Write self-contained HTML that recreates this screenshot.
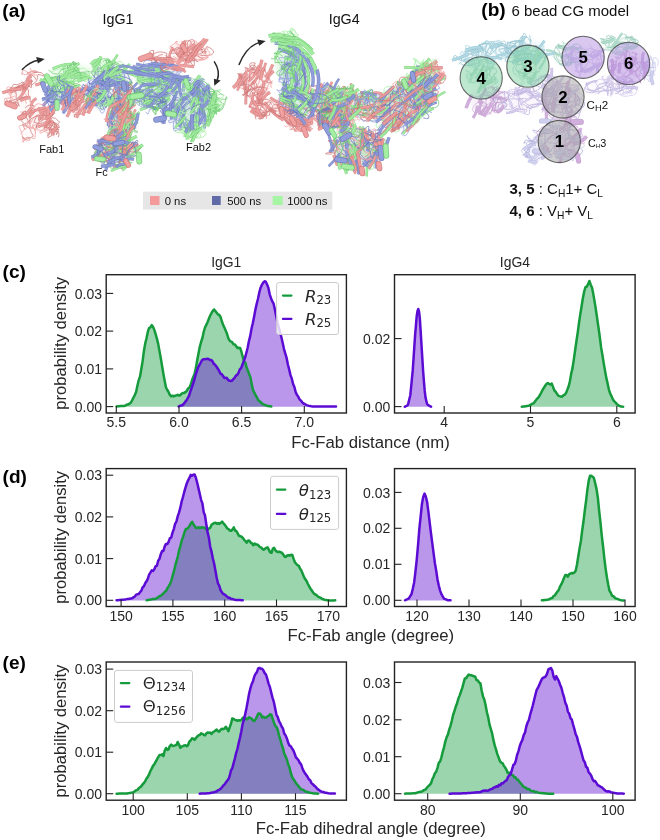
<!DOCTYPE html>
<html><head><meta charset="utf-8"><title>Figure</title>
<style>html,body{margin:0;padding:0;background:#fff}svg{display:block}text{font-family:"Liberation Sans",sans-serif}text.dj{font-family:"DejaVu Sans",sans-serif}</style>
</head><body>
<svg width="660" height="840" viewBox="0 0 660 840">
<rect width="660" height="840" fill="#fff"/>
<defs><filter id="bl" x="-20%" y="-20%" width="140%" height="140%"><feGaussianBlur stdDeviation="2.2"/></filter></defs>
<g id="under" filter="url(#bl)"><ellipse cx="19" cy="95" rx="12.8" ry="10.2" fill="#f2a2a2" fill-opacity="0.12" transform="rotate(-30 19 95)"/>
<ellipse cx="36" cy="116" rx="15.3" ry="11" fill="#f2a2a2" fill-opacity="0.15" transform="rotate(30 36 116)"/>
<ellipse cx="32" cy="80" rx="7.6" ry="8.5" fill="#f2a2a2" fill-opacity="0.05" transform="rotate(0 32 80)"/>
<ellipse cx="51" cy="128" rx="6.8" ry="6.8" fill="#f2a2a2" fill-opacity="0.15" transform="rotate(0 51 128)"/>
<ellipse cx="28" cy="133" rx="8.5" ry="5.1" fill="#f2a2a2" fill-opacity="0.05" transform="rotate(0 28 133)"/>
<ellipse cx="80" cy="100" rx="13.6" ry="12.8" fill="#f2a2a2" fill-opacity="0.22" transform="rotate(0 80 100)"/>
<ellipse cx="58" cy="96" rx="11.9" ry="13.6" fill="#93a0de" fill-opacity="0.22" transform="rotate(0 58 96)"/>
<ellipse cx="70" cy="74" rx="21.2" ry="9.3" fill="#a8f0a6" fill-opacity="0.22" transform="rotate(-10 70 74)"/>
<ellipse cx="64" cy="90" rx="11.9" ry="8.5" fill="#a8f0a6" fill-opacity="0.22" transform="rotate(0 64 90)"/>
<ellipse cx="108" cy="70" rx="18.7" ry="9.3" fill="#a8f0a6" fill-opacity="0.22" transform="rotate(0 108 70)"/>
<ellipse cx="112" cy="77" rx="17" ry="8.5" fill="#93a0de" fill-opacity="0.22" transform="rotate(0 112 77)"/>
<ellipse cx="96" cy="88" rx="11.9" ry="8.5" fill="#93a0de" fill-opacity="0.22" transform="rotate(0 96 88)"/>
<ellipse cx="100" cy="98" rx="10.2" ry="8.5" fill="#a8f0a6" fill-opacity="0.22" transform="rotate(0 100 98)"/>
<ellipse cx="100" cy="100" rx="10.2" ry="8.5" fill="#93a0de" fill-opacity="0.22" transform="rotate(0 100 100)"/>
<ellipse cx="122" cy="100" rx="11" ry="13.6" fill="#f2a2a2" fill-opacity="0.22" transform="rotate(0 122 100)"/>
<ellipse cx="124" cy="98" rx="11" ry="13.6" fill="#93a0de" fill-opacity="0.22" transform="rotate(0 124 98)"/>
<ellipse cx="124" cy="96" rx="11" ry="13.6" fill="#a8f0a6" fill-opacity="0.22" transform="rotate(0 124 96)"/>
<ellipse cx="120" cy="122" rx="12.8" ry="15.3" fill="#f2a2a2" fill-opacity="0.22" transform="rotate(0 120 122)"/>
<ellipse cx="122" cy="122" rx="12.8" ry="15.3" fill="#93a0de" fill-opacity="0.22" transform="rotate(0 122 122)"/>
<ellipse cx="121" cy="122" rx="12.8" ry="15.3" fill="#a8f0a6" fill-opacity="0.22" transform="rotate(0 121 122)"/>
<ellipse cx="116" cy="150" rx="18.7" ry="14.4" fill="#f2a2a2" fill-opacity="0.22" transform="rotate(0 116 150)"/>
<ellipse cx="116" cy="150" rx="18.7" ry="14.4" fill="#93a0de" fill-opacity="0.22" transform="rotate(0 116 150)"/>
<ellipse cx="117" cy="151" rx="19.6" ry="15.3" fill="#a8f0a6" fill-opacity="0.22" transform="rotate(0 117 151)"/>
<ellipse cx="190" cy="51" rx="17.8" ry="9.3" fill="#f2a2a2" fill-opacity="0.25" transform="rotate(10 190 51)"/>
<ellipse cx="168" cy="62" rx="17" ry="5.1" fill="#f2a2a2" fill-opacity="0.22" transform="rotate(15 168 62)"/>
<ellipse cx="158" cy="73" rx="23.8" ry="7.6" fill="#93a0de" fill-opacity="0.22" transform="rotate(8 158 73)"/>
<ellipse cx="158" cy="78" rx="23.8" ry="8.5" fill="#a8f0a6" fill-opacity="0.22" transform="rotate(8 158 78)"/>
<ellipse cx="150" cy="95" rx="13.6" ry="11.9" fill="#93a0de" fill-opacity="0.22" transform="rotate(0 150 95)"/>
<ellipse cx="152" cy="97" rx="13.6" ry="11.9" fill="#a8f0a6" fill-opacity="0.22" transform="rotate(0 152 97)"/>
<ellipse cx="184" cy="105" rx="21.2" ry="22.9" fill="#93a0de" fill-opacity="0.22" transform="rotate(0 184 105)"/>
<ellipse cx="196" cy="106" rx="20.4" ry="22.9" fill="#a8f0a6" fill-opacity="0.22" transform="rotate(0 196 106)"/>
<ellipse cx="216" cy="101" rx="7.6" ry="10.2" fill="#a8f0a6" fill-opacity="0.12" transform="rotate(0 216 101)"/>
<ellipse cx="202" cy="90" rx="7.6" ry="8.5" fill="#93a0de" fill-opacity="0.22" transform="rotate(0 202 90)"/>
<ellipse cx="190" cy="129" rx="12.8" ry="6.8" fill="#a8f0a6" fill-opacity="0.22" transform="rotate(0 190 129)"/>
<ellipse cx="255" cy="83" rx="16.1" ry="16.1" fill="#f2a2a2" fill-opacity="0.15" transform="rotate(0 255 83)"/>
<ellipse cx="262" cy="108" rx="11" ry="7.6" fill="#f2a2a2" fill-opacity="0.15" transform="rotate(0 262 108)"/>
<ellipse cx="292" cy="116" rx="23.8" ry="7.6" fill="#f2a2a2" fill-opacity="0.22" transform="rotate(32 292 116)"/>
<ellipse cx="296" cy="103" rx="17" ry="10.2" fill="#93a0de" fill-opacity="0.22" transform="rotate(32 296 103)"/>
<ellipse cx="298" cy="100" rx="17" ry="10.2" fill="#a8f0a6" fill-opacity="0.22" transform="rotate(32 298 100)"/>
<ellipse cx="290" cy="60" rx="15.3" ry="20.4" fill="#a8f0a6" fill-opacity="0.3" transform="rotate(0 290 60)"/>
<ellipse cx="294" cy="74" rx="13.6" ry="22.1" fill="#93a0de" fill-opacity="0.3" transform="rotate(0 294 74)"/>
<ellipse cx="286" cy="41" rx="12.8" ry="6" fill="#a8f0a6" fill-opacity="0.22" transform="rotate(0 286 41)"/>
<ellipse cx="318" cy="100" rx="17" ry="12.8" fill="#f2a2a2" fill-opacity="0.22" transform="rotate(0 318 100)"/>
<ellipse cx="330" cy="102" rx="20.4" ry="15.3" fill="#93a0de" fill-opacity="0.22" transform="rotate(0 330 102)"/>
<ellipse cx="336" cy="102" rx="22.1" ry="15.3" fill="#a8f0a6" fill-opacity="0.22" transform="rotate(0 336 102)"/>
<ellipse cx="345" cy="108" rx="13.6" ry="17" fill="#f2a2a2" fill-opacity="0.22" transform="rotate(0 345 108)"/>
<ellipse cx="335" cy="118" rx="15.3" ry="10.2" fill="#93a0de" fill-opacity="0.22" transform="rotate(0 335 118)"/>
<ellipse cx="338" cy="118" rx="15.3" ry="10.2" fill="#a8f0a6" fill-opacity="0.22" transform="rotate(0 338 118)"/>
<ellipse cx="325" cy="118" rx="11.9" ry="8.5" fill="#f2a2a2" fill-opacity="0.22" transform="rotate(0 325 118)"/>
<ellipse cx="368" cy="106" rx="12.8" ry="12.8" fill="#f2a2a2" fill-opacity="0.06" transform="rotate(0 368 106)"/>
<ellipse cx="368" cy="106" rx="12.8" ry="12.8" fill="#93a0de" fill-opacity="0.06" transform="rotate(0 368 106)"/>
<ellipse cx="366" cy="106" rx="12.8" ry="12.8" fill="#a8f0a6" fill-opacity="0.06" transform="rotate(0 366 106)"/>
<ellipse cx="357" cy="148" rx="23.8" ry="17.8" fill="#f2a2a2" fill-opacity="0.22" transform="rotate(0 357 148)"/>
<ellipse cx="358" cy="148" rx="24.6" ry="17.8" fill="#93a0de" fill-opacity="0.22" transform="rotate(0 358 148)"/>
<ellipse cx="358" cy="150" rx="24.6" ry="18.7" fill="#a8f0a6" fill-opacity="0.22" transform="rotate(0 358 150)"/>
<ellipse cx="406" cy="102" rx="32.3" ry="19.6" fill="#f2a2a2" fill-opacity="0.22" transform="rotate(-42 406 102)"/>
<ellipse cx="407" cy="103" rx="32.3" ry="19.6" fill="#93a0de" fill-opacity="0.22" transform="rotate(-42 407 103)"/>
<ellipse cx="408" cy="100" rx="33.1" ry="20.4" fill="#a8f0a6" fill-opacity="0.22" transform="rotate(-42 408 100)"/>
<ellipse cx="432" cy="76" rx="10.2" ry="10.2" fill="#f2a2a2" fill-opacity="0.15" transform="rotate(0 432 76)"/>
<ellipse cx="424" cy="70" rx="11.9" ry="9.3" fill="#a8f0a6" fill-opacity="0.15" transform="rotate(0 424 70)"/></g>
<g id="proteins"><g fill="none" stroke-opacity="0.82"><path d="M338.9 96Q341.4 98.3 341.1 101.6Q343.4 106.1 346.9 109.7Q347.4 113.9 351.2 115.9Q354 111.3 359.3 111.8Q363.6 111.2 357.5 112.1M329.7 109.8Q334.7 112.3 340.3 111.8Q341.5 114.6 343.7 116.6Q350.4 115.5 356.4 112.5Q360 115.5 356.7 111.9M331.7 104.9Q330.2 101.8 335.1 102.5Q335.7 107.5 336.8 112.4Q335.3 118.8 336.6 117.4Q338.3 113.9 342 113Q341.5 109 338.5 106.4" stroke="#cf7878" stroke-width="0.9" stroke-linecap="round"/><path d="M351.5 96.8Q353.7 93.8 352.4 98.9Q348.9 94.4 351.1 89.1Q349.3 85.5 346 92.8Q349.1 95.2 348.7 99.2" stroke="#f2a2a2" stroke-width="0.9" stroke-linecap="round"/><path d="M343.3 112.9Q348.8 106.5 352.5 99" stroke="#cf7878" stroke-width="3.2"/><path d="M343.3 112.9Q348.8 106.5 352.5 99" stroke="#f2a2a2" stroke-width="2.2"/><path d="M341.9 130.6Q343.7 123.8 349.5 119.8" stroke="#cf7878" stroke-width="2.5"/><path d="M341.9 130.6Q343.7 123.8 349.5 119.8" stroke="#f2a2a2" stroke-width="1.5"/><path d="M345.8 109.8Q346.5 102.5 351.5 97" stroke="#cf7878" stroke-width="2.8"/><path d="M345.8 109.8Q346.5 102.5 351.5 97" stroke="#f2a2a2" stroke-width="1.8"/><path d="M343 134.6Q342 125.4 347.3 117.8" stroke="#cf7878" stroke-width="3.5"/><path d="M343 134.6Q342 125.4 347.3 117.8" stroke="#f2a2a2" stroke-width="2.5"/></g>
<g fill="none" stroke-opacity="0.82"><path d="M320.2 94.8Q320.9 91.4 321.7 88.1Q318.9 81.1 321.1 84.9Q315.7 86.3 310.2 85.8M320.1 99.6Q317.3 97.8 317.3 94.5Q321.4 93.2 325.7 93.9Q326.9 100.6 328.2 107.3M315.4 110.4Q320.9 110.6 321.2 109.4Q318 109.1 316.2 111.7Q318.8 116.1 319.2 112.6Q321.2 106.2 324 100.1M336.7 98.1Q335.9 102.3 330.8 102.9Q331.6 99.1 330.4 95.3Q334.5 94.1 330.4 97.1Q326.9 99 324 101.6Q318.5 104 315.1 108.8Q314.5 114.2 318.6 110.3" stroke="#cf7878" stroke-width="0.9" stroke-linecap="round"/><path d="M308.4 107.1Q312.9 105.4 317 102.9Q320.4 104.6 320.5 108.4Q324.6 114.5 320.5 112.9Q327.7 111.3 334.2 108Q337.1 112.7 332.8 107.2" stroke="#f2a2a2" stroke-width="0.9" stroke-linecap="round"/><path d="M326.6 113.6Q329.7 108.7 334.7 105.8" stroke="#cf7878" stroke-width="3.4"/><path d="M326.6 113.6Q329.7 108.7 334.7 105.8" stroke="#f2a2a2" stroke-width="2.4"/><path d="M322.9 105.8Q328.9 100 337.1 99.4" stroke="#cf7878" stroke-width="3.3"/><path d="M322.9 105.8Q328.9 100 337.1 99.4" stroke="#f2a2a2" stroke-width="2.3"/><path d="M324.4 97.9Q329 90.2 331.9 81.8" stroke="#cf7878" stroke-width="2.6"/><path d="M324.4 97.9Q329 90.2 331.9 81.8" stroke="#f2a2a2" stroke-width="1.6"/></g>
<g fill="none" stroke-opacity="0.82"><path d="M361.4 104.6Q366 104.8 368.9 101.4Q372.4 100.5 375.6 102.3Q379.5 96 379.2 98.9" stroke="#6b78bc" stroke-width="0.9" stroke-linecap="round"/><path d="M373.2 98.8Q366.4 101 361.3 96Q359.4 93.3 362.5 96.5Q366.2 101.2 372.2 101.9Q376.3 101 380.5 101.9Q380.1 106.7 379.7 111.6M360 102.2Q364.4 106 366.2 111.6Q370.8 117.1 377.8 118.2Q377 125.5 369.5 119.9M354.8 107.5Q350.8 108.9 356.6 110Q359.9 108.1 362.7 105.6Q364.9 108 367.3 110.3Q375 111.4 382.7 111.7Q385.1 107.8 380.9 106.3Q378.1 104 375.4 101.5" stroke="#93a0de" stroke-width="0.9" stroke-linecap="round"/><path d="M369.7 96.2Q376 99.2 382.9 100.5" stroke="#6b78bc" stroke-width="2.5"/><path d="M369.7 96.2Q376 99.2 382.9 100.5" stroke="#93a0de" stroke-width="1.5"/></g>
<g fill="none" stroke-opacity="0.82"><path d="M106.7 83Q100.5 85 101.5 83.4Q103.4 88 105.1 86.1Q102.3 82.7 98.1 81.2Q94.9 78.7 93 75Q88.8 70.7 95.2 71.1Q95.6 74.8 93.9 78.2M94.2 81Q90.7 82.8 97.3 79.1Q96.8 84.9 105.2 84.4Q98.4 85.9 101.1 85.4Q100.8 77.6 94.9 72.4M126.2 82.7Q127.1 85.9 120.6 84.2Q123.9 84 124.9 80.8Q128.7 81.6 123.7 81.3Q120.9 80.3 119.5 77.6Q119.9 71.8 116.7 70.4" stroke="#6b78bc" stroke-width="0.9" stroke-linecap="round"/><path d="M111.4 81.9Q115.1 86 116.4 84.4Q111 86.2 111.1 85.9Q117.3 85 123.4 85.9Q123.6 92.2 121.2 89.2Q117.5 88.7 114.1 85.9" stroke="#93a0de" stroke-width="0.9" stroke-linecap="round"/><path d="M110.2 81.5Q112.5 73.9 119 69.4" stroke="#6b78bc" stroke-width="3.4"/><path d="M110.2 81.5Q112.5 73.9 119 69.4" stroke="#93a0de" stroke-width="2.4"/><path d="M105.8 80.2Q107.8 71.3 113.5 64.3" stroke="#6b78bc" stroke-width="3.3"/><path d="M105.8 80.2Q107.8 71.3 113.5 64.3" stroke="#93a0de" stroke-width="2.3"/><path d="M107.8 88.4Q113.3 81.9 121.5 79.7" stroke="#6b78bc" stroke-width="3"/><path d="M107.8 88.4Q113.3 81.9 121.5 79.7" stroke="#93a0de" stroke-width="2"/></g>
<g fill="none" stroke-opacity="0.82"><path d="M125.7 129.1Q128 134.1 128.6 130.5Q129.8 124.8 125.3 121.1Q119.4 123.7 114.4 127.8Q110.2 127.8 107.1 125.1Q107.5 121.6 108.6 118.3M108.5 122.5Q111.2 125.4 115.1 125.1Q120.7 124.7 125.9 122.6Q131.3 124.3 134.5 128.9Q137.8 127.9 133.1 124.5" stroke="#6b78bc" stroke-width="0.9" stroke-linecap="round"/><path d="M117.7 129.4Q112.3 125.7 109 120.2Q110.7 115.5 113.6 115.6Q114.3 120 114.4 124.5Q118 126.8 120.9 129.9M127.1 123.1Q121.5 122.1 118.4 117.3Q114.5 117.6 111.3 115.6Q106.8 114.1 110.5 118.8Q111.8 111.1 112.7 112Q119.4 112.3 123.1 117.9" stroke="#93a0de" stroke-width="0.9" stroke-linecap="round"/><path d="M112.8 136.9Q117.4 130.8 120 123.6" stroke="#6b78bc" stroke-width="2.5"/><path d="M112.8 136.9Q117.4 130.8 120 123.6" stroke="#93a0de" stroke-width="1.5"/><path d="M116.5 118.1Q119.9 114.8 121.2 110.3" stroke="#6b78bc" stroke-width="3.3"/><path d="M116.5 118.1Q119.9 114.8 121.2 110.3" stroke="#93a0de" stroke-width="2.3"/><path d="M112.3 134Q116.7 130.8 116.1 125.3" stroke="#6b78bc" stroke-width="2.6"/><path d="M112.3 134Q116.7 130.8 116.1 125.3" stroke="#93a0de" stroke-width="1.6"/></g>
<g fill="none" stroke-opacity="0.82"><path d="M121.1 116.3Q121.4 111.6 124.4 108.1Q131.8 108.2 130.5 116.6Q128.1 114.1 128.2 110.5Q124.9 105.4 120.1 109.7Q125.5 115.3 133.3 115.3M113.2 131.7Q117.9 133.3 121.3 136.9Q129.1 135 129.2 132.8Q130.5 127.6 129.6 122.4M124.6 122.5Q126.9 124.7 128.3 127.5Q125.8 133.3 125.1 132.2Q121.3 129.1 121.5 124.2Q119.9 121.4 120.9 118.3Q125.5 114.1 131.6 112.5Q130.3 107.4 127.1 110.2" stroke="#cf7878" stroke-width="0.9" stroke-linecap="round"/><path d="M110 131.4Q111 127.6 109.4 123.9Q106 120.5 110.4 118.5Q114.1 124.8 121.4 124.5" stroke="#f2a2a2" stroke-width="0.9" stroke-linecap="round"/><path d="M106.4 122.1Q106.8 112 111.8 103.2" stroke="#cf7878" stroke-width="2.6"/><path d="M106.4 122.1Q106.8 112 111.8 103.2" stroke="#f2a2a2" stroke-width="1.6"/><path d="M130.9 128Q130.6 118 135.6 109.3" stroke="#cf7878" stroke-width="2.5"/><path d="M130.9 128Q130.6 118 135.6 109.3" stroke="#f2a2a2" stroke-width="1.5"/><path d="M119.6 133.2Q127.5 126.8 129.9 117" stroke="#cf7878" stroke-width="2.6"/><path d="M119.6 133.2Q127.5 126.8 129.9 117" stroke="#f2a2a2" stroke-width="1.6"/><path d="M123.4 140.5Q126.4 133.1 127 125.1" stroke="#cf7878" stroke-width="3.2"/><path d="M123.4 140.5Q126.4 133.1 127 125.1" stroke="#f2a2a2" stroke-width="2.2"/><path d="M123 138.2Q123 131.1 126.8 125" stroke="#cf7878" stroke-width="2.7"/><path d="M123 138.2Q123 131.1 126.8 125" stroke="#f2a2a2" stroke-width="1.7"/></g>
<g fill="none" stroke-opacity="0.82"><path d="M80 106.3Q79.6 111.6 75.1 114.4Q74.3 120.1 74.1 114.4Q81 114.9 87.3 112Q89.1 108.1 88.5 103.8M70.5 92.6Q71 85.6 73.9 87.1Q77.2 92.3 83.3 92.2Q83.6 86.8 82.3 88.8Q84.1 95.5 83.3 102.4M70.3 88.8Q73.8 83.9 79.2 88.2Q81.6 94.3 81.2 100.9Q75.1 102.4 70.1 98.8Q66.8 93.7 68.6 95.2Q74.3 96.3 77.8 91.7Q81.2 93.4 84.9 94" stroke="#cf7878" stroke-width="0.9" stroke-linecap="round"/><path d="M72.3 112Q80.1 104.8 84.3 95.2" stroke="#cf7878" stroke-width="2.9"/><path d="M72.3 112Q80.1 104.8 84.3 95.2" stroke="#f2a2a2" stroke-width="1.9"/><path d="M82.8 115.5Q85.7 108.8 87 101.6" stroke="#cf7878" stroke-width="3.2"/><path d="M82.8 115.5Q85.7 108.8 87 101.6" stroke="#f2a2a2" stroke-width="2.2"/><path d="M88.9 108.8Q92.8 98.6 97 88.6" stroke="#cf7878" stroke-width="3.1"/><path d="M88.9 108.8Q92.8 98.6 97 88.6" stroke="#f2a2a2" stroke-width="2.1"/><path d="M90.3 107.2Q97.4 99.9 99.6 90" stroke="#cf7878" stroke-width="2.7"/><path d="M90.3 107.2Q97.4 99.9 99.6 90" stroke="#f2a2a2" stroke-width="1.7"/><path d="M69.2 110.5Q75.9 101.5 77.8 90.5" stroke="#cf7878" stroke-width="3.5"/><path d="M69.2 110.5Q75.9 101.5 77.8 90.5" stroke="#f2a2a2" stroke-width="2.5"/><path d="M62.1 110.4Q66 102.1 69.3 93.7" stroke="#cf7878" stroke-width="2.9"/><path d="M62.1 110.4Q66 102.1 69.3 93.7" stroke="#f2a2a2" stroke-width="1.9"/></g>
<g fill="none" stroke-opacity="0.82"><path d="M184.5 126.4Q177.9 129.2 182.8 133.4Q189.7 129.8 195.5 135Q195 138.5 192.6 136.8Q198.6 137.9 196.5 137.8Q199.8 136 198 133.9M200.4 127.4Q203.6 130.5 198.1 132.6Q195.5 128.5 190.8 127Q188 120.2 184.4 123.6M188.4 129.6Q195.2 130.4 200.5 134.6Q201.4 139.4 195.7 137.9Q196.6 134.4 194.7 131.5" stroke="#a8f0a6" stroke-width="0.9" stroke-linecap="round"/><path d="M190.3 135.9Q195.7 133.6 199.7 129.1" stroke="#70c872" stroke-width="3"/><path d="M190.3 135.9Q195.7 133.6 199.7 129.1" stroke="#a8f0a6" stroke-width="2"/><path d="M187.5 139.5Q186 132.5 188.7 125.8" stroke="#70c872" stroke-width="3.3"/><path d="M187.5 139.5Q186 132.5 188.7 125.8" stroke="#a8f0a6" stroke-width="2.3"/></g>
<g fill="none" stroke-opacity="0.82"><path d="M181.4 59.5Q184.7 59.3 187.1 61.4Q186.5 64.7 187.8 61.2Q184.8 60.5 183.5 57.6Q185.3 52.4 182 48Q178.3 47.8 176.4 50.9Q175.1 55.4 179.5 56M200.7 55.4Q206.3 55.9 211.8 54.8Q217.2 50.4 206.8 46.5Q204.8 53 198.1 54.6M194.3 59.2Q194.8 62.8 194.6 59.4Q193.4 54.6 189 52.3Q186.4 47.8 187.5 42.6Q189.6 39.3 191.5 42.4Q190 45.8 187.1 48.2M183.8 48.9Q180.7 47.8 177.4 47.3Q174.3 49.1 171.5 51.3Q168.9 54.3 175 52.9Q177.4 56.6 183.2 57M172.6 51Q177.2 48.8 182.1 47.5Q186.4 53.9 188.4 61.4Q190.7 64.1 192.5 58.5Q186.6 59.1 180.9 60.4Q179.6 55.5 176.7 51.4" stroke="#cf7878" stroke-width="0.9" stroke-linecap="round"/><path d="M187.7 56.6Q182.2 51.6 179 45Q172.1 41.9 177.6 41.3Q174.3 44 170.6 46Q167.7 49.5 174 50.8Q178.7 51.3 183.2 52.3" stroke="#f2a2a2" stroke-width="0.9" stroke-linecap="round"/><path d="M177.4 64.2Q180.6 57.1 185.4 50.9" stroke="#cf7878" stroke-width="3.5"/><path d="M177.4 64.2Q180.6 57.1 185.4 50.9" stroke="#f2a2a2" stroke-width="2.5"/><path d="M180 51.6Q184.3 47.5 184.8 41.6" stroke="#cf7878" stroke-width="3"/><path d="M180 51.6Q184.3 47.5 184.8 41.6" stroke="#f2a2a2" stroke-width="2"/><path d="M191.9 58.3Q196.4 54.1 198.7 48.2" stroke="#cf7878" stroke-width="3.4"/><path d="M191.9 58.3Q196.4 54.1 198.7 48.2" stroke="#f2a2a2" stroke-width="2.4"/><path d="M183.5 66.3Q188.5 59.8 191 52.1" stroke="#cf7878" stroke-width="2.8"/><path d="M183.5 66.3Q188.5 59.8 191 52.1" stroke="#f2a2a2" stroke-width="1.8"/></g>
<g fill="none" stroke-opacity="0.92"><path d="M292.7 36.8 A46 46 0 0 1 312.2 50.4" stroke="#70c872" stroke-width="3.3"/><path d="M292.7 36.8 A46 46 0 0 1 312.2 50.4" stroke="#a8f0a6" stroke-width="2.3"/></g>
<g fill="none" stroke-opacity="0.82"><path d="M147.9 76.1Q150.1 79.1 153.2 81.4Q158.2 84 161.7 88.4Q167.1 86.2 172.5 84Q171.6 79.8 173.7 76.2Q177.1 76.4 180.1 78.1Q187.8 79.8 180.6 78.7" stroke="#70c872" stroke-width="0.9" stroke-linecap="round"/><path d="M144.6 80.9Q149.4 77.4 154.9 79.4Q161.7 79.3 165 85.2Q161.9 88.7 157.7 85.3M163.7 75.5Q160.1 76.6 159.1 80.1Q152.4 78.1 145.5 76.7Q142.3 69.6 151.2 69Q148.4 72.4 145.4 75.6Q140.4 71.3 145.7 70.4" stroke="#a8f0a6" stroke-width="0.9" stroke-linecap="round"/><path d="M165.3 75Q171.8 78 178.8 79.2" stroke="#70c872" stroke-width="3.1"/><path d="M165.3 75Q171.8 78 178.8 79.2" stroke="#a8f0a6" stroke-width="2.1"/><path d="M125.2 71Q133.8 75.9 143.7 76.1" stroke="#70c872" stroke-width="3.3"/><path d="M125.2 71Q133.8 75.9 143.7 76.1" stroke="#a8f0a6" stroke-width="2.3"/><path d="M158.6 79.6Q167.8 82.9 177.4 83.5" stroke="#70c872" stroke-width="3.5"/><path d="M158.6 79.6Q167.8 82.9 177.4 83.5" stroke="#a8f0a6" stroke-width="2.5"/><path d="M137.9 79.1Q149.2 78 160.1 81" stroke="#70c872" stroke-width="2.8"/><path d="M137.9 79.1Q149.2 78 160.1 81" stroke="#a8f0a6" stroke-width="1.8"/></g>
<g fill="none" stroke-opacity="0.82"><path d="M203.1 92.8Q198.2 93.1 193.3 93.5Q190.8 97 192.8 94.5Q197.7 96.2 201.8 99.5Q204.7 98.5 207 96.6M202.5 95.3Q202.1 91.4 203.1 87.5Q202.3 79.7 201.7 79.1Q196.7 81.3 193.4 85.6Q185.7 87 189.3 84.5Q196.6 85.3 199.9 91.8Q193.8 96 197.3 98" stroke="#6b78bc" stroke-width="0.9" stroke-linecap="round"/><path d="M198.2 87.5Q199.5 81.9 199.6 81.9Q202.3 86.7 207.7 87.2Q209.3 91.6 208.3 93Q204.5 92.6 202.1 95.5Q199.6 101.5 196.6 97.5" stroke="#93a0de" stroke-width="0.9" stroke-linecap="round"/><path d="M203.1 90.8Q206.9 89.8 210 87.4" stroke="#6b78bc" stroke-width="2.7"/><path d="M203.1 90.8Q206.9 89.8 210 87.4" stroke="#93a0de" stroke-width="1.7"/><path d="M191.2 88.2Q193 82.2 199 80.4" stroke="#6b78bc" stroke-width="3.4"/><path d="M191.2 88.2Q193 82.2 199 80.4" stroke="#93a0de" stroke-width="2.4"/></g>
<g fill="none" stroke-opacity="0.82"><path d="M284.9 63.9Q284.1 70.7 285.7 77.3Q283.3 79.6 284.5 82.7Q289.1 81.8 292.3 78.3Q297.2 80 299.3 84.8M283.5 81.6Q283 87.7 282.9 93.9Q289.6 93.9 294.6 98.5Q289.5 104.2 287 93.8Q290.9 91.8 295.2 91.9Q299.7 90.8 301.5 86.6Q306 81.8 305.1 78M308.4 75.8Q307 70.9 304.2 66.6Q303.1 61.1 307.4 57.6Q312.1 58.7 307 66.8" stroke="#6b78bc" stroke-width="0.9" stroke-linecap="round"/><path d="M304.8 65.9Q302.1 68.5 301.7 72.3Q301.3 76.3 300.9 80.3Q297.8 80 294.7 80.2Q292.7 83.5 290 86.3Q285.7 83.1 281.8 79.4M287.2 71.7Q288.3 77.4 288.9 83.2Q286.5 90.1 289.1 96.9Q295.8 97.7 298.7 90.1Q294.7 96 296 91.2M299.6 74.9Q295.4 71.6 290.6 73.8Q288.7 69.6 287.7 65.1Q290.5 61.9 292.2 58.1Q295.6 53.8 301.1 54M290.7 71.9Q291.6 68.8 294.7 68.4Q296.5 72.6 300.1 75.4Q303.6 77.5 305 81.3Q299.9 85.4 296 90.7Q288.4 89.5 282.1 93.9" stroke="#93a0de" stroke-width="0.9" stroke-linecap="round"/><path d="M292.8 72.8Q297.1 69.1 301.8 66.1" stroke="#6b78bc" stroke-width="2.6"/><path d="M292.8 72.8Q297.1 69.1 301.8 66.1" stroke="#93a0de" stroke-width="1.6"/></g>
<g fill="none" stroke-opacity="0.82"><path d="M191.8 101.8Q198.6 105.5 205.6 102.3Q204.5 97.4 199.7 95.9Q199.9 91.4 204.1 89.8Q205.2 92.7 203.7 95.4Q209.4 100.1 203.7 102.4M193.6 107.8Q197.9 114.1 197.5 121.8Q193.9 127.6 187.1 127.4Q186.1 133.7 184.3 125.9Q178.5 121.4 180.4 114.4Q181.8 109.6 186.1 107.3M173.4 107.5Q174.9 110.6 177.4 113Q175.5 115.9 176.5 119.2Q174.7 126.6 179.3 122.4Q180.6 118.7 184.5 118.6" stroke="#6b78bc" stroke-width="0.9" stroke-linecap="round"/><path d="M191.3 99Q184.5 101.7 178.3 97.8Q175.3 97.8 172.9 95.9Q170.3 90.1 164.1 89.3Q161.6 96.4 161.5 103.9Q162 111.7 167.7 117.2M182 129.7Q178.1 128.9 174.2 127.8Q171.7 132.2 178.3 123.8Q172.5 119 172.3 111.5Q177 105.1 182.4 99.4Q187.7 101.1 192.1 97.9Q197 93.5 199.6 87.5M186 125.2Q190.8 121.6 196 118.4Q195.4 115.3 195.5 112.1Q190.9 110.7 188 106.8M193.8 89.5Q197.5 93.2 202.7 92.4Q206.7 96.2 200.9 98.8Q197.7 99.8 195.7 102.4Q192.2 103.9 190.4 107.2Q194.7 112.2 200.6 115.2Q202.2 112.3 202.9 109" stroke="#93a0de" stroke-width="0.9" stroke-linecap="round"/><path d="M183.3 91.6Q183.2 85 184.4 78.5" stroke="#6b78bc" stroke-width="2.5"/><path d="M183.3 91.6Q183.2 85 184.4 78.5" stroke="#93a0de" stroke-width="1.5"/><path d="M179.1 113.2Q183.2 105.4 190.7 100.9" stroke="#6b78bc" stroke-width="2.8"/><path d="M179.1 113.2Q183.2 105.4 190.7 100.9" stroke="#93a0de" stroke-width="1.8"/><path d="M163.3 101.5Q164.1 93.1 169.7 86.7" stroke="#6b78bc" stroke-width="3"/><path d="M163.3 101.5Q164.1 93.1 169.7 86.7" stroke="#93a0de" stroke-width="2"/><path d="M186 128.6Q193 121.7 196.2 112.4" stroke="#6b78bc" stroke-width="3.4"/><path d="M186 128.6Q193 121.7 196.2 112.4" stroke="#93a0de" stroke-width="2.4"/><path d="M164 123.7Q163.7 113.9 165.7 104.3" stroke="#6b78bc" stroke-width="3.2"/><path d="M164 123.7Q163.7 113.9 165.7 104.3" stroke="#93a0de" stroke-width="2.2"/><path d="M204.1 128.4Q206.5 118.8 203 109.6" stroke="#6b78bc" stroke-width="3.1"/><path d="M204.1 128.4Q206.5 118.8 203 109.6" stroke="#93a0de" stroke-width="2.1"/><path d="M192.2 112.4Q194.2 102.1 194.3 91.6" stroke="#6b78bc" stroke-width="3"/><path d="M192.2 112.4Q194.2 102.1 194.3 91.6" stroke="#93a0de" stroke-width="2"/><path d="M188.2 131.9Q194.5 125.5 199.7 118.2" stroke="#6b78bc" stroke-width="3"/><path d="M188.2 131.9Q194.5 125.5 199.7 118.2" stroke="#93a0de" stroke-width="2"/><path d="M197.7 126.9Q198 118.5 199.7 110.2" stroke="#6b78bc" stroke-width="3.5"/><path d="M197.7 126.9Q198 118.5 199.7 110.2" stroke="#93a0de" stroke-width="2.5"/></g>
<g fill="none" stroke-opacity="0.82"><path d="M285.9 108.2Q281.3 110.3 286.6 110.4Q293.8 108.1 301.4 108.5Q300.9 114.7 295.8 112.1Q300.8 113.4 302.9 118Q302.6 123.9 300.1 119.1M289.3 104.4Q287.6 96.7 283.2 90.2Q285.2 87.9 288.2 87.5Q288.8 82 291.6 87.1M293.4 111.9Q296.7 108.1 300.4 104.7Q306.5 103.7 312.6 105.2Q316.4 100.8 311.7 101.1Q309.2 99.1 308 96.1Q306.1 92.4 299.9 95.4Q303.3 95.5 301.8 96.9" stroke="#6b78bc" stroke-width="0.9" stroke-linecap="round"/><path d="M284.4 96.4Q282.2 90.8 288.8 92.2Q284.8 91.2 281.8 88.4Q285.3 83.9 290.7 88.3Q289.8 92.5 292.8 95.3Q296 96.1 299.2 96.1Q302.1 95.5 305.2 95.2M301.8 97.8Q299.6 94.3 295.4 93.9Q292 92.7 290.4 89.5Q286.9 85.2 291.3 89.1Q291.6 96.8 291.6 104.5Q292.9 107.9 294.6 111.1" stroke="#93a0de" stroke-width="0.9" stroke-linecap="round"/><path d="M287.8 87.5Q291.2 91.8 293.9 96.8" stroke="#6b78bc" stroke-width="3.1"/><path d="M287.8 87.5Q291.2 91.8 293.9 96.8" stroke="#93a0de" stroke-width="2.1"/><path d="M301.7 99.1Q309.7 101.5 318.1 102.7" stroke="#6b78bc" stroke-width="3.1"/><path d="M301.7 99.1Q309.7 101.5 318.1 102.7" stroke="#93a0de" stroke-width="2.1"/><path d="M284 92.1Q288.5 99.4 292.9 106.7" stroke="#6b78bc" stroke-width="2.8"/><path d="M284 92.1Q288.5 99.4 292.9 106.7" stroke="#93a0de" stroke-width="1.8"/></g>
<g fill="none" stroke-opacity="0.82"><path d="M92 72Q97 70.3 101.5 67.4Q103.5 69.7 104.7 72.6Q103.4 78.4 103.6 78.2Q96.9 74.1 97.3 74.8M97.3 78.7Q93.9 86 97.3 83.8Q100.6 78.3 102.3 72.1Q101.2 66.2 98.1 61.1Q103.1 57.1 108.1 60Q109.7 64.6 112.4 68.7M103.5 61.2Q107 57 109.8 59.9Q109.4 66.2 108.4 72.3Q102.6 71.3 96.8 71.6" stroke="#70c872" stroke-width="0.9" stroke-linecap="round"/><path d="M105.1 79.9Q106 83.6 109 78.8Q110.3 71.3 117.1 68Q115.9 62.2 115.4 62.9Q112.1 67.4 106.5 67.4Q105.1 61.7 103.7 62.5M92.2 63.5Q93 57.9 101.2 60.3Q94.5 60.7 95.8 64.9Q100.5 69.6 99.1 76Q105.2 80 111.3 75.9Q117 77.3 122.8 78.8" stroke="#a8f0a6" stroke-width="0.9" stroke-linecap="round"/><path d="M93.1 71.6Q98.7 66.2 99.8 58.5" stroke="#70c872" stroke-width="3.5"/><path d="M93.1 71.6Q98.7 66.2 99.8 58.5" stroke="#a8f0a6" stroke-width="2.5"/><path d="M100.3 74.5Q108.5 70.5 111.8 62" stroke="#70c872" stroke-width="2.5"/><path d="M100.3 74.5Q108.5 70.5 111.8 62" stroke="#a8f0a6" stroke-width="1.5"/><path d="M107.6 85.1Q114.9 80.5 121.7 75.2" stroke="#70c872" stroke-width="2.9"/><path d="M107.6 85.1Q114.9 80.5 121.7 75.2" stroke="#a8f0a6" stroke-width="1.9"/><path d="M102.4 81.1Q105.1 75.2 110.7 71.9" stroke="#70c872" stroke-width="2.9"/><path d="M102.4 81.1Q105.1 75.2 110.7 71.9" stroke="#a8f0a6" stroke-width="1.9"/></g>
<g fill="none" stroke-opacity="0.82"><path d="M59.4 83.4Q54.1 84.4 51.3 89Q47.9 94.2 50.8 93.6Q53.6 98.7 56.7 98.5Q51.3 94.4 52.8 87.8Q52.7 83.5 55.7 84" stroke="#70c872" stroke-width="0.9" stroke-linecap="round"/><path d="M69.4 90.4Q72.2 86.6 72.7 81.9Q76.7 75.3 69.7 77Q74.2 82.1 74.2 85.1" stroke="#a8f0a6" stroke-width="0.9" stroke-linecap="round"/><path d="M53.3 88.4Q58.1 84.8 59.3 78.9" stroke="#70c872" stroke-width="2.5"/><path d="M53.3 88.4Q58.1 84.8 59.3 78.9" stroke="#a8f0a6" stroke-width="1.5"/><path d="M48.5 92.7Q52.1 87.6 58.4 87" stroke="#70c872" stroke-width="2.9"/><path d="M48.5 92.7Q52.1 87.6 58.4 87" stroke="#a8f0a6" stroke-width="1.9"/></g>
<g fill="none" stroke-opacity="0.82"><path d="M164.1 89.4Q168.9 94.2 166.7 100.7Q165.3 103.9 162.6 106.2Q159.2 105 155.8 103.8M162.5 88.1Q159.7 92.9 161.9 98.1Q167.9 99.8 164.4 96.2Q166.1 100.1 164.8 104.1Q162.8 108.5 158 108.5Q153.9 107.5 150.1 105.8Q149.9 101 149 96.3M161.2 86.3Q155.8 89.4 150.5 92.7Q145.1 96.4 140.6 101.1Q143.9 104.5 148.4 103M153.8 109.7Q151.7 105.6 152.2 101Q159.7 100.1 166.6 102.9Q166.1 110.1 162.9 108.4" stroke="#70c872" stroke-width="0.9" stroke-linecap="round"/><path d="M146.8 104.2Q152.1 102.8 156.1 99.1" stroke="#70c872" stroke-width="2.6"/><path d="M146.8 104.2Q152.1 102.8 156.1 99.1" stroke="#a8f0a6" stroke-width="1.6"/><path d="M160.1 108.1Q163.8 100.4 170 94.6" stroke="#70c872" stroke-width="3.3"/><path d="M160.1 108.1Q163.8 100.4 170 94.6" stroke="#a8f0a6" stroke-width="2.3"/><path d="M158 105.7Q165.4 104.5 170 98.6" stroke="#70c872" stroke-width="2.5"/><path d="M158 105.7Q165.4 104.5 170 98.6" stroke="#a8f0a6" stroke-width="1.5"/></g>
<g fill="none" stroke-opacity="0.82"><path d="M70.5 73.6Q70.5 68.5 66.6 65.3Q61.4 68.9 58 74.2Q52.3 74.8 48.6 70.3M64 72.3Q68 70.4 67.6 66Q63.8 62.5 64.5 64.6Q61.7 71.5 66.6 77.2Q64.2 83.8 57.5 86.1" stroke="#70c872" stroke-width="0.9" stroke-linecap="round"/><path d="M92.8 73.5Q91 80.5 84.7 81.7Q80.5 76.2 73.7 74.8Q68.1 75.3 62.5 74.4M53.3 80.8Q47.2 79.1 52.6 76.5Q54.4 79.4 57.8 80.3Q60.1 73.8 66.7 72.1M51.2 76.7Q51.2 83.4 55.3 81.8Q59 76.2 64.9 72.8Q64.4 66.1 64.4 65.8Q66.5 70.9 66.4 76.4" stroke="#a8f0a6" stroke-width="0.9" stroke-linecap="round"/><path d="M42.8 79.7Q50 80.5 56.7 77.9" stroke="#70c872" stroke-width="3.5"/><path d="M42.8 79.7Q50 80.5 56.7 77.9" stroke="#a8f0a6" stroke-width="2.5"/><path d="M46.7 78.7Q57.2 78.2 67.6 77.4" stroke="#70c872" stroke-width="3"/><path d="M46.7 78.7Q57.2 78.2 67.6 77.4" stroke="#a8f0a6" stroke-width="2"/><path d="M52.6 68.8Q61.7 64.2 72 64.3" stroke="#70c872" stroke-width="3.1"/><path d="M52.6 68.8Q61.7 64.2 72 64.3" stroke="#a8f0a6" stroke-width="2.1"/><path d="M77.1 78.8Q84.3 75.4 91.6 78.4" stroke="#70c872" stroke-width="2.7"/><path d="M77.1 78.8Q84.3 75.4 91.6 78.4" stroke="#a8f0a6" stroke-width="1.7"/><path d="M64.4 76.7Q73.7 75.7 83.1 76.2" stroke="#70c872" stroke-width="2.9"/><path d="M64.4 76.7Q73.7 75.7 83.1 76.2" stroke="#a8f0a6" stroke-width="1.9"/></g>
<g fill="none" stroke-opacity="0.82"><path d="M423.6 85.4Q416.5 81.9 408.9 79.6Q406.2 86.6 399.2 89.5Q395.3 94.7 388.7 94.4M388.3 100.1Q384.6 107.2 378.4 112.2Q378.5 115.4 381.4 116.7Q378.6 123.6 388.3 118.1" stroke="#70c872" stroke-width="0.9" stroke-linecap="round"/><path d="M435.6 88Q432.8 89.4 432.9 92.5Q436.6 94.1 438.1 97.8Q437.2 103.6 428.2 104.4Q420.4 103.5 416.6 96.8M417.3 111.1Q410.6 115.4 403 117.9Q401.3 124.9 398.5 131.6Q395.1 132.6 391.8 131.2Q389.2 136.1 398.6 124.5Q401.9 120.2 405.2 116Q410.9 120.7 412.4 115.9M383.5 98.6Q387.3 103.5 388.6 109.4Q396.5 109.3 400.5 116.1Q404.2 117.1 406.3 120.3Q412.2 118.1 416.4 113.6M387.6 106.4Q384.7 102.5 382.2 98.3Q376.9 97.1 386.7 96.4Q389.6 98.1 392.9 97M378.1 111Q381.8 106.4 383.2 100.8Q383.3 92.9 392 91.2Q393.5 95.2 395.9 98.7Q403.4 101 405.2 108.6Q411.9 109.9 414.7 116.2Q413.8 123.8 413.4 118.5M398.6 106.6Q393.2 104.2 392 98.4Q385.6 98.7 380.3 95Q376.9 90.8 386.3 93.4Q392.9 95.4 399 92.3" stroke="#a8f0a6" stroke-width="0.9" stroke-linecap="round"/><path d="M402.7 133.9Q409 125.7 417.4 119.5" stroke="#70c872" stroke-width="2.6"/><path d="M402.7 133.9Q409 125.7 417.4 119.5" stroke="#a8f0a6" stroke-width="1.6"/><path d="M414.4 106Q418.9 97.4 427 91.9" stroke="#70c872" stroke-width="3.1"/><path d="M414.4 106Q418.9 97.4 427 91.9" stroke="#a8f0a6" stroke-width="2.1"/><path d="M390.4 126.1Q396.4 118.5 404.7 113.6" stroke="#70c872" stroke-width="2.9"/><path d="M390.4 126.1Q396.4 118.5 404.7 113.6" stroke="#a8f0a6" stroke-width="1.9"/><path d="M413.6 96.2Q419.8 92.3 423.7 86.1" stroke="#70c872" stroke-width="2.8"/><path d="M413.6 96.2Q419.8 92.3 423.7 86.1" stroke="#a8f0a6" stroke-width="1.8"/><path d="M427.4 89.1Q434.7 81 445.1 77.3" stroke="#70c872" stroke-width="3.4"/><path d="M427.4 89.1Q434.7 81 445.1 77.3" stroke="#a8f0a6" stroke-width="2.4"/><path d="M420.2 90.7Q423.7 83.6 431.4 81.7" stroke="#70c872" stroke-width="2.5"/><path d="M420.2 90.7Q423.7 83.6 431.4 81.7" stroke="#a8f0a6" stroke-width="1.5"/><path d="M417.8 119.1Q424.8 112.3 433.7 108.4" stroke="#70c872" stroke-width="2.6"/><path d="M417.8 119.1Q424.8 112.3 433.7 108.4" stroke="#a8f0a6" stroke-width="1.6"/></g>
<g fill="none" stroke-opacity="0.82"><path d="M331.2 118.7Q335.7 118.8 340.1 119.2Q343.5 124.9 350.1 124.1Q357.4 123.4 352.1 117.6Q348.3 122 345.6 127.3Q349.1 132.7 345.2 130.6M334.1 119Q331.5 116.5 330.5 113.1Q327.7 111.2 324.7 109.6Q320.6 113 320.1 118.2Q320.4 121.9 325.5 121.3Q326.4 116.2 328.5 111.4Q331.5 109.4 335.1 110.3M352.4 115.2Q351.7 112.2 351.6 109.2Q355.3 106.3 349.9 108.6Q343.8 105.4 338.2 107.9Q341.7 113.1 347.8 114.1Q351.6 111 348.8 112.6Q345.1 112.9 342.4 115.5" stroke="#70c872" stroke-width="0.9" stroke-linecap="round"/><path d="M340.7 117.7Q346 115 352 115.9Q356.9 116.7 351.7 119.1Q346.7 121.3 344.4 126.1" stroke="#a8f0a6" stroke-width="0.9" stroke-linecap="round"/><path d="M337 122.6Q341 114.7 343 106.2" stroke="#70c872" stroke-width="3"/><path d="M337 122.6Q341 114.7 343 106.2" stroke="#a8f0a6" stroke-width="2"/><path d="M331.3 128.1Q331.4 119.3 337.3 112.7" stroke="#70c872" stroke-width="3.2"/><path d="M331.3 128.1Q331.4 119.3 337.3 112.7" stroke="#a8f0a6" stroke-width="2.2"/><path d="M327.2 119.2Q330.4 111.4 331.7 103.1" stroke="#70c872" stroke-width="2.9"/><path d="M327.2 119.2Q330.4 111.4 331.7 103.1" stroke="#a8f0a6" stroke-width="1.9"/></g>
<g fill="none" stroke-opacity="0.82"><path d="M85.1 94Q80.6 98.5 82.9 94.2Q87 95.5 90.8 95Q93.8 91.9 96.4 88.4Q90.2 83.4 88.7 82.3Q91.3 84.1 91.8 87.2M101.3 92.4Q103.2 89 107 88.6Q113.8 88.8 110.5 89.8Q107.8 91.3 107.9 94.4Q109.3 101.8 106.9 99.7Q104.6 97 101.2 96.1Q99.8 99.5 99.7 96.6" stroke="#6b78bc" stroke-width="0.9" stroke-linecap="round"/><path d="M101.6 96.3Q107.3 100.1 105.4 98.5Q104.2 93.8 100.9 90.3Q102.2 83.1 103.9 83.6" stroke="#93a0de" stroke-width="0.9" stroke-linecap="round"/><path d="M75.7 91.9Q84.3 89.6 93.2 88.6" stroke="#6b78bc" stroke-width="3.5"/><path d="M75.7 91.9Q84.3 89.6 93.2 88.6" stroke="#93a0de" stroke-width="2.5"/><path d="M95.8 102.6Q101.5 95.6 106.3 88.1" stroke="#6b78bc" stroke-width="2.7"/><path d="M95.8 102.6Q101.5 95.6 106.3 88.1" stroke="#93a0de" stroke-width="1.7"/></g>
<g fill="none" stroke-opacity="0.82"><path d="M358.4 144.2Q354.2 145.9 349.7 145.9Q347.1 141.1 346.8 135.6Q345.6 129.8 348.3 135.2M377.7 149.1Q374.6 146.2 376.1 142.3Q381.1 142.7 385.1 139.8Q389.7 141 378.2 147.1Q371.6 144.2 364.3 143.7Q360 142.2 356.3 139.5M355 153.4Q350.3 154.8 345.6 156.2Q342.1 156.9 339.7 159.4Q332.4 161.6 341.6 161.4Q339.9 156.1 337.2 151.3Q333.5 150.1 329.7 150.7M384.4 145.8Q381.6 141 376.1 140.2Q373.1 141.7 371.9 144.9Q366.4 144.9 362.8 140.6Q359.5 137.5 356.1 134.5Q348.5 132.4 343.3 138.2M358.8 132.2Q363.3 133.9 368.1 133.5Q373.9 128 372.3 136.7Q368.5 143.3 360.9 143.6Q357.1 141.6 353.4 143.8Q349.3 149.7 347.7 156.6Q342.4 158.6 337.6 155.6" stroke="#70c872" stroke-width="0.9" stroke-linecap="round"/><path d="M345.7 171.1Q349.2 167.5 352.9 164.4" stroke="#70c872" stroke-width="2.6"/><path d="M345.7 171.1Q349.2 167.5 352.9 164.4" stroke="#a8f0a6" stroke-width="1.6"/><path d="M366.7 176.4Q366.9 168.5 367.4 160.6" stroke="#70c872" stroke-width="2.5"/><path d="M366.7 176.4Q366.9 168.5 367.4 160.6" stroke="#a8f0a6" stroke-width="1.5"/><path d="M346.7 173.9Q343.1 166.2 341.9 157.8" stroke="#70c872" stroke-width="3"/><path d="M346.7 173.9Q343.1 166.2 341.9 157.8" stroke="#a8f0a6" stroke-width="2"/><path d="M369.7 163.5Q374.6 157.9 379.9 152.5" stroke="#70c872" stroke-width="3.4"/><path d="M369.7 163.5Q374.6 157.9 379.9 152.5" stroke="#a8f0a6" stroke-width="2.4"/><path d="M342.9 158.8Q348 157.2 349.5 152" stroke="#70c872" stroke-width="2.6"/><path d="M342.9 158.8Q348 157.2 349.5 152" stroke="#a8f0a6" stroke-width="1.6"/></g>
<g fill="none" stroke-opacity="0.92"><path d="M278.1 49.7 A29 29 0 0 1 297.7 97.2" stroke="#6b78bc" stroke-width="3.8"/><path d="M278.1 49.7 A29 29 0 0 1 297.7 97.2" stroke="#93a0de" stroke-width="2.8"/></g>
<g fill="none" stroke-opacity="0.82"><path d="M312.4 106.6Q309.8 103.7 309.3 99.9Q303.2 94.9 295.4 93.6Q292.4 87.6 294.2 88.6Q293.4 92.2 290.3 94.1Q286.3 90.1 280.7 89.8" stroke="#70c872" stroke-width="0.9" stroke-linecap="round"/><path d="M303.1 106.1Q301.9 108.9 300.5 111.6Q302.8 115.3 303.5 109.5Q302.8 105.8 303.6 102.2M299.8 112.6Q299.3 106.5 293.6 104.1Q290.8 110.1 289.9 107.2Q293.1 104.7 295.9 101.8M308.3 113.6Q303.2 115.9 298.8 111.9Q302 114 305.6 115.1Q309 116.7 306.7 109.3Q302.1 108.7 299 112.1Q303.6 118.1 300.7 115.4" stroke="#a8f0a6" stroke-width="0.9" stroke-linecap="round"/><path d="M282.3 83.6Q289.6 86.9 297.6 87.9" stroke="#70c872" stroke-width="3.2"/><path d="M282.3 83.6Q289.6 86.9 297.6 87.9" stroke="#a8f0a6" stroke-width="2.2"/><path d="M299.9 100.8Q304.7 102.5 309.8 102.1" stroke="#70c872" stroke-width="3.3"/><path d="M299.9 100.8Q304.7 102.5 309.8 102.1" stroke="#a8f0a6" stroke-width="2.3"/></g>
<g fill="none" stroke-opacity="0.82"><path d="M262.3 81.5Q261.3 76.5 259.3 71.7Q258.6 66.5 259.3 70.7Q251.8 70.7 245 67.4M250.7 85.3Q247 86 244.3 88.6Q244.5 95.6 245.1 92.7Q245.6 85.6 241.4 79.9Q242.4 73 246.2 73M258.1 74.3Q253.2 72.4 248.1 71.3Q246.2 64.7 245.7 71.6Q253.3 70.6 255.3 63.1Q248.8 61.5 249.8 66.3Q252.5 68.6 255.9 67.7Q260.1 71.6 265.5 69.9M266.7 74.5Q269.2 72.6 265.2 75.9Q260.4 72.1 256.7 67.1Q251.2 62.6 249.6 67.8Q254.9 69.4 260.2 70.6" stroke="#cf7878" stroke-width="0.9" stroke-linecap="round"/><path d="M257.1 77.6Q263.2 79.4 265.6 85.3Q260.8 91.5 253.1 89.9Q245.2 90.8 238.3 86.9Q233.8 87.8 239.5 86.2M250.3 71.6Q250.2 77.5 248.5 83Q253.9 87.8 257.4 94Q257.6 98.5 255 102.3Q252.1 105.8 250.6 95.9" stroke="#f2a2a2" stroke-width="0.9" stroke-linecap="round"/><path d="M259.7 77.8Q264.2 70.9 265.8 62.8" stroke="#cf7878" stroke-width="2.6"/><path d="M259.7 77.8Q264.2 70.9 265.8 62.8" stroke="#f2a2a2" stroke-width="1.6"/><path d="M266.3 82Q267.9 75.1 273.8 71.2" stroke="#cf7878" stroke-width="3.1"/><path d="M266.3 82Q267.9 75.1 273.8 71.2" stroke="#f2a2a2" stroke-width="2.1"/><path d="M258.6 102.2Q258 94.5 263.2 88.6" stroke="#cf7878" stroke-width="3.2"/><path d="M258.6 102.2Q258 94.5 263.2 88.6" stroke="#f2a2a2" stroke-width="2.2"/><path d="M251.1 84.7Q257.5 80.4 258.2 72.7" stroke="#cf7878" stroke-width="2.7"/><path d="M251.1 84.7Q257.5 80.4 258.2 72.7" stroke="#f2a2a2" stroke-width="1.7"/><path d="M233.1 87.9Q239.8 82.3 240.9 73.5" stroke="#cf7878" stroke-width="3.5"/><path d="M233.1 87.9Q239.8 82.3 240.9 73.5" stroke="#f2a2a2" stroke-width="2.5"/></g>
<g fill="none" stroke-opacity="0.82"><path d="M52.4 84.3Q53.5 87.2 52.4 90Q47.9 92.7 48.1 98Q53.9 100.5 60.1 99.6Q65.3 105.6 67 100.8Q61.8 95.3 58.1 88.9Q56.5 83.1 56.3 84.7M58.9 101.3Q57.2 97.6 53.3 96.8Q51.3 103.8 50.3 102.9Q57.3 102.1 64.3 103.5Q67.4 101.9 67.9 98.4Q71.1 96.1 67.1 94Q66.2 97 67.2 99.9M71.8 98Q76.7 98.9 72.2 97.6Q70.9 94.4 66.8 93.3Q70.2 95.6 67.7 95.8Q66.3 90.5 63.5 85.8Q66.2 82.6 64.3 85.9" stroke="#6b78bc" stroke-width="0.9" stroke-linecap="round"/><path d="M66.1 96.7Q71.3 98.6 69 96.1Q64.2 90.7 57 89.8Q52.7 96 53.7 103.5Q56.5 108.8 59.6 106.3M52.5 89.5Q50.5 92.5 50.9 96Q52.3 98.8 54.4 101.2Q53 107.5 54.2 106.7" stroke="#93a0de" stroke-width="0.9" stroke-linecap="round"/><path d="M46.8 96.2Q52.4 94.7 54.8 89.5" stroke="#6b78bc" stroke-width="3"/><path d="M46.8 96.2Q52.4 94.7 54.8 89.5" stroke="#93a0de" stroke-width="2"/><path d="M50.9 111.7Q53.6 107 56.6 102.5" stroke="#6b78bc" stroke-width="2.5"/><path d="M50.9 111.7Q53.6 107 56.6 102.5" stroke="#93a0de" stroke-width="1.5"/><path d="M50.7 97Q54 92.4 51.4 87.4" stroke="#6b78bc" stroke-width="3.1"/><path d="M50.7 97Q54 92.4 51.4 87.4" stroke="#93a0de" stroke-width="2.1"/><path d="M43.1 105.8Q47.8 98.6 55.7 95.4" stroke="#6b78bc" stroke-width="3.2"/><path d="M43.1 105.8Q47.8 98.6 55.7 95.4" stroke="#93a0de" stroke-width="2.2"/></g>
<g fill="none" stroke-opacity="0.82"><path d="M424 81.1Q427.6 77.6 432.6 78.6Q431.8 84.7 428.6 82.9Q435.6 82 442.6 83.2Q447.8 77.8 444.9 74.3Q440.8 74.6 437.6 72M438.9 83.9Q442.2 84.2 440 81.6Q441 78.4 440.3 75.1Q438.1 70.5 437.5 65.4Q437.3 62.1 433.7 66.3Q429.6 72.4 422.3 72.7Q421 69.8 422.7 67.2" stroke="#cf7878" stroke-width="0.9" stroke-linecap="round"/><path d="M433.2 87.8Q434.6 93.9 430.6 89Q427.6 83.7 428.1 77.7Q422.6 76.1 424.7 73.1Q424.5 78 421.1 81.5Q417.5 79.4 420.8 78.2Q424.7 83.8 430.4 83.6M430.8 65.7Q432.3 61.6 434.2 65.7Q437.6 70.9 443.1 73.7Q445.7 76.8 439.3 78.7" stroke="#f2a2a2" stroke-width="0.9" stroke-linecap="round"/><path d="M429.9 78.6Q437.3 78.9 442.2 73.5" stroke="#cf7878" stroke-width="3.1"/><path d="M429.9 78.6Q437.3 78.9 442.2 73.5" stroke="#f2a2a2" stroke-width="2.1"/><path d="M426.9 68.6Q431.3 63.8 437.2 61.1" stroke="#cf7878" stroke-width="3.5"/><path d="M426.9 68.6Q431.3 63.8 437.2 61.1" stroke="#f2a2a2" stroke-width="2.5"/></g>
<g fill="none" stroke-opacity="0.82"><path d="M119.9 137.5Q115.2 139.7 110.6 137.3Q110.3 133.9 112.1 138.4Q114 140.9 113.5 144.1M128.8 163Q126 164.9 121 160.8Q127.1 160.8 124.3 159.7Q124.2 152.9 126.5 146.5Q130.8 145.9 133.2 142.4Q137.1 143.7 138.6 147.6Q142.7 148.9 133.9 147.6M114.2 165.5Q106.4 166.1 105.9 158Q113.7 157.4 121.2 159.3Q127.9 162.1 126.2 160.4Q120.6 158.3 114.6 159.1Q113.8 155 117.1 152.5M99.4 152.9Q101.7 148.6 106.6 149.1Q107.6 143.2 111.1 138.4Q113.9 131.8 118.9 138.1Q113.8 139 109.9 135.7Q107.8 138 108.8 141" stroke="#cf7878" stroke-width="0.9" stroke-linecap="round"/><path d="M94.4 149.2Q101.8 144.4 107.2 137.6" stroke="#cf7878" stroke-width="2.9"/><path d="M94.4 149.2Q101.8 144.4 107.2 137.6" stroke="#f2a2a2" stroke-width="1.9"/><path d="M108.6 162.8Q110.1 153.7 117.5 148.2" stroke="#cf7878" stroke-width="2.7"/><path d="M108.6 162.8Q110.1 153.7 117.5 148.2" stroke="#f2a2a2" stroke-width="1.7"/><path d="M112.9 166.7Q117.9 166.7 122.8 166.6" stroke="#cf7878" stroke-width="3"/><path d="M112.9 166.7Q117.9 166.7 122.8 166.6" stroke="#f2a2a2" stroke-width="2"/><path d="M120 152.4Q124.6 154.2 129.4 152.9" stroke="#cf7878" stroke-width="3.3"/><path d="M120 152.4Q124.6 154.2 129.4 152.9" stroke="#f2a2a2" stroke-width="2.3"/></g>
<g fill="none" stroke-opacity="0.82"><path d="M317.1 88.9Q320.9 88.6 323 91.6Q328.6 88.7 327.9 91.8Q320.3 92.5 314.7 97.6Q310.7 93.3 310.8 87.4Q305.1 81.8 309 84.5Q310.4 88.3 308.3 91.8M312.9 89.5Q307.5 93.4 301.5 96Q303.5 101.1 300.7 106Q294.7 110 299.8 107Q300.5 110.1 308.3 107.8" stroke="#cf7878" stroke-width="0.9" stroke-linecap="round"/><path d="M316.8 101.4Q314.7 108.1 309.4 112.7Q303.1 108.6 304.9 103.5Q311.7 103.1 318.3 104.9Q321.1 99.8 326.5 97.7Q330.6 93.9 334.5 90Q331.6 83.8 323.8 86.9M315.3 85.5Q318.7 91.2 325.2 92.5Q327.9 90.6 331 89.7Q335.7 89.4 331.5 93.8Q327.5 96.1 323.1 94.7M322.8 106.3Q327.8 107.8 331 111.7Q333.4 114.7 329.4 109.6Q323.9 106.4 319.7 101.7Q320 96.9 323.1 93.3Q326.6 90.8 326.9 86.6" stroke="#f2a2a2" stroke-width="0.9" stroke-linecap="round"/><path d="M305.8 102.9Q307 97.7 312.1 96.2" stroke="#cf7878" stroke-width="2.7"/><path d="M305.8 102.9Q307 97.7 312.1 96.2" stroke="#f2a2a2" stroke-width="1.7"/><path d="M331.5 99.2Q336 94 339.9 88.3" stroke="#cf7878" stroke-width="3.1"/><path d="M331.5 99.2Q336 94 339.9 88.3" stroke="#f2a2a2" stroke-width="2.1"/><path d="M321.1 99.8Q319.7 92 323.7 85.1" stroke="#cf7878" stroke-width="2.6"/><path d="M321.1 99.8Q319.7 92 323.7 85.1" stroke="#f2a2a2" stroke-width="1.6"/></g>
<g fill="none" stroke-opacity="0.82"><path d="M116.4 102.7Q122.5 102 125.2 96.5Q128.4 91 125.5 85.3Q118.4 83.3 120 84Q124.4 84.5 128.5 83.1Q131.5 78.5 130.8 83.1Q129.8 87 132.6 89.8" stroke="#70c872" stroke-width="0.9" stroke-linecap="round"/><path d="M128.7 102.7Q125.2 102.4 122.5 104.7Q119.2 104.3 117.5 101.4Q111.4 104.5 112.4 100.2Q116.2 106 122.8 107.9Q126.1 114.3 128.8 109.4M121 106Q119 103 118.9 99.5Q119.1 96.3 121.4 94.2Q123.9 96.5 124.3 99.9Q129.5 102.7 130.1 108.5M116.9 92.6Q121.1 87.3 118.2 81.2Q110.5 82.5 111.9 85.4Q113.8 82.8 118 86.2Q113.9 86.8 115.6 89.9" stroke="#a8f0a6" stroke-width="0.9" stroke-linecap="round"/><path d="M119.2 90.9Q124.4 84.2 132.6 82.6" stroke="#70c872" stroke-width="2.5"/><path d="M119.2 90.9Q124.4 84.2 132.6 82.6" stroke="#a8f0a6" stroke-width="1.5"/><path d="M118.5 93.6Q122 85.5 123.4 76.8" stroke="#70c872" stroke-width="3"/><path d="M118.5 93.6Q122 85.5 123.4 76.8" stroke="#a8f0a6" stroke-width="2"/></g>
<g fill="none" stroke-opacity="0.82"><path d="M404.7 112.6Q404.1 118.5 408.9 121.9Q413.2 120.8 417.5 119.9Q420.9 116.4 424.2 112.8Q428.1 110.1 430.8 106.1Q435.2 101.9 427.9 100.5Q424.4 99.6 420.9 100M429.8 78.1Q424 79.9 417.9 80.1Q416.4 85.8 410.7 87.5Q406.9 88.1 403.7 90.4M386.5 118.8Q382.6 124 377.3 127.7Q372.8 123.6 383.6 112.4Q389.8 111.4 395.1 114.7Q394.7 118.5 392.4 121.5M413.8 74.4Q413 81 415.7 87.1Q418.2 89.9 417.4 93.5Q419.6 98 417.8 102.7Q417.4 108.5 415.7 114.2Q410.8 116 406.4 113.3Q398.8 115.7 398.1 123.6M430.1 91.7Q428.7 88.1 424.8 87.9Q421.9 86.3 421.5 83Q428.2 78.8 429.2 70.8Q428.8 67.5 421.2 78.7Q423.9 81 427.5 81.1Q431 74.6 438.3 74.2M433.6 94.7Q431.8 90.7 430 86.6Q426.9 83.4 426.5 79Q430.9 72.8 424.8 80.3Q419.8 83.6 414.4 81Q407.2 81.7 399.9 82.4M384.6 111.1Q385.8 104.9 390.8 101Q396.8 100.9 402.7 99.5Q402.1 94.3 397.6 91.7Q390.8 92.6 384 92Q382.3 84.9 393.9 86.8Q390.1 86.3 395.6 90.3" stroke="#a8f0a6" stroke-width="0.9" stroke-linecap="round"/><path d="M423.4 105.5Q433.8 97.8 445.3 91.8" stroke="#70c872" stroke-width="2.4"/><path d="M423.4 105.5Q433.8 97.8 445.3 91.8" stroke="#a8f0a6" stroke-width="1.4"/><path d="M408.4 97.4Q417.7 91 422.2 80.7" stroke="#70c872" stroke-width="3.3"/><path d="M408.4 97.4Q417.7 91 422.2 80.7" stroke="#a8f0a6" stroke-width="2.3"/><path d="M415.3 75.8Q424.2 72.1 428.4 63.5" stroke="#70c872" stroke-width="3.3"/><path d="M415.3 75.8Q424.2 72.1 428.4 63.5" stroke="#a8f0a6" stroke-width="2.3"/><path d="M375.3 113.8Q379.2 104.7 387 98.5" stroke="#70c872" stroke-width="3.4"/><path d="M375.3 113.8Q379.2 104.7 387 98.5" stroke="#a8f0a6" stroke-width="2.4"/><path d="M408.9 88.7Q416.2 80.3 426.2 75.7" stroke="#70c872" stroke-width="3.4"/><path d="M408.9 88.7Q416.2 80.3 426.2 75.7" stroke="#a8f0a6" stroke-width="2.4"/><path d="M399.4 84.2Q408.8 75.7 419.7 69" stroke="#70c872" stroke-width="2.5"/><path d="M399.4 84.2Q408.8 75.7 419.7 69" stroke="#a8f0a6" stroke-width="1.5"/></g>
<g fill="none" stroke-opacity="0.82"><path d="M101.2 160.5Q96.5 163.5 101.4 158.1Q105.8 153.1 108.3 147Q111.7 146.3 114.3 144Q119.5 142.4 123.9 139.4M114.4 165Q112.4 161.5 112.9 157.5Q109.9 151.6 103.9 148.7Q99 144.8 102.7 146M113.2 155.3Q118 151.7 123 148.6Q127.2 149.7 129.4 153.5Q124.4 158.5 123.9 165.6Q127.9 166.5 124.2 162.6Q130.9 158.4 137.8 154.3Q136.6 148 131.4 146.4M99.6 151.8Q99.9 157 103.3 160.9Q100 164.2 104.3 160.1Q108.3 163 109.9 167.7Q113 169.5 116 167.6Q121.5 162.7 122.5 155.4Q122.1 148.6 118.3 143M113.7 153.6Q112.2 157.8 109.9 161.6Q114.4 164.5 119.6 165.2Q125.5 167.1 125.6 161.9Q122.5 166.5 119.6 163.5Q118.6 159.1 121.2 155.3" stroke="#70c872" stroke-width="0.9" stroke-linecap="round"/><path d="M122.1 170.3Q126.5 167.2 129.3 162.6" stroke="#70c872" stroke-width="2.8"/><path d="M122.1 170.3Q126.5 167.2 129.3 162.6" stroke="#a8f0a6" stroke-width="1.8"/><path d="M120 152Q122.4 145.7 128.5 142.8" stroke="#70c872" stroke-width="3"/><path d="M120 152Q122.4 145.7 128.5 142.8" stroke="#a8f0a6" stroke-width="2"/><path d="M100.8 155.6Q109.1 152.4 117.7 153.7" stroke="#70c872" stroke-width="3"/><path d="M100.8 155.6Q109.1 152.4 117.7 153.7" stroke="#a8f0a6" stroke-width="2"/><path d="M108.5 153Q114 146.4 122.4 144.7" stroke="#70c872" stroke-width="3.5"/><path d="M108.5 153Q114 146.4 122.4 144.7" stroke="#a8f0a6" stroke-width="2.5"/></g>
<g fill="none" stroke-opacity="0.82"><path d="M16.5 101.9Q14.1 104.3 13.3 107.7Q10.7 109.8 12.1 104.2Q16.3 100.1 21.9 98.2Q27.7 95.1 27.8 96.7Q20.1 97.2 13 100.2Q7.6 100.5 9.7 100.5" stroke="#cf7878" stroke-width="0.9" stroke-linecap="round"/><path d="M26.1 103.3Q23.7 99 26.6 95Q21.4 89.9 14.3 88.1Q12 90.9 11.2 94.4M7.4 92.3Q11.2 96.8 14.6 101.5Q10.1 105.7 14.4 105Q10 103 6.4 99.7" stroke="#f2a2a2" stroke-width="0.9" stroke-linecap="round"/><path d="M2.4 92.8Q9.8 90.3 17.3 88.1" stroke="#cf7878" stroke-width="3.2"/><path d="M2.4 92.8Q9.8 90.3 17.3 88.1" stroke="#f2a2a2" stroke-width="2.2"/><path d="M23.8 91.5Q27.9 85.9 31.9 80.2" stroke="#cf7878" stroke-width="3.1"/><path d="M23.8 91.5Q27.9 85.9 31.9 80.2" stroke="#f2a2a2" stroke-width="2.1"/><path d="M9.2 91.9Q15.6 91 20 86.2" stroke="#cf7878" stroke-width="3.2"/><path d="M9.2 91.9Q15.6 91 20 86.2" stroke="#f2a2a2" stroke-width="2.2"/></g>
<g fill="none" stroke-opacity="0.92"><path d="M307.1 98.2 A34 34 0 0 1 289.3 113.2" stroke="#6b78bc" stroke-width="3"/><path d="M307.1 98.2 A34 34 0 0 1 289.3 113.2" stroke="#93a0de" stroke-width="2"/></g>
<g fill="none" stroke-opacity="0.82"><path d="M95.7 79.7Q96.4 83.9 104.4 82.9Q100.9 79 102.5 74Q101.8 69.6 107.7 70.6Q109.9 76 114 80.1Q112.8 85.7 109.9 84.5Q108.5 78.3 108.7 72M125.6 72.9Q132.1 72.2 127.4 72Q122.6 72.9 117.8 72.1Q113.8 73.3 112.2 77.2Q105.1 75.9 98.5 78.8" stroke="#6b78bc" stroke-width="0.9" stroke-linecap="round"/><path d="M119 85.8Q123.7 87.1 121.7 82.1Q117.7 82.1 115.2 78.9Q109.8 80.6 104.4 81.7Q100.4 87.3 103.6 87Q108 83.2 110.3 77.8Q110.5 74.4 108.2 71.8M117.2 85.8Q111.9 82 105.3 81.7Q98.9 82.7 100.8 82.4Q97.1 76.3 97.8 69.2Q96.1 66.5 103 68.8" stroke="#93a0de" stroke-width="0.9" stroke-linecap="round"/><path d="M107.3 80.5Q111 73.8 118.1 70.6" stroke="#6b78bc" stroke-width="2.9"/><path d="M107.3 80.5Q111 73.8 118.1 70.6" stroke="#93a0de" stroke-width="1.9"/><path d="M108.1 81.6Q113.8 81.2 118.4 77.7" stroke="#6b78bc" stroke-width="3.2"/><path d="M108.1 81.6Q113.8 81.2 118.4 77.7" stroke="#93a0de" stroke-width="2.2"/><path d="M96.4 86.8Q101.5 84.7 105.3 80.7" stroke="#6b78bc" stroke-width="3.2"/><path d="M96.4 86.8Q101.5 84.7 105.3 80.7" stroke="#93a0de" stroke-width="2.2"/><path d="M105.2 85.5Q113 86.9 119.4 82" stroke="#6b78bc" stroke-width="3"/><path d="M105.2 85.5Q113 86.9 119.4 82" stroke="#93a0de" stroke-width="2"/></g>
<g fill="none" stroke-opacity="0.82"><path d="M335.4 109.9Q333.5 102.8 331 108Q334.7 105.4 338.3 108.9Q339.9 113.7 344.7 115.6M323 116.3Q321.9 110.4 326.9 110.1Q320.4 113.4 323.5 113.3Q322 118 325.4 118.4Q326 121.9 327.4 125Q330.9 126.1 334.5 125.3" stroke="#70c872" stroke-width="0.9" stroke-linecap="round"/><path d="M348.3 115.5Q351.1 112.4 348.3 114.1Q340.6 111.9 333 114.2Q327.3 118.1 324.7 124.5Q317.8 126.9 324.1 127.3M333.4 127.2Q336 124 336 119.9Q331 117.1 325.6 119Q320.2 116.6 324.1 115.6Q322.6 119.7 326.1 119.1Q329.1 112.9 335.6 110.4Q339.3 104.7 340.5 106.3" stroke="#a8f0a6" stroke-width="0.9" stroke-linecap="round"/><path d="M327 133.6Q332.7 129.1 337.4 123.5" stroke="#70c872" stroke-width="3"/><path d="M327 133.6Q332.7 129.1 337.4 123.5" stroke="#a8f0a6" stroke-width="2"/><path d="M332.9 126Q337.1 121.1 342.8 118.2" stroke="#70c872" stroke-width="3.1"/><path d="M332.9 126Q337.1 121.1 342.8 118.2" stroke="#a8f0a6" stroke-width="2.1"/><path d="M329.6 116.8Q332.2 111 338.1 108.6" stroke="#70c872" stroke-width="3.3"/><path d="M329.6 116.8Q332.2 111 338.1 108.6" stroke="#a8f0a6" stroke-width="2.3"/></g>
<g fill="none" stroke-opacity="0.82"><path d="M56.5 83.5Q58.5 77.2 63.9 79.9Q64.3 83.6 63.2 87.1Q60.6 90.1 59.6 93.9" stroke="#70c872" stroke-width="0.9" stroke-linecap="round"/><path d="M53.9 88.9Q53.1 95 57.4 96.7Q54 90.4 55.8 86.6Q56.3 90.3 59 92.9Q64.2 88.9 69.9 85.6Q69.2 78.3 64.5 79.5Q67.5 81.7 71.3 82" stroke="#a8f0a6" stroke-width="0.9" stroke-linecap="round"/><path d="M57.7 93.5Q62.3 87.3 70 87" stroke="#70c872" stroke-width="3.5"/><path d="M57.7 93.5Q62.3 87.3 70 87" stroke="#a8f0a6" stroke-width="2.5"/><path d="M60.2 101.2Q65.9 94.9 69.1 86.9" stroke="#70c872" stroke-width="2.5"/><path d="M60.2 101.2Q65.9 94.9 69.1 86.9" stroke="#a8f0a6" stroke-width="1.5"/></g>
<g fill="none" stroke-opacity="0.82"><path d="M118.1 134.6Q120.4 129.1 126 127.1Q129.9 131.6 130.3 128.2Q129.4 133.8 125.8 138.2Q125.9 141.5 126.2 134.4M128.2 132.9Q132.6 127.3 136.5 121.3Q137.6 118.5 133.2 119.6Q129.7 125.9 126.8 132.5Q121.7 134.5 116.4 136.1M114.6 128.1Q108.3 132.5 110.6 131.7Q116.2 130.8 121.2 133.6Q122.7 137.9 127.2 138.6Q129 141.5 125.3 135.5Q120.5 130 123 123.2" stroke="#6b78bc" stroke-width="0.9" stroke-linecap="round"/><path d="M121.2 138.4Q120.7 133.5 117.2 130Q117.9 123.3 124 120.4Q130.5 116.9 131 117Q128.3 115.5 125.6 113.9Q125.5 107.4 127.6 111.5" stroke="#93a0de" stroke-width="0.9" stroke-linecap="round"/><path d="M116.2 136.9Q114.2 131.6 118.5 127.8" stroke="#6b78bc" stroke-width="3.5"/><path d="M116.2 136.9Q114.2 131.6 118.5 127.8" stroke="#93a0de" stroke-width="2.5"/><path d="M126 131.5Q131 124.9 134.2 117.3" stroke="#6b78bc" stroke-width="2.5"/><path d="M126 131.5Q131 124.9 134.2 117.3" stroke="#93a0de" stroke-width="1.5"/><path d="M112.4 139.6Q118.9 133.1 120.8 124.2" stroke="#6b78bc" stroke-width="3"/><path d="M112.4 139.6Q118.9 133.1 120.8 124.2" stroke="#93a0de" stroke-width="2"/></g>
<g fill="none" stroke-opacity="0.82"><path d="M298.2 66.4Q290.8 64.9 283.5 62.7Q279.3 62.1 275 62.7Q274.1 57.7 276.8 53.5M276.3 57.2Q276.6 49.5 282.7 44.7Q285.1 42.7 284.6 39.7Q285.1 32.5 285.7 39.4Q292.4 39.8 299.2 40.9Q302.8 41.1 299.8 49Q293.8 46.4 292.6 39.9M279.5 44.8Q284.9 42.8 290.6 42.6Q295.5 37 291.5 42Q293.6 45.2 295.9 48.2Q299 50.9 302.8 52.2" stroke="#70c872" stroke-width="0.9" stroke-linecap="round"/><path d="M287.3 45.7Q286.1 41.9 285.7 37.9Q280.3 34.1 280.3 45.6Q281.8 49.1 285.6 49.9Q286.8 42.8 283.6 36.4Q279.4 38.4 281.2 45.7M293.5 81Q293.3 86 289.3 77.1Q293.7 77.1 297.7 79Q301.7 79.4 299.4 72.1Q296.2 70.2 295.1 66.6Q296.2 61.8 300.3 58.8Q304.4 57.6 308.4 58.7M274.6 57.3Q274.8 50.2 279.7 50.1Q277.4 55.3 278.7 60.9Q283.8 64.7 284.3 71Q280.7 72.1 278.3 75Q280.4 78.3 283.4 80.9" stroke="#a8f0a6" stroke-width="0.9" stroke-linecap="round"/><path d="M294.8 79.7Q297.7 74.5 294.2 69.7" stroke="#70c872" stroke-width="3"/><path d="M294.8 79.7Q297.7 74.5 294.2 69.7" stroke="#a8f0a6" stroke-width="2"/></g>
<g fill="none" stroke-opacity="0.82"><path d="M123.4 152.4Q120.1 148.1 117.6 143.3Q121 141.5 124.4 143.1Q131.2 138.9 126.6 138.8Q122.1 142.8 124.1 148.5Q124.5 153.1 123.3 157.6Q120.3 163.9 118.3 162.6M96.9 141.8Q104.6 141.6 107.6 148.7Q111.1 153.4 110.5 159.2Q106.2 162.4 101.1 161.1Q93.4 161.8 97.8 157.8M110.9 154.2Q111.5 146.7 117 141.5Q123.6 140.4 128.2 135.5Q132.5 129.8 130.1 138.6Q129.9 134.8 125.3 138.8M117.4 146.1Q113.5 149 109 147.5Q105.7 149.1 104.6 152.7Q109 156.7 109.7 162.6Q114.9 164.6 119.6 167.4Q123.3 170.8 122.4 164.8" stroke="#cf7878" stroke-width="0.9" stroke-linecap="round"/><path d="M94.4 151.8Q92.3 155.4 102.8 155.6Q99.7 153.9 96.3 154.8Q89.9 154.8 97.1 154.8" stroke="#f2a2a2" stroke-width="0.9" stroke-linecap="round"/><path d="M123.2 152.7Q131.1 149 138.2 144.1" stroke="#cf7878" stroke-width="2.6"/><path d="M123.2 152.7Q131.1 149 138.2 144.1" stroke="#f2a2a2" stroke-width="1.6"/><path d="M118.1 140Q122.5 138.4 127 136.6" stroke="#cf7878" stroke-width="2.8"/><path d="M118.1 140Q122.5 138.4 127 136.6" stroke="#f2a2a2" stroke-width="1.8"/><path d="M107.6 146.2Q114.5 141.5 115.5 133.2" stroke="#cf7878" stroke-width="2.8"/><path d="M107.6 146.2Q114.5 141.5 115.5 133.2" stroke="#f2a2a2" stroke-width="1.8"/><path d="M95.5 159.9Q101.8 154.5 109.6 151.7" stroke="#cf7878" stroke-width="3.5"/><path d="M95.5 159.9Q101.8 154.5 109.6 151.7" stroke="#f2a2a2" stroke-width="2.5"/><path d="M95.5 150.2Q100.3 144.7 102.4 137.7" stroke="#cf7878" stroke-width="2.8"/><path d="M95.5 150.2Q100.3 144.7 102.4 137.7" stroke="#f2a2a2" stroke-width="1.8"/></g>
<g fill="none" stroke-opacity="0.82"><path d="M372.6 112.3Q376.6 118.3 372.7 117.7Q374.6 113 377.1 108.6Q380 103.5 380.5 97.7Q385.5 95.1 380 96.5Q375.4 101.6 370.8 106.7Q369.8 112.3 366.5 117M377.3 110.8Q382 113.8 378.3 113.4Q380.3 108 378.5 105.6Q371.4 109 370.6 116.8Q363.9 119.3 361.4 114.7Q368.5 113.5 373.9 118.2Q377.8 121.2 376.6 113.9" stroke="#cf7878" stroke-width="0.9" stroke-linecap="round"/><path d="M366.8 118.3Q363.1 116.5 363.2 112.5Q360.3 110.6 357.1 109.5Q355.6 102.7 359.2 100Q361.4 103 361.1 106.7Q357.9 109.2 353.9 110.2M375.3 113.2Q374.3 120.8 375.2 117.9Q368.1 119.9 363.7 115.1Q365.1 119.6 369.6 120.7Q374.3 115 381.7 113.9Q387.5 111.7 380 105.7" stroke="#f2a2a2" stroke-width="0.9" stroke-linecap="round"/></g>
<g fill="none" stroke-opacity="0.82"><path d="M251.7 109.2Q255.5 110.8 258.5 113.7Q256.8 117.7 257.7 116.2Q260.7 115.3 262.6 112.9Q266.4 110.4 270.9 111.2M260.2 102.8Q263.7 98.8 263.1 99.2Q270.4 99.6 271.3 101.7Q266.7 107.9 264.2 115.2Q262.6 118.5 261.8 116.4Q268.9 115.6 269.5 115.1Q271.2 111.3 268.6 108M263.3 106.9Q259 105.9 257.1 102.1Q250.3 99 253.4 98.4Q250.3 100.4 253.4 105Q257.7 106.3 262.1 105Q260.6 99.5 260.6 99.5M264.2 116.5Q259.7 120.6 258.5 118.5Q264 118.8 266.5 114.1Q260.3 112.5 254.7 115.7" stroke="#cf7878" stroke-width="0.9" stroke-linecap="round"/><path d="M262.6 99.6Q264.6 94.9 266.4 99Q259.9 100.3 256.8 103.4Q260.8 106.3 265.6 105.2Q269.3 102.3 265.6 101.9" stroke="#f2a2a2" stroke-width="0.9" stroke-linecap="round"/><path d="M250.5 110.6Q254.7 114.4 260.3 114.5" stroke="#cf7878" stroke-width="3.2"/><path d="M250.5 110.6Q254.7 114.4 260.3 114.5" stroke="#f2a2a2" stroke-width="2.2"/></g>
<g fill="none" stroke-opacity="0.82"><path d="M137.3 81Q145.3 81.2 152.5 77.9Q153.8 72.6 149.4 69.3Q144.5 70.7 141.3 74.6" stroke="#70c872" stroke-width="0.9" stroke-linecap="round"/><path d="M154.4 75.7Q147 74.3 140.7 70Q136.7 71.4 134.3 74.8Q133.8 79.8 144.7 81.8Q140 83.8 135.8 80.8M152.8 78.5Q147.7 72.5 149.1 70.8Q147.4 73.6 144.3 74.6Q140.8 71.5 136.6 69.2Q136.8 64.7 143.6 68M178.2 80.8Q185.4 78.7 177.2 81.9Q175.1 77.8 170.8 75.9Q166.4 71 159.9 69.4Q154.5 63.4 151.9 66.6Q149.8 71.4 146.2 75" stroke="#a8f0a6" stroke-width="0.9" stroke-linecap="round"/><path d="M164.6 77.1Q172.6 78 180.7 76.7" stroke="#70c872" stroke-width="2.6"/><path d="M164.6 77.1Q172.6 78 180.7 76.7" stroke="#a8f0a6" stroke-width="1.6"/><path d="M144 80.8Q155.3 80.8 166.1 77.9" stroke="#70c872" stroke-width="2.9"/><path d="M144 80.8Q155.3 80.8 166.1 77.9" stroke="#a8f0a6" stroke-width="1.9"/><path d="M144.7 86.4Q155.7 82.9 167.2 82.6" stroke="#70c872" stroke-width="2.9"/><path d="M144.7 86.4Q155.7 82.9 167.2 82.6" stroke="#a8f0a6" stroke-width="1.9"/><path d="M152.6 70.8Q162.6 72.8 172.8 73" stroke="#70c872" stroke-width="2.4"/><path d="M152.6 70.8Q162.6 72.8 172.8 73" stroke="#a8f0a6" stroke-width="1.4"/><path d="M146.9 86.8Q153.9 85.1 161.2 85.7" stroke="#70c872" stroke-width="2.9"/><path d="M146.9 86.8Q153.9 85.1 161.2 85.7" stroke="#a8f0a6" stroke-width="1.9"/></g>
<g fill="none" stroke-opacity="0.82"><path d="M333.6 117.2Q340.8 116.3 346.7 112.1Q346 108.7 342.9 110.9Q336.2 111.1 332.3 105.6Q329.2 103.3 329.4 110M335.4 118.9Q332.1 115.3 333.4 110.7Q327.4 107.5 326.6 110.1Q330.3 112.1 330.4 116.4Q333.1 120.1 337.7 119.5Q340.7 126 347.9 126.3Q350 122.4 347.3 118.8" stroke="#6b78bc" stroke-width="0.9" stroke-linecap="round"/><path d="M352.2 115.1Q350.8 109.6 345.5 107.7Q339.4 112.4 338.3 120.1Q333.8 126.1 326.7 124.1Q323.2 128.9 325.6 127.3M332 116.8Q329.7 111.2 330.2 110.6Q327.9 113.6 327.4 117.2Q334.9 118.3 338.6 124.8Q343.8 129.8 343 128.5" stroke="#93a0de" stroke-width="0.9" stroke-linecap="round"/><path d="M324.8 128.4Q325.7 121.5 329.6 115.7" stroke="#6b78bc" stroke-width="2.9"/><path d="M324.8 128.4Q325.7 121.5 329.6 115.7" stroke="#93a0de" stroke-width="1.9"/><path d="M327.4 123.7Q331.1 115.8 334.3 107.7" stroke="#6b78bc" stroke-width="2.4"/><path d="M327.4 123.7Q331.1 115.8 334.3 107.7" stroke="#93a0de" stroke-width="1.4"/><path d="M318 123.4Q320.7 116.6 318.9 109.5" stroke="#6b78bc" stroke-width="2.5"/><path d="M318 123.4Q320.7 116.6 318.9 109.5" stroke="#93a0de" stroke-width="1.5"/></g>
<g fill="none" stroke-opacity="0.82"><path d="M203.2 59.2Q197.9 54.5 190.9 55.2Q186.6 55.1 182.3 56Q180 62.1 181.9 61Q188 60.2 194.1 60.9Q195 67.9 192.8 65.4Q189 58.7 183.5 53.5M202.2 51.6Q209.3 50.7 204.8 53.7Q206.5 48.5 200.8 46.4Q201.2 49.8 202.6 53M191.2 60.4Q183.9 59 177.5 55.4Q174.8 52.8 173.9 49.1Q168.2 44.3 172.7 48.7M188 49Q186.5 54.3 182.2 57.7Q183.1 62.8 183.3 59.8Q187.2 56.8 192.1 57.7Q192.8 62.5 194.2 59.4Q190.4 53.9 193 47.7Q196.6 45 200.3 42.3M193.6 52.6Q188.2 58.5 184.3 56.8Q183.3 51.4 182.4 46Q184.9 39.4 184.2 40.8Q187.5 41.5 190.5 40Q194.5 38 195.1 44.4" stroke="#cf7878" stroke-width="0.9" stroke-linecap="round"/><path d="M180.5 49.2Q182.9 51.1 183.1 54.1Q179.9 60 183.6 60.4Q178.9 59.1 177.7 54.3Q177.3 51.2 179.5 48.9M206.6 47.3Q207.5 50.6 210 53.1Q209.5 58.4 199.4 57.6Q198.5 54.2 196.4 51.3" stroke="#f2a2a2" stroke-width="0.9" stroke-linecap="round"/><path d="M169.6 58Q169 51.9 173.6 47.9" stroke="#cf7878" stroke-width="2.6"/><path d="M169.6 58Q169 51.9 173.6 47.9" stroke="#f2a2a2" stroke-width="1.6"/><path d="M177.6 56Q183.4 49.7 183.4 41.2" stroke="#cf7878" stroke-width="3.4"/><path d="M177.6 56Q183.4 49.7 183.4 41.2" stroke="#f2a2a2" stroke-width="2.4"/><path d="M182.6 56.8Q185.9 53.4 186.9 48.7" stroke="#cf7878" stroke-width="2.9"/><path d="M182.6 56.8Q185.9 53.4 186.9 48.7" stroke="#f2a2a2" stroke-width="1.9"/><path d="M187.4 63Q192.9 57.6 196.9 51.1" stroke="#cf7878" stroke-width="3.1"/><path d="M187.4 63Q192.9 57.6 196.9 51.1" stroke="#f2a2a2" stroke-width="2.1"/><path d="M193.4 50.2Q199.8 45.1 204.9 38.8" stroke="#cf7878" stroke-width="3.4"/><path d="M193.4 50.2Q199.8 45.1 204.9 38.8" stroke="#f2a2a2" stroke-width="2.4"/></g>
<g fill="none" stroke-opacity="0.82"><path d="M341.1 116.7Q343.2 109.9 338.3 104.7Q340.7 101.7 343.8 99.5Q341.4 95.3 341.3 90.5Q334.5 89.6 329 85.6M312.2 98.6Q317.4 99.4 318.9 104.6Q321.6 108.2 326.1 108.5Q327.3 115.4 328.8 114.2Q333 108.4 339.2 104.8Q337.9 98.7 341.8 93.8Q344.7 89.6 341.3 92.7M316.6 95.8Q318.4 99.5 315.7 102.7Q313.2 109.4 313.7 116.5Q318.1 122.4 324.1 118.5Q325.1 110.6 332.1 106.9" stroke="#6b78bc" stroke-width="0.9" stroke-linecap="round"/><path d="M339.7 115.4Q332.6 115 326.9 119.2Q323.9 116.6 320.9 113.9Q318.8 109.2 321.8 104.9Q319.4 99.3 323.3 94.6Q328.2 98.2 334.3 99.5Q336.9 94.8 335.8 89.5M345.2 91.3Q341.3 95.4 336.5 98.6Q332 95.9 331.6 90.6Q334.3 86.4 334.9 90.7Q334.2 93.9 333.6 97.1Q337.9 98.4 339.8 102.5M340.5 104Q340.9 111.9 336.1 118.2Q333.1 124 329.3 118.2Q332 116.8 333.2 114Q330.9 107.9 334.7 102.6" stroke="#93a0de" stroke-width="0.9" stroke-linecap="round"/><path d="M319.5 98.6Q321.4 89.4 328.4 83.1" stroke="#6b78bc" stroke-width="3.3"/><path d="M319.5 98.6Q321.4 89.4 328.4 83.1" stroke="#93a0de" stroke-width="2.3"/><path d="M337.2 101.5Q337.9 95.7 343 92.9" stroke="#6b78bc" stroke-width="2.6"/><path d="M337.2 101.5Q337.9 95.7 343 92.9" stroke="#93a0de" stroke-width="1.6"/><path d="M319.5 114.8Q325.4 108.9 331 102.7" stroke="#6b78bc" stroke-width="2.5"/><path d="M319.5 114.8Q325.4 108.9 331 102.7" stroke="#93a0de" stroke-width="1.5"/><path d="M303.9 103.9Q310.6 101.1 313.7 94.4" stroke="#6b78bc" stroke-width="3.2"/><path d="M303.9 103.9Q310.6 101.1 313.7 94.4" stroke="#93a0de" stroke-width="2.2"/></g>
<g fill="none" stroke-opacity="0.82"><path d="M104 148.7Q109.1 143.7 114.8 139.4Q120.6 137.4 120.4 139.4Q116.2 140.9 112.4 138.6Q111.6 132.3 116 136.7Q113.4 142.5 107 142.8M97 156.2Q90.5 153.3 99.3 148.6Q105 147 109.5 150.7Q113.4 149.5 116 146.4Q120.2 147.2 123.8 144.9M116.5 138.7Q112.6 142.1 107.9 144.2Q105.8 141.1 103 138.6Q100.1 142.1 98.3 146.2Q93.2 148.6 101.2 152.5M117.9 148.3Q117.8 145.2 115.2 143.6Q111.3 138.7 111.5 132.3Q116.6 131.2 121.3 133.3Q125.9 127.9 124.3 133.4M108.2 141.9Q114 140.5 117.9 136Q120.5 131.3 122.3 139.2Q119.4 132.8 114.4 139Q117.7 140.5 119.1 143.8Q123.1 142.2 127.4 142.6" stroke="#70c872" stroke-width="0.9" stroke-linecap="round"/><path d="M124.9 143.1Q130.6 139.2 136.8 136.2" stroke="#70c872" stroke-width="3.4"/><path d="M124.9 143.1Q130.6 139.2 136.8 136.2" stroke="#a8f0a6" stroke-width="2.4"/><path d="M108.1 157.7Q110.8 153.4 111 148.4" stroke="#70c872" stroke-width="2.5"/><path d="M108.1 157.7Q110.8 153.4 111 148.4" stroke="#a8f0a6" stroke-width="1.5"/><path d="M128.8 157.6Q135.2 152.2 141.3 146.5" stroke="#70c872" stroke-width="2.6"/><path d="M128.8 157.6Q135.2 152.2 141.3 146.5" stroke="#a8f0a6" stroke-width="1.6"/><path d="M107.1 145.3Q112.2 141.2 118 138" stroke="#70c872" stroke-width="3.2"/><path d="M107.1 145.3Q112.2 141.2 118 138" stroke="#a8f0a6" stroke-width="2.2"/></g>
<g fill="none" stroke-opacity="0.82"><path d="M102.8 104.3Q99.5 101.2 98.7 96.7Q103.9 95.6 107.7 92Q113.7 87.2 108.3 86.9" stroke="#70c872" stroke-width="0.9" stroke-linecap="round"/><path d="M104.2 95Q107.3 101.9 102.8 108Q99.2 110.1 98.4 107.5Q96.9 102.5 92.7 99.5Q86.2 101.7 87.7 100.2Q94.1 95.5 97.7 91.9Q95.9 95.2 92.2 96M97.5 94.7Q97.2 88.6 94.9 91Q99 86.7 102.3 89.1Q95.7 89.1 92.5 94.9Q89.3 94.3 92.1 97.1" stroke="#a8f0a6" stroke-width="0.9" stroke-linecap="round"/><path d="M88.7 95.6Q96.1 94.6 103.2 96.8" stroke="#70c872" stroke-width="2.9"/><path d="M88.7 95.6Q96.1 94.6 103.2 96.8" stroke="#a8f0a6" stroke-width="1.9"/></g>
<g fill="none" stroke-opacity="0.82"><path d="M186.5 124.7Q189.2 128.5 193.8 127.9Q194.8 121.3 195.9 114.8Q199.3 112.7 201.2 109.2Q198.1 102.6 198.5 95.4Q192.7 92.1 187.2 95.8M195.9 84Q199.5 80.6 204.5 81.5Q209.7 85.8 214 91Q213.6 94.7 210.1 95.7" stroke="#70c872" stroke-width="0.9" stroke-linecap="round"/><path d="M189.4 120.1Q184.6 115.2 177.8 115.1Q175 116.3 173.7 119Q173.9 122.9 183 118.5Q177 116.8 180.8 112.2Q185.5 107.9 188.1 102Q181.6 98.8 178.2 92.5M219.6 110Q222.7 111.8 213.2 111.2Q210.5 109.1 207.6 107.2Q199.8 105.7 194.8 111.9Q195.9 115.1 196.6 118.4M203.2 96.7Q207.6 100.2 211 104.7Q211.1 108.6 210.7 112.4Q206.4 112.2 203.5 109.1M206.3 125.1Q207 129.1 202.2 122.3Q205.3 122.1 208 123.5Q212 127.2 208.4 120.4Q205.9 124.4 203.2 128.4Q202.6 136.3 201.4 128.7" stroke="#a8f0a6" stroke-width="0.9" stroke-linecap="round"/><path d="M207.7 126.4Q210.1 119.9 213.3 113.8" stroke="#70c872" stroke-width="2.9"/><path d="M207.7 126.4Q210.1 119.9 213.3 113.8" stroke="#a8f0a6" stroke-width="1.9"/><path d="M176 118.4Q174.1 111.8 178.1 106.3" stroke="#70c872" stroke-width="2.7"/><path d="M176 118.4Q174.1 111.8 178.1 106.3" stroke="#a8f0a6" stroke-width="1.7"/><path d="M173.6 107Q173.4 98.1 176.2 89.6" stroke="#70c872" stroke-width="3"/><path d="M173.6 107Q173.4 98.1 176.2 89.6" stroke="#a8f0a6" stroke-width="2"/><path d="M207.5 121.9Q207.3 114.8 210.2 108.4" stroke="#70c872" stroke-width="2.6"/><path d="M207.5 121.9Q207.3 114.8 210.2 108.4" stroke="#a8f0a6" stroke-width="1.6"/><path d="M191 91Q199.1 86.4 202.9 78" stroke="#70c872" stroke-width="2.5"/><path d="M191 91Q199.1 86.4 202.9 78" stroke="#a8f0a6" stroke-width="1.5"/></g>
<g fill="none" stroke-opacity="0.82"><path d="M23.8 82.7Q28.6 86.7 31.4 87.5Q31.4 83.8 31.2 80.2Q30.4 72.3 26.9 73.1Q31.9 71 37.4 71.6" stroke="#cf7878" stroke-width="0.9" stroke-linecap="round"/><path d="M29.5 72.1Q34.5 68.5 37.1 72.4Q34.2 73.1 31.5 71.7Q29.9 66.4 30.1 68.6M36.5 75.2Q30.3 73 24.1 74.8Q21.1 70.3 22.2 74.7Q21.3 69.3 24.6 70.5Q27.6 72.7 31.2 73.7Q38 71.4 35.8 70.5" stroke="#f2a2a2" stroke-width="0.9" stroke-linecap="round"/><path d="M35.3 85.2Q39.5 83.4 44 83.3" stroke="#cf7878" stroke-width="2.9"/><path d="M35.3 85.2Q39.5 83.4 44 83.3" stroke="#f2a2a2" stroke-width="1.9"/></g>
<g fill="none" stroke-opacity="0.82"><path d="M157.7 93.4Q164.5 96.5 163.9 96.4Q159.8 95.1 155.6 95.8Q152.1 98 151.9 102.1" stroke="#70c872" stroke-width="0.9" stroke-linecap="round"/><path d="M142.9 86.6Q144.8 83.8 147.3 87.1Q147.1 91.1 143.6 93.2Q144.8 97.7 148.4 100.7M152.7 83.5Q159.9 81.4 161.2 86.9Q159.1 93.1 152.7 94.5Q149.1 89.5 149.7 83.3Q144.8 81.4 146.2 84.8Q149.3 86.9 149.7 90.6M157.1 84.9Q161 90.5 167 93.7Q170.7 89.7 166.5 92.8Q164.6 90.2 164.1 87" stroke="#a8f0a6" stroke-width="0.9" stroke-linecap="round"/><path d="M145.6 103.9Q145.4 97 151 93" stroke="#70c872" stroke-width="3.5"/><path d="M145.6 103.9Q145.4 97 151 93" stroke="#a8f0a6" stroke-width="2.5"/><path d="M155.9 111.2Q159.5 105.9 164.5 101.9" stroke="#70c872" stroke-width="2.5"/><path d="M155.9 111.2Q159.5 105.9 164.5 101.9" stroke="#a8f0a6" stroke-width="1.5"/></g>
<g fill="none" stroke-opacity="0.82"><path d="M377.1 141.1Q373.5 147.7 376.6 154.5Q380.8 158.1 372.7 157.3Q378.6 155.1 384.6 153.3Q390.9 152.8 380.4 148.2M363.5 166.7Q369.7 165.4 367.7 161.1Q361 160.1 358.7 153.8Q358.7 146.2 352.2 142.1Q350.5 139.3 348.7 136.6" stroke="#6b78bc" stroke-width="0.9" stroke-linecap="round"/><path d="M371.4 155.3Q365 157.7 362.6 164Q365.1 166.8 362.5 161.5Q367.3 159 372.3 156.9M345.5 149.8Q344.9 145.8 346.6 142.2Q343 139.5 339.1 137.2Q332.3 138.1 338.7 140.4Q344.2 135.3 348.9 135.9Q353.3 135.4 356.1 138.8M373.8 156.5Q376.7 149.3 376.5 141.6Q379.4 140.5 382.3 139.2Q382.4 135.9 380.9 133Q381.8 127 371 132Q368.6 138.1 362.5 140.2" stroke="#93a0de" stroke-width="0.9" stroke-linecap="round"/><path d="M329.8 152.2Q334.1 146.3 338.1 140.3" stroke="#6b78bc" stroke-width="3.5"/><path d="M329.8 152.2Q334.1 146.3 338.1 140.3" stroke="#93a0de" stroke-width="2.5"/><path d="M366.5 166.5Q369.1 161.3 373.1 157.2" stroke="#6b78bc" stroke-width="2.6"/><path d="M366.5 166.5Q369.1 161.3 373.1 157.2" stroke="#93a0de" stroke-width="1.6"/><path d="M376.1 168.5Q377 160 374.3 151.8" stroke="#6b78bc" stroke-width="3.1"/><path d="M376.1 168.5Q377 160 374.3 151.8" stroke="#93a0de" stroke-width="2.1"/><path d="M361.6 140.5Q365 134.4 370.4 129.9" stroke="#6b78bc" stroke-width="2.6"/><path d="M361.6 140.5Q365 134.4 370.4 129.9" stroke="#93a0de" stroke-width="1.6"/><path d="M382 153.9Q386.9 146.2 389 137.3" stroke="#6b78bc" stroke-width="3.4"/><path d="M382 153.9Q386.9 146.2 389 137.3" stroke="#93a0de" stroke-width="2.4"/></g>
<g fill="none" stroke-opacity="0.82"><path d="M375.3 96.7Q378.3 95.3 375.1 100.5Q368 100.2 365.4 93.5Q367.6 91.2 366.6 95.2" stroke="#70c872" stroke-width="0.9" stroke-linecap="round"/><path d="M369.7 107.8Q373.4 106.5 376.9 104.9Q381.6 104.1 377.3 102.9Q380.2 109.3 377.8 110.7Q380.1 107.5 379.5 103.7Q382.8 102.7 377.9 105M358.5 97.9Q360.8 93.3 365.7 91.8Q370.8 89.7 372.1 95.3Q367.6 100.4 370.2 106.6Q376.1 110.6 376.3 109.4Q373.2 113.1 369.8 116.6Q371.6 124.2 373.3 119.5M373.3 95Q377.4 99.3 381.8 103.2Q388.1 102.3 383 104.5Q383.3 99.9 378.3 100.2" stroke="#a8f0a6" stroke-width="0.9" stroke-linecap="round"/><path d="M360.4 98.5Q366.9 95.5 373 99.4" stroke="#70c872" stroke-width="3.2"/><path d="M360.4 98.5Q366.9 95.5 373 99.4" stroke="#a8f0a6" stroke-width="2.2"/></g>
<g fill="none" stroke-opacity="0.92"><path d="M286.1 62.9 A21 21 0 0 1 284.4 100.1" stroke="#6b78bc" stroke-width="3.4"/><path d="M286.1 62.9 A21 21 0 0 1 284.4 100.1" stroke="#93a0de" stroke-width="2.4"/></g>
<g fill="none" stroke-opacity="0.82"><path d="M286.3 69.2Q290.7 67.9 292.1 63.4Q288.5 58.1 291.7 52.5Q291.6 49.1 294.4 47.2Q301.5 47 301.9 55.3M301.3 58.4Q294.8 63 286.9 64.1Q286.1 68.2 282.1 69.3Q280.2 63.8 285.5 64.4Q280.8 68.5 282.4 69.7Q287.1 70.1 291.7 69.7M306.7 65.3Q313.1 70.1 308.3 75.4Q304.1 77 302.8 81.4Q301.4 86.9 302.4 92.4Q300.5 97.3 295.8 99.5Q291.5 98.9 288.9 95.4" stroke="#6b78bc" stroke-width="0.9" stroke-linecap="round"/><path d="M282.7 72.9Q278.8 76.3 278.8 81.5Q284.1 82.9 289.1 84.9Q289.4 87.9 290.7 90.6Q296.3 89.2 299.2 84.2Q299.1 76.4 301.8 69Q306.4 65.2 307.4 59.3M285.9 68.1Q290.9 64 295.2 59.3Q297 55.7 296.3 51.9Q302.2 51 302.3 58.9Q297 60.3 293 64Q290.3 68.4 285.1 68.7M280.9 78.4Q276.5 72.5 283.7 68.6Q287 73 292.5 73Q295.5 78.9 299.8 83.8" stroke="#93a0de" stroke-width="0.9" stroke-linecap="round"/><path d="M283 101.4Q285.4 93.1 285.9 84.5" stroke="#6b78bc" stroke-width="2.5"/><path d="M283 101.4Q285.4 93.1 285.9 84.5" stroke="#93a0de" stroke-width="1.5"/></g>
<g fill="none" stroke-opacity="0.92"><path d="M284.6 56.9 A25 25 0 0 1 292.4 101.6" stroke="#70c872" stroke-width="3.1"/><path d="M284.6 56.9 A25 25 0 0 1 292.4 101.6" stroke="#a8f0a6" stroke-width="2.1"/></g>
<g fill="none" stroke-opacity="0.82"><path d="M344.7 108Q344.2 113.5 343.3 118.8Q339.7 120 337.6 123.1Q335.6 129.4 335.8 128.8M327.9 109.3Q330.9 102.1 336.9 106.8Q333.3 113.3 331 120.4Q331.4 126.5 335.1 126Q328.2 128.7 327.6 127.5Q325.4 123 327.5 118.5Q325.7 114.2 321.5 112M349.4 114Q342 116.8 340.2 124.6Q338.1 128.4 336.1 126.7Q337.4 120.6 336.3 114.4Q342.4 110.5 349.6 110.8Q353.4 116.2 350 116.9Q344.9 112.1 341.7 110.3" stroke="#6b78bc" stroke-width="0.9" stroke-linecap="round"/><path d="M347.5 123.3Q340.8 126.3 333.5 125.7Q327.5 124.9 321.6 126.5Q315.7 123.5 320.8 118.3Q324.5 123.6 329.5 127.7Q329 131.1 333 127.2" stroke="#93a0de" stroke-width="0.9" stroke-linecap="round"/><path d="M325.3 112.6Q330.1 108.1 335.3 104.3" stroke="#6b78bc" stroke-width="2.8"/><path d="M325.3 112.6Q330.1 108.1 335.3 104.3" stroke="#93a0de" stroke-width="1.8"/><path d="M339.6 127.8Q341.3 119.4 338.5 111.3" stroke="#6b78bc" stroke-width="3"/><path d="M339.6 127.8Q341.3 119.4 338.5 111.3" stroke="#93a0de" stroke-width="2"/><path d="M341.9 126.3Q345.4 119.1 349.7 112.4" stroke="#6b78bc" stroke-width="3"/><path d="M341.9 126.3Q345.4 119.1 349.7 112.4" stroke="#93a0de" stroke-width="2"/></g>
<g fill="none" stroke-opacity="0.82"><path d="M99.4 90.9Q102.8 85.4 101.7 82.9Q105 90 103.2 93.5Q99 89.7 93.6 88.2Q89.8 93 92.4 94.7Q97.9 91.1 101.6 85.6Q105.2 78.8 101.7 77.9M90.5 93.3Q87.5 88.3 83.5 84.2Q79.7 86.9 84.8 89.7Q89.4 92.5 94.7 93.6Q98.1 91.3 100.5 87.8" stroke="#6b78bc" stroke-width="0.9" stroke-linecap="round"/><path d="M84.6 85.5Q79.8 85.9 85.4 89.5Q87.7 86.2 88.2 82.2Q91.9 78.6 97 79.4Q103.3 83.2 108.9 88Q105.6 94.5 103.2 96.1Q105.3 91.9 109.4 89.7" stroke="#93a0de" stroke-width="0.9" stroke-linecap="round"/><path d="M100.5 90.7Q104.5 88 109.2 88.4" stroke="#6b78bc" stroke-width="3.1"/><path d="M100.5 90.7Q104.5 88 109.2 88.4" stroke="#93a0de" stroke-width="2.1"/><path d="M86.2 95.4Q91.9 92.2 95.5 86.7" stroke="#6b78bc" stroke-width="3.3"/><path d="M86.2 95.4Q91.9 92.2 95.5 86.7" stroke="#93a0de" stroke-width="2.3"/></g>
<g fill="none" stroke-opacity="0.82"><path d="M420.3 66.2Q418.2 68.6 417.8 71.7Q417.2 76.2 418.4 75.9Q419.4 70.6 419.2 65.2Q423.6 61.5 425.7 62.1M430.4 60.6Q437.3 58.3 435.7 60.7Q432.2 66.6 425.8 68.7Q423 64.5 418.9 61.6Q414.1 58.1 416.3 59.8Q413.2 65.1 413.6 71.2M420.2 67.4Q425.6 64.4 430.8 61.2Q434.7 62.9 435 67.1Q431.1 71.9 426.6 76" stroke="#a8f0a6" stroke-width="0.9" stroke-linecap="round"/><path d="M408.3 78.7Q414.1 78 415.6 72.4" stroke="#70c872" stroke-width="2.5"/><path d="M408.3 78.7Q414.1 78 415.6 72.4" stroke="#a8f0a6" stroke-width="1.5"/></g>
<g fill="none" stroke-opacity="0.82"><path d="M329.1 109.7Q331.1 106.9 334.5 107.2Q335.5 100.8 338.7 95.1Q340.6 89.4 344.3 93.8Q341.2 96.3 338.7 99.6Q338.6 104.7 337.5 109.7M333.5 102.7Q330.1 109.2 331.7 108.9Q334.8 113.7 335.4 119.4Q341.4 121.1 347.6 120.5Q351.4 117.9 351.2 113.4Q356.7 109.4 355.2 102.8M333.5 106.4Q338.9 104.7 344.4 105.8Q348.5 110.6 354.7 110.3Q356.2 113.8 356.2 117.6M340.6 127Q339 130.2 339.3 121.7Q344.1 124.7 345 121.4Q348.1 120.6 350.2 118.3Q355.4 116.1 354.1 114.6Q351.9 112.3 351.9 109.1" stroke="#cf7878" stroke-width="0.9" stroke-linecap="round"/><path d="M350.6 97.3Q354 90.5 350.7 83.5" stroke="#cf7878" stroke-width="2.9"/><path d="M350.6 97.3Q354 90.5 350.7 83.5" stroke="#f2a2a2" stroke-width="1.9"/><path d="M345.8 106.3Q346.2 96.2 344 86.4" stroke="#cf7878" stroke-width="2.5"/><path d="M345.8 106.3Q346.2 96.2 344 86.4" stroke="#f2a2a2" stroke-width="1.5"/><path d="M343.1 113.6Q346.1 104.7 348.3 95.4" stroke="#cf7878" stroke-width="3.2"/><path d="M343.1 113.6Q346.1 104.7 348.3 95.4" stroke="#f2a2a2" stroke-width="2.2"/><path d="M326.5 122Q333.5 116.3 339.2 109.3" stroke="#cf7878" stroke-width="2.6"/><path d="M326.5 122Q333.5 116.3 339.2 109.3" stroke="#f2a2a2" stroke-width="1.6"/></g>
<g fill="none" stroke-opacity="0.82"><path d="M422.3 80.8Q423.5 83.6 425.6 78.1Q422.6 73 426.3 68.2Q432.3 70.4 438.7 70.3" stroke="#70c872" stroke-width="0.9" stroke-linecap="round"/><path d="M413.5 77.1Q406.9 79.5 409.6 75.1Q414.5 80 421.3 80.4Q421.3 86.1 424.2 82.5Q425.9 78.6 423 75.5Q423.3 71.9 426.8 70.8M431.7 77.4Q434.4 75.1 433.4 71.6Q426.3 70.1 421.9 64.4Q418.5 63.7 416.3 61.1Q410.3 57.8 415 58.6Q415.3 66 420.5 71.2Q424.2 72.7 427.4 75" stroke="#a8f0a6" stroke-width="0.9" stroke-linecap="round"/><path d="M417.7 68.3Q424.9 64.9 429.6 58.4" stroke="#70c872" stroke-width="2.7"/><path d="M417.7 68.3Q424.9 64.9 429.6 58.4" stroke="#a8f0a6" stroke-width="1.7"/></g>
<g fill="none" stroke-opacity="0.82"><path d="M118 165.4Q122.4 159.7 119.4 153.2Q117.3 150.5 114.7 148.3Q109.2 148.1 104.4 145.3M127 137.9Q126.1 130.7 124 134.4Q119.4 133.1 116.8 137.3Q114.1 140.6 111.2 143.8M111.8 138.7Q117.4 144 122 150.1Q127.2 148.1 131.1 151.9Q135.7 153 139.1 149.8Q140.6 146.5 132.9 147.9Q128.5 148 124.5 149.7Q120.6 150.4 117.2 148.6M97.9 142.5Q101.7 139.8 106.5 139.3Q110.4 139.3 114.2 140Q113 147.4 116.6 154" stroke="#cf7878" stroke-width="0.9" stroke-linecap="round"/><path d="M96.6 147.4Q102.2 151.7 109.3 152Q110.9 146.9 111.1 141.5Q107.9 135.5 107.4 139.6" stroke="#f2a2a2" stroke-width="0.9" stroke-linecap="round"/><path d="M102.6 138.2Q108.1 134.8 114.6 133.9" stroke="#cf7878" stroke-width="3"/><path d="M102.6 138.2Q108.1 134.8 114.6 133.9" stroke="#f2a2a2" stroke-width="2"/><path d="M91.9 160Q97.9 156 105.1 156.5" stroke="#cf7878" stroke-width="3.2"/><path d="M91.9 160Q97.9 156 105.1 156.5" stroke="#f2a2a2" stroke-width="2.2"/><path d="M101.6 160.6Q106.7 156.7 109.8 151" stroke="#cf7878" stroke-width="2.9"/><path d="M101.6 160.6Q106.7 156.7 109.8 151" stroke="#f2a2a2" stroke-width="1.9"/><path d="M126 154.6Q127.7 147.6 133.7 143.6" stroke="#cf7878" stroke-width="3.2"/><path d="M126 154.6Q127.7 147.6 133.7 143.6" stroke="#f2a2a2" stroke-width="2.2"/><path d="M119.1 147Q125.5 148.7 130.1 144" stroke="#cf7878" stroke-width="2.9"/><path d="M119.1 147Q125.5 148.7 130.1 144" stroke="#f2a2a2" stroke-width="1.9"/></g>
<g fill="none" stroke-opacity="0.82"><path d="M82.4 80.4Q78.9 80.6 77.4 83.8Q72 84.3 67.4 81.5Q63.9 85.7 63.9 83.3M76.5 65.1Q71.5 63.3 70.1 64.4Q69.3 69.5 73.7 72.2Q77.5 79.2 72.8 81.5M84.3 73Q80.5 77.9 74.3 79.1Q67 78.2 61.3 73.6Q58.9 76.5 55.1 76.8" stroke="#70c872" stroke-width="0.9" stroke-linecap="round"/><path d="M70.3 80.8Q68.1 76.8 65.7 73Q61.3 68.6 63.3 67.4Q69 72.4 69 80.1Q76 81.2 75.4 82.2Q77.1 78.9 80.6 77.8M73.3 81.5Q79.1 81.2 78.8 79.4Q78.1 74.6 76.4 70Q79.5 68.6 82.9 68.2Q85.8 69.2 88.4 71Q91.4 78.1 86.1 79.6" stroke="#a8f0a6" stroke-width="0.9" stroke-linecap="round"/><path d="M50.9 84.7Q60.6 86.4 69.6 82.4" stroke="#70c872" stroke-width="2.8"/><path d="M50.9 84.7Q60.6 86.4 69.6 82.4" stroke="#a8f0a6" stroke-width="1.8"/><path d="M77.4 80.3Q84.2 80.2 89.6 76" stroke="#70c872" stroke-width="3.3"/><path d="M77.4 80.3Q84.2 80.2 89.6 76" stroke="#a8f0a6" stroke-width="2.3"/><path d="M66.4 73.3Q71.8 68.3 79.2 69.3" stroke="#70c872" stroke-width="3.5"/><path d="M66.4 73.3Q71.8 68.3 79.2 69.3" stroke="#a8f0a6" stroke-width="2.5"/><path d="M60.7 80Q69.4 75.1 78.4 71.1" stroke="#70c872" stroke-width="3.5"/><path d="M60.7 80Q69.4 75.1 78.4 71.1" stroke="#a8f0a6" stroke-width="2.5"/><path d="M42.8 82.3Q50.1 82.9 55 77.5" stroke="#70c872" stroke-width="2.7"/><path d="M42.8 82.3Q50.1 82.9 55 77.5" stroke="#a8f0a6" stroke-width="1.7"/><path d="M74.6 75.4Q80.9 72.9 87.2 75.3" stroke="#70c872" stroke-width="3.3"/><path d="M74.6 75.4Q80.9 72.9 87.2 75.3" stroke="#a8f0a6" stroke-width="2.3"/></g>
<g fill="none" stroke-opacity="0.82"><path d="M126.9 80.5Q132.7 85 135.4 91.8Q135.2 96.2 136.5 100.3Q142.5 101.4 135.8 102.9Q133.5 100.7 130.3 100.8Q123.7 104.3 116.4 102.6Q112.9 102.3 115.9 101.3M127.6 109.4Q127.7 114.8 123.4 108.8Q130.4 111.3 131.4 102.5Q132.6 108 128.9 106.6Q126.3 101.7 129.4 97.1" stroke="#70c872" stroke-width="0.9" stroke-linecap="round"/><path d="M119.8 97.9Q120.8 101.8 123 105.1Q121 108 117.5 108.1Q116.5 103 116.4 97.8Q122.7 96.3 127.4 100.7" stroke="#a8f0a6" stroke-width="0.9" stroke-linecap="round"/><path d="M108.5 106.5Q114.3 105.6 116.6 100.2" stroke="#70c872" stroke-width="3.3"/><path d="M108.5 106.5Q114.3 105.6 116.6 100.2" stroke="#a8f0a6" stroke-width="2.3"/><path d="M122.2 107.3Q128.3 105.9 132.2 100.9" stroke="#70c872" stroke-width="2.5"/><path d="M122.2 107.3Q128.3 105.9 132.2 100.9" stroke="#a8f0a6" stroke-width="1.5"/></g>
<g fill="none" stroke-opacity="0.82"><path d="M369.9 120.9Q362.6 122.4 360.4 116.7Q364.1 118.6 366.3 115.9Q360.8 116.1 356.3 113Q359.9 107.7 364 102.7" stroke="#cf7878" stroke-width="0.9" stroke-linecap="round"/><path d="M367.2 99.4Q365.1 101.8 361.9 101.5Q362.3 97.9 365.6 96.1Q368 99 370.3 102Q367.4 105.8 369.3 110.2M353.5 106.4Q357.2 113.2 361.4 115Q363.9 111.7 367.9 112.4Q371.4 113.5 375 114.3Q378.2 114.4 379.6 111.6Q384.1 106.8 381 104.4Q376.6 106.6 371.7 107M364 115.7Q362.5 110.7 358 108.2Q353.3 107.9 356.6 108.2Q360.4 112.9 361.3 118.8Q356.6 122.6 357.6 116.1" stroke="#f2a2a2" stroke-width="0.9" stroke-linecap="round"/><path d="M372 93.6Q377.7 91.5 382.6 95" stroke="#cf7878" stroke-width="3"/><path d="M372 93.6Q377.7 91.5 382.6 95" stroke="#f2a2a2" stroke-width="2"/></g>
<g fill="none" stroke-opacity="0.82"><path d="M117.4 100.1Q117.2 92.2 121.3 85.4Q127.5 84 127.9 86.2Q123.8 87.4 120 89.4Q115.8 91.4 113.2 95.3Q113.6 99.8 111.8 103.9M120.9 112.8Q115.7 107.9 115.8 101Q120.2 97.4 125.7 98.7Q131 94.1 129.6 87.2Q125.6 83.4 123.7 86.1Q119 89.6 113.7 86.8M113.5 101.3Q117.2 102.4 120.6 100.6Q127.1 102.2 132.3 98Q136.3 91.9 135.5 93.1" stroke="#93a0de" stroke-width="0.9" stroke-linecap="round"/><path d="M121.8 112.5Q119.1 104.6 118.9 96.2" stroke="#6b78bc" stroke-width="2.4"/><path d="M121.8 112.5Q119.1 104.6 118.9 96.2" stroke="#93a0de" stroke-width="1.4"/><path d="M126 94.6Q131.8 88.9 137.3 82.8" stroke="#6b78bc" stroke-width="2.5"/><path d="M126 94.6Q131.8 88.9 137.3 82.8" stroke="#93a0de" stroke-width="1.5"/></g>
<g fill="none" stroke-opacity="0.82"><path d="M187.1 98.1Q182.9 98.8 179.5 101.3Q174.7 104 171.5 108.5Q167 108.9 176.6 106Q179.1 108.5 178.9 112Q175.6 116.2 181.2 114.1M215.5 113.3Q216.4 106.4 212.1 100.8Q214 97.6 214.6 93.9Q218.5 94.5 211.8 98.7Q206.1 94.8 199.8 97.5Q200.6 101 198 103.5M184.6 118.7Q189 122.2 194.5 121.2Q197.5 125 195.5 129.4Q191 130.5 186.6 128.9Q182 128.4 186.1 121.9Q183.9 116.4 184.1 110.4" stroke="#70c872" stroke-width="0.9" stroke-linecap="round"/><path d="M184 83Q181.9 76.1 183.2 87.3Q182.6 90.7 184.8 93.4Q190.4 90.5 191 84.2M216.4 114.1Q216.5 110.1 216.5 106.2Q210.8 102 204.6 105.3Q199.1 101.1 192.1 101.3Q188.6 99.1 185.1 96.9Q182.1 99.7 182.7 103.7Q177.9 105.9 173.5 103.1M207.1 92.2Q202.6 93.1 199.5 89.8Q192.7 92.7 187.3 87.7Q183.2 90.2 179.1 87.7Q180.7 84.8 182.9 82.3" stroke="#a8f0a6" stroke-width="0.9" stroke-linecap="round"/><path d="M202.9 105.3Q206.4 97 206.3 87.9" stroke="#70c872" stroke-width="2.7"/><path d="M202.9 105.3Q206.4 97 206.3 87.9" stroke="#a8f0a6" stroke-width="1.7"/><path d="M172.4 111.7Q178.2 102.3 186.1 94.7" stroke="#70c872" stroke-width="2.9"/><path d="M172.4 111.7Q178.2 102.3 186.1 94.7" stroke="#a8f0a6" stroke-width="1.9"/><path d="M197.2 126.8Q197.9 117.3 198.4 107.7" stroke="#70c872" stroke-width="2.7"/><path d="M197.2 126.8Q197.9 117.3 198.4 107.7" stroke="#a8f0a6" stroke-width="1.7"/><path d="M182.5 124.9Q181.2 116.7 185.9 109.9" stroke="#70c872" stroke-width="2.9"/><path d="M182.5 124.9Q181.2 116.7 185.9 109.9" stroke="#a8f0a6" stroke-width="1.9"/><path d="M187.9 91.4Q196.1 86.9 203.1 80.7" stroke="#70c872" stroke-width="2.6"/><path d="M187.9 91.4Q196.1 86.9 203.1 80.7" stroke="#a8f0a6" stroke-width="1.6"/><path d="M190.6 113.4Q196.5 106.2 198.9 97.3" stroke="#70c872" stroke-width="2.9"/><path d="M190.6 113.4Q196.5 106.2 198.9 97.3" stroke="#a8f0a6" stroke-width="1.9"/></g>
<g fill="none" stroke-opacity="0.82"><path d="M193 129.9Q191.6 134.8 190 135.5Q194.9 134.7 198.5 131.4Q196 128.3 192 128.1Q191.3 123.6 189.4 123.4Q184 126.8 179.1 131.1" stroke="#70c872" stroke-width="0.9" stroke-linecap="round"/><path d="M202.7 129.9Q208.6 135.1 205.8 133.8Q203.7 139.7 194.5 136Q196.8 128.7 195 121.3Q194.1 114.9 194.7 117.3Q194.6 124.6 200.7 128.7" stroke="#a8f0a6" stroke-width="0.9" stroke-linecap="round"/><path d="M184.6 136.9Q185.5 130.1 191 126" stroke="#70c872" stroke-width="2.5"/><path d="M184.6 136.9Q185.5 130.1 191 126" stroke="#a8f0a6" stroke-width="1.5"/><path d="M185.1 132.1Q190.1 126.7 196 122.4" stroke="#70c872" stroke-width="3.4"/><path d="M185.1 132.1Q190.1 126.7 196 122.4" stroke="#a8f0a6" stroke-width="2.4"/></g>
<g fill="none" stroke-opacity="0.82"><path d="M426.8 83.6Q426.2 90.5 431.1 88Q429.1 85.5 426.9 83.3Q430.3 79.3 435.4 79.9Q436 86.4 436.6 85.4Q432.2 79.1 434.9 71.9" stroke="#cf7878" stroke-width="0.9" stroke-linecap="round"/><path d="M439.9 70.4Q437.8 66.1 433.4 64.1Q425.5 63.4 424.7 71.7Q431.4 73.7 438.2 75.1M431.1 66.7Q435.3 65.4 436.5 69.2Q437.4 73.8 441.1 76.5Q446.5 72.7 443.6 71.3Q442 78 438.2 83.8" stroke="#f2a2a2" stroke-width="0.9" stroke-linecap="round"/><path d="M421 69.9Q426.6 66.2 432.8 68.9" stroke="#cf7878" stroke-width="2.5"/><path d="M421 69.9Q426.6 66.2 432.8 68.9" stroke="#f2a2a2" stroke-width="1.5"/></g>
<g fill="none" stroke-opacity="0.82"><path d="M437.5 75.1Q433.3 81.3 425.9 80.9Q422.7 80.4 420.7 77.9Q422.3 74.6 425.4 72.6Q423.9 68.2 425.2 69.5Q431 67.3 435.2 71.9Q440.4 77.6 441.5 78.2M424.7 79.1Q425.8 72.3 424.8 71.4Q430 66.6 430.6 66.1Q428.4 72.9 421.5 74.7Q418.4 75.5 421.9 75.8Q427.9 76.8 432.2 81" stroke="#cf7878" stroke-width="0.9" stroke-linecap="round"/><path d="M438.6 68.4Q432.6 68 428.5 63.7Q424.3 61.5 424.8 66.1Q422.9 70.6 423.7 73.5M443.4 78.3Q438.8 77.2 435.6 73.8Q435.7 67.3 435.2 67Q440.9 69.4 444.5 74.4" stroke="#f2a2a2" stroke-width="0.9" stroke-linecap="round"/><path d="M426.8 76.1Q432 71.8 436.6 66.9" stroke="#cf7878" stroke-width="2.9"/><path d="M426.8 76.1Q432 71.8 436.6 66.9" stroke="#f2a2a2" stroke-width="1.9"/><path d="M427.4 69Q435 67.3 442.8 67.9" stroke="#cf7878" stroke-width="3.3"/><path d="M427.4 69Q435 67.3 442.8 67.9" stroke="#f2a2a2" stroke-width="2.3"/></g>
<g fill="none" stroke-opacity="0.82"><path d="M186 125.7Q188.8 130.4 190.5 135.6Q190.1 140.1 188.6 137.9Q186.7 135.3 184.1 133.4Q183.8 129.8 182 126.7Q178.7 125.4 183 124.7Q182.7 128.3 182.9 131.9M193.6 127.5Q195.5 123.4 199.9 122.5Q205 125.4 204.9 131.3Q198.5 133.4 191.9 134.9Q192.4 139 190.8 137.4Q185.7 133.8 179.6 132.4Q172.6 133.3 176.2 128.9" stroke="#a8f0a6" stroke-width="0.9" stroke-linecap="round"/><path d="M190.9 142Q193.7 135.6 198.5 130.4" stroke="#70c872" stroke-width="2.5"/><path d="M190.9 142Q193.7 135.6 198.5 130.4" stroke="#a8f0a6" stroke-width="1.5"/><path d="M192.2 141.7Q196 134.2 198.6 126.2" stroke="#70c872" stroke-width="3"/><path d="M192.2 141.7Q196 134.2 198.6 126.2" stroke="#a8f0a6" stroke-width="2"/></g>
<g fill="none" stroke-opacity="0.82"><path d="M127.2 72.9Q121.6 70.2 115.5 70.9Q111.6 68.9 107.9 66.6Q110 60.9 108.3 61" stroke="#70c872" stroke-width="0.9" stroke-linecap="round"/><path d="M123.9 64.2Q117.1 67 113.5 73.4Q115.9 75.4 118.1 77.6Q120.2 81.8 115.5 79.9Q115.4 72.8 112.8 66.1Q115.4 61.1 121 61.5Q127.1 66.2 123.6 69.7M123.4 70Q116.6 71.6 110.1 74.3Q107.1 77.2 103 77.2Q96.3 81.4 96.5 78.2Q98.5 74 103.1 74.1M109.1 77Q110.8 79.8 110.4 77.7Q104.6 78.2 98.9 76.8Q95.1 71.5 88.8 73Q90.4 79.3 97.9 79.5" stroke="#a8f0a6" stroke-width="0.9" stroke-linecap="round"/><path d="M91 64.6Q94.4 59.3 100.6 60.4" stroke="#70c872" stroke-width="3.4"/><path d="M91 64.6Q94.4 59.3 100.6 60.4" stroke="#a8f0a6" stroke-width="2.4"/><path d="M120.2 71.5Q126.5 69.7 129.5 63.9" stroke="#70c872" stroke-width="2.8"/><path d="M120.2 71.5Q126.5 69.7 129.5 63.9" stroke="#a8f0a6" stroke-width="1.8"/><path d="M92.3 67.3Q98.2 63.1 101 56.4" stroke="#70c872" stroke-width="3"/><path d="M92.3 67.3Q98.2 63.1 101 56.4" stroke="#a8f0a6" stroke-width="2"/></g>
<g fill="none" stroke-opacity="0.82"><path d="M161 85.5Q167 89.4 163.9 93.8Q163.7 87.4 161.1 87.8Q162.5 91.9 165.5 95Q170.7 93.3 164.8 91.7Q159.2 94.5 152.9 95.2M140.6 86.2Q137.7 93 139.5 97Q137.4 93.5 136.1 89.6Q135.4 86.5 139.5 89.2Q144.5 92.5 150 90.1Q153.8 91.9 157.1 94.5Q160.5 97.7 159.3 102.2M148.2 90.7Q144.8 92 144.6 95.7Q142.6 103.3 146.9 104.5Q143.7 101.1 143 96.6Q141.6 89.8 134.8 88.4Q132.5 91.8 138.9 95.4" stroke="#6b78bc" stroke-width="0.9" stroke-linecap="round"/><path d="M137.2 94.8Q132.4 97.3 137.9 99.2Q134.8 94.7 137.6 95.2Q140.3 88.3 144.2 82.1" stroke="#93a0de" stroke-width="0.9" stroke-linecap="round"/><path d="M134.5 92.6Q139.7 88.1 144 82.9" stroke="#6b78bc" stroke-width="2.9"/><path d="M134.5 92.6Q139.7 88.1 144 82.9" stroke="#93a0de" stroke-width="1.9"/><path d="M143.7 107.3Q150.5 105.3 156.7 108.9" stroke="#6b78bc" stroke-width="2.9"/><path d="M143.7 107.3Q150.5 105.3 156.7 108.9" stroke="#93a0de" stroke-width="1.9"/></g>
<g fill="none" stroke-opacity="0.82"><path d="M427.5 105.3Q422.8 101.5 419 96.8Q415.8 89.5 414.9 81.7Q421 77.5 428.3 78.9Q431.9 77.9 434.3 80.7M431.8 77.2Q431.5 71.7 421 81Q419.8 86.1 415 88.3Q410.8 92.5 408.6 98Q411.9 102.5 415.7 106.6Q422.5 109.1 427.8 114Q431.4 120.8 423.6 117.9M392.3 95Q391.1 89.7 397.3 91.7Q400.7 96.6 403.2 102Q398.9 105.2 395.4 109.2Q393.1 111.1 393.8 114Q401.1 112.6 406.8 117.3Q407 121.6 406.1 125.8M410.8 92.8Q414.6 94.2 418.3 96Q423.1 89.9 430.8 89.4Q437 94.4 429.8 97.4M407.3 109.9Q410.8 103.5 414.8 97.3Q412.8 94.2 413.6 90.5Q410 85.8 404.9 82.6" stroke="#6b78bc" stroke-width="0.9" stroke-linecap="round"/><path d="M422 79.3Q422.9 74.8 427 73Q430.4 78.6 434.8 83.3Q438.6 84.6 439.8 88.3Q434.2 91.5 428.4 88.5Q425 88.7 421.6 89Q421.1 83 425.2 78.6M417.7 110.2Q423.4 105.9 423.3 98.9Q421.9 96 423.5 93.3Q428.3 87.6 434.4 83.2" stroke="#93a0de" stroke-width="0.9" stroke-linecap="round"/><path d="M418.7 91.7Q429.1 84 437.8 74.3" stroke="#6b78bc" stroke-width="3.5"/><path d="M418.7 91.7Q429.1 84 437.8 74.3" stroke="#93a0de" stroke-width="2.5"/><path d="M383.9 133.1Q390.6 124.9 398.8 118" stroke="#6b78bc" stroke-width="3.4"/><path d="M383.9 133.1Q390.6 124.9 398.8 118" stroke="#93a0de" stroke-width="2.4"/><path d="M411 108.2Q416.2 99.2 425.6 94.3" stroke="#6b78bc" stroke-width="2.7"/><path d="M411 108.2Q416.2 99.2 425.6 94.3" stroke="#93a0de" stroke-width="1.7"/><path d="M421.2 115.2Q426.7 107.7 432.7 100.5" stroke="#6b78bc" stroke-width="2.9"/><path d="M421.2 115.2Q426.7 107.7 432.7 100.5" stroke="#93a0de" stroke-width="1.9"/><path d="M381.9 118Q386.5 109.3 395.4 105.2" stroke="#6b78bc" stroke-width="2.5"/><path d="M381.9 118Q386.5 109.3 395.4 105.2" stroke="#93a0de" stroke-width="1.5"/><path d="M407.2 82.5Q415.3 75.8 418.1 65.7" stroke="#6b78bc" stroke-width="3"/><path d="M407.2 82.5Q415.3 75.8 418.1 65.7" stroke="#93a0de" stroke-width="2"/><path d="M376 122.2Q384.6 116.1 391.4 108" stroke="#6b78bc" stroke-width="3.4"/><path d="M376 122.2Q384.6 116.1 391.4 108" stroke="#93a0de" stroke-width="2.4"/></g>
<g fill="none" stroke-opacity="0.92"><path d="M270.6 40.6 A41 41 0 0 1 316.7 74.1" stroke="#70c872" stroke-width="3.8"/><path d="M270.6 40.6 A41 41 0 0 1 316.7 74.1" stroke="#a8f0a6" stroke-width="2.8"/></g>
<g fill="none" stroke-opacity="0.82"><path d="M347.4 87.2Q349.3 83.8 346 89.9Q339 93 332 96.2Q332.4 99.6 330.2 102.2M322.6 92.7Q330.1 93.1 336.3 88.9Q344.2 89.4 352.1 88.8Q357.3 83.1 350.1 86.2Q349.5 91.2 353.5 94.3Q357.5 92 351.6 96.6M328.8 91.9Q328.2 97.3 330.4 102.2Q332.4 107 336.5 110Q340.1 110.7 342.4 107.9Q342.7 101.7 337.2 99.1Q334.9 103 330.4 103.9M350.2 89.1Q345.2 88.1 340 88.5Q338.5 83.2 337.3 87.4Q335.1 89.5 335.8 92.5Q340.4 94 341.5 98.7" stroke="#70c872" stroke-width="0.9" stroke-linecap="round"/><path d="M356.4 107.3Q351.8 106.3 347.6 104.2Q344.7 102.3 343.7 99.1Q344.8 94.1 344 89Q344.8 83.6 343.6 88.7Q338 93.1 331.9 96.9" stroke="#a8f0a6" stroke-width="0.9" stroke-linecap="round"/><path d="M348.7 100.5Q352.3 96.9 357.1 95" stroke="#70c872" stroke-width="3.4"/><path d="M348.7 100.5Q352.3 96.9 357.1 95" stroke="#a8f0a6" stroke-width="2.4"/><path d="M348.3 100.2Q351.5 92.6 352 84.3" stroke="#70c872" stroke-width="3.3"/><path d="M348.3 100.2Q351.5 92.6 352 84.3" stroke="#a8f0a6" stroke-width="2.3"/><path d="M317.8 112.9Q321.4 108.5 326.5 106" stroke="#70c872" stroke-width="2.7"/><path d="M317.8 112.9Q321.4 108.5 326.5 106" stroke="#a8f0a6" stroke-width="1.7"/></g>
<g fill="none" stroke-opacity="0.82"><path d="M10.2 90.4Q11.6 87.2 13.6 84.3Q17.4 85.7 20.7 83.3Q23.2 79.9 23.3 84.2" stroke="#cf7878" stroke-width="0.9" stroke-linecap="round"/><path d="M14.3 96.3Q9.9 98.9 4.9 98.5Q2.1 103.2 10.6 102.7Q10.4 95.8 11.4 89.1M15.3 93.5Q12.4 88.7 14.2 88Q13.2 91.1 10.1 92.1Q4 88 8.8 86.6Q11.7 90.6 16.7 90.7" stroke="#f2a2a2" stroke-width="0.9" stroke-linecap="round"/><path d="M18.2 98.8Q24.3 94.5 24.5 87" stroke="#cf7878" stroke-width="3"/><path d="M18.2 98.8Q24.3 94.5 24.5 87" stroke="#f2a2a2" stroke-width="2"/><path d="M18.8 89Q24.3 89.1 27.7 84.9" stroke="#cf7878" stroke-width="3"/><path d="M18.8 89Q24.3 89.1 27.7 84.9" stroke="#f2a2a2" stroke-width="2"/><path d="M16.9 88.7Q25.3 87 29.6 79.7" stroke="#cf7878" stroke-width="3.3"/><path d="M16.9 88.7Q25.3 87 29.6 79.7" stroke="#f2a2a2" stroke-width="2.3"/></g>
<g fill="none" stroke-opacity="0.82"><path d="M130.7 93.4Q127.3 99 126.6 105.6Q130.2 110 130.3 106.7Q130.7 100.4 127.2 95.1Q131 92.4 131.5 87.8Q128.1 82.5 125.3 85.7M130 107.2Q125.2 103.6 120.1 100.5Q116.9 105 118.7 110.2Q118.3 113.9 119.1 110.4M128.5 88.9Q129.4 95 134.9 97.8Q137.6 100.1 132.4 102Q128.2 101.2 125.4 98" stroke="#cf7878" stroke-width="0.9" stroke-linecap="round"/><path d="M118.5 97.2Q116.1 90.6 116.9 90.4Q114.3 95.3 114.7 100.7Q112.4 104.6 114.7 108.5Q118.9 114 121 112.5Q116.3 111.1 112.3 108.2" stroke="#f2a2a2" stroke-width="0.9" stroke-linecap="round"/><path d="M123.2 115.3Q128.1 108.3 135.5 104.1" stroke="#cf7878" stroke-width="3.1"/><path d="M123.2 115.3Q128.1 108.3 135.5 104.1" stroke="#f2a2a2" stroke-width="2.1"/><path d="M120.8 115.8Q126.1 109 132.1 102.9" stroke="#cf7878" stroke-width="2.8"/><path d="M120.8 115.8Q126.1 109 132.1 102.9" stroke="#f2a2a2" stroke-width="1.8"/></g>
<g fill="none" stroke-opacity="0.82"><path d="M35.7 128.1Q36.2 124.3 39.1 121.6Q41.1 114.9 48 113.9Q52.4 111.6 48.4 115Q47.4 111.3 43.8 109.7M41.3 120Q39.8 117 36.8 115.8Q35.2 118.9 33.9 122.2Q40.7 125.3 46.8 120.9M35.4 111.4Q38.7 106.6 39.2 107.3Q43.3 109.5 46.6 112.8Q48.8 115.3 47.4 118.3Q39.7 120 36.7 127.3Q37.7 130.3 36.4 126.4" stroke="#cf7878" stroke-width="0.9" stroke-linecap="round"/><path d="M30 126.9Q29.6 123.3 31.8 120.6Q34.3 115.7 39.5 114Q43.9 110.7 49.3 109.5Q50.4 114.1 47.8 118.1" stroke="#f2a2a2" stroke-width="0.9" stroke-linecap="round"/><path d="M45.3 119.5Q49 115.5 48.1 110.2" stroke="#cf7878" stroke-width="3.4"/><path d="M45.3 119.5Q49 115.5 48.1 110.2" stroke="#f2a2a2" stroke-width="2.4"/><path d="M29.2 117.4Q32.7 113.3 36.1 109.2" stroke="#cf7878" stroke-width="2.4"/><path d="M29.2 117.4Q32.7 113.3 36.1 109.2" stroke="#f2a2a2" stroke-width="1.4"/><path d="M45.1 128.2Q47.1 119.2 53.4 112.4" stroke="#cf7878" stroke-width="3.2"/><path d="M45.1 128.2Q47.1 119.2 53.4 112.4" stroke="#f2a2a2" stroke-width="2.2"/><path d="M38.1 126.7Q45.6 125 52.1 120.9" stroke="#cf7878" stroke-width="2.7"/><path d="M38.1 126.7Q45.6 125 52.1 120.9" stroke="#f2a2a2" stroke-width="1.7"/></g>
<g fill="none" stroke-opacity="0.82"><path d="M105.1 80.5Q101.9 80.7 98.7 80.2Q96.2 85.4 90.9 87.6Q91.4 95.2 91.6 96.6Q90 93 87.9 89.6Q90.9 84.5 88.6 79.1M95.5 82.5Q92.9 88.6 95.7 94.6Q98.2 96.9 96.6 95.2Q96 89.3 96.7 83.5" stroke="#6b78bc" stroke-width="0.9" stroke-linecap="round"/><path d="M94.7 86.9Q96.1 81.1 94 81Q93.6 85.2 92.5 89.4Q87.1 95 91.9 96.7Q84.6 94.3 85.2 89.5Q90 89 94.7 88.2" stroke="#93a0de" stroke-width="0.9" stroke-linecap="round"/><path d="M90.4 91Q96 92.7 100.8 89.4" stroke="#6b78bc" stroke-width="3.3"/><path d="M90.4 91Q96 92.7 100.8 89.4" stroke="#93a0de" stroke-width="2.3"/><path d="M81.8 89.2Q87.8 87.6 94 87.9" stroke="#6b78bc" stroke-width="2.8"/><path d="M81.8 89.2Q87.8 87.6 94 87.9" stroke="#93a0de" stroke-width="1.8"/></g>
<g fill="none" stroke-opacity="0.82"><path d="M98.6 147.8Q93.2 150.9 99.8 153.3Q100.5 149.9 102.7 147.2Q106.5 148.1 109.9 149.7Q115.2 146.5 120.4 143.1M105.2 164.6Q102.3 162.5 101 159.2Q98.4 154.4 93 154.8Q90.2 158.7 100.5 158.5Q99.3 152.3 98.6 146.1M130.6 157.8Q130 161.1 126.8 162.2Q128.7 168.5 126.2 164.8Q121.3 165.1 116.3 165.3M131.6 162.2Q133.4 164.8 127.9 160.8Q126.8 153.8 126.7 146.8Q127.7 143.6 127.1 140.3Q132.1 138.9 129.2 143.6Q123 148.3 116.1 152.1Q113.1 147.2 112.2 141.6" stroke="#70c872" stroke-width="0.9" stroke-linecap="round"/><path d="M133.3 149.6Q138.6 148.2 142.9 144.7" stroke="#70c872" stroke-width="3.1"/><path d="M133.3 149.6Q138.6 148.2 142.9 144.7" stroke="#a8f0a6" stroke-width="2.1"/><path d="M114.5 145.3Q121.8 141 124.9 133.1" stroke="#70c872" stroke-width="2.9"/><path d="M114.5 145.3Q121.8 141 124.9 133.1" stroke="#a8f0a6" stroke-width="1.9"/><path d="M110.9 171Q118.9 166.8 127.8 165.5" stroke="#70c872" stroke-width="2.5"/><path d="M110.9 171Q118.9 166.8 127.8 165.5" stroke="#a8f0a6" stroke-width="1.5"/><path d="M95.8 153.3Q98.6 149.4 100.5 145" stroke="#70c872" stroke-width="2.5"/><path d="M95.8 153.3Q98.6 149.4 100.5 145" stroke="#a8f0a6" stroke-width="1.5"/></g>
<g fill="none" stroke-opacity="0.82"><path d="M97.4 98.3Q96.9 92.5 101 93.5Q95.8 93.3 96.4 93.1Q99.7 93.7 103 93.5" stroke="#6b78bc" stroke-width="0.9" stroke-linecap="round"/><path d="M107.8 103.3Q106.9 106.4 104.7 108.8Q103.5 114.9 101 112.5Q98.8 105 91 104.3M91.7 95Q93.9 100.2 98.2 103.8Q99.7 107.9 101.8 106.4Q98.8 104.6 96.5 101.9Q96.6 98 96.8 94.2Q93.2 94 89.5 93.8M108.6 95.1Q114.5 97.2 109.4 102Q111.4 95.7 104.7 94.1Q101.3 97.3 98.2 100.9" stroke="#93a0de" stroke-width="0.9" stroke-linecap="round"/><path d="M106.1 99.2Q110.4 98.4 114.8 98.6" stroke="#6b78bc" stroke-width="3.1"/><path d="M106.1 99.2Q110.4 98.4 114.8 98.6" stroke="#93a0de" stroke-width="2.1"/></g>
<g fill="none" stroke-opacity="0.82"><path d="M150.6 56.3Q147.5 51.9 153 54.2Q159.1 50 166.8 53.3Q167.3 60.9 161.5 65.8Q165.3 71.1 170.1 68.7Q163.6 65.7 161.1 63.9M151.8 61.2Q149.8 58.4 155.1 59.8Q159.5 60.4 163.5 62.4Q164.3 67.6 167.9 67.8Q161.3 65.3 158.4 58.8Q154.6 58.2 151.3 60.2M166.7 67.7Q163.2 68.8 163 65.4Q168.3 60.9 170.6 58Q165.3 56.6 165.5 55.5" stroke="#cf7878" stroke-width="0.9" stroke-linecap="round"/><path d="M163 62.1Q168.8 61 174.4 62.8" stroke="#cf7878" stroke-width="3.1"/><path d="M163 62.1Q168.8 61 174.4 62.8" stroke="#f2a2a2" stroke-width="2.1"/><path d="M168.3 66.5Q173 69.6 178.6 70.6" stroke="#cf7878" stroke-width="2.9"/><path d="M168.3 66.5Q173 69.6 178.6 70.6" stroke="#f2a2a2" stroke-width="1.9"/><path d="M178.6 65.3Q186.4 65.6 194 66.7" stroke="#cf7878" stroke-width="3.1"/><path d="M178.6 65.3Q186.4 65.6 194 66.7" stroke="#f2a2a2" stroke-width="2.1"/></g>
<g fill="none" stroke-opacity="0.82"><path d="M114.1 103.9Q118.8 103.4 121.6 99.7Q119.6 95.3 121.2 90.9Q129 90.7 131.2 91.5Q127.5 97.9 120.6 100.5M119.5 86.4Q120.3 80.5 122.9 84.1Q127.4 86.2 129.9 90.5Q130.3 94.9 128 98.7Q128.7 104.3 130.4 109.8Q124.5 111.9 118.7 109.6M125.5 103.5Q123.4 97.2 119.8 91.7Q122.7 85.1 121.1 86.4Q123 88.8 124.7 91.4Q124.4 95.9 123.1 100.2Q124.3 108.1 118.7 113.7M122.2 88.8Q116.2 86.8 117.1 88.2Q121.5 94.3 119.2 101.4Q112.8 104.6 113.1 102.5Q114.7 105.7 114.7 109.4" stroke="#93a0de" stroke-width="0.9" stroke-linecap="round"/><path d="M117.6 96.6Q119.8 88.7 115.4 81.7" stroke="#6b78bc" stroke-width="3.3"/><path d="M117.6 96.6Q119.8 88.7 115.4 81.7" stroke="#93a0de" stroke-width="2.3"/><path d="M115.9 108.1Q117.3 102.2 117.8 96.2" stroke="#6b78bc" stroke-width="2.7"/><path d="M115.9 108.1Q117.3 102.2 117.8 96.2" stroke="#93a0de" stroke-width="1.7"/></g>
<g fill="none" stroke-opacity="0.82"><path d="M151.2 81.6Q151.1 76.3 148.4 71.8Q143.5 74 138.3 74.9Q135.4 81.6 140.2 81.3Q144.8 86.7 152.9 86.4M161.1 69.9Q158.8 75.1 154.2 78.7Q151.2 83.7 145.3 84Q141.9 80.6 137.5 82.3Q135.9 84.9 145.7 83.8Q140.3 85.8 144.1 83.7M175.9 81.4Q174.3 88.5 163.8 86.2Q164.1 83.2 166 80.9Q170.1 78.3 169.5 73.6Q168 69.6 163.6 70.5Q159.7 71.2 158.2 75Q155.2 76.9 154.1 80.2M142 72.6Q142.3 69.1 147.3 70.9Q152.8 76.5 151.9 84.2Q151.8 89.3 153.6 87.7" stroke="#70c872" stroke-width="0.9" stroke-linecap="round"/><path d="M156.7 91Q168.9 91.8 179.8 86.1" stroke="#70c872" stroke-width="3.4"/><path d="M156.7 91Q168.9 91.8 179.8 86.1" stroke="#a8f0a6" stroke-width="2.4"/><path d="M152.3 80.9Q161.7 82.4 170.1 86.7" stroke="#70c872" stroke-width="3.4"/><path d="M152.3 80.9Q161.7 82.4 170.1 86.7" stroke="#a8f0a6" stroke-width="2.4"/><path d="M167.2 79.6Q179 80.8 190.5 83.5" stroke="#70c872" stroke-width="2.7"/><path d="M167.2 79.6Q179 80.8 190.5 83.5" stroke="#a8f0a6" stroke-width="1.7"/><path d="M128.9 71.6Q140.7 69.4 152.7 68.8" stroke="#70c872" stroke-width="3.4"/><path d="M128.9 71.6Q140.7 69.4 152.7 68.8" stroke="#a8f0a6" stroke-width="2.4"/><path d="M143.2 70.6Q152.7 68.9 162.3 67.5" stroke="#70c872" stroke-width="3.4"/><path d="M143.2 70.6Q152.7 68.9 162.3 67.5" stroke="#a8f0a6" stroke-width="2.4"/></g>
<g fill="none" stroke-opacity="0.82"><path d="M124.5 123.4Q127.6 128.1 127.1 133.6Q124.1 139.1 123.1 135.9Q127.6 130 134.4 127Q137.3 124.9 132.3 124.7Q128.1 120.3 122 120.4Q121.4 116 119.6 111.9M116.6 132.2Q116.2 138.6 119.4 135.4Q115.9 137.1 112.5 135.2Q107.2 138.7 108.8 133.4Q112.7 133.9 115.6 131.4M130.1 112.5Q133.6 113 130.2 117.2Q125.3 115.9 120.4 114.8Q120.4 107.3 119.5 108.7Q123.4 108.7 126.7 106.5Q129.8 103.6 126.9 108.7Q131.5 111.7 129.8 117.6" stroke="#cf7878" stroke-width="0.9" stroke-linecap="round"/><path d="M130.5 114.3Q133.8 111.1 128.4 112.7Q131.5 113.5 128.5 115.9Q125.5 120.5 128 125.3Q133.6 130 129.4 130.9" stroke="#f2a2a2" stroke-width="0.9" stroke-linecap="round"/><path d="M117.2 130.1Q119.1 123.9 124.2 119.8" stroke="#cf7878" stroke-width="2.6"/><path d="M117.2 130.1Q119.1 123.9 124.2 119.8" stroke="#f2a2a2" stroke-width="1.6"/><path d="M108.1 122.1Q113.2 114.1 119.3 106.8" stroke="#cf7878" stroke-width="3"/><path d="M108.1 122.1Q113.2 114.1 119.3 106.8" stroke="#f2a2a2" stroke-width="2"/><path d="M118.6 116.6Q120.5 109.6 125.6 104.4" stroke="#cf7878" stroke-width="2.8"/><path d="M118.6 116.6Q120.5 109.6 125.6 104.4" stroke="#f2a2a2" stroke-width="1.8"/><path d="M119.1 117.9Q122.9 109.4 129.8 103.1" stroke="#cf7878" stroke-width="2.9"/><path d="M119.1 117.9Q122.9 109.4 129.8 103.1" stroke="#f2a2a2" stroke-width="1.9"/><path d="M115 127.2Q120.2 119.9 119.3 111.1" stroke="#cf7878" stroke-width="3.1"/><path d="M115 127.2Q120.2 119.9 119.3 111.1" stroke="#f2a2a2" stroke-width="2.1"/></g>
<g fill="none" stroke-opacity="0.82"><path d="M216.7 102.6Q216.9 96.1 214.3 90.1Q208.7 86.9 208.5 94.9Q207.6 88.7 209.4 90.3Q206.6 96.4 209.6 102.2Q212.4 97.7 213.4 92.4M215 99.9Q213.4 105 215.4 109.9Q218.9 112.6 220.2 109Q216.4 105.2 211.2 106.6Q212 112.5 216.5 109.9Q211.9 108.6 210.6 105.6" stroke="#70c872" stroke-width="0.9" stroke-linecap="round"/><path d="M213.6 96.9Q213.4 92.8 217.2 91.1Q221.3 87.9 220.6 90.4Q213.2 93.4 210.1 98.5Q214 101.7 218.4 104Q219.4 111.8 215.8 111.6Q222.3 108.7 223.3 108M221.3 94.1Q214.6 95.3 208.3 97.7Q208.4 104.9 208 106.1Q212.1 106.2 216.2 106.3Q221 106.7 221.9 104.6Q214 105.2 210.2 102.5Q208.9 109.9 214.3 110.1" stroke="#a8f0a6" stroke-width="0.9" stroke-linecap="round"/><path d="M208.9 100.1Q214.1 102.2 217.4 97.7" stroke="#70c872" stroke-width="3.3"/><path d="M208.9 100.1Q214.1 102.2 217.4 97.7" stroke="#a8f0a6" stroke-width="2.3"/></g>
<g fill="none" stroke-opacity="0.82"><path d="M156.7 94.7Q149 92.7 148.1 84.8Q151.4 81.9 153.3 86.3Q146 88.8 139.1 92.3Q137.2 94.7 135.5 97.4Q132.6 100.9 140.3 101.2" stroke="#6b78bc" stroke-width="0.9" stroke-linecap="round"/><path d="M142.5 95.3Q146 93.2 148.2 89.7Q154.3 91.5 159.9 94.4Q160.8 100.1 159.7 105.7Q155.1 109.1 149.4 109.5Q148.3 117.4 145.9 112.1M145.1 86.6Q145 82.6 146.4 85.3Q151.5 85.7 155.9 83.3Q159.6 79.7 158.1 83.8Q159.7 91 166 94.6Q167.9 97.7 160.5 98.9Q165.9 93.1 162.8 90.3M146 99Q149.7 103.1 155.2 104.2Q159.1 104.7 157.2 102.3Q152.2 96.4 146.8 90.9Q149.9 83.6 151.8 83.8Q148.2 86 148.2 90.3" stroke="#93a0de" stroke-width="0.9" stroke-linecap="round"/><path d="M149 97Q157.8 98.4 165.3 93.5" stroke="#6b78bc" stroke-width="3.1"/><path d="M149 97Q157.8 98.4 165.3 93.5" stroke="#93a0de" stroke-width="2.1"/><path d="M140.2 98.3Q148.1 95.9 152.7 88.9" stroke="#6b78bc" stroke-width="2.6"/><path d="M140.2 98.3Q148.1 95.9 152.7 88.9" stroke="#93a0de" stroke-width="1.6"/><path d="M147.2 83.9Q153.7 86.6 160 83.4" stroke="#6b78bc" stroke-width="2.7"/><path d="M147.2 83.9Q153.7 86.6 160 83.4" stroke="#93a0de" stroke-width="1.7"/></g>
<g fill="none" stroke-opacity="0.82"><path d="M276.2 56.1Q279.1 51.2 284.8 50.8Q287.3 52.8 290.5 53.3Q294.7 54 296.5 57.9Q298.6 63.1 302.8 67M307.4 57.6Q311.1 58.4 303.8 61Q304.7 56.8 303 52.9Q298.7 54.5 294.1 54.9M293.6 49Q300.4 48.8 300.1 52.1Q300.3 59.6 307.3 62.1Q312.7 67.3 306.6 67.8Q306.4 64.1 308.2 60.9Q313.5 55.3 303 52.7M301.9 51.4Q298.6 48.6 295 46.1Q294.7 42.7 291.8 40.8Q287.4 37 281.8 38.6Q277.4 33 283.9 39.8Q279.5 38.3 281.6 45.3M289.1 46.2Q289.2 53.6 287.4 60.8Q289.1 65.5 291.7 69.8Q294.7 71.3 297.7 70.1Q298 66.1 296.6 62.3Q290.5 62.5 286.1 66.7" stroke="#70c872" stroke-width="0.9" stroke-linecap="round"/><path d="M301.8 57.1Q298.2 60.2 297.1 64.9Q295.1 72.3 291.1 78.9Q287.2 78.3 283.3 77.6Q282.9 71.7 286.4 67.1Q291.6 67.4 296.2 69.9Q298.4 74.6 300.4 79.4M305 64.4Q301.8 71.3 300 70.4Q301.8 62.7 306.6 56.3Q313.3 53.7 306.9 59.4Q299.9 56.1 293.2 59.9Q291.1 63.6 290.9 67.9Q287.1 69.3 283 68.7" stroke="#a8f0a6" stroke-width="0.9" stroke-linecap="round"/><path d="M293.3 82.7Q292.6 74.2 293.2 65.6" stroke="#70c872" stroke-width="3.2"/><path d="M293.3 82.7Q292.6 74.2 293.2 65.6" stroke="#a8f0a6" stroke-width="2.2"/></g>
<g fill="none" stroke-opacity="0.82"><path d="M20.7 117Q22.7 111.6 25.5 111Q24.5 117.5 29.2 122.1Q29.2 125.8 29.9 122.8Q31.3 115.5 25.4 111.2Q20.1 112.8 23.3 113M49.4 126.9Q51.9 132 47.3 128.5Q52.3 124.4 49.6 121.9Q49.9 117.6 50.8 113.4Q58 113.8 52.1 111.6Q54.4 116.2 50.2 116.4M25.5 107.6Q29.2 103.3 34.2 105.9Q31.1 109.3 30.2 113.9Q26.6 115.4 23.3 113.4Q20.2 114 19.1 116.9Q21.3 122.5 26.6 125.5" stroke="#cf7878" stroke-width="0.9" stroke-linecap="round"/><path d="M42 119.6Q43.9 114.1 46.3 108.8" stroke="#cf7878" stroke-width="2.6"/><path d="M42 119.6Q43.9 114.1 46.3 108.8" stroke="#f2a2a2" stroke-width="1.6"/><path d="M31.4 106.5Q31.2 100.7 36.5 98.6" stroke="#cf7878" stroke-width="2.8"/><path d="M31.4 106.5Q31.2 100.7 36.5 98.6" stroke="#f2a2a2" stroke-width="1.8"/><path d="M38.8 112.1Q46.8 109.1 54 104.5" stroke="#cf7878" stroke-width="3.2"/><path d="M38.8 112.1Q46.8 109.1 54 104.5" stroke="#f2a2a2" stroke-width="2.2"/></g>
<g fill="none" stroke-opacity="0.82"><path d="M286.8 115.1Q285.5 110.6 285.5 105.9Q284.5 98.4 287.2 100.8Q285.9 107 284.8 113.2Q283.8 119.5 285.7 121.6Q289.8 123.4 294 125.2Q291.6 131.8 289.8 129.3" stroke="#cf7878" stroke-width="0.9" stroke-linecap="round"/><path d="M278.6 117.3Q282.6 112.8 288.3 114.5Q292.4 120.8 298.5 125.3Q294.8 131.9 293.7 130M293.7 125.3Q298.7 123.4 304 122.9Q308.1 123.1 310.8 126.2Q305.7 131.1 298.9 129.3Q299.9 124.5 301.3 119.9Q301.5 113 296.7 108Q291.5 108.4 286.2 108.2M269 101.2Q262.8 103.1 272.9 111.8Q270.3 110 277.5 111.2Q283.7 106.8 288.5 106.1Q287 110.3 290.3 113.4Q287.6 117.1 284 119.8M279.6 102.4Q275.5 102.7 271.6 101.1Q268.3 97.7 274.9 105.1Q280.2 101.8 286.4 104.1" stroke="#f2a2a2" stroke-width="0.9" stroke-linecap="round"/><path d="M268.6 107.6Q274.7 115.4 283.4 120.2" stroke="#cf7878" stroke-width="2.7"/><path d="M268.6 107.6Q274.7 115.4 283.4 120.2" stroke="#f2a2a2" stroke-width="1.7"/><path d="M264.1 102.4Q268.8 108.8 275.9 112.4" stroke="#cf7878" stroke-width="3.3"/><path d="M264.1 102.4Q268.8 108.8 275.9 112.4" stroke="#f2a2a2" stroke-width="2.3"/><path d="M277.2 105.4Q285.1 110.2 293.9 113.3" stroke="#cf7878" stroke-width="2.8"/><path d="M277.2 105.4Q285.1 110.2 293.9 113.3" stroke="#f2a2a2" stroke-width="1.8"/><path d="M293.1 117.3Q300.3 122.5 308.5 125.9" stroke="#cf7878" stroke-width="3.5"/><path d="M293.1 117.3Q300.3 122.5 308.5 125.9" stroke="#f2a2a2" stroke-width="2.5"/></g>
<g fill="none" stroke-opacity="0.82"><path d="M116.8 106.3Q115.4 109.1 115 112.2Q112.2 117 115.1 121.6Q111.6 126.8 110.8 132.9M119.3 107.1Q123.3 103.7 125.3 109.8Q123.7 105.4 123.4 109.4Q125.4 112.8 129.3 113.7Q135.4 113.4 132.8 115Q133 119.1 136.5 121.1Q140.6 119.1 135.3 119.1" stroke="#70c872" stroke-width="0.9" stroke-linecap="round"/><path d="M135.7 122.6Q141.2 122.4 136.2 123.5Q130.6 128.9 123.5 125.5Q117.9 121.4 111 122.3Q108.8 116.9 110.2 111.3Q115 110.6 118.1 114.3Q121.2 114.1 124.3 113.8M124.5 133Q119.3 138.4 118.2 136Q121.9 129.3 127.6 124.2Q130.8 120.8 133.1 116.7Q138.2 112.1 132.4 112Q133.2 116.9 135.4 121.3" stroke="#a8f0a6" stroke-width="0.9" stroke-linecap="round"/><path d="M107.9 135.8Q109.6 129.2 115.7 126.1" stroke="#70c872" stroke-width="3.4"/><path d="M107.9 135.8Q109.6 129.2 115.7 126.1" stroke="#a8f0a6" stroke-width="2.4"/><path d="M130.8 121.8Q134.5 116.5 139.4 112.1" stroke="#70c872" stroke-width="2.7"/><path d="M130.8 121.8Q134.5 116.5 139.4 112.1" stroke="#a8f0a6" stroke-width="1.7"/><path d="M116.3 140.8Q118.9 135.3 122.8 130.7" stroke="#70c872" stroke-width="3.5"/><path d="M116.3 140.8Q118.9 135.3 122.8 130.7" stroke="#a8f0a6" stroke-width="2.5"/></g>
<g fill="none" stroke-opacity="0.82"><path d="M120.4 119.8Q124.6 118.7 128.9 117.8Q134.2 116.2 132.1 117.5Q130.2 121.9 129.5 126.6Q132.9 127.7 135.1 130.4Q141.2 132.8 134.6 132.1Q135 126.8 131.9 122.8M122.2 113.9Q125.6 119.4 132 118.4Q133.4 115.4 130.3 117.3Q130.1 121.4 133.6 123.6Q140.2 122.3 136.3 123.5Q136.8 115.7 131.4 113.7Q127.9 113.8 126 110.9" stroke="#70c872" stroke-width="0.9" stroke-linecap="round"/><path d="M117.3 127Q118.7 122.5 122.8 120.3Q127.4 121.6 128.8 126.2Q128.5 134.2 121.9 138.6Q123.9 143.4 125.9 134.9Q125.4 130.8 122.4 127.9Q117.6 121.9 115.4 114.6M121.3 137.6Q117.5 141 119.8 136.4Q113.4 135.7 112.8 128.8Q116.4 126.9 120.5 126.2Q120.2 119.3 124.6 114" stroke="#a8f0a6" stroke-width="0.9" stroke-linecap="round"/><path d="M125.5 129Q126.3 123.4 131.7 122" stroke="#70c872" stroke-width="2.6"/><path d="M125.5 129Q126.3 123.4 131.7 122" stroke="#a8f0a6" stroke-width="1.6"/><path d="M109 116.1Q112.8 111.1 113.5 104.8" stroke="#70c872" stroke-width="2.5"/><path d="M109 116.1Q112.8 111.1 113.5 104.8" stroke="#a8f0a6" stroke-width="1.5"/><path d="M120.5 114.9Q124.1 109.6 125.2 103.4" stroke="#70c872" stroke-width="2.4"/><path d="M120.5 114.9Q124.1 109.6 125.2 103.4" stroke="#a8f0a6" stroke-width="1.4"/></g>
<g fill="none" stroke-opacity="0.82"><path d="M99.4 94.4Q102.6 99.1 101.8 104.6Q104.2 107.6 102.3 106.9Q102.1 100.7 106.3 96.1Q112.9 99.2 111.2 96.8Q107.6 103 100.7 105M102.8 97.4Q106 97 108.9 98.5Q106.8 103.3 103.5 107.3Q104 111.4 100.7 108.7Q98 103.2 102 98.6Q107.7 100 111.8 95.8Q110.5 88.6 102.3 91.5" stroke="#6b78bc" stroke-width="0.9" stroke-linecap="round"/><path d="M104.6 98.4Q104.4 91 99.2 91.8Q104.7 92.7 104.6 92.7Q100.8 90.5 96.5 90.6Q93 93.2 93.3 95.3Q98.4 97.5 103.8 98.7Q105.4 94.5 109.7 93" stroke="#93a0de" stroke-width="0.9" stroke-linecap="round"/><path d="M94.8 105.1Q99.3 101.6 105.1 101.8" stroke="#6b78bc" stroke-width="3.4"/><path d="M94.8 105.1Q99.3 101.6 105.1 101.8" stroke="#93a0de" stroke-width="2.4"/></g>
<g fill="none" stroke-opacity="0.82"><path d="M11.7 101.5Q5.7 104.1 7.2 101.5Q12.6 102.2 18 103.2Q20.5 107.9 18.3 105.5Q18.7 101.3 16 98Q16.7 94.7 15.8 91.4M24 89.3Q22.4 84.3 20.5 85.5Q14.4 89 12.2 89.9Q17 88.2 20.9 84.9Q27.6 88.9 28.6 89.9Q27.7 94 29.3 97.8Q31.9 103.1 29.8 101.7" stroke="#cf7878" stroke-width="0.9" stroke-linecap="round"/><path d="M9.8 89Q16 90 22 88.3" stroke="#cf7878" stroke-width="3.4"/><path d="M9.8 89Q16 90 22 88.3" stroke="#f2a2a2" stroke-width="2.4"/><path d="M20.3 100.9Q24.9 97.6 30.5 97.7" stroke="#cf7878" stroke-width="2.9"/><path d="M20.3 100.9Q24.9 97.6 30.5 97.7" stroke="#f2a2a2" stroke-width="1.9"/></g>
<g fill="none" stroke-opacity="0.82"><path d="M90 71.6Q83.5 72.3 77.1 72.5Q73.2 69 73.7 63.8Q74.8 59.7 71.9 63Q77.4 63.2 76.2 64.7Q74.5 68.1 73 71.5M61.3 70Q68 67.7 74.1 63.9Q77.8 61.6 76.9 65.2Q73.4 60 72.5 61.9Q74.4 66 78 68.8Q81.7 73.8 81.3 80" stroke="#70c872" stroke-width="0.9" stroke-linecap="round"/><path d="M64.8 82.1Q68.6 81.4 69.7 77.6Q64.1 75.9 59 73.1Q60.4 67.8 65.2 67.1Q58.5 68.7 52.2 71.5Q47.3 70.4 54.4 74.1M89.6 74.7Q83 73.8 77.8 77.9Q73 75.3 68.4 78.2Q65.2 83.1 65.6 82.7Q68.7 80.7 72.4 81.2Q78.4 79.4 84.6 79.5Q89.4 78.3 84.3 77.9" stroke="#a8f0a6" stroke-width="0.9" stroke-linecap="round"/><path d="M49.2 80.3Q56.9 76.6 65.5 77" stroke="#70c872" stroke-width="2.7"/><path d="M49.2 80.3Q56.9 76.6 65.5 77" stroke="#a8f0a6" stroke-width="1.7"/><path d="M67.2 69.8Q73.9 67.7 79.2 63.1" stroke="#70c872" stroke-width="2.8"/><path d="M67.2 69.8Q73.9 67.7 79.2 63.1" stroke="#a8f0a6" stroke-width="1.8"/><path d="M57.4 79.3Q64.4 78.6 67.5 72.2" stroke="#70c872" stroke-width="3.4"/><path d="M57.4 79.3Q64.4 78.6 67.5 72.2" stroke="#a8f0a6" stroke-width="2.4"/><path d="M39.8 79.8Q48.4 82.3 56.4 78.5" stroke="#70c872" stroke-width="3.4"/><path d="M39.8 79.8Q48.4 82.3 56.4 78.5" stroke="#a8f0a6" stroke-width="2.4"/><path d="M54.1 84.6Q64.1 80.8 74.4 83.4" stroke="#70c872" stroke-width="3.3"/><path d="M54.1 84.6Q64.1 80.8 74.4 83.4" stroke="#a8f0a6" stroke-width="2.3"/></g>
<g fill="none" stroke-opacity="0.82"><path d="M113.9 113.5Q110.4 114.3 113.6 115.8Q111 118.5 109.7 122Q107.7 126.1 112.8 127.2Q113.5 122.9 110.2 120.3M107.7 122.5Q106.8 129.9 115.3 130.5Q109.5 128.1 110.8 126.4Q111.9 122.4 115.2 120Q121.3 122.6 121.7 129.2Q118.2 132.1 116.2 136.2Q113.3 137.5 114.8 131.6" stroke="#6b78bc" stroke-width="0.9" stroke-linecap="round"/><path d="M108.9 128.6Q110.3 134.8 117.1 132.8Q115.2 129.6 115 125.9Q118.9 120.4 115.7 114.6" stroke="#93a0de" stroke-width="0.9" stroke-linecap="round"/><path d="M109.6 123.1Q112.6 114.8 118.1 107.8" stroke="#6b78bc" stroke-width="3.1"/><path d="M109.6 123.1Q112.6 114.8 118.1 107.8" stroke="#93a0de" stroke-width="2.1"/><path d="M109.5 120.6Q111.1 114.9 113.6 109.4" stroke="#6b78bc" stroke-width="2.8"/><path d="M109.5 120.6Q111.1 114.9 113.6 109.4" stroke="#93a0de" stroke-width="1.8"/><path d="M132.8 128.4Q137.6 121.7 138 113.5" stroke="#6b78bc" stroke-width="3.2"/><path d="M132.8 128.4Q137.6 121.7 138 113.5" stroke="#93a0de" stroke-width="2.2"/></g>
<g fill="none" stroke-opacity="0.82"><path d="M271.4 39.6Q272.3 35 280 35.8Q283.4 40.4 287.9 44Q293.8 39.1 295 38.5Q293.2 32.6 290.3 32.2Q295.3 34.2 296.6 39.4Q296.9 45.6 293.1 47.4M293.7 36.2Q291.8 30.4 289.3 31Q294.4 33.9 294.4 39.8Q288.6 41.7 282.7 43.3Q278.2 40.6 275.4 36.1Q270.7 32.8 275.5 32.9M283.4 38.7Q283.5 43.2 285 47.4Q289 48.9 292.7 46.7Q296.3 52.3 295.3 50.3Q288.8 54.6 283.2 47.6Q287.5 41.6 292.5 36.2Q296.4 39.6 300.7 42.4" stroke="#70c872" stroke-width="0.9" stroke-linecap="round"/><path d="M285.6 42.7Q291.6 38.8 298.6 40.1" stroke="#70c872" stroke-width="3.2"/><path d="M285.6 42.7Q291.6 38.8 298.6 40.1" stroke="#a8f0a6" stroke-width="2.2"/><path d="M272.1 33.6Q278.2 38.3 285.9 37.1" stroke="#70c872" stroke-width="3.2"/><path d="M272.1 33.6Q278.2 38.3 285.9 37.1" stroke="#a8f0a6" stroke-width="2.2"/></g>
<g fill="none" stroke-opacity="0.82"><path d="M124.1 93.6Q126.7 98.9 130.5 103.4Q134.2 108.1 133.5 104.2Q132.5 96.3 136.9 89.7Q141 91.9 133.9 96.3Q128.8 94.7 124.3 97.7" stroke="#70c872" stroke-width="0.9" stroke-linecap="round"/><path d="M131.2 95.1Q134.6 99.2 134.2 104.6Q137.3 106.2 133.7 103.4Q130.5 100.9 126.5 100.7Q125.8 108.2 122.5 107.1Q129.7 110.5 131.9 106.1M125.8 103Q128.2 97.1 133.2 93.1Q133.6 86.9 131.6 87.3Q130.1 90.7 126.4 91.2Q123.1 90.7 120.2 92.2M111.8 100.7Q114.1 106.6 118.4 106.1Q116.9 100 116.4 93.6Q113 91.6 115.4 92.1" stroke="#a8f0a6" stroke-width="0.9" stroke-linecap="round"/><path d="M126.6 110.4Q131.9 105.7 130.9 98.7" stroke="#70c872" stroke-width="3.4"/><path d="M126.6 110.4Q131.9 105.7 130.9 98.7" stroke="#a8f0a6" stroke-width="2.4"/><path d="M110 104.9Q110.1 98.7 114.9 94.7" stroke="#70c872" stroke-width="3.3"/><path d="M110 104.9Q110.1 98.7 114.9 94.7" stroke="#a8f0a6" stroke-width="2.3"/></g>
<g fill="none" stroke-opacity="0.82"><path d="M69.9 109.1Q71.1 104.6 70.3 100Q66.4 94.3 67.7 96.8Q71.3 91 74.6 90.6Q77.7 91 80.8 91.8M73.4 88.6Q69.3 91.2 70.8 93.9Q75.1 94.5 78 97.6Q75.9 100.4 73.1 102.6Q69.2 103.7 65.8 106.1M77.6 109.6Q74.7 112.1 77.5 109.4Q76.6 103.3 81.2 99.2Q78.4 93.7 74.1 89.4Q71.5 86.7 72.8 91.4Q79.9 94 86.3 89.8" stroke="#cf7878" stroke-width="0.9" stroke-linecap="round"/><path d="M73.3 106.7Q79 101.3 78.2 93.5" stroke="#cf7878" stroke-width="2.9"/><path d="M73.3 106.7Q79 101.3 78.2 93.5" stroke="#f2a2a2" stroke-width="1.9"/><path d="M89.5 100.5Q95 95.4 97.5 88.3" stroke="#cf7878" stroke-width="3.4"/><path d="M89.5 100.5Q95 95.4 97.5 88.3" stroke="#f2a2a2" stroke-width="2.4"/><path d="M67 116.9Q70 109.4 75.2 103.1" stroke="#cf7878" stroke-width="3.1"/><path d="M67 116.9Q70 109.4 75.2 103.1" stroke="#f2a2a2" stroke-width="2.1"/><path d="M68.6 104Q71.4 94.1 77.2 85.6" stroke="#cf7878" stroke-width="3.3"/><path d="M68.6 104Q71.4 94.1 77.2 85.6" stroke="#f2a2a2" stroke-width="2.3"/><path d="M66.2 102.5Q69.4 95.2 71.1 87.4" stroke="#cf7878" stroke-width="3.5"/><path d="M66.2 102.5Q69.4 95.2 71.1 87.4" stroke="#f2a2a2" stroke-width="2.5"/><path d="M74.7 104.5Q78.1 96.2 80 87.4" stroke="#cf7878" stroke-width="2.5"/><path d="M74.7 104.5Q78.1 96.2 80 87.4" stroke="#f2a2a2" stroke-width="1.5"/></g>
<g fill="none" stroke-opacity="0.82"><path d="M262.6 107.6Q262 101.8 261.9 100.8Q258.5 104.8 255.8 109.3Q256 113.2 258.9 113.4M262.2 106.4Q266.9 111.3 265.9 113.9Q262.3 109.2 256.3 108.8Q250.6 106.3 251.5 107.8Q255 108.9 255.5 112.6Q255.3 120.2 256 119.5M265.9 108.8Q266.8 114.8 266.1 115.5Q259.2 115 257.2 114.8Q263.7 116.7 267.1 113.7" stroke="#cf7878" stroke-width="0.9" stroke-linecap="round"/><path d="M255.7 110.4Q252.4 114.3 256.8 114.8Q257 110.3 253.5 107.5Q252.2 101.9 253.6 101.9Q260.3 101.7 263.9 107.2Q269.1 110.1 275 109.1Q280.7 107.5 275.8 105.3" stroke="#f2a2a2" stroke-width="0.9" stroke-linecap="round"/><path d="M252.5 108.5Q256 115.5 263.4 117.8" stroke="#cf7878" stroke-width="2.8"/><path d="M252.5 108.5Q256 115.5 263.4 117.8" stroke="#f2a2a2" stroke-width="1.8"/></g>
<g fill="none" stroke-opacity="0.82"><path d="M370.3 169Q371.1 165.2 374.2 162.8Q373.3 157 372.4 151.3Q375.6 146.7 376.1 141Q381.5 140.8 374.3 142" stroke="#70c872" stroke-width="0.9" stroke-linecap="round"/><path d="M341.5 164.4Q344.1 162.2 344.6 158.7Q348.4 151.9 356 149.8Q358.2 147 361.8 147.5Q364.1 151.2 366.6 154.8Q373.2 152.3 378.1 147.1Q379.6 143.3 377.3 139.9M368.5 168.1Q372 170.9 369 163.1Q368.1 157.5 368 151.9Q372.6 150.6 377.3 150.3Q380.6 148.4 383.9 150.4Q380.2 156.8 373.2 159M349.7 142.8Q346.1 138.9 343.4 134.2Q340.2 133.7 336.9 133.2Q332.7 129.4 342.5 134.3M360.5 170.1Q367.3 172.1 373.5 168.5Q374.2 161 368.1 156.6Q364.4 154.6 360.9 152.2Q353.4 152.4 349.2 158.6" stroke="#a8f0a6" stroke-width="0.9" stroke-linecap="round"/><path d="M331.7 144.3Q335.8 140.7 334.2 135.5" stroke="#70c872" stroke-width="2.4"/><path d="M331.7 144.3Q335.8 140.7 334.2 135.5" stroke="#a8f0a6" stroke-width="1.4"/><path d="M352 161.6Q348.3 155.6 350.5 148.8" stroke="#70c872" stroke-width="2.9"/><path d="M352 161.6Q348.3 155.6 350.5 148.8" stroke="#a8f0a6" stroke-width="1.9"/><path d="M360.5 173.1Q355.7 168.6 357.3 162.2" stroke="#70c872" stroke-width="2.7"/><path d="M360.5 173.1Q355.7 168.6 357.3 162.2" stroke="#a8f0a6" stroke-width="1.7"/><path d="M363.6 147.4Q362 143.1 361.6 138.4" stroke="#70c872" stroke-width="3.3"/><path d="M363.6 147.4Q362 143.1 361.6 138.4" stroke="#a8f0a6" stroke-width="2.3"/><path d="M361.6 141.9Q360.5 134.1 360.1 126.2" stroke="#70c872" stroke-width="2.6"/><path d="M361.6 141.9Q360.5 134.1 360.1 126.2" stroke="#a8f0a6" stroke-width="1.6"/><path d="M346.4 146.2Q348.5 138.6 348.3 130.6" stroke="#70c872" stroke-width="2.6"/><path d="M346.4 146.2Q348.5 138.6 348.3 130.6" stroke="#a8f0a6" stroke-width="1.6"/></g>
<g fill="none" stroke-opacity="0.82"><path d="M99.2 154.4Q95.2 155.6 101.6 151.6Q105.1 155 109.8 156.3Q116.3 156 121.3 160.3Q126.5 164.4 126.3 158.6Q121.6 159.4 117.7 162.3M131.5 144.3Q133.1 140.6 128.3 143.2Q126.1 146.1 122.5 145.9Q117.6 146.5 112.6 146.1M110 163.7Q117.2 162.9 122.7 158.1Q127.1 156.1 127.3 151.2Q133.1 147.2 135.9 140.8Q141.1 139.3 133.1 146.1Q128.9 148.6 127 153.1Q122.1 158 115.2 157.7M136 145.6Q141.8 142.8 132.2 142Q134.6 143.9 134.4 147Q136.6 149.1 135.5 151.9Q138.6 156.6 132.3 156Q128.4 156.5 124.8 155.1" stroke="#6b78bc" stroke-width="0.9" stroke-linecap="round"/><path d="M91.2 157.1Q96.5 155.8 98.8 151" stroke="#6b78bc" stroke-width="2.9"/><path d="M91.2 157.1Q96.5 155.8 98.8 151" stroke="#93a0de" stroke-width="1.9"/><path d="M118.7 143.5Q123.4 141.2 128.4 142.9" stroke="#6b78bc" stroke-width="3.5"/><path d="M118.7 143.5Q123.4 141.2 128.4 142.9" stroke="#93a0de" stroke-width="2.5"/><path d="M103.7 155.4Q111.9 153.5 117.9 147.6" stroke="#6b78bc" stroke-width="3.5"/><path d="M103.7 155.4Q111.9 153.5 117.9 147.6" stroke="#93a0de" stroke-width="2.5"/><path d="M121.4 160.7Q127.5 157.7 134 159.5" stroke="#6b78bc" stroke-width="3"/><path d="M121.4 160.7Q127.5 157.7 134 159.5" stroke="#93a0de" stroke-width="2"/></g>
<g fill="none" stroke-opacity="0.82"><path d="M47.6 135Q48.5 139.4 48.3 137.3Q53.3 136.3 54.5 131.3Q58.9 128.9 58.5 129.7Q55.1 127.5 51.5 129.2Q48.5 125.1 48.5 123.4M51 133Q51.4 125 50.9 121.4Q54.6 122.8 55.1 123.4Q53.6 126.6 54.3 130Q59.2 133.3 56.1 134.7Q59.5 131 57.7 127.2Q54.8 131.2 53.7 135.9M50.8 121.2Q52.9 124.9 57.1 125.5Q60.2 120.8 59.4 122Q55.2 116.9 52.2 117.6Q49.6 122.2 46.5 126.5Q51.7 131.1 58.6 131.7Q59.4 137.9 58.2 137M48.1 133.4Q47.7 136.6 49.2 135Q50.4 132 49.3 128.9Q54 124.9 52.3 122.4Q56.6 125.1 57.4 127" stroke="#cf7878" stroke-width="0.9" stroke-linecap="round"/><path d="M52.8 135.1Q50.9 130.3 55.5 127.9" stroke="#cf7878" stroke-width="2.8"/><path d="M52.8 135.1Q50.9 130.3 55.5 127.9" stroke="#f2a2a2" stroke-width="1.8"/><path d="M49.5 132Q54.5 132.2 56.5 127.6" stroke="#cf7878" stroke-width="2.5"/><path d="M49.5 132Q54.5 132.2 56.5 127.6" stroke="#f2a2a2" stroke-width="1.5"/></g>
<g fill="none" stroke-opacity="0.82"><path d="M49.2 85.1Q46.2 80.2 52.6 83.5Q55 86.7 56.4 90.4Q58.6 96.3 56.1 102M67.6 97.2Q64.6 92.9 64.3 87.7Q65 83.2 60.8 86Q61.3 89.3 58.8 91.6M64 91.8Q57.9 91.8 55.3 97.3Q54.5 102.4 50.7 105.9Q48.6 112.1 50.7 109.2Q47.3 102.8 47.2 99.6Q48.9 103.1 52.7 102.8Q56.3 97 63 97.8" stroke="#6b78bc" stroke-width="0.9" stroke-linecap="round"/><path d="M65.1 104.1Q63 98.9 65.6 94Q67.5 88.5 67 82.8Q65.7 76.5 59.9 81.6Q64.5 81.2 64.6 87.8Q61.1 83.5 55.9 81.7M57 84.5Q54.5 87.9 50.3 88.3Q45.2 85.1 48.2 86.6Q45.4 92.4 47.7 96.4Q53.3 99.1 58.2 102.9Q62 102.1 63.7 98.6Q64.7 94.4 67.6 91.2" stroke="#93a0de" stroke-width="0.9" stroke-linecap="round"/><path d="M51 105.3Q57.9 100.1 66 97" stroke="#6b78bc" stroke-width="2.4"/><path d="M51 105.3Q57.9 100.1 66 97" stroke="#93a0de" stroke-width="1.4"/><path d="M63 99Q65.9 91.7 69.4 84.7" stroke="#6b78bc" stroke-width="3.5"/><path d="M63 99Q65.9 91.7 69.4 84.7" stroke="#93a0de" stroke-width="2.5"/><path d="M62.1 104.4Q62.2 98.5 63.7 92.8" stroke="#6b78bc" stroke-width="3.5"/><path d="M62.1 104.4Q62.2 98.5 63.7 92.8" stroke="#93a0de" stroke-width="2.5"/><path d="M62.9 113.3Q68.9 106.3 71.6 97.6" stroke="#6b78bc" stroke-width="3.1"/><path d="M62.9 113.3Q68.9 106.3 71.6 97.6" stroke="#93a0de" stroke-width="2.1"/></g>
<g fill="none" stroke-opacity="0.82"><path d="M108.5 100.2Q102.6 101.8 96.7 99.9Q90.2 100.4 90.4 101.5Q96.3 100.1 102.2 101.1Q107.9 98.8 108.3 98.2Q105.9 103.8 104.2 105.9Q109 103.7 108.6 102.5M93.6 94Q87.4 91.1 90.5 91Q94.6 90.5 97.7 92Q94.3 92.5 92.7 95.7Q87.2 97.5 91.7 101.9Q96.2 97.2 100.6 92.3M103.9 104.6Q109.6 103.2 108.5 99.8Q107.2 106.6 105.6 108Q108.1 101.4 107.2 97.3" stroke="#6b78bc" stroke-width="0.9" stroke-linecap="round"/><path d="M102.9 100.5Q99.2 99.1 95.7 97.1Q93.3 100.1 89.6 101.5Q87.5 105.6 92.9 106.1Q95.7 104.1 99 103Q101.7 106 104.8 108.4" stroke="#93a0de" stroke-width="0.9" stroke-linecap="round"/><path d="M84.9 108.3Q90.1 102.2 94.6 95.6" stroke="#6b78bc" stroke-width="3.3"/><path d="M84.9 108.3Q90.1 102.2 94.6 95.6" stroke="#93a0de" stroke-width="2.3"/></g>
<g fill="none" stroke-opacity="0.82"><path d="M398.7 123.9Q402.3 124.2 405.3 122.2Q404.6 114.9 406.3 107.7Q408.5 102.1 406.2 96.4Q401.7 91.5 402.9 85Q409.6 84.7 412.8 90.7Q418.7 93.3 422.1 98.8M398.3 85.4Q401.1 83.4 404.4 84Q403.9 89.1 399.6 91.8Q396.3 88.7 395.4 84.2Q399.4 79.3 402.2 84.6Q406.8 85.4 411.2 83.8Q415.7 82.4 419.8 79.9M410 100.1Q405.1 101.1 400.6 103.4Q396.3 105 393.2 101.6Q395.6 98.9 398.2 96.4M411.6 94Q407.9 93.5 405.1 91Q406.1 86.6 410.6 86Q412.6 82.5 412.6 78.6Q407.9 77.1 403 77.1Q398.6 76 398.8 86.4Q402 90.8 400.4 96.1M415.9 81Q418.8 73.5 414.3 80.2Q410.5 81 407.3 83.3Q403.5 88.8 397 90.4" stroke="#cf7878" stroke-width="0.9" stroke-linecap="round"/><path d="M414.3 75.1Q420.6 71.8 415.5 79.7Q421 85.2 426.6 90.6Q431.9 96.6 424.3 102.7M385.5 130.6Q393.4 131.5 402.9 121.5Q401.1 119 398 118.9Q397.7 113.2 396.4 107.6M425.6 102Q421.5 103.1 417.3 102.3Q411 100.4 405.4 96.8Q407 91.2 407.8 85.5Q403.5 84.2 399.9 81.4Q395.1 80.6 392.1 84.4" stroke="#f2a2a2" stroke-width="0.9" stroke-linecap="round"/><path d="M390 98.1Q397 94.3 403.7 89.8" stroke="#cf7878" stroke-width="2.5"/><path d="M390 98.1Q397 94.3 403.7 89.8" stroke="#f2a2a2" stroke-width="1.5"/><path d="M393.8 129.9Q401 119.9 412.3 115" stroke="#cf7878" stroke-width="2.9"/><path d="M393.8 129.9Q401 119.9 412.3 115" stroke="#f2a2a2" stroke-width="1.9"/><path d="M430.7 92.7Q436.2 82.8 443.9 74.5" stroke="#cf7878" stroke-width="3.1"/><path d="M430.7 92.7Q436.2 82.8 443.9 74.5" stroke="#f2a2a2" stroke-width="2.1"/><path d="M406 131.4Q413 125.4 419 118.5" stroke="#cf7878" stroke-width="2.7"/><path d="M406 131.4Q413 125.4 419 118.5" stroke="#f2a2a2" stroke-width="1.7"/><path d="M413.6 112.6Q421.7 103 432.9 97.3" stroke="#cf7878" stroke-width="3.3"/><path d="M413.6 112.6Q421.7 103 432.9 97.3" stroke="#f2a2a2" stroke-width="2.3"/><path d="M400.3 122.5Q408.7 114 419.2 108.3" stroke="#cf7878" stroke-width="3"/><path d="M400.3 122.5Q408.7 114 419.2 108.3" stroke="#f2a2a2" stroke-width="2"/><path d="M381.7 134.8Q386.2 128.5 393 124.9" stroke="#cf7878" stroke-width="2.7"/><path d="M381.7 134.8Q386.2 128.5 393 124.9" stroke="#f2a2a2" stroke-width="1.7"/></g>
<g fill="none" stroke-opacity="0.92"><path d="M278.6 46.3 A33 33 0 0 1 305.6 93.1" stroke="#70c872" stroke-width="3.2"/><path d="M278.6 46.3 A33 33 0 0 1 305.6 93.1" stroke="#a8f0a6" stroke-width="2.2"/></g>
<g fill="none" stroke-opacity="0.82"><path d="M283.1 118.4Q287.4 124.2 293.7 127.6Q298.9 133.5 294.2 130.8Q297 126.9 300.9 124.3Q307.2 125.3 312.6 128.7M277.5 105.2Q278.1 112.1 283.4 117.8Q275.8 115.4 271.6 108.6Q273.5 102.1 278 104.7Q281.1 103.9 284.2 103.1Q283.5 99.8 288.4 105Q290.5 111.7 291.6 118.6M271.9 108.1Q276.9 108.2 281.8 108.3Q285.8 105.8 289.9 108.3Q286.3 115.4 278.4 116.3" stroke="#cf7878" stroke-width="0.9" stroke-linecap="round"/><path d="M284.3 116.9Q279.9 117.1 282.3 117.6Q286.7 117.3 289.6 114.1Q292.9 114.9 296.2 115.2Q301.3 112.6 300.9 113.2Q296.8 114.9 296.7 119.3Q294.7 126.4 292.2 126.5M308.5 118.7Q305.9 124.4 304 130.4Q298.3 133.2 292.9 128.8Q297.1 130.6 301.6 130.4Q305.2 132.7 302.1 127.4" stroke="#f2a2a2" stroke-width="0.9" stroke-linecap="round"/><path d="M283 116.2Q288.3 120.6 293.4 125.3" stroke="#cf7878" stroke-width="3.1"/><path d="M283 116.2Q288.3 120.6 293.4 125.3" stroke="#f2a2a2" stroke-width="2.1"/><path d="M293.9 122Q295.9 128.5 302.4 130.8" stroke="#cf7878" stroke-width="2.9"/><path d="M293.9 122Q295.9 128.5 302.4 130.8" stroke="#f2a2a2" stroke-width="1.9"/><path d="M300.1 112.8Q305.2 119.8 312.8 123.9" stroke="#cf7878" stroke-width="3.1"/><path d="M300.1 112.8Q305.2 119.8 312.8 123.9" stroke="#f2a2a2" stroke-width="2.1"/><path d="M299.3 118.9Q304 123.3 310.5 124.2" stroke="#cf7878" stroke-width="2.9"/><path d="M299.3 118.9Q304 123.3 310.5 124.2" stroke="#f2a2a2" stroke-width="1.9"/></g>
<g fill="none" stroke-opacity="0.82"><path d="M159.9 106.4Q161.2 109.8 159.6 105.2Q157.9 109.2 153.9 106.3Q160.1 111 157.1 110.1Q150.5 107.9 146.4 102.2Q141.3 96.2 137.7 89M141.8 99.3Q145.2 101 146 104.6Q150.7 107.7 155.5 110.8Q154.2 118.3 156.6 112.9Q153.3 114.5 152.8 109.7Q157.3 107.7 158 104.4Q153.9 106.6 153 111.2M166.3 94Q168.7 96 163.3 97.7Q159.3 96.3 155.5 98.2Q152.1 101.7 149.9 106Q154.2 110.3 160 108.3M139.4 105Q141.2 99.9 137.8 95.6Q137.8 91.7 141.3 90.1Q148.5 87.9 155.6 85.6Q159.7 80.8 160.1 85.9Q156.3 88 152.9 90.8Q148.8 90.7 145.9 93.8" stroke="#70c872" stroke-width="0.9" stroke-linecap="round"/><path d="M139.8 109.7Q146.5 108.2 152.1 103.9" stroke="#70c872" stroke-width="3"/><path d="M139.8 109.7Q146.5 108.2 152.1 103.9" stroke="#a8f0a6" stroke-width="2"/><path d="M151.3 101.2Q157.4 102.2 162.4 98.6" stroke="#70c872" stroke-width="3"/><path d="M151.3 101.2Q157.4 102.2 162.4 98.6" stroke="#a8f0a6" stroke-width="2"/><path d="M141.5 105.3Q146.7 100.7 153.4 99.1" stroke="#70c872" stroke-width="2.7"/><path d="M141.5 105.3Q146.7 100.7 153.4 99.1" stroke="#a8f0a6" stroke-width="1.7"/></g>
<g fill="none" stroke-opacity="0.82"><path d="M104.8 80.3Q104.2 87 109.8 86.3Q110 82.8 108.5 79.7Q111.1 75.5 112.2 70.6Q117.3 69.3 122.6 69.6Q129.2 72.8 129.6 80.1M96.4 82.8Q94.7 85.8 99.8 83.3Q104.1 78.1 110.8 77.4Q113.1 74.9 116.5 75.8Q124.1 75.9 130.9 79.5Q133.2 86.2 124.8 86.8" stroke="#6b78bc" stroke-width="0.9" stroke-linecap="round"/><path d="M122.6 83.6Q126.3 79.6 124.3 74.5Q127.9 71.7 121.4 71.1Q126.1 77.3 125.1 77.7Q119.3 78.1 114.4 81.3Q111.4 82.5 108.5 83.9M96.3 83.1Q101.7 88.6 109.1 87.2Q106.4 84.6 102.8 83.4Q99.9 81.6 98.1 78.7Q92.9 79 99 75.5Q102.1 74.7 105.1 73.5Q106.3 67 105.3 68.9" stroke="#93a0de" stroke-width="0.9" stroke-linecap="round"/><path d="M109.2 71.7Q115.9 67.5 123.5 65.6" stroke="#6b78bc" stroke-width="3.2"/><path d="M109.2 71.7Q115.9 67.5 123.5 65.6" stroke="#93a0de" stroke-width="2.2"/><path d="M91.3 84.3Q97.2 77.8 104.5 72.8" stroke="#6b78bc" stroke-width="2.7"/><path d="M91.3 84.3Q97.2 77.8 104.5 72.8" stroke="#93a0de" stroke-width="1.7"/><path d="M95.4 81.3Q102.2 77.4 106.7 71" stroke="#6b78bc" stroke-width="3.4"/><path d="M95.4 81.3Q102.2 77.4 106.7 71" stroke="#93a0de" stroke-width="2.4"/><path d="M103.8 86.6Q109 79.1 117 74.8" stroke="#6b78bc" stroke-width="3"/><path d="M103.8 86.6Q109 79.1 117 74.8" stroke="#93a0de" stroke-width="2"/></g>
<g fill="none" stroke-opacity="0.82"><path d="M162.5 104Q157.2 98 163.3 101.7Q163.1 97.1 159.1 94.8Q160.9 90.4 170.5 93.4Q165.1 95.1 159.4 95.1M169.5 113Q167.6 116.3 163.9 116.4Q159.5 111.9 166 107.4Q169.4 109.4 172.8 107.4Q173.2 103.7 173.8 100Q179.5 100.7 185 99.4M197.2 93Q193.9 93 190.9 91.4Q186.5 94.6 181.2 94.1Q180.5 100.7 176.5 106Q169.9 109.6 162.8 112.3Q159.8 110.2 167.5 109Q170.7 109.7 173.6 108.1" stroke="#6b78bc" stroke-width="0.9" stroke-linecap="round"/><path d="M192.5 96.4Q195 91.4 192.4 86.5Q189.7 84.5 187 82.5Q190.4 76.6 188.7 84Q192.4 90.6 200.1 90.5Q203.5 97 200 100.4M176.7 111.3Q177 107.7 174.5 105.1Q170.7 105.9 166.8 105.2Q159.7 107.7 166.8 110.3Q166 106.5 162.6 104.6Q159.9 99.3 166.4 99.9Q167 106.3 168.6 112.5M178.9 126.3Q176.7 119.1 182.3 114Q185.9 117 186.3 121.7Q183 128.1 176.3 130.7Q171.9 133.1 173.8 121.3M168.3 96.1Q163.8 96.5 160.7 93.2Q156.1 90.9 164.3 97.2Q170.6 95.5 176 91.9Q181.5 91.5 183.3 86.3M196.5 81.9Q195.2 75.6 189.9 83.5Q195 84.9 199.6 87.7Q200.2 90.7 197.9 92.6Q196.9 99.3 190.4 101.2Q183.9 98.1 179.6 92.4" stroke="#93a0de" stroke-width="0.9" stroke-linecap="round"/><path d="M179.7 127.4Q182.1 119 185.3 110.8" stroke="#6b78bc" stroke-width="2.6"/><path d="M179.7 127.4Q182.1 119 185.3 110.8" stroke="#93a0de" stroke-width="1.6"/><path d="M207.2 104.1Q210.4 95.5 207 86.9" stroke="#6b78bc" stroke-width="3.1"/><path d="M207.2 104.1Q210.4 95.5 207 86.9" stroke="#93a0de" stroke-width="2.1"/><path d="M172.8 107.8Q172.3 101.3 174.9 95.4" stroke="#6b78bc" stroke-width="2.9"/><path d="M172.8 107.8Q172.3 101.3 174.9 95.4" stroke="#93a0de" stroke-width="1.9"/><path d="M161.9 123.4Q165.5 117.6 164.8 110.9" stroke="#6b78bc" stroke-width="3"/><path d="M161.9 123.4Q165.5 117.6 164.8 110.9" stroke="#93a0de" stroke-width="2"/><path d="M181.8 98.1Q178 87.8 180 77" stroke="#6b78bc" stroke-width="3"/><path d="M181.8 98.1Q178 87.8 180 77" stroke="#93a0de" stroke-width="2"/><path d="M182.4 100.3Q190.8 95.6 195.8 87.4" stroke="#6b78bc" stroke-width="3.5"/><path d="M182.4 100.3Q190.8 95.6 195.8 87.4" stroke="#93a0de" stroke-width="2.5"/><path d="M197.7 114.4Q201.1 107.1 208.3 103.4" stroke="#6b78bc" stroke-width="3.3"/><path d="M197.7 114.4Q201.1 107.1 208.3 103.4" stroke="#93a0de" stroke-width="2.3"/><path d="M185.4 132.5Q191.1 124.2 192.6 114.3" stroke="#6b78bc" stroke-width="3"/><path d="M185.4 132.5Q191.1 124.2 192.6 114.3" stroke="#93a0de" stroke-width="2"/><path d="M171.7 92.6Q177.7 85.2 182.7 77.1" stroke="#6b78bc" stroke-width="2.9"/><path d="M171.7 92.6Q177.7 85.2 182.7 77.1" stroke="#93a0de" stroke-width="1.9"/><path d="M164.8 117.7Q168 109.3 174 102.7" stroke="#6b78bc" stroke-width="2.7"/><path d="M164.8 117.7Q168 109.3 174 102.7" stroke="#93a0de" stroke-width="1.7"/></g>
<g fill="none" stroke-opacity="0.82"><path d="M223.9 95.4Q220 94.6 218.1 91.1Q215.2 89.4 214.4 92.4Q211.7 95 211.1 98.7M222.1 103Q219.8 100.9 217.3 99.2Q214.1 97.3 210.4 97.7Q204 99.1 205 99M216.6 98.3Q219.3 97.1 221.5 99.2Q229.1 100.3 226.3 96.7Q225.5 103.6 222.1 109.5Q217.3 112.1 216.4 110.9Q222.7 108.2 223.6 103.5" stroke="#70c872" stroke-width="0.9" stroke-linecap="round"/><path d="M213.9 103.3Q207.7 104.9 207.7 105.3Q212.9 107.2 217.1 110.7Q214.2 114 216.1 111.2Q220.1 107.2 221.5 103.3Q215.5 98.9 208.5 96.4" stroke="#a8f0a6" stroke-width="0.9" stroke-linecap="round"/></g>
<g fill="none" stroke-opacity="0.82"><path d="M78.1 90.6Q72.7 93 68.8 97.5Q65.8 104.8 69.6 107.3Q66.5 101 65.9 93.9Q69.4 93.6 72.9 93.1Q77.5 98.7 75.4 105.5M70.2 111.5Q74.3 109.5 77.8 106.5Q82.5 101 89.7 99.6Q94 100.9 91 99.7" stroke="#cf7878" stroke-width="0.9" stroke-linecap="round"/><path d="M81.1 104.6Q78.5 108.1 77.7 112.5Q73.1 112.2 68.7 111.2Q63.7 112.4 67.8 105.7Q64.9 109.5 71.1 108.6Q73.6 105.4 71.5 101.9" stroke="#f2a2a2" stroke-width="0.9" stroke-linecap="round"/><path d="M61.9 105Q66.2 95.8 70.4 86.5" stroke="#cf7878" stroke-width="3.2"/><path d="M61.9 105Q66.2 95.8 70.4 86.5" stroke="#f2a2a2" stroke-width="2.2"/><path d="M86.4 101.9Q93.4 94.4 98.2 85.3" stroke="#cf7878" stroke-width="3.2"/><path d="M86.4 101.9Q93.4 94.4 98.2 85.3" stroke="#f2a2a2" stroke-width="2.2"/><path d="M80.4 99.2Q83.1 91.8 87 85.1" stroke="#cf7878" stroke-width="3.1"/><path d="M80.4 99.2Q83.1 91.8 87 85.1" stroke="#f2a2a2" stroke-width="2.1"/><path d="M76.4 117.8Q80.4 110.2 85.9 103.6" stroke="#cf7878" stroke-width="2.8"/><path d="M76.4 117.8Q80.4 110.2 85.9 103.6" stroke="#f2a2a2" stroke-width="1.8"/><path d="M88.3 113.5Q91.4 106.2 97.1 100.4" stroke="#cf7878" stroke-width="3.1"/><path d="M88.3 113.5Q91.4 106.2 97.1 100.4" stroke="#f2a2a2" stroke-width="2.1"/></g>
<g fill="none" stroke-opacity="0.82"><path d="M176.2 69.8Q182.6 68 173.8 66.2Q170.7 66.5 168.4 68.6Q165.4 66.1 160.6 67.4Q159.5 72.5 160.7 77.7Q167.4 80.6 167.5 79.6M148.8 67.6Q150.8 65.1 153.4 63.2Q155.2 59.7 157 62.8Q152.8 62.3 149.5 65Q143.5 66.7 137.4 68.2M180.7 81Q175.2 78.4 169.6 80.8Q165.3 86.7 164.6 85Q160.8 85.9 158.1 79.1" stroke="#6b78bc" stroke-width="0.9" stroke-linecap="round"/><path d="M144.5 74.3Q140.3 73.5 136.6 75.6Q131.6 72.8 138.7 72.5Q142.1 69.6 143.6 65.4Q142.5 58.6 150.9 60.8" stroke="#93a0de" stroke-width="0.9" stroke-linecap="round"/><path d="M157.1 65.7Q167.7 63.3 178.1 66.4" stroke="#6b78bc" stroke-width="2.8"/><path d="M157.1 65.7Q167.7 63.3 178.1 66.4" stroke="#93a0de" stroke-width="1.8"/><path d="M161.2 76.6Q168 80.3 175.5 78" stroke="#6b78bc" stroke-width="2.7"/><path d="M161.2 76.6Q168 80.3 175.5 78" stroke="#93a0de" stroke-width="1.7"/><path d="M161.4 76.1Q168.8 81.8 178.1 82.4" stroke="#6b78bc" stroke-width="2.6"/><path d="M161.4 76.1Q168.8 81.8 178.1 82.4" stroke="#93a0de" stroke-width="1.6"/><path d="M147.9 64.3Q155.3 66.5 162.9 67.4" stroke="#6b78bc" stroke-width="3.2"/><path d="M147.9 64.3Q155.3 66.5 162.9 67.4" stroke="#93a0de" stroke-width="2.2"/><path d="M123.1 65.9Q132.8 66.5 140.6 72.5" stroke="#6b78bc" stroke-width="2.9"/><path d="M123.1 65.9Q132.8 66.5 140.6 72.5" stroke="#93a0de" stroke-width="1.9"/></g>
<g fill="none" stroke-opacity="0.82"><path d="M180.4 79.5Q176.9 85 169.8 84Q171.1 78.3 171.7 72.4Q178.1 70.6 172 68.1Q167.5 68.3 164.4 65M179 78.7Q183 74.5 176.5 74.1Q174.7 80 169.1 82.5Q168.1 87.8 163.2 85M140.6 65.9Q136.9 72.7 144 77.3Q146 74 146.9 70.3Q141.4 67.3 147.1 66Q150.3 65.3 154.5 66.7Q154.7 73.8 149.4 78.5Q145.4 74.6 139.9 74.9" stroke="#93a0de" stroke-width="0.9" stroke-linecap="round"/><path d="M122.5 71.7Q133 72.3 143.1 74.9" stroke="#6b78bc" stroke-width="3"/><path d="M122.5 71.7Q133 72.3 143.1 74.9" stroke="#93a0de" stroke-width="2"/><path d="M172.6 77.3Q180.9 78.2 189.1 76.5" stroke="#6b78bc" stroke-width="3.5"/><path d="M172.6 77.3Q180.9 78.2 189.1 76.5" stroke="#93a0de" stroke-width="2.5"/><path d="M161.9 72.2Q173.5 73.2 182.4 80.5" stroke="#6b78bc" stroke-width="3.4"/><path d="M161.9 72.2Q173.5 73.2 182.4 80.5" stroke="#93a0de" stroke-width="2.4"/><path d="M136.8 71.4Q147.9 75.8 159.7 77.3" stroke="#6b78bc" stroke-width="3"/><path d="M136.8 71.4Q147.9 75.8 159.7 77.3" stroke="#93a0de" stroke-width="2"/><path d="M133.8 71.7Q142.7 73.9 151.8 75.7" stroke="#6b78bc" stroke-width="3.4"/><path d="M133.8 71.7Q142.7 73.9 151.8 75.7" stroke="#93a0de" stroke-width="2.4"/></g>
<g fill="none" stroke-opacity="0.92"><path d="M274.8 43.3 A37 37 0 0 1 312.5 86.7" stroke="#6b78bc" stroke-width="3.2"/><path d="M274.8 43.3 A37 37 0 0 1 312.5 86.7" stroke="#93a0de" stroke-width="2.2"/></g>
<g fill="none" stroke-opacity="0.82"><path d="M162 58.2Q166.2 60.4 168.5 64.4Q168.8 68.8 168.6 68.7Q172.2 68.2 175.5 66.5Q180.2 66.4 184.9 66.3Q188.2 65.5 181.6 65.6Q178.2 62.2 174.8 58.7M179.9 61.6Q187.4 62.1 183.2 59.3Q176.4 63.1 172.4 67.2Q178.9 65.1 185.5 67.1M185.1 63.7Q189.1 64.3 181.9 65.4Q178.9 64.8 176.1 63.3Q174 59.5 170.3 58.3Q176.5 62.4 183.3 65.6M178.6 62.4Q172.5 60.5 166.2 59.2Q163 58.8 159.9 58Q156.3 60.9 151.8 59.6Q149.1 55.1 153.6 57.5" stroke="#f2a2a2" stroke-width="0.9" stroke-linecap="round"/><path d="M144.1 57Q148.9 56.6 153.4 58.6" stroke="#cf7878" stroke-width="3.1"/><path d="M144.1 57Q148.9 56.6 153.4 58.6" stroke="#f2a2a2" stroke-width="2.1"/><path d="M145.2 57.7Q149.8 59.4 154.6 58.3" stroke="#cf7878" stroke-width="3.4"/><path d="M145.2 57.7Q149.8 59.4 154.6 58.3" stroke="#f2a2a2" stroke-width="2.4"/><path d="M173 67.6Q178.7 70.7 185 69.5" stroke="#cf7878" stroke-width="3.2"/><path d="M173 67.6Q178.7 70.7 185 69.5" stroke="#f2a2a2" stroke-width="2.2"/></g>
<g fill="none" stroke-opacity="0.82"><path d="M112.6 102.9Q111.8 110.1 114.4 108.9Q117.9 105 123 103.8Q126.5 109.5 125.3 108.9M120.4 104.2Q123.8 107.3 127.6 109.9Q131 107.3 133.6 103.9Q135.8 96.4 133.8 88.8Q126.7 86.2 119.4 84.4Q117.8 78.4 121.8 82.9Q122.4 86.6 120.9 90M121.4 98Q117.9 99.3 114.3 98.4Q106.7 98.9 109.7 101Q110.3 94.6 116 91.7Q115.2 88.8 114.9 85.8" stroke="#6b78bc" stroke-width="0.9" stroke-linecap="round"/><path d="M118.8 86.7Q111.7 88 112.3 91.5Q115.2 89.7 116.7 86.6Q121.4 84.3 126.6 83.9" stroke="#93a0de" stroke-width="0.9" stroke-linecap="round"/><path d="M128.2 97.9Q129.2 90.4 125.6 83.7" stroke="#6b78bc" stroke-width="2.7"/><path d="M128.2 97.9Q129.2 90.4 125.6 83.7" stroke="#93a0de" stroke-width="1.7"/><path d="M127 91.2Q127 86.4 127.7 81.7" stroke="#6b78bc" stroke-width="3"/><path d="M127 91.2Q127 86.4 127.7 81.7" stroke="#93a0de" stroke-width="2"/></g>
<g fill="none" stroke-opacity="0.82"><path d="M295 101.8Q296.4 99 299.1 97.7Q302.3 94.9 304.5 91.3Q300.5 85.4 300 86.9Q293.6 86.7 289.1 91.1M309.1 102.1Q313.5 102.8 309.7 100.5Q306.6 98.2 305.4 94.4Q300.9 93 300.3 88.4Q294.6 87 288.9 88.8Q286 87.1 289.6 90.7M294.6 91.7Q290.4 86.6 289.9 90.1Q294.6 92 299.7 92.6Q303.5 96 307.4 99.4" stroke="#70c872" stroke-width="0.9" stroke-linecap="round"/><path d="M295.2 100.6Q292.2 102.1 288.8 102Q286.4 106.8 292 107.2Q289.8 101.3 291.1 95.2Q290 92.1 288.5 89.2Q292.9 85.4 298.1 89.8M311.4 97.9Q313.8 102.5 311.9 107.4Q315.5 110.6 310.2 108.7Q306.4 105.4 303.4 101.3Q301.8 98.1 299.9 95" stroke="#a8f0a6" stroke-width="0.9" stroke-linecap="round"/><path d="M281.6 99.9Q290.1 102 297.8 106.3" stroke="#70c872" stroke-width="3.1"/><path d="M281.6 99.9Q290.1 102 297.8 106.3" stroke="#a8f0a6" stroke-width="2.1"/><path d="M307.9 98.9Q312.3 100.2 315.7 103.4" stroke="#70c872" stroke-width="3.1"/><path d="M307.9 98.9Q312.3 100.2 315.7 103.4" stroke="#a8f0a6" stroke-width="2.1"/><path d="M293.2 106.2Q298 113.1 305.8 116.2" stroke="#70c872" stroke-width="3.1"/><path d="M293.2 106.2Q298 113.1 305.8 116.2" stroke="#a8f0a6" stroke-width="2.1"/></g>
<g fill="none" stroke-opacity="0.92"><path d="M288.4 69.8 A16 16 0 0 1 278.9 95.8" stroke="#70c872" stroke-width="3.3"/><path d="M288.4 69.8 A16 16 0 0 1 278.9 95.8" stroke="#a8f0a6" stroke-width="2.3"/></g>
<g fill="none" stroke-opacity="0.82"><path d="M60.9 88.3Q67.1 87.6 73.1 86Q78.5 84.7 75.8 85.6Q69.2 81.5 61.5 81.2Q58.6 82.5 56 84.3Q55.1 88.1 51.7 90" stroke="#70c872" stroke-width="0.9" stroke-linecap="round"/><path d="M76.3 93.5Q73.1 95 70.8 97.7Q71.1 101.3 68.5 99Q64.6 97.3 60.9 99.2Q57.8 98.9 55.3 97.1Q52.3 98.1 55.5 93.7Q63 92.1 69 96.8M57 91.3Q58.9 86.8 61.7 82.9Q57.2 79.6 56.9 82.2Q60 84.1 61.8 87.2" stroke="#a8f0a6" stroke-width="0.9" stroke-linecap="round"/><path d="M68.2 88.1Q74.7 88.1 80.2 84.8" stroke="#70c872" stroke-width="2.5"/><path d="M68.2 88.1Q74.7 88.1 80.2 84.8" stroke="#a8f0a6" stroke-width="1.5"/><path d="M49.8 97.6Q53.2 94.4 55.6 90.4" stroke="#70c872" stroke-width="3.1"/><path d="M49.8 97.6Q53.2 94.4 55.6 90.4" stroke="#a8f0a6" stroke-width="2.1"/></g>
<g fill="none" stroke-opacity="0.82"><path d="M295.9 36.9Q300.1 33 297.8 35.8Q295 28.4 289.9 28.9Q296.4 26.9 295 35.6Q290 32.3 284.5 34.6Q278 30.7 277 33.2Q282.9 36.6 287.5 36M289.1 39.4Q286.8 44.1 286 45.9Q283 40.5 285.4 34.9Q282 29.7 281.8 30.9M288.3 37.3Q288.2 29.4 283.6 31.1Q287.1 36.8 287.4 43.5Q291.6 45.4 291.2 45.6Q290.7 42.6 287.8 41.6" stroke="#a8f0a6" stroke-width="0.9" stroke-linecap="round"/><path d="M278.4 39.9Q284.6 42.1 291.2 42.4" stroke="#70c872" stroke-width="3"/><path d="M278.4 39.9Q284.6 42.1 291.2 42.4" stroke="#a8f0a6" stroke-width="2"/><path d="M271.7 36.3Q276.5 39.6 281.2 36.1" stroke="#70c872" stroke-width="2.6"/><path d="M271.7 36.3Q276.5 39.6 281.2 36.1" stroke="#a8f0a6" stroke-width="1.6"/></g>
<g fill="none" stroke-opacity="0.82"><path d="M184.7 116Q181.3 112.7 177 110.7Q176.6 106.8 179.8 104.6Q182.8 107.2 185.7 110.2Q192.5 107.2 199.3 104Q204 104 207.6 101.2M177.1 97.4Q174.6 100.8 170.8 102.6Q166 107.1 160.3 110.6Q160.9 115 168.9 113.4Q163.5 110.5 158.4 107Q157.2 102.5 167 100.9" stroke="#6b78bc" stroke-width="0.9" stroke-linecap="round"/><path d="M162.1 108.3Q155.1 106 162.3 105.6Q163 109.2 164.9 112.3Q170.2 112.5 173.5 116.7Q168.3 121.3 171.1 117.1M207.4 102.6Q210.6 100.9 201.7 103.9Q203.4 98.1 206.8 93Q208.6 88.2 197.4 92.2Q198.8 96.4 202.9 97.8Q203.1 103.7 198.7 107.5Q197.5 113.3 199.5 118.8M187 101.5Q182.4 104.5 177.2 102.9Q174.4 109.5 172.1 116.3Q174.8 120.5 179.8 120.4Q183.8 121.4 186.8 124.2Q192.9 122.1 199.4 121.9Q205.6 126.6 201.6 118.6M177 117.6Q181.3 120.4 183.9 124.7Q190.2 123.3 194.6 128Q194.1 133.7 191 125.5Q187.5 125.5 184.1 125.1Q182.3 118 176.1 114.1Q174.6 107.2 172.8 100.4M188.9 121.4Q185.5 116.5 179.6 115.2Q175.1 119.9 168.6 120.3Q168 125.3 175.6 120Q172 113.6 169.4 106.7" stroke="#93a0de" stroke-width="0.9" stroke-linecap="round"/><path d="M200.5 100.4Q197.1 92.1 198 83.2" stroke="#6b78bc" stroke-width="2.9"/><path d="M200.5 100.4Q197.1 92.1 198 83.2" stroke="#93a0de" stroke-width="1.9"/><path d="M169.8 88.4Q172.9 82.2 175.8 76" stroke="#6b78bc" stroke-width="3.4"/><path d="M169.8 88.4Q172.9 82.2 175.8 76" stroke="#93a0de" stroke-width="2.4"/><path d="M175.7 116.3Q179.8 106.1 185.7 96.9" stroke="#6b78bc" stroke-width="2.4"/><path d="M175.7 116.3Q179.8 106.1 185.7 96.9" stroke="#93a0de" stroke-width="1.4"/><path d="M158.9 96.8Q165.3 92.8 167.7 85.6" stroke="#6b78bc" stroke-width="3.3"/><path d="M158.9 96.8Q165.3 92.8 167.7 85.6" stroke="#93a0de" stroke-width="2.3"/><path d="M199.4 124.4Q202 118.7 204.1 112.8" stroke="#6b78bc" stroke-width="3"/><path d="M199.4 124.4Q202 118.7 204.1 112.8" stroke="#93a0de" stroke-width="2"/><path d="M169.5 104.6Q175 98.9 177.4 91.2" stroke="#6b78bc" stroke-width="2.6"/><path d="M169.5 104.6Q175 98.9 177.4 91.2" stroke="#93a0de" stroke-width="1.6"/><path d="M200.5 114.3Q201.5 106.9 202.5 99.6" stroke="#6b78bc" stroke-width="3.4"/><path d="M200.5 114.3Q201.5 106.9 202.5 99.6" stroke="#93a0de" stroke-width="2.4"/><path d="M171.4 119Q170.6 111 170.3 103" stroke="#6b78bc" stroke-width="2.6"/><path d="M171.4 119Q170.6 111 170.3 103" stroke="#93a0de" stroke-width="1.6"/><path d="M191.7 129.9Q192.5 122.2 191.6 114.5" stroke="#6b78bc" stroke-width="3.5"/><path d="M191.7 129.9Q192.5 122.2 191.6 114.5" stroke="#93a0de" stroke-width="2.5"/></g>
<g fill="none" stroke-opacity="0.82"><path d="M320.5 108.2Q314 103.9 312 96.4Q311.6 88.5 310.5 90.1Q310.6 95.8 313.1 101Q319 100.6 323.1 104.9Q330.4 103.2 334.8 109.3M305 109.1Q307.2 112.5 310.7 109.8Q310 105.3 308.3 101Q311.1 96.7 315.4 93.9M328 106.7Q327.4 110.1 330 112.4Q333.5 110.2 329.7 106.3Q325.8 101.1 320.5 97.4Q322.1 94 321.3 90.3" stroke="#cf7878" stroke-width="0.9" stroke-linecap="round"/><path d="M328.3 93.8Q323 96.8 319.3 101.6Q320.1 107.8 319 113.9Q323.5 118.8 325.1 110.5Q325.4 118 318.7 113.2Q324 119.2 322.3 116.3Q322.7 110.6 323.6 105" stroke="#f2a2a2" stroke-width="0.9" stroke-linecap="round"/><path d="M328.8 113.7Q333.2 109.2 330.9 103.4" stroke="#cf7878" stroke-width="2.6"/><path d="M328.8 113.7Q333.2 109.2 330.9 103.4" stroke="#f2a2a2" stroke-width="1.6"/><path d="M315.5 92Q318.6 87.6 322.4 83.9" stroke="#cf7878" stroke-width="3.2"/><path d="M315.5 92Q318.6 87.6 322.4 83.9" stroke="#f2a2a2" stroke-width="2.2"/><path d="M323.8 121.8Q322.7 113.6 326.5 106.2" stroke="#cf7878" stroke-width="2.5"/><path d="M323.8 121.8Q322.7 113.6 326.5 106.2" stroke="#f2a2a2" stroke-width="1.5"/></g>
<g fill="none" stroke-opacity="0.82"><path d="M339.6 151.8Q346.7 155.2 350.8 161.8Q352.2 167.6 354.8 163.4Q356.7 156.5 359.5 150Q354 146.2 353.9 139.5Q349.9 136.4 344.8 136.7M376.7 135.2Q380.2 134.5 373.3 139.1Q374.4 142.8 377.7 144.8Q380.1 142.7 382.1 140.2Q376.1 135.1 369.6 135.6Q373.7 137 375.7 140.7M347.4 134.9Q342.4 129.5 346.6 133Q351.2 136.5 356.7 138.1Q360.1 136.3 361.8 132.8Q363.2 128.8 361 134Q364.6 136 365.8 140.1Q364.3 145.7 358.9 147.8M367.4 158.7Q371.4 163 366.2 160.5Q363.6 157.3 360.6 154.4Q361.4 148.9 356.7 146.2Q349.8 143.2 342.9 146.1" stroke="#6b78bc" stroke-width="0.9" stroke-linecap="round"/><path d="M384.5 145.4Q379.6 141.7 374.4 144.9Q375.9 148.9 377.9 152.7Q374.2 156.9 370.5 161.2Q372.7 168.2 366.4 164.5" stroke="#93a0de" stroke-width="0.9" stroke-linecap="round"/><path d="M375.5 155.5Q377.4 146.8 383 139.9" stroke="#6b78bc" stroke-width="2.5"/><path d="M375.5 155.5Q377.4 146.8 383 139.9" stroke="#93a0de" stroke-width="1.5"/><path d="M358.3 174.4Q360.4 166.3 355.6 159.4" stroke="#6b78bc" stroke-width="2.7"/><path d="M358.3 174.4Q360.4 166.3 355.6 159.4" stroke="#93a0de" stroke-width="1.7"/><path d="M363.4 165.7Q366.8 160.6 371.4 156.5" stroke="#6b78bc" stroke-width="3.3"/><path d="M363.4 165.7Q366.8 160.6 371.4 156.5" stroke="#93a0de" stroke-width="2.3"/><path d="M363.4 148.8Q360.6 142.2 362.8 135.3" stroke="#6b78bc" stroke-width="2.7"/><path d="M363.4 148.8Q360.6 142.2 362.8 135.3" stroke="#93a0de" stroke-width="1.7"/><path d="M367.8 151.4Q369.3 143.5 364.4 137" stroke="#6b78bc" stroke-width="3.5"/><path d="M367.8 151.4Q369.3 143.5 364.4 137" stroke="#93a0de" stroke-width="2.5"/></g>
<g fill="none" stroke-opacity="0.82"><path d="M173.6 68.5Q171.2 65 167 65.9Q163.7 67.3 161.9 70.4Q161.8 76.3 164.1 81.6" stroke="#6b78bc" stroke-width="0.9" stroke-linecap="round"/><path d="M139.2 67.9Q144.8 62.8 152 62.8Q155.8 69.7 153.6 77.3Q159.6 82 157.6 82.7Q163 81.3 168.6 81.2Q170.9 75.4 177.1 75.3M154.6 78.9Q154.5 85.8 153.2 83.8Q158.2 79.6 164.7 78.9Q166.4 85.9 163 85.1M166.1 74.9Q169.1 77.3 172.6 79Q176.2 75.7 180.2 72.8Q184.7 70.6 176.9 72.3Q174.6 76.4 170 76.4" stroke="#93a0de" stroke-width="0.9" stroke-linecap="round"/><path d="M136.1 63.9Q146.2 67.5 156.6 65.2" stroke="#6b78bc" stroke-width="2.9"/><path d="M136.1 63.9Q146.2 67.5 156.6 65.2" stroke="#93a0de" stroke-width="1.9"/><path d="M155.8 73.2Q163.3 75.4 170.5 72.4" stroke="#6b78bc" stroke-width="3.1"/><path d="M155.8 73.2Q163.3 75.4 170.5 72.4" stroke="#93a0de" stroke-width="2.1"/><path d="M147.8 72.6Q155 73 161.1 76.9" stroke="#6b78bc" stroke-width="2.7"/><path d="M147.8 72.6Q155 73 161.1 76.9" stroke="#93a0de" stroke-width="1.7"/><path d="M132.8 65.8Q143.1 70.6 154.4 69.5" stroke="#6b78bc" stroke-width="2.5"/><path d="M132.8 65.8Q143.1 70.6 154.4 69.5" stroke="#93a0de" stroke-width="1.5"/><path d="M151 63.2Q162.1 63.9 173.1 66.1" stroke="#6b78bc" stroke-width="3.1"/><path d="M151 63.2Q162.1 63.9 173.1 66.1" stroke="#93a0de" stroke-width="2.1"/><path d="M172.2 76.3Q181.8 77.7 191.3 79.3" stroke="#6b78bc" stroke-width="3.4"/><path d="M172.2 76.3Q181.8 77.7 191.3 79.3" stroke="#93a0de" stroke-width="2.4"/></g>
<g fill="none" stroke-opacity="0.82"><path d="M326.2 118.1Q322.6 116.5 320.4 113.3Q316.4 113.1 317.8 113.8Q324.5 112.3 331.1 110.8Q336.8 115.9 334.3 123.2Q333.8 127.3 330.2 126Q327.3 123.7 325 120.8M323.5 109.5Q325 112.2 324.9 115.2Q325.3 122.6 318.9 126.1Q317.8 130 319.6 127.3Q316.5 125.7 318.1 123.6Q320.1 118.8 318.4 113.9Q320.2 107.4 325.7 109.7M319.6 119.4Q317.2 115.3 312.6 114.5Q308 114.7 312.2 117Q313.4 120.2 316.7 121.1Q318 123.9 320.8 125.3Q323.3 131.2 327.8 126.5" stroke="#cf7878" stroke-width="0.9" stroke-linecap="round"/><path d="M319.8 119.3Q324.7 116.7 329.7 114.3" stroke="#cf7878" stroke-width="3.3"/><path d="M319.8 119.3Q324.7 116.7 329.7 114.3" stroke="#f2a2a2" stroke-width="2.3"/><path d="M319 126.6Q322 119.9 327.5 115" stroke="#cf7878" stroke-width="2.5"/><path d="M319 126.6Q322 119.9 327.5 115" stroke="#f2a2a2" stroke-width="1.5"/></g>
<g fill="none" stroke-opacity="0.82"><path d="M210.7 103.7Q210.9 109.3 210 114.7Q207.9 119.6 205.7 124.4Q199.3 128.2 192.8 131.7Q186.9 129.1 187.2 121.7M200.7 89.2Q197.7 96.6 198.3 104.6Q201.4 111.8 207.4 116.8Q213.2 111.6 216.2 104.4Q220.6 104.9 212.8 106.9Q207.4 111.4 200.5 109.5M209.3 85.1Q209.6 80.8 201.9 89.7Q207.9 92.2 214.5 91.6Q217.7 91.8 211 97.2Q208.6 94.4 205 94.7Q201.5 89.9 196.1 87.6M210.9 121.9Q210.2 114.5 208 107.3Q212.3 102.6 211.1 96.3Q212.6 90.5 208.7 94.3Q205.8 96 202.4 96.3Q197.2 99.3 191.4 100.8Q189.2 96.1 184.9 93.2" stroke="#70c872" stroke-width="0.9" stroke-linecap="round"/><path d="M186.1 93.3Q179.1 95.9 178.7 103.3Q181.2 105.7 180.9 109.1Q177.7 114.9 182.2 114.2Q188.7 112 192.5 106.3M184.3 120.3Q181.4 119 179 116.9Q178.4 113.9 180.1 111.4Q184.7 112.8 189.2 114.5M204.3 102.8Q200.2 103.3 196 103.1Q191.5 96.9 186.8 90.9Q184.1 86.2 184.1 80.8Q190.6 77 197.7 79.6Q200.6 80.5 201.4 83.4Q208.3 85.8 207.7 94.3" stroke="#a8f0a6" stroke-width="0.9" stroke-linecap="round"/><path d="M175.2 127.2Q181 122.2 185.7 116.2" stroke="#70c872" stroke-width="2.8"/><path d="M175.2 127.2Q181 122.2 185.7 116.2" stroke="#a8f0a6" stroke-width="1.8"/><path d="M212.1 117.1Q214.2 110.6 213.3 103.9" stroke="#70c872" stroke-width="3.5"/><path d="M212.1 117.1Q214.2 110.6 213.3 103.9" stroke="#a8f0a6" stroke-width="2.5"/><path d="M189.6 137.7Q194.7 131.7 201.8 128.1" stroke="#70c872" stroke-width="2.8"/><path d="M189.6 137.7Q194.7 131.7 201.8 128.1" stroke="#a8f0a6" stroke-width="1.8"/><path d="M190.4 106.2Q195.3 98 196.8 88.6" stroke="#70c872" stroke-width="3"/><path d="M190.4 106.2Q195.3 98 196.8 88.6" stroke="#a8f0a6" stroke-width="2"/><path d="M188.2 89.5Q195.3 83.4 200 75.3" stroke="#70c872" stroke-width="3.5"/><path d="M188.2 89.5Q195.3 83.4 200 75.3" stroke="#a8f0a6" stroke-width="2.5"/><path d="M213.1 113.8Q212.8 103 216 92.6" stroke="#70c872" stroke-width="2.7"/><path d="M213.1 113.8Q212.8 103 216 92.6" stroke="#a8f0a6" stroke-width="1.7"/></g>
<g fill="none" stroke-opacity="0.82"><path d="M383.1 147Q385.7 150 376.2 150.5Q373 144.2 375.3 137.5Q370.4 133.4 364.6 136.2Q363 139.1 361.4 141.9Q365.2 146.9 370.1 150.9Q369.5 155.5 365.1 156.7M337.6 150.4Q336.3 143 329 141.4Q325.1 139.7 336.2 141Q338.2 147.5 335.1 153.5Q331.9 151.9 328.4 152.6Q321 154.4 331.3 154M359.5 144.7Q357.1 150.2 359 155.8Q361 158.4 359.7 161.4Q356.6 165.8 351.1 165.9Q351 172.4 350.7 165.5" stroke="#cf7878" stroke-width="0.9" stroke-linecap="round"/><path d="M368.2 153.6Q371.9 160.7 365.8 160.4Q373.2 158.1 379.7 153.9Q385.4 155.7 377.7 152.7M378.1 159Q376.7 156.3 375 153.8Q369.9 154 365.2 152.1Q360.9 146.1 363.8 139.3Q362.9 134.7 361 130.4Q354.3 127.8 353.4 132" stroke="#f2a2a2" stroke-width="0.9" stroke-linecap="round"/><path d="M347.9 165.9Q348.1 157.8 347.4 149.6" stroke="#cf7878" stroke-width="3.4"/><path d="M347.9 165.9Q348.1 157.8 347.4 149.6" stroke="#f2a2a2" stroke-width="2.4"/><path d="M382.6 157.5Q379.9 152.4 384 148.3" stroke="#cf7878" stroke-width="3.3"/><path d="M382.6 157.5Q379.9 152.4 384 148.3" stroke="#f2a2a2" stroke-width="2.3"/><path d="M367.9 139.9Q366 134.4 364.8 128.8" stroke="#cf7878" stroke-width="2.8"/><path d="M367.9 139.9Q366 134.4 364.8 128.8" stroke="#f2a2a2" stroke-width="1.8"/><path d="M360.2 150.7Q363.1 145.2 362 139.2" stroke="#cf7878" stroke-width="2.7"/><path d="M360.2 150.7Q363.1 145.2 362 139.2" stroke="#f2a2a2" stroke-width="1.7"/><path d="M377.7 147.9Q374.2 140.1 371.6 131.9" stroke="#cf7878" stroke-width="3.5"/><path d="M377.7 147.9Q374.2 140.1 371.6 131.9" stroke="#f2a2a2" stroke-width="2.5"/></g>
<g fill="none" stroke-opacity="0.82"><path d="M303.7 120.1Q306.9 120.4 309.9 119.4Q311.6 116.6 304.9 114.7Q299.4 115.2 296.8 110.3M293.5 121.1Q293.3 125.8 294.5 124.1Q292.1 122.2 289.1 122Q286.2 124.5 288.8 123.4Q286.1 118.4 281 116.1Q273.9 115.3 270.4 109.1Q267.7 107.4 275.6 111.3M295.7 127Q291.9 124.8 287.5 124Q284.8 121.3 285.5 118.7Q288 116.2 291.4 117Q289.9 123.9 289.7 124.9Q295.2 121.5 300.2 117.4" stroke="#cf7878" stroke-width="0.9" stroke-linecap="round"/><path d="M294.9 119.7Q295.4 124.2 298.7 127.2Q299.9 133.6 298.6 129.9Q292.7 130.9 289.4 126.8Q295.2 124.4 295.1 118.2Q288 117.5 284.1 111.6Q280.2 112.9 276.6 115M279.7 113.7Q280.5 117.2 284.5 118.7Q289.5 119.5 291.3 124.1Q285.5 128.4 284.3 125.7M280.6 105.2Q280.2 101.8 277.9 99.1Q281.1 94 286.6 99.4Q289.4 101.1 292.4 106.7Q289.2 106 286 105.3" stroke="#f2a2a2" stroke-width="0.9" stroke-linecap="round"/><path d="M270.2 97.6Q276.3 102 283.4 104.4" stroke="#cf7878" stroke-width="2.7"/><path d="M270.2 97.6Q276.3 102 283.4 104.4" stroke="#f2a2a2" stroke-width="1.7"/><path d="M294.7 121.5Q301.8 125.9 309 129.9" stroke="#cf7878" stroke-width="2.8"/><path d="M294.7 121.5Q301.8 125.9 309 129.9" stroke="#f2a2a2" stroke-width="1.8"/><path d="M295.1 125Q303.9 125.2 310.8 130.7" stroke="#cf7878" stroke-width="3.2"/><path d="M295.1 125Q303.9 125.2 310.8 130.7" stroke="#f2a2a2" stroke-width="2.2"/><path d="M283.5 112.3Q290.2 115.2 295.3 120.3" stroke="#cf7878" stroke-width="3.3"/><path d="M283.5 112.3Q290.2 115.2 295.3 120.3" stroke="#f2a2a2" stroke-width="2.3"/></g>
<g fill="none" stroke-opacity="0.82"><path d="M217 97Q213.6 103.8 216.9 110.6Q214.5 114.5 212.3 109Q216.9 115.4 216.6 114.3Q214.6 109.1 216.4 103.7M219.6 111.5Q215.9 105 208.6 103.7Q203.8 109.4 204.6 107.9Q207.6 109.3 212.5 107.3Q207.9 112.1 207.1 108.1" stroke="#70c872" stroke-width="0.9" stroke-linecap="round"/><path d="M223.5 96.7Q217.8 98.8 216.3 104.7Q212.7 108.7 210.8 106.3Q212.6 110.7 212.7 109.4Q210.2 103.7 208.8 102.7M221.5 100.9Q214.6 97.8 207.7 95.1Q204.4 92.7 207.9 93.9Q206.3 96.5 208.7 99.2Q212.1 100 213 103.4Q207.3 108.2 206.9 107.5Q211.1 108.8 215.3 110.3" stroke="#a8f0a6" stroke-width="0.9" stroke-linecap="round"/><path d="M208.6 108.1Q213.9 105.9 219.4 104.8" stroke="#70c872" stroke-width="2.8"/><path d="M208.6 108.1Q213.9 105.9 219.4 104.8" stroke="#a8f0a6" stroke-width="1.8"/></g>
<g fill="none" stroke-opacity="0.82"><path d="M261.5 86.5Q253.8 88.2 246.5 90.8Q246.9 97.9 249.6 96.2Q254.3 96.2 258.4 94Q258.3 90.7 255.4 89.1Q255.2 84.9 252.5 81.8Q255.3 79.3 258.4 77.3M249.3 81.6Q249.9 77.9 249.1 74.2Q252 67.2 254.6 69.2Q251.2 70.4 247.7 70.4Q242.2 73.8 238.8 79.3M263.9 67.8Q266.3 74.4 269.8 80.6Q274.4 84.7 270.1 82.6Q263.7 82.1 259.4 86.9Q256.2 93.4 257 100.6M261.8 95.9Q259.4 94 256.7 92.6Q253.5 87.5 248.4 84.4Q244.4 83.9 240.5 84.9Q235.5 84 240.9 85.6Q246.5 80 251.1 73.6Q254.8 71.1 259.3 70.5" stroke="#cf7878" stroke-width="0.9" stroke-linecap="round"/><path d="M271.3 87.5Q270.7 82.1 269 76.9Q273.1 74 267.3 75Q263.7 75.5 260.8 77.9Q257.8 85.3 254.4 92.5Q256.8 96.5 256.9 101.1M258.9 65.9Q262.3 63.2 261.9 71.8Q254.5 74.3 246.8 75.2Q245.4 67.9 251.4 70Q250.9 75.3 249.4 80.4" stroke="#f2a2a2" stroke-width="0.9" stroke-linecap="round"/><path d="M259 101.2Q261 95.4 264.1 90.2" stroke="#cf7878" stroke-width="3.3"/><path d="M259 101.2Q261 95.4 264.1 90.2" stroke="#f2a2a2" stroke-width="2.3"/><path d="M265.7 77.7Q270.4 71.7 272.7 64.4" stroke="#cf7878" stroke-width="3.2"/><path d="M265.7 77.7Q270.4 71.7 272.7 64.4" stroke="#f2a2a2" stroke-width="2.2"/><path d="M244.4 89.6Q246.8 80.9 245.9 71.9" stroke="#cf7878" stroke-width="3.2"/><path d="M244.4 89.6Q246.8 80.9 245.9 71.9" stroke="#f2a2a2" stroke-width="2.2"/><path d="M258.8 95.4Q264.1 89 263.8 80.6" stroke="#cf7878" stroke-width="2.8"/><path d="M258.8 95.4Q264.1 89 263.8 80.6" stroke="#f2a2a2" stroke-width="1.8"/><path d="M245.8 104.4Q245.2 95.4 247.8 86.7" stroke="#cf7878" stroke-width="2.9"/><path d="M245.8 104.4Q245.2 95.4 247.8 86.7" stroke="#f2a2a2" stroke-width="1.9"/><path d="M260.5 80Q261.2 73.8 263.4 67.8" stroke="#cf7878" stroke-width="3.3"/><path d="M260.5 80Q261.2 73.8 263.4 67.8" stroke="#f2a2a2" stroke-width="2.3"/></g>
<g fill="none" stroke-opacity="0.82"><path d="M303.5 69.3Q306.6 66.4 304.1 69.9Q302.9 77.5 307.4 83.7Q305.6 87.1 303.7 90.4Q302.6 94.5 299.2 97.3Q300 100.5 297 91.8M284.6 81.1Q281 86.2 286.1 85Q287.7 78.4 286.8 71.6Q288.8 65.9 294.6 64.5Q299.7 68.3 304.4 72.6Q301.9 78 297.3 81.9Q296.3 85.3 294.9 88.5" stroke="#6b78bc" stroke-width="0.9" stroke-linecap="round"/><path d="M289.9 65.6Q292.5 58.8 296.7 52.8Q302.2 47.4 299.2 53.4Q295.3 53.7 292.3 51.3Q295.1 46.2 294.3 53.9Q293.9 61.1 296.9 67.7Q293.3 69.5 291.8 73.2M288.7 57.2Q291.7 55.5 295.1 56.3Q297.4 52.8 297.9 48.6Q298.1 44.7 298.2 54.7Q299.6 58.7 297.5 62.4M284.2 62.2Q291.7 62.7 299 61.5Q301.7 64.7 300.2 68.6Q296.5 72.4 295.6 77.7Q289.2 80.5 282.5 78.1Q277.2 81.7 280.3 77.5Q286.8 80.9 292.9 76.8M291.1 66.2Q289.6 59.4 295.3 55.4Q300.3 52.1 299.1 57.5Q292.7 56 286.1 56.7Q283.4 58.3 280.4 57.5Q276.8 57.4 282.4 62.3" stroke="#93a0de" stroke-width="0.9" stroke-linecap="round"/><path d="M304.3 71.5Q302.6 64.4 300.9 57.2" stroke="#6b78bc" stroke-width="2.5"/><path d="M304.3 71.5Q302.6 64.4 300.9 57.2" stroke="#93a0de" stroke-width="1.5"/></g>
<g fill="none" stroke-opacity="0.82"><path d="M298.1 91.7Q293.2 96.2 286.5 97Q281 94.7 283.5 98.8Q289 100.8 289.6 106.7M288.7 101.7Q285.8 99.4 286.7 95.8Q291.5 95.7 296.3 96.1Q300 98.9 304.5 100.3Q307.3 104.9 310.8 109Q312.5 112.2 307.1 110.3M281.8 94.7Q279.5 91 283.6 95.1Q284.1 100 283.9 104.9Q278.4 108.1 284.6 109.8Q292.2 110.5 296.9 116.6Q303.6 119.1 303.8 115.5M296.9 113.7Q293.8 112.8 292.5 109.9Q289.2 109.5 287.1 112Q289.8 115.5 293.4 112.9Q293.6 108.5 294 104.1Q291.4 98.8 285.6 97.7Q283.1 96.1 283.2 93.1" stroke="#6b78bc" stroke-width="0.9" stroke-linecap="round"/><path d="M304.7 96.8Q301 91.3 298.3 92.1Q303.2 93.1 303.3 97.8Q301.1 104.2 305.1 109.8Q306.8 113.7 310.9 115.2Q309.6 121.1 301.6 116.5" stroke="#93a0de" stroke-width="0.9" stroke-linecap="round"/><path d="M281.7 88.3Q287.8 90.4 290.4 96.3" stroke="#6b78bc" stroke-width="2.9"/><path d="M281.7 88.3Q287.8 90.4 290.4 96.3" stroke="#93a0de" stroke-width="1.9"/><path d="M302.8 98.7Q308.7 100.8 311.7 106.2" stroke="#6b78bc" stroke-width="3.2"/><path d="M302.8 98.7Q308.7 100.8 311.7 106.2" stroke="#93a0de" stroke-width="2.2"/><path d="M296.4 109.6Q299.7 117.7 305.3 124.3" stroke="#6b78bc" stroke-width="3.5"/><path d="M296.4 109.6Q299.7 117.7 305.3 124.3" stroke="#93a0de" stroke-width="2.5"/></g>
<g fill="none" stroke-opacity="0.82"><path d="M332.1 123.9Q325.2 120.5 318.2 123.6Q319.6 129.5 324.6 127.1Q326.8 119.8 333.3 115.7Q332.6 111.4 328.5 111.6Q326 118.1 325.3 125M326.2 127.5Q323.1 123.1 317.8 122.4Q315.4 116.2 317.1 113.6Q320.4 114 322.9 111.9Q329.4 110.5 330 110.3Q331.6 115.7 334.9 120.2Q336.7 122.7 332.5 122.5" stroke="#cf7878" stroke-width="0.9" stroke-linecap="round"/><path d="M321.2 120.2Q316.1 117 310.8 119.8Q306.1 114.8 313 112Q309.8 112.5 314 114.2Q314.6 118 316 121.7Q323.4 123.5 330.9 124.8Q332.3 128.8 329.6 127" stroke="#f2a2a2" stroke-width="0.9" stroke-linecap="round"/><path d="M317.9 129.4Q324.4 128.2 326.2 121.9" stroke="#cf7878" stroke-width="3.3"/><path d="M317.9 129.4Q324.4 128.2 326.2 121.9" stroke="#f2a2a2" stroke-width="2.3"/><path d="M311.7 122Q312.9 116.4 311.2 110.9" stroke="#cf7878" stroke-width="2.8"/><path d="M311.7 122Q312.9 116.4 311.2 110.9" stroke="#f2a2a2" stroke-width="1.8"/></g>
<g fill="none" stroke-opacity="0.82"><path d="M297.1 89.5Q296.4 94.9 297.9 100Q302.8 102 307.7 104.1Q310.3 106.9 313.1 109.6Q317.7 110.2 312.5 107Q310 108.6 308 111M297.7 106.3Q290.4 108 284.3 103.5Q283.1 97.8 282 92Q285 86.8 291 87.2M312.6 110.5Q316 112.7 309.5 110Q305.7 111.1 304.7 114.9Q302.8 118.1 298.8 111.6" stroke="#70c872" stroke-width="0.9" stroke-linecap="round"/><path d="M297 112.1Q299.8 114.4 303.5 114.9Q307.6 119.2 303.4 115Q307.2 112.5 308.1 107.9Q310.4 105.2 312.7 102.4Q312.5 97.4 307.7 95.6Q303.5 100 305.2 105.8M315.7 106.2Q310 105 304.5 106.8Q300.4 101.9 296.5 97Q291.7 92.7 285.8 95.2" stroke="#a8f0a6" stroke-width="0.9" stroke-linecap="round"/><path d="M280.8 97.3Q286.4 100.8 292.9 101.5" stroke="#70c872" stroke-width="3.3"/><path d="M280.8 97.3Q286.4 100.8 292.9 101.5" stroke="#a8f0a6" stroke-width="2.3"/><path d="M279.9 99.2Q285.8 102.2 292.4 102.7" stroke="#70c872" stroke-width="2.7"/><path d="M279.9 99.2Q285.8 102.2 292.4 102.7" stroke="#a8f0a6" stroke-width="1.7"/><path d="M298.7 92.4Q304.2 91.2 308 95.2" stroke="#70c872" stroke-width="2.9"/><path d="M298.7 92.4Q304.2 91.2 308 95.2" stroke="#a8f0a6" stroke-width="1.9"/></g>
<g fill="none" stroke-opacity="0.82"><path d="M378.7 112.9Q381 105.2 387.6 100.8Q395.5 100.5 402.4 96.6Q409.3 100.6 412.2 108.1Q410.3 111.7 407.5 114.6Q411.4 118.2 416.6 117.4M399.9 88.3Q405.1 87.2 409 90.7Q416 88.9 421.3 93.7Q423.1 97.1 426 99.7Q433 101.9 426.1 99.9Q422.6 103.2 418.9 106.3Q415.7 106.1 413.1 107.9M415.6 102.4Q409.1 99.9 407.1 93.2Q404.9 88.6 406.2 83.6Q407.2 79.5 409.2 75.8M396.5 122.5Q393.1 125.8 391.8 130.3Q389.8 134.6 394.9 124.1Q393.7 120.3 393.5 116.2" stroke="#cf7878" stroke-width="0.9" stroke-linecap="round"/><path d="M415.9 93.4Q412.3 89.2 408.3 85.3Q401.7 81.8 399.6 87.6Q398.3 93.9 401.2 99.5Q405 103.2 407.8 107.6M388.9 94.1Q390.3 98.1 388.7 102.2Q391.8 108.8 399 108.6Q401.1 114.6 403.8 120.3Q409.9 124.8 412.6 117.4Q409.3 111.6 404.8 106.7Q404.9 103 407.6 100.5M385.4 97.5Q378.5 100.5 376 107.5Q368.9 106.7 382.2 100.8Q389.4 100.8 394.5 95.7" stroke="#f2a2a2" stroke-width="0.9" stroke-linecap="round"/><path d="M390.7 131.5Q399.3 128.7 403.6 120.7" stroke="#cf7878" stroke-width="2.6"/><path d="M390.7 131.5Q399.3 128.7 403.6 120.7" stroke="#f2a2a2" stroke-width="1.6"/><path d="M382.9 123.9Q388.7 116.5 397.5 113.2" stroke="#cf7878" stroke-width="3.2"/><path d="M382.9 123.9Q388.7 116.5 397.5 113.2" stroke="#f2a2a2" stroke-width="2.2"/><path d="M381.6 118.7Q390.3 112.4 395.9 103.1" stroke="#cf7878" stroke-width="2.7"/><path d="M381.6 118.7Q390.3 112.4 395.9 103.1" stroke="#f2a2a2" stroke-width="1.7"/><path d="M377 110.6Q382.7 104 389.5 98.5" stroke="#cf7878" stroke-width="3.1"/><path d="M377 110.6Q382.7 104 389.5 98.5" stroke="#f2a2a2" stroke-width="2.1"/><path d="M417.6 111.1Q419.9 102.2 427.5 97.1" stroke="#cf7878" stroke-width="3"/><path d="M417.6 111.1Q419.9 102.2 427.5 97.1" stroke="#f2a2a2" stroke-width="2"/><path d="M393.5 122.5Q402.3 115.7 405.7 105.1" stroke="#cf7878" stroke-width="3.2"/><path d="M393.5 122.5Q402.3 115.7 405.7 105.1" stroke="#f2a2a2" stroke-width="2.2"/><path d="M386 128.8Q394.2 120.9 405.4 118.3" stroke="#cf7878" stroke-width="3.4"/><path d="M386 128.8Q394.2 120.9 405.4 118.3" stroke="#f2a2a2" stroke-width="2.4"/></g>
<g fill="none" stroke-opacity="0.82"><path d="M125.6 124.5Q126.4 128 123.3 130Q123.3 134.5 123.2 138.9Q120.7 141.3 118.7 133.7Q121.9 134.6 125.1 134.5Q126.5 141 127.7 135.5Q125.8 132.7 123.5 130.3M120.3 122.3Q126 120.2 128.3 114.5Q133.5 110.2 127.2 111.1Q125.5 117 121.5 121.6Q119.8 125.9 117.4 129.9Q119.7 136.5 126.2 139.2Q131.5 142.6 131 134.6" stroke="#70c872" stroke-width="0.9" stroke-linecap="round"/><path d="M111 132.2Q107.3 131.1 110.8 126.2Q109.7 130.1 113.1 129Q119.4 126.4 126.1 127.2Q129.1 130.3 129 134.6" stroke="#a8f0a6" stroke-width="0.9" stroke-linecap="round"/><path d="M122.9 113Q125.6 108.3 126.9 103.1" stroke="#70c872" stroke-width="3.2"/><path d="M122.9 113Q125.6 108.3 126.9 103.1" stroke="#a8f0a6" stroke-width="2.2"/><path d="M119.8 134.6Q123.8 129.2 124 122.4" stroke="#70c872" stroke-width="3.1"/><path d="M119.8 134.6Q123.8 129.2 124 122.4" stroke="#a8f0a6" stroke-width="2.1"/><path d="M127.8 136.2Q131.9 133.3 132.3 128.4" stroke="#70c872" stroke-width="2.9"/><path d="M127.8 136.2Q131.9 133.3 132.3 128.4" stroke="#a8f0a6" stroke-width="1.9"/></g>
<g fill="none" stroke-opacity="0.82"><path d="M302.2 42.5Q299 45.2 294.7 45.3Q292.3 48.9 293.5 53.1Q294.2 57.5 294.1 61.9Q291.5 65 292.2 69.1Q292.9 74.1 294.2 78.9M280.8 67.7Q285.4 68.4 286.6 72.8Q290.8 72.7 294.4 75.1Q294 78.8 295.7 82Q300.6 83.5 299.1 75.3Q298 67.7 302.5 61.4M284.3 68.8Q279 64.2 275.9 58Q272.5 56.3 277.9 56.2Q275.5 59.7 271.4 58.7M297 59.9Q296.1 55.9 292.1 54.9Q289 51.2 284.5 49.5Q282.3 52.7 278.4 52.8Q271.2 53.7 275.4 53.4Q279.5 53 282.3 56M285.2 68.5Q280.3 68.6 276.8 72Q276.2 77.7 283.3 73.6Q286 67.1 284.6 60.1Q288.3 58.4 291.3 55.6" stroke="#70c872" stroke-width="0.9" stroke-linecap="round"/><path d="M302.5 46.8Q300.9 50.3 301.7 54.1Q309.6 54.7 306.4 57.8Q304.3 52.9 302.4 48Q295.3 45.6 287.9 44.6Q281.3 45.7 281.8 48.8Q278.1 52.8 275.3 57.3" stroke="#a8f0a6" stroke-width="0.9" stroke-linecap="round"/><path d="M296.7 69.7Q300.5 63.7 300.9 56.6" stroke="#70c872" stroke-width="2.6"/><path d="M296.7 69.7Q300.5 63.7 300.9 56.6" stroke="#a8f0a6" stroke-width="1.6"/></g>
<g fill="none" stroke-opacity="0.82"><path d="M348.9 92Q346.3 89.9 345.2 86.7Q340.8 84.3 339.8 95Q344.5 98.8 345.3 104.9Q345.6 108.4 346.7 111.8" stroke="#cf7878" stroke-width="0.9" stroke-linecap="round"/><path d="M356 119.9Q352.7 119.8 349.7 121Q351.1 124.5 350 119.8Q354.4 116.3 357.9 111.9Q363.3 114.4 358.7 109.5Q360.9 113.6 356.6 113.1Q350.4 110.7 344.4 113.7M345.7 111Q351.6 115.7 352.5 123.1Q355.2 129.1 353.5 123.7Q350.5 117.2 354.1 111Q350.8 105.3 346.1 100.9M338.2 97.1Q341 98.8 344.2 97.7Q347.6 101.1 346.9 105.8Q345.2 109.5 344.4 113.5Q341.2 116.5 337.6 119.1Q339.6 123.7 340.8 128.6Q334.5 132.6 338.2 127.1" stroke="#f2a2a2" stroke-width="0.9" stroke-linecap="round"/><path d="M358.9 111.2Q358.4 101 355.5 91.1" stroke="#cf7878" stroke-width="2.5"/><path d="M358.9 111.2Q358.4 101 355.5 91.1" stroke="#f2a2a2" stroke-width="1.5"/><path d="M340.3 112.7Q339.7 102.2 337.6 91.9" stroke="#cf7878" stroke-width="3.2"/><path d="M340.3 112.7Q339.7 102.2 337.6 91.9" stroke="#f2a2a2" stroke-width="2.2"/><path d="M340.4 127.8Q335 118.1 332.5 107.3" stroke="#cf7878" stroke-width="3.3"/><path d="M340.4 127.8Q335 118.1 332.5 107.3" stroke="#f2a2a2" stroke-width="2.3"/><path d="M351.5 126.8Q345.5 117.3 344.8 106" stroke="#cf7878" stroke-width="2.9"/><path d="M351.5 126.8Q345.5 117.3 344.8 106" stroke="#f2a2a2" stroke-width="1.9"/></g>
<g fill="none" stroke-opacity="0.82"><path d="M56.9 127.8Q56.7 122.7 52.8 122.2Q59.3 123.8 59.3 127.7Q55.3 126.5 51.3 125.4Q48.7 122.9 48.7 123M47 130.2Q42.5 130.3 44.5 127.1Q48.8 127.3 52 130.2Q55.7 125.9 57.1 127.9" stroke="#cf7878" stroke-width="0.9" stroke-linecap="round"/><path d="M45 128.1Q38.4 131.6 40.2 133.3Q45.1 131.7 48.9 128.2Q56.5 130.2 58.1 126.5Q53.7 131.8 47 132.8" stroke="#f2a2a2" stroke-width="0.9" stroke-linecap="round"/><path d="M48.5 125.4Q50.8 123 53.4 121" stroke="#cf7878" stroke-width="2.7"/><path d="M48.5 125.4Q50.8 123 53.4 121" stroke="#f2a2a2" stroke-width="1.7"/></g>
<g fill="none" stroke-opacity="0.82"><path d="M103.6 77.4Q108.8 72.4 106.8 65.4Q105 57.8 109.6 59.5Q109.6 64.6 107.9 69.4Q108.4 75.1 113.6 77.5Q119 78.7 122.3 74.3M118.6 65.3Q114.6 64.5 111.6 62Q106.8 58.9 105 60.7Q108.3 63.8 112.8 64.4Q116.8 60.5 115 61.4M92.9 75.7Q98.9 70.8 104.8 65.8Q108.3 62 113.4 61.5Q119.4 64 124.8 67.5" stroke="#70c872" stroke-width="0.9" stroke-linecap="round"/><path d="M111.2 68.2Q110.3 63 108.5 62.8Q106.6 66.8 105.8 71.2Q104.1 75.8 104.5 80.7M111.3 78.4Q117.1 74.9 123.4 77.6Q128.3 81.8 121.3 80.8Q116.4 80.9 110.3 77.5Q109.8 72.9 106.2 70.1Q104.5 66 101.3 62.8Q104.5 58.3 110 59.3" stroke="#a8f0a6" stroke-width="0.9" stroke-linecap="round"/><path d="M109.4 64.2Q114.9 60.6 117.5 54.6" stroke="#70c872" stroke-width="2.5"/><path d="M109.4 64.2Q114.9 60.6 117.5 54.6" stroke="#a8f0a6" stroke-width="1.5"/><path d="M110 76.4Q115.5 73.2 121.6 71.3" stroke="#70c872" stroke-width="3.2"/><path d="M110 76.4Q115.5 73.2 121.6 71.3" stroke="#a8f0a6" stroke-width="2.2"/><path d="M101.8 69.8Q104.7 63.8 111.3 63.3" stroke="#70c872" stroke-width="3.3"/><path d="M101.8 69.8Q104.7 63.8 111.3 63.3" stroke="#a8f0a6" stroke-width="2.3"/><path d="M108.9 76.4Q112.2 70.3 118.5 67.1" stroke="#70c872" stroke-width="3.4"/><path d="M108.9 76.4Q112.2 70.3 118.5 67.1" stroke="#a8f0a6" stroke-width="2.4"/></g>
<g fill="none" stroke-opacity="0.82"><path d="M196.3 90.8Q190.6 96.4 190.6 92.5Q195.4 88.5 196.2 82.3Q197.6 79.2 200.9 82.2Q197 87.8 195.5 90.8Q199.5 86.8 202.6 82.2" stroke="#6b78bc" stroke-width="0.9" stroke-linecap="round"/><path d="M201.2 86.3Q201.4 78.7 204.7 79.8Q199.4 77.4 197.4 80.8Q202 80.8 205 84.5Q203 87.3 199.6 87.2Q195.1 82.9 194.1 85.4Q196.4 79.9 197.9 80.4" stroke="#93a0de" stroke-width="0.9" stroke-linecap="round"/><path d="M193.2 96.4Q195.9 93.7 196.4 89.9" stroke="#6b78bc" stroke-width="3.4"/><path d="M193.2 96.4Q195.9 93.7 196.4 89.9" stroke="#93a0de" stroke-width="2.4"/><path d="M202.5 90.2Q207 89.5 208.2 85.1" stroke="#6b78bc" stroke-width="3.5"/><path d="M202.5 90.2Q207 89.5 208.2 85.1" stroke="#93a0de" stroke-width="2.5"/></g>
<g fill="none" stroke-opacity="0.82"><path d="M94.6 91.5Q90.6 91.5 88.7 95Q81 96.1 85 99.9Q86 96.8 92 95.4" stroke="#70c872" stroke-width="0.9" stroke-linecap="round"/><path d="M106.7 98.6Q103.5 105.2 103.2 106.5Q109.8 103 109.1 97.9Q109.9 104.8 109.9 103.4Q107.8 101.1 107.8 98M104.4 104.1Q108.8 103.1 108 100.5Q102.7 104.8 98.7 104.9Q101 100.4 104.7 96.9" stroke="#a8f0a6" stroke-width="0.9" stroke-linecap="round"/><path d="M105.4 105.4Q112.1 103 113.7 96" stroke="#70c872" stroke-width="3.2"/><path d="M105.4 105.4Q112.1 103 113.7 96" stroke="#a8f0a6" stroke-width="2.2"/></g>
<g fill="none" stroke-opacity="0.92"><path d="M268.6 35.9 A45 45 0 0 1 313.2 54.4" stroke="#70c872" stroke-width="3.8"/><path d="M268.6 35.9 A45 45 0 0 1 313.2 54.4" stroke="#a8f0a6" stroke-width="2.8"/></g>
<g fill="none" stroke-opacity="0.82"><path d="M333.6 148Q333.3 151.9 335.3 155.2Q340.2 160.4 342.6 167.1Q347.2 168.9 352.7 163Q351.4 159.8 349.1 157.1Q344.9 160.3 343.6 165.4Q345.3 169.8 348.6 163.6M358.4 140.3Q365.1 142.7 371.1 138.7Q372.7 135.4 376.1 134.4Q381.5 131.8 371.8 134.6M365.3 139.3Q371.2 140.3 376.7 142.5Q377.8 146.6 381.1 149.4Q387.2 148 378.8 147.2" stroke="#cf7878" stroke-width="0.9" stroke-linecap="round"/><path d="M367.7 164.8Q371.6 158.7 372.8 151.6Q374.5 146.9 372.5 142.5Q373.1 139.5 375.9 138.2Q374.7 134.5 375.7 130.8Q376 126.4 368.5 132.3Q362.4 133.3 356.9 136.2M337.4 134.4Q341.7 129 350.9 133.9Q346.8 136.1 342.2 137.3Q339.8 141.8 339.1 146.8" stroke="#f2a2a2" stroke-width="0.9" stroke-linecap="round"/><path d="M355.8 173.6Q352.1 168.7 352.5 162.6" stroke="#cf7878" stroke-width="2.6"/><path d="M355.8 173.6Q352.1 168.7 352.5 162.6" stroke="#f2a2a2" stroke-width="1.6"/><path d="M377.9 148.3Q382.6 144.6 380.8 138.9" stroke="#cf7878" stroke-width="2.9"/><path d="M377.9 148.3Q382.6 144.6 380.8 138.9" stroke="#f2a2a2" stroke-width="1.9"/><path d="M368.5 168.6Q373.1 162.9 375.5 156.1" stroke="#cf7878" stroke-width="2.8"/><path d="M368.5 168.6Q373.1 162.9 375.5 156.1" stroke="#f2a2a2" stroke-width="1.8"/><path d="M380.3 148.9Q378.4 140.8 379.1 132.6" stroke="#cf7878" stroke-width="3.4"/><path d="M380.3 148.9Q378.4 140.8 379.1 132.6" stroke="#f2a2a2" stroke-width="2.4"/><path d="M366.1 137.6Q365.2 133 362.6 129.1" stroke="#cf7878" stroke-width="2.8"/><path d="M366.1 137.6Q365.2 133 362.6 129.1" stroke="#f2a2a2" stroke-width="1.8"/></g>
<g fill="none" stroke-opacity="0.82"><path d="M290.9 94.7Q289.5 99.1 292.5 102.7Q290.9 108.3 290.7 114Q293.9 118.5 298.1 112.3Q294.8 114.7 292.9 110.2Q296.8 114.7 302.8 114.7M297 111.7Q296.4 119.6 296.9 117.6Q299.1 114 303.3 114.4Q305.4 110.4 308.4 107.1Q313.4 105.5 308.7 102.3M285.3 100.6Q288.4 101.9 291.8 102.4Q294.3 104.4 293.8 107.5Q299.4 113 305.8 117.5" stroke="#6b78bc" stroke-width="0.9" stroke-linecap="round"/><path d="M288.5 90.7Q283.6 91.3 278.6 90.7Q274.5 87.6 280.1 93Q280.5 97.1 279.2 101Q278.5 105 285 106.6Q288.4 107.4 291.8 108.5Q295.8 110 299.3 107.4" stroke="#93a0de" stroke-width="0.9" stroke-linecap="round"/><path d="M297.8 97.8Q304.3 97.8 309.5 101.7" stroke="#6b78bc" stroke-width="3"/><path d="M297.8 97.8Q304.3 97.8 309.5 101.7" stroke="#93a0de" stroke-width="2"/><path d="M296.5 97Q302.1 100.8 308.6 99.3" stroke="#6b78bc" stroke-width="3.1"/><path d="M296.5 97Q302.1 100.8 308.6 99.3" stroke="#93a0de" stroke-width="2.1"/><path d="M292 91.8Q300.4 94.1 305.9 100.9" stroke="#6b78bc" stroke-width="3.2"/><path d="M292 91.8Q300.4 94.1 305.9 100.9" stroke="#93a0de" stroke-width="2.2"/></g>
<g fill="none" stroke-opacity="0.82"><path d="M375.9 101.7Q375 108.8 368.1 110.6Q363.5 111.2 359.7 108.6Q357.7 104.7 359.6 100.8Q366.9 97.8 370 90.7Q374.1 88 372.1 92.3M379.7 114.4Q382.7 111.1 377.8 106.6Q372.7 107.7 367.6 106.3Q367.6 101.2 366 96.4Q367 93.2 367.7 96.3Q365.6 100.5 364.6 105" stroke="#6b78bc" stroke-width="0.9" stroke-linecap="round"/><path d="M371 101.7Q363.8 101.6 360.7 95.1Q355.2 98 354.5 104.2Q354 109.5 355.2 114.8Q361.3 115 367.1 112.8Q369.5 116.3 369.1 120.5Q376.1 122.1 374.6 119.6M369.4 118.9Q366.5 120 363.9 121.5Q358.9 118.3 355.7 113.3Q358.9 111 361.5 107.9Q358.4 101.1 361.2 98.7Q356 102.2 352.5 107.4Q348.4 108.8 353.7 108.4" stroke="#93a0de" stroke-width="0.9" stroke-linecap="round"/><path d="M360.8 92.5Q368.9 93 376.7 95.1" stroke="#6b78bc" stroke-width="2.9"/><path d="M360.8 92.5Q368.9 93 376.7 95.1" stroke="#93a0de" stroke-width="1.9"/></g>
<g fill="none" stroke-opacity="0.82"><path d="M360.9 149.3Q367 145 370.8 138.7Q375.1 139.4 379.5 140Q387 138.1 379.8 140.4Q373.2 142.3 366.6 143.9Q364.5 147.5 361.2 150.1Q357.9 149 357 145.6M370.6 135.7Q373 130 370.3 135.5Q363.7 131.3 361.7 133.3Q365 140.3 371.7 144.2Q376.4 140.2 375.1 134.1Q381.6 129.7 376.9 137.7Q372.3 141 373.1 146.6M371.5 157.1Q368.8 151.8 372.7 147.2Q379.6 145.8 386.7 145.3Q391.1 149.6 381.3 147.5Q378.8 150.2 375.4 151.6Q371.9 155.4 372.4 160.5Q368 161.2 365.7 164.9M343.7 150.7Q341.1 144.3 338.9 137.8Q344.2 133 350.4 129.5Q351.5 122 356.2 128.3Q360.8 130.7 365.3 128.3Q370.5 123.3 368.4 130" stroke="#6b78bc" stroke-width="0.9" stroke-linecap="round"/><path d="M360.5 165.9Q359.5 169.6 355.7 170.3Q351.6 172.3 351.8 161.1Q358.2 156.3 359.6 148.5Q361 142.7 366.4 140" stroke="#93a0de" stroke-width="0.9" stroke-linecap="round"/><path d="M328.6 166.2Q335 160.6 339.8 153.6" stroke="#6b78bc" stroke-width="2.6"/><path d="M328.6 166.2Q335 160.6 339.8 153.6" stroke="#93a0de" stroke-width="1.6"/><path d="M332.8 151.2Q331.3 142.5 328.5 134.1" stroke="#6b78bc" stroke-width="2.7"/><path d="M332.8 151.2Q331.3 142.5 328.5 134.1" stroke="#93a0de" stroke-width="1.7"/><path d="M359 171.6Q356.7 163.3 357.7 154.8" stroke="#6b78bc" stroke-width="3"/><path d="M359 171.6Q356.7 163.3 357.7 154.8" stroke="#93a0de" stroke-width="2"/><path d="M351.1 164.8Q347.9 157.6 345.7 150.1" stroke="#6b78bc" stroke-width="3.3"/><path d="M351.1 164.8Q347.9 157.6 345.7 150.1" stroke="#93a0de" stroke-width="2.3"/><path d="M346.6 149.3Q348.2 142.8 343.5 138" stroke="#6b78bc" stroke-width="3.5"/><path d="M346.6 149.3Q348.2 142.8 343.5 138" stroke="#93a0de" stroke-width="2.5"/><path d="M375.8 155.3Q381.3 151.7 383 145.4" stroke="#6b78bc" stroke-width="2.9"/><path d="M375.8 155.3Q381.3 151.7 383 145.4" stroke="#93a0de" stroke-width="1.9"/></g>
<g fill="none" stroke-opacity="0.82"><path d="M154.6 57.3Q151.4 59.3 157.9 62.6Q154.2 58.5 148.8 56.9Q148.4 49.2 153.7 50.5Q152.3 56.8 157.2 62.5Q154 55.4 162.5 54.4M175.3 60.1Q171.8 56.1 166.6 57.4Q164 59.7 162.5 62.7Q160.2 67.8 160.1 66.2Q162.1 72 165.5 71.6Q160.7 70.8 160.9 68.2Q165.5 68 167.8 63.9" stroke="#cf7878" stroke-width="0.9" stroke-linecap="round"/><path d="M172.1 59.2Q175.4 58.4 178.7 59.2Q182.2 64.1 180.1 62.6Q178 57.8 173.4 56.4M184.9 64.8Q182.6 68.2 178 67.8Q174 65.7 169.8 67.6Q167.4 69.7 165.8 66Q173 68 174.2 68.6" stroke="#f2a2a2" stroke-width="0.9" stroke-linecap="round"/><path d="M155 57.8Q162.5 58.2 168.1 63.3" stroke="#cf7878" stroke-width="3.2"/><path d="M155 57.8Q162.5 58.2 168.1 63.3" stroke="#f2a2a2" stroke-width="2.2"/><path d="M159.5 59Q166.4 57.1 173 59.7" stroke="#cf7878" stroke-width="2.6"/><path d="M159.5 59Q166.4 57.1 173 59.7" stroke="#f2a2a2" stroke-width="1.6"/><path d="M173.4 67.3Q180.4 67.2 185.5 72.1" stroke="#cf7878" stroke-width="2.6"/><path d="M173.4 67.3Q180.4 67.2 185.5 72.1" stroke="#f2a2a2" stroke-width="1.6"/></g>
<g fill="none" stroke-opacity="0.82"><path d="M24.2 84.7Q20.4 86.5 22.6 83.5Q27.4 79.5 31.8 75.1Q35 76.1 35.9 79.4M31.4 85.3Q34.1 83.3 36.7 81Q37.4 77.7 38 74.4Q45.8 76.1 45.1 77.4Q42.9 70.1 34.1 72.9" stroke="#cf7878" stroke-width="0.9" stroke-linecap="round"/><path d="M27.4 81.6Q27.2 77 31.5 75.6" stroke="#cf7878" stroke-width="3.3"/><path d="M27.4 81.6Q27.2 77 31.5 75.6" stroke="#f2a2a2" stroke-width="2.3"/></g>
<g fill="none" stroke-opacity="0.82"><path d="M149.1 99.4Q152.6 100.1 156.2 100.8Q159.5 102.2 163.1 102.1Q169.1 104.3 164.5 102.9Q162 98.7 157.1 98.7Q156.9 105.8 150.8 104.2Q153.5 106.2 154.5 109.4M147.5 96.1Q153.2 95.3 158.5 97.4Q163.8 103.1 156.6 104.2Q160.4 102.8 164.4 101.9Q168.2 100.4 163.3 98.9" stroke="#6b78bc" stroke-width="0.9" stroke-linecap="round"/><path d="M136.8 100.4Q141.2 106.1 146.3 105.6Q140.7 103.8 141 100Q143.9 97.7 147.6 98.5M146.3 108Q140.4 107.6 136.5 103.1Q133.5 102.1 139.8 97.3Q140 103.2 145.2 106.1" stroke="#93a0de" stroke-width="0.9" stroke-linecap="round"/><path d="M134.2 96.3Q138.2 92.9 143.4 92.6" stroke="#6b78bc" stroke-width="3.4"/><path d="M134.2 96.3Q138.2 92.9 143.4 92.6" stroke="#93a0de" stroke-width="2.4"/><path d="M142.1 85.5Q148.9 83.6 155.9 84.4" stroke="#6b78bc" stroke-width="3.3"/><path d="M142.1 85.5Q148.9 83.6 155.9 84.4" stroke="#93a0de" stroke-width="2.3"/><path d="M146.3 106.9Q152.8 105.5 154.8 99.1" stroke="#6b78bc" stroke-width="2.5"/><path d="M146.3 106.9Q152.8 105.5 154.8 99.1" stroke="#93a0de" stroke-width="1.5"/></g>
<g fill="none" stroke-opacity="0.82"><path d="M24.6 129.2Q22.5 123.2 22.5 124.1Q26.5 126.5 29.8 128.4Q31 132.6 33.5 136.2Q30.9 138.6 27.5 137.3Q23.4 139.9 22.5 136.5Q24.1 141.4 28.7 138.5" stroke="#cf7878" stroke-width="0.9" stroke-linecap="round"/><path d="M29.9 138.1Q28.8 141.6 30.1 139.7Q26.1 142.6 24 137.8Q24.1 144.5 22 141.4M25.5 138Q23.4 143 23.1 141.4Q22.5 135.3 20.6 129.5Q17.1 125.5 21.5 125.3Q25.4 126 28 127Q23.8 129.4 21 133.3M31.8 138.1Q35.7 139.5 35 137.6Q36.4 130 32.6 126.5Q36.6 129.8 35.6 133" stroke="#f2a2a2" stroke-width="0.9" stroke-linecap="round"/></g>
<g fill="none" stroke-opacity="0.82"><path d="M419.4 80.3Q415.7 83 419.5 80.5Q420.7 73.6 423.6 67.3Q430.8 65 431.1 63.7Q433.3 70.8 429 77Q428.8 82.7 427.6 80.9M423.3 63.2Q423.4 69.1 418.4 72.1Q415.4 72.3 413.2 70.2Q410.1 70.8 414.2 71.7Q416.7 70 419.2 71.5" stroke="#70c872" stroke-width="0.9" stroke-linecap="round"/><path d="M435 68.9Q440.5 72.8 437.8 70.8Q432 72.1 426.9 75.2Q422.4 69.7 421.6 62.7Q424.6 58.4 423.5 60Q422.3 65.2 418.8 69.3Q413.2 67.4 414.2 69.6" stroke="#a8f0a6" stroke-width="0.9" stroke-linecap="round"/><path d="M404 67.4Q411.8 67.8 419.5 67.9" stroke="#70c872" stroke-width="2.9"/><path d="M404 67.4Q411.8 67.8 419.5 67.9" stroke="#a8f0a6" stroke-width="1.9"/></g>
<g fill="none" stroke-opacity="0.82"><path d="M112.9 89.9Q117.5 95.3 124.7 95Q126.7 102.7 121.1 108.3Q117.7 111.1 115.5 115Q110.2 116.4 112.6 107.6Q117.2 104.8 122.3 106.6Q126.9 110.1 132.2 108.3M118.7 105.2Q118.8 108.7 122 109.9Q126.9 115.2 129 110.6Q125.7 112 124 115Q126.3 118.7 125.8 113.5" stroke="#cf7878" stroke-width="0.9" stroke-linecap="round"/><path d="M130.3 110.3Q129 113.2 126.8 115.6Q120 117.3 117.3 112.8Q122.3 114.8 122.7 112Q115.2 113.4 113.6 109.8Q116.3 107.6 117.2 104.3" stroke="#f2a2a2" stroke-width="0.9" stroke-linecap="round"/><path d="M118.6 119.2Q125.8 113.7 128.6 105" stroke="#cf7878" stroke-width="2.5"/><path d="M118.6 119.2Q125.8 113.7 128.6 105" stroke="#f2a2a2" stroke-width="1.5"/><path d="M109.4 107.3Q116.7 103.2 124.2 99.3" stroke="#cf7878" stroke-width="2.9"/><path d="M109.4 107.3Q116.7 103.2 124.2 99.3" stroke="#f2a2a2" stroke-width="1.9"/></g>
<g fill="none" stroke-opacity="0.82"><path d="M401.6 107.1Q398.3 111.8 398.2 117.6Q402.9 120.5 405.7 125.2Q409.4 131.4 406.8 124Q401.2 120.6 396.2 116.5Q393.9 118.6 390.9 119.3Q389.2 124.5 383.9 125.5M410 101.9Q410.2 96.7 414.7 94.1Q418.1 96.2 418.5 100.2Q416.6 105.8 418.8 111.3M403 82.5Q400.8 86.2 397.6 89Q396.9 93.9 393.8 97.9Q394.2 101.1 391.4 102.8Q387.2 105.1 385.3 109.5Q377.6 111.4 384.7 108.7M385.8 103.9Q381.3 107.4 380.1 113Q376.5 113.8 373.2 112.2Q368.6 118 383.5 116.5Q387.7 111.8 393.5 109.3Q397.4 111.2 401.6 112.6Q406.9 116.4 413 118.9" stroke="#6b78bc" stroke-width="0.9" stroke-linecap="round"/><path d="M385.5 94.3Q388.1 89.6 393.3 90.2Q396.1 94.7 399.6 98.6Q402.8 104.4 409.2 106.5M390.2 102Q393.1 99.9 395.7 97.6Q400.1 95.7 405 96.1Q407.5 94.2 410.5 95.1Q414.8 96.9 416.9 100.9Q421.4 100.1 425.8 99.2M403.2 113.9Q407.1 117.1 407.7 122.2Q404 128.1 397 127.9Q390.7 126.3 384.3 127.3Q378 130.5 385.6 120.7Q392 121.5 398.2 119.4" stroke="#93a0de" stroke-width="0.9" stroke-linecap="round"/><path d="M380.3 102.4Q385.1 93.5 393.2 87.4" stroke="#6b78bc" stroke-width="3.4"/><path d="M380.3 102.4Q385.1 93.5 393.2 87.4" stroke="#93a0de" stroke-width="2.4"/><path d="M401.2 92.4Q406.6 81 417 74" stroke="#6b78bc" stroke-width="3.4"/><path d="M401.2 92.4Q406.6 81 417 74" stroke="#93a0de" stroke-width="2.4"/><path d="M407.4 93.7Q417.7 89.3 425 80.7" stroke="#6b78bc" stroke-width="2.7"/><path d="M407.4 93.7Q417.7 89.3 425 80.7" stroke="#93a0de" stroke-width="1.7"/><path d="M414.3 97.5Q418.8 88.9 428 85.6" stroke="#6b78bc" stroke-width="3.2"/><path d="M414.3 97.5Q418.8 88.9 428 85.6" stroke="#93a0de" stroke-width="2.2"/><path d="M420.7 112.6Q427.4 105.5 436.8 102.4" stroke="#6b78bc" stroke-width="2.5"/><path d="M420.7 112.6Q427.4 105.5 436.8 102.4" stroke="#93a0de" stroke-width="1.5"/><path d="M397.5 107.2Q405.9 99.6 415.7 93.9" stroke="#6b78bc" stroke-width="2.6"/><path d="M397.5 107.2Q405.9 99.6 415.7 93.9" stroke="#93a0de" stroke-width="1.6"/></g>
<g fill="none" stroke-opacity="0.82"><path d="M407.9 88.5Q406.3 84.1 409.2 80.3Q412.4 78.6 413.4 75.2Q413 71.2 408.5 82.8Q409.6 88.1 414.3 90.9M410.6 97.3Q407.3 95.4 403.7 93.7Q397.7 94.8 393.5 99.2Q390.6 104.8 384.4 105.9Q377.2 107.3 384.9 104.2Q387.2 106.1 390 105M384.6 121.3Q384.1 127 379 129.5Q374.4 133.7 383.8 121.8Q386.8 120 390.3 119.7Q390.1 112.1 389.5 104.5Q389.8 100.8 390.5 97.1Q390.4 90.9 393.9 93.7M421.2 102.6Q420.3 107.6 415.7 109.6Q412.5 105.1 414.8 100.2Q411.3 95.4 410.4 89.4Q408.6 85.8 404.6 85.1Q401.9 87.7 398.3 88.3Q398.1 93.5 398.8 98.6" stroke="#6b78bc" stroke-width="0.9" stroke-linecap="round"/><path d="M402.4 93.6Q406.5 98.6 412.8 96.9Q419.9 98.5 426.8 100.5Q425.3 105.2 425.1 110.1Q428.3 111.5 431.7 112.4M409.7 124.4Q413.9 126.6 412.8 119.5Q407.9 121.8 403.7 125.4Q405.1 130.3 401.2 133.7Q405.8 140 410.3 127.7Q410 120.6 411.2 113.7M438.4 84.1Q431.9 83.2 425.3 83.9Q423.7 87.8 419.9 89.8Q415.4 83.4 407.6 84.6M401.5 82.7Q395.4 81 397.7 86.7Q398 89.9 397.9 93Q400.7 97.8 399.2 103.2Q403.4 105.6 402.8 110.3Q404.5 113.8 403.5 117.4Q406.7 122.7 407.1 128.8" stroke="#93a0de" stroke-width="0.9" stroke-linecap="round"/><path d="M413.4 94.8Q424.2 88.1 430.8 77.3" stroke="#6b78bc" stroke-width="2.9"/><path d="M413.4 94.8Q424.2 88.1 430.8 77.3" stroke="#93a0de" stroke-width="1.9"/><path d="M418.7 102.8Q425.8 93.8 436 88.4" stroke="#6b78bc" stroke-width="3.1"/><path d="M418.7 102.8Q425.8 93.8 436 88.4" stroke="#93a0de" stroke-width="2.1"/><path d="M421 106.3Q429.7 101.1 436.4 93.5" stroke="#6b78bc" stroke-width="3"/><path d="M421 106.3Q429.7 101.1 436.4 93.5" stroke="#93a0de" stroke-width="2"/><path d="M412.6 108.6Q420.3 100.9 426.4 92" stroke="#6b78bc" stroke-width="2.6"/><path d="M412.6 108.6Q420.3 100.9 426.4 92" stroke="#93a0de" stroke-width="1.6"/><path d="M406.1 123.9Q414 119.8 418.7 112.3" stroke="#6b78bc" stroke-width="3"/><path d="M406.1 123.9Q414 119.8 418.7 112.3" stroke="#93a0de" stroke-width="2"/><path d="M414.7 93.7Q422.8 87.8 429.5 80.2" stroke="#6b78bc" stroke-width="3.3"/><path d="M414.7 93.7Q422.8 87.8 429.5 80.2" stroke="#93a0de" stroke-width="2.3"/><path d="M378.6 134.9Q382.3 125.5 389.8 118.9" stroke="#6b78bc" stroke-width="3.1"/><path d="M378.6 134.9Q382.3 125.5 389.8 118.9" stroke="#93a0de" stroke-width="2.1"/></g>
<g fill="none" stroke-opacity="0.82"><path d="M270.2 93.4Q264.4 96.4 260.8 101.8Q260.1 107.3 259.7 100.5Q255.1 95.5 250.7 90.5Q246.7 93.1 242.3 94.9M246.2 91.5Q244.6 88.6 245.3 85.4Q241.9 79.7 238.3 74.2Q236.1 71.9 241.8 76.1Q244.9 80.4 243.3 85.4Q237.9 87.1 242.5 82.8Q246.3 79.5 250.3 76.5M249.1 85Q248.9 91.1 244.1 94.8Q241.5 97.6 245.3 93.5Q250.2 88.9 256.5 86.8Q261.5 87.7 266.7 87.9Q266.3 94.7 261.5 94.1M252.9 82.1Q250.2 84.4 251.3 87.7Q248.7 89.6 247.1 92.4Q244.7 97.7 249.6 95.3Q251 89.2 257.1 88.2Q257.6 83.7 254.2 80.8" stroke="#cf7878" stroke-width="0.9" stroke-linecap="round"/><path d="M258.4 90.6Q257.2 87.6 254 87.2Q254.7 82.2 256.1 77.3Q258.1 74.4 258.8 70.8Q257.3 64.3 258.2 68.2Q254.7 70 251.5 72.2Q248.6 69.6 245 68.1M251.8 98.2Q248 98.9 250.3 94.8Q257 92.1 263.5 89.1Q269.9 89.3 267.3 88.5Q267.7 83.2 272.6 80.9" stroke="#f2a2a2" stroke-width="0.9" stroke-linecap="round"/><path d="M237.4 90.5Q239.9 82.7 244.6 75.9" stroke="#cf7878" stroke-width="2.5"/><path d="M237.4 90.5Q239.9 82.7 244.6 75.9" stroke="#f2a2a2" stroke-width="1.5"/><path d="M249.5 107.6Q253 100.4 253.6 92.4" stroke="#cf7878" stroke-width="2.6"/><path d="M249.5 107.6Q253 100.4 253.6 92.4" stroke="#f2a2a2" stroke-width="1.6"/><path d="M254.4 74.4Q260.8 68.5 261.9 59.8" stroke="#cf7878" stroke-width="3.3"/><path d="M254.4 74.4Q260.8 68.5 261.9 59.8" stroke="#f2a2a2" stroke-width="2.3"/><path d="M260 104Q263.1 96.5 269.8 92.1" stroke="#cf7878" stroke-width="3"/><path d="M260 104Q263.1 96.5 269.8 92.1" stroke="#f2a2a2" stroke-width="2"/><path d="M248.6 81.6Q256.4 75 259.1 65.1" stroke="#cf7878" stroke-width="2.6"/><path d="M248.6 81.6Q256.4 75 259.1 65.1" stroke="#f2a2a2" stroke-width="1.6"/></g>
<g fill="none" stroke-opacity="0.82"><path d="M294.5 36.7Q292.5 40.6 292.5 45Q291.3 49 288.4 48.3Q284.3 42 284.3 34.6" stroke="#70c872" stroke-width="0.9" stroke-linecap="round"/><path d="M290.9 39.6Q294.1 41.2 297.5 40.4Q298.6 44.3 292.5 45.2Q287.7 42.3 283 39.3Q280 40 277 40.7Q274.1 45.4 275.5 43.7M292.4 37.3Q290.2 31.4 287 31.8Q293.8 29.9 293 30.8Q289.8 32.9 286.2 35Q291.2 39.3 295.7 44.1" stroke="#a8f0a6" stroke-width="0.9" stroke-linecap="round"/><path d="M277.8 42.6Q283.6 45.4 289.6 43.1" stroke="#70c872" stroke-width="3.2"/><path d="M277.8 42.6Q283.6 45.4 289.6 43.1" stroke="#a8f0a6" stroke-width="2.2"/><path d="M282.7 36.6Q290.7 38.6 298.9 38.1" stroke="#70c872" stroke-width="2.8"/><path d="M282.7 36.6Q290.7 38.6 298.9 38.1" stroke="#a8f0a6" stroke-width="1.8"/></g>
<g fill="none" stroke-opacity="0.82"><path d="M378 149.4Q378.4 145.8 380.9 143.1Q384 141.1 375 145.1Q373.8 137.4 371 139.1Q363.8 136.6 362.5 129Q358 127.6 353.6 125.8Q351.1 123 351.3 132.3M353 145.3Q355.4 147.1 358.5 146.6Q360.1 142.7 360.6 138.4Q358.4 136.3 355.3 136.5Q351.6 139.1 347.2 139.7Q343.2 139.2 339.3 140.4M350.7 156.6Q342.9 157.7 337 163Q337.4 166.3 345.3 161Q344.6 154.9 339.4 151.4Q338.6 147.7 335.7 145.2Q334 141.8 331.6 138.8M342.7 131Q344.8 128.6 351 135.1Q348 136.2 346.7 139.1Q344.9 142.4 342.6 145.3Q347.3 151.5 352.8 157Q358.7 158.1 364.6 159.2Q370 158 375.2 160M349.4 138Q356 138.8 359.5 144.4Q356.8 149.2 351.3 149.2Q351 145.2 348.2 142.4" stroke="#f2a2a2" stroke-width="0.9" stroke-linecap="round"/><path d="M351.6 158Q357 152.9 362.2 147.4" stroke="#cf7878" stroke-width="2.9"/><path d="M351.6 158Q357 152.9 362.2 147.4" stroke="#f2a2a2" stroke-width="1.9"/><path d="M383 154.9Q381.4 146.5 383.4 138.3" stroke="#cf7878" stroke-width="2.5"/><path d="M383 154.9Q381.4 146.5 383.4 138.3" stroke="#f2a2a2" stroke-width="1.5"/><path d="M356.2 171.3Q355.4 163.1 350.4 156.6" stroke="#cf7878" stroke-width="2.5"/><path d="M356.2 171.3Q355.4 163.1 350.4 156.6" stroke="#f2a2a2" stroke-width="1.5"/><path d="M360.5 168.9Q359 161.4 357.9 153.7" stroke="#cf7878" stroke-width="3.3"/><path d="M360.5 168.9Q359 161.4 357.9 153.7" stroke="#f2a2a2" stroke-width="2.3"/><path d="M378.8 159.4Q379.4 154.5 383.5 151.6" stroke="#cf7878" stroke-width="3.4"/><path d="M378.8 159.4Q379.4 154.5 383.5 151.6" stroke="#f2a2a2" stroke-width="2.4"/><path d="M337.5 165.5Q335.6 160.3 333.8 155" stroke="#cf7878" stroke-width="3.2"/><path d="M337.5 165.5Q335.6 160.3 333.8 155" stroke="#f2a2a2" stroke-width="2.2"/></g>
<g fill="none" stroke-opacity="0.82"><path d="M351 106.1Q354.6 107.2 358.3 108Q363.2 110.5 368.6 109.6Q370.1 105.1 374.8 104.4M368.1 92.1Q363.4 91.5 361.9 95.8Q368.6 98.2 374.6 101.8Q374.3 106.3 374.1 110.9Q371.1 114.5 366.3 114.8Q360.9 116.2 362.2 115.4Q364 110.1 366.4 105" stroke="#70c872" stroke-width="0.9" stroke-linecap="round"/><path d="M372 97.7Q366.5 95.9 362 99.5Q358.8 95.7 360.4 91Q354.2 88.4 358 91.5Q360 95.9 360.5 100.8Q363.3 103.9 362.2 108M369.8 102.6Q375.8 98.6 375 98.6Q368.1 101.6 368 109.2Q369.7 116.8 365.5 116.3Q364.5 111.4 361.4 107.4" stroke="#a8f0a6" stroke-width="0.9" stroke-linecap="round"/><path d="M351.2 106.7Q356.8 107.1 362.2 105.6" stroke="#70c872" stroke-width="2.6"/><path d="M351.2 106.7Q356.8 107.1 362.2 105.6" stroke="#a8f0a6" stroke-width="1.6"/></g>
<g fill="none" stroke-opacity="0.82"><path d="M379.5 152.4Q372.5 149.7 365.5 146.7Q359.8 149.2 354 151.4Q352.8 154.6 349.8 156.4Q347.3 159.9 347.6 164.2Q349.1 167.3 348.4 170.7M350 143.5Q348.6 139.7 347 136Q350.6 134.5 351.3 130.6Q355 125.6 358.2 132.2Q352.7 130.3 347.8 133.2Q347.4 136.4 349.8 138.5Q345.1 144.5 337.5 144.9M345.3 130.8Q351.8 131 355.2 136.7Q361.4 135 364.1 129.2Q363.2 122.8 361.9 129.9Q363.6 132.8 363.5 136.1Q359 140.5 360.9 146.6Q363.6 148 364.2 151M341.7 150.4Q335.2 146.7 334.6 139.2Q339.1 136.5 342.8 132.8Q345.9 127.9 351.6 128.7M352.3 145.6Q345.2 142.4 340.6 136.2Q343.4 128.7 346 133.7Q347.7 140.2 342.3 144.2Q337 140.6 343.1 141.3Q344.2 147.6 340.9 153.2Q340.3 157.2 339.7 161.3" stroke="#70c872" stroke-width="0.9" stroke-linecap="round"/><path d="M354.6 153.3Q356.5 147.9 352.2 144.1" stroke="#70c872" stroke-width="2.5"/><path d="M354.6 153.3Q356.5 147.9 352.2 144.1" stroke="#a8f0a6" stroke-width="1.5"/><path d="M352.3 133Q356 129 354.3 123.9" stroke="#70c872" stroke-width="3.4"/><path d="M352.3 133Q356 129 354.3 123.9" stroke="#a8f0a6" stroke-width="2.4"/><path d="M342.6 139.9Q341.2 135.2 339.6 130.7" stroke="#70c872" stroke-width="3"/><path d="M342.6 139.9Q341.2 135.2 339.6 130.7" stroke="#a8f0a6" stroke-width="2"/><path d="M356.1 159.5Q353.4 152.6 353.2 145.1" stroke="#70c872" stroke-width="2.5"/><path d="M356.1 159.5Q353.4 152.6 353.2 145.1" stroke="#a8f0a6" stroke-width="1.5"/><path d="M340.3 169.6Q337.9 164.3 339.1 158.7" stroke="#70c872" stroke-width="3.2"/><path d="M340.3 169.6Q337.9 164.3 339.1 158.7" stroke="#a8f0a6" stroke-width="2.2"/></g>
<g fill="none" stroke-opacity="0.82"><path d="M114.4 87.2Q112.1 91.8 113.8 97.1Q114.3 89.5 119.7 89.8Q121.5 92.6 121.8 95.8M116.1 112.6Q119.4 109.6 123.3 107.4Q122.6 104.4 120.2 102.7Q116.2 104.9 115 109.2Q116.1 114.5 120.3 111.4M115.4 102.2Q119.3 101.5 123 100Q123.8 96.5 122.4 93.1Q126.4 89.3 131.8 90.1Q133.2 82.5 129.4 85Q124.2 87.7 118.4 87.9M126.6 88.8Q129.3 96 128.6 103.6Q126.3 106 127.7 109Q125.5 111.3 123.1 113.4Q122.1 116.6 121 111.7" stroke="#cf7878" stroke-width="0.9" stroke-linecap="round"/><path d="M117.9 113.9Q123.1 108.5 126.8 102" stroke="#cf7878" stroke-width="2.5"/><path d="M117.9 113.9Q123.1 108.5 126.8 102" stroke="#f2a2a2" stroke-width="1.5"/><path d="M121.2 102.8Q125.4 95.9 131.3 90.4" stroke="#cf7878" stroke-width="2.9"/><path d="M121.2 102.8Q125.4 95.9 131.3 90.4" stroke="#f2a2a2" stroke-width="1.9"/></g>
<g fill="none" stroke-opacity="0.82"><path d="M366 104.8Q364.1 100.6 361.4 96.9Q356.9 99.3 356.1 104.3Q353.1 107.9 351.8 112.4M363.9 92Q361.5 97.3 360.2 103Q357.8 108.3 357.8 114.1Q359.4 117.5 362.3 115.2Q365.5 112.7 369.3 110.9Q372 108.1 371 104.3M379.4 101.4Q383.2 96.8 380 100.8Q376.7 97 372.5 94.5Q373 86.9 369.1 90.1Q362.9 93.1 359.9 98.2Q363.8 96.1 366.1 92.4Q371 90.3 370.5 93.8" stroke="#70c872" stroke-width="0.9" stroke-linecap="round"/></g>
<g fill="none" stroke-opacity="0.82"><path d="M257.2 102.3Q253.6 100 254.4 103.8Q259.9 102.5 265 104.7Q270.5 99.1 271.5 104.3M258.5 102.9Q258.6 97.3 261.9 98.9Q258.6 103.8 256.3 109.2Q248.6 107.5 249.5 105.9M263.1 99.8Q261.2 106.1 259.4 112.4Q254.9 112.3 255.3 111.6Q259.6 114.3 264.3 112.4Q270.3 111.7 270.3 108.9Q268.4 113 264.4 115Q260.8 115.5 258.6 112.7" stroke="#cf7878" stroke-width="0.9" stroke-linecap="round"/><path d="M268 110.1Q261.1 110.6 255 113.9Q255.8 118 258.6 116.5Q257.7 110.9 253.2 107.5Q249.2 105.5 252.2 108.2M254.3 101.5Q251.2 102.4 253.9 103.6Q257.4 104.6 261 104.9Q263.6 106.6 264.3 109.7Q267 112.9 266.5 117.1Q266.4 120.8 266.1 117.3" stroke="#f2a2a2" stroke-width="0.9" stroke-linecap="round"/><path d="M253.6 101Q257.8 108.5 260.9 116.4" stroke="#cf7878" stroke-width="2.9"/><path d="M253.6 101Q257.8 108.5 260.9 116.4" stroke="#f2a2a2" stroke-width="1.9"/></g>
<g fill="none" stroke-opacity="0.82"><path d="M389.9 89.3Q394.1 92.9 398.3 96.3Q399.9 100.4 403.8 102.3Q407.5 103.7 411 105.5Q418.2 106.5 424.1 102.4M426.7 97.3Q433.3 97.1 438.7 100.8Q440 108.6 431 108Q425.7 106.8 421 104.3M421.1 112.5Q426.1 114 420.9 110.8Q426.2 105.1 429.1 97.8Q427.7 94.8 425.5 92.3M417.4 87.2Q422.4 93.1 429 97.1Q428.6 103.7 423.6 108Q419.2 114.2 418.1 121.7Q416.7 125.3 412.9 117.4M398.7 83.9Q397.4 77.1 397.7 84.9Q404.9 85 411.1 88.7Q415.7 91.3 420.8 92.7" stroke="#70c872" stroke-width="0.9" stroke-linecap="round"/><path d="M433.4 103.4Q428.8 97 423.3 91.4Q421.4 83.7 426.7 77.7Q430.7 71.7 419.5 79.2Q413.5 82.9 409.2 88.4Q406.7 86.4 406.7 83.2M417.7 77.7Q412.9 80.8 407.1 80.7Q405.6 77.3 406.4 73.7Q408.6 71.2 408.3 80.7Q404 84.7 401.2 89.8Q400.5 94.5 395.8 95.6Q391.3 99.2 387.7 103.6" stroke="#a8f0a6" stroke-width="0.9" stroke-linecap="round"/><path d="M416.3 103.7Q426.4 98.5 431.8 88.5" stroke="#70c872" stroke-width="2.6"/><path d="M416.3 103.7Q426.4 98.5 431.8 88.5" stroke="#a8f0a6" stroke-width="1.6"/><path d="M374 114.6Q382.5 113.6 387.7 106.9" stroke="#70c872" stroke-width="2.7"/><path d="M374 114.6Q382.5 113.6 387.7 106.9" stroke="#a8f0a6" stroke-width="1.7"/><path d="M407.5 91.3Q415.2 82.7 424.5 75.8" stroke="#70c872" stroke-width="3.2"/><path d="M407.5 91.3Q415.2 82.7 424.5 75.8" stroke="#a8f0a6" stroke-width="2.2"/><path d="M414.8 99Q420.2 94.2 423.2 87.7" stroke="#70c872" stroke-width="3.2"/><path d="M414.8 99Q420.2 94.2 423.2 87.7" stroke="#a8f0a6" stroke-width="2.2"/><path d="M380.4 137.1Q390.6 128.8 396.1 116.9" stroke="#70c872" stroke-width="3.2"/><path d="M380.4 137.1Q390.6 128.8 396.1 116.9" stroke="#a8f0a6" stroke-width="2.2"/><path d="M412.6 125Q417.8 114.3 427 106.8" stroke="#70c872" stroke-width="2.7"/><path d="M412.6 125Q417.8 114.3 427 106.8" stroke="#a8f0a6" stroke-width="1.7"/></g>
<g fill="none" stroke-opacity="0.82"><path d="M331.3 95.6Q332.4 91.3 336.5 89.8Q344 87.5 351.9 88.1Q355.1 91.5 353.2 95.8M332.2 93.7Q328.5 98.4 327.6 104.3Q329.9 109.1 326.4 113.1Q325.9 116.1 325.2 119.1Q321.9 121.3 325.2 113.9M334.2 87.3Q332.3 83.4 331.5 89.5Q330.2 96.5 323.5 99.2Q317.2 99.3 311.1 101.1Q305.8 98.5 315.1 102.1Q319.1 95.6 326.7 95.4Q330.1 93.8 333.4 92M345.1 86.3Q339.3 91.6 339.6 99.3Q344.7 101.2 350 100.7Q354.6 97 360 99.3Q363.2 99.7 354.2 100.3Q351.3 96.1 346.1 96.6" stroke="#70c872" stroke-width="0.9" stroke-linecap="round"/><path d="M344.9 108.7Q344.4 112 341.7 114.1Q337.4 108.9 339.9 102.7Q340 96.5 342.6 91Q349.1 89.9 354.6 93.6Q361.5 94.1 355.3 98.5M329.5 98.1Q326.2 100.2 325.4 104Q328.6 105.4 330.7 108.1Q335.3 105.5 338.7 101.4Q341.9 100.9 344.9 102.1Q343.7 106.4 343.4 110.9" stroke="#a8f0a6" stroke-width="0.9" stroke-linecap="round"/><path d="M320.5 115.4Q325.8 114.3 331.3 113.5" stroke="#70c872" stroke-width="2.6"/><path d="M320.5 115.4Q325.8 114.3 331.3 113.5" stroke="#a8f0a6" stroke-width="1.6"/><path d="M330 102.9Q334.7 97.2 341.5 94.3" stroke="#70c872" stroke-width="3.4"/><path d="M330 102.9Q334.7 97.2 341.5 94.3" stroke="#a8f0a6" stroke-width="2.4"/><path d="M344.6 93.6Q352.6 94.2 358.6 88.9" stroke="#70c872" stroke-width="3"/><path d="M344.6 93.6Q352.6 94.2 358.6 88.9" stroke="#a8f0a6" stroke-width="2"/><path d="M333.4 97.9Q335.9 92 342 90.1" stroke="#70c872" stroke-width="3.2"/><path d="M333.4 97.9Q335.9 92 342 90.1" stroke="#a8f0a6" stroke-width="2.2"/></g>
<g fill="none" stroke-opacity="0.82"><path d="M337.9 105Q336.2 108.8 333.5 111.9Q329 113 325.5 109.9Q322.5 112.3 318.7 112.7M316.8 108.5Q319.5 111.7 320.4 115.8Q324.9 118.9 327.8 115.3Q326.4 111.5 323.3 108.8M342.4 106.9Q345.9 105 349.6 103.6Q352 99.4 345.5 98.6Q340.6 99.9 336.5 97.1Q333.6 94.4 333 90.5Q330.6 83.2 329.6 86.1" stroke="#6b78bc" stroke-width="0.9" stroke-linecap="round"/><path d="M338.9 112.1Q339.9 107.3 344 104.6Q341.7 99.3 340 93.9Q345.9 90.3 341.1 91.2Q341 97.2 342.5 102.9Q350.5 102.2 347 101.2Q346.1 104.9 349.2 107.1M315.5 90Q312.5 92 310 94.6Q312 96.9 315 97Q320.3 91.1 325.8 85.3Q324.1 78.6 322.6 86.6Q325.6 85.9 328.1 87.8Q336 88.1 341 94.2" stroke="#93a0de" stroke-width="0.9" stroke-linecap="round"/><path d="M346.4 100.3Q350.6 98.1 355.1 96.5" stroke="#6b78bc" stroke-width="2.6"/><path d="M346.4 100.3Q350.6 98.1 355.1 96.5" stroke="#93a0de" stroke-width="1.6"/><path d="M332 103.6Q336.4 99.7 342.1 98" stroke="#6b78bc" stroke-width="3.5"/><path d="M332 103.6Q336.4 99.7 342.1 98" stroke="#93a0de" stroke-width="2.5"/><path d="M312.8 116.6Q310.9 110.2 315.1 104.9" stroke="#6b78bc" stroke-width="3.5"/><path d="M312.8 116.6Q310.9 110.2 315.1 104.9" stroke="#93a0de" stroke-width="2.5"/><path d="M333.7 91.5Q334.6 84.4 339.1 78.8" stroke="#6b78bc" stroke-width="2.5"/><path d="M333.7 91.5Q334.6 84.4 339.1 78.8" stroke="#93a0de" stroke-width="1.5"/></g>
<g fill="none" stroke-opacity="0.82"><path d="M423.7 79.7Q425.7 75.4 425.1 70.7Q419.3 66.3 413.8 76.1Q412.7 80.7 414 85.3Q418.3 89.1 424 88.3Q424.7 92.8 426.2 97.1M410.1 107.4Q404.1 102.2 396.9 105.6Q396 111.7 393.1 117.1Q392.2 123.5 392 129.9Q394.5 133.7 400.9 123Q394.9 125.7 392.6 131.9M432.3 101.4Q435.5 97.6 437.9 93.3Q440.5 88.4 429.4 91.9Q424.4 90.7 419.6 88.9M405.9 111.7Q399.9 112.2 395.3 116Q395.6 123 399.5 128.8Q395.9 132.5 400.5 123.3Q404 117.6 409.5 113.8Q406.7 109.8 403.8 105.9Q406.1 103.2 407.8 100.2M378.1 101.7Q375.6 99.6 385.7 100.7Q389.8 100.5 393.9 101Q397.9 103.6 402.4 102Q406.4 102.6 409.2 105.6" stroke="#cf7878" stroke-width="0.9" stroke-linecap="round"/><path d="M416.5 115.9Q412.6 113.9 411 109.8Q412.6 106.6 412.5 103Q417.6 99.1 421.9 94.3Q420.2 90.9 417.4 88.2Q412.7 84 413 77.8M415 79.6Q416.6 84.3 414.8 89Q419.1 95 421.9 101.7Q427.3 107.5 423 107.4Q421.1 99.8 426.1 93.8Q430.2 97.1 431.4 102.2Q428.1 105.2 425.1 108.5" stroke="#f2a2a2" stroke-width="0.9" stroke-linecap="round"/><path d="M403.9 99.7Q412.5 91.7 422.9 86.1" stroke="#cf7878" stroke-width="2.5"/><path d="M403.9 99.7Q412.5 91.7 422.9 86.1" stroke="#f2a2a2" stroke-width="1.5"/><path d="M408.7 83.2Q414.4 78.1 418.1 71.5" stroke="#cf7878" stroke-width="3.4"/><path d="M408.7 83.2Q414.4 78.1 418.1 71.5" stroke="#f2a2a2" stroke-width="2.4"/><path d="M378.9 98.1Q387.8 93.5 394.3 85.9" stroke="#cf7878" stroke-width="2.7"/><path d="M378.9 98.1Q387.8 93.5 394.3 85.9" stroke="#f2a2a2" stroke-width="1.7"/><path d="M383.2 124.2Q389.8 118.6 396.3 112.9" stroke="#cf7878" stroke-width="3.3"/><path d="M383.2 124.2Q389.8 118.6 396.3 112.9" stroke="#f2a2a2" stroke-width="2.3"/><path d="M367.1 120.4Q375.1 112.3 385.1 107" stroke="#cf7878" stroke-width="3.2"/><path d="M367.1 120.4Q375.1 112.3 385.1 107" stroke="#f2a2a2" stroke-width="2.2"/><path d="M411.3 78.9Q416.9 73.6 424.3 71.5" stroke="#cf7878" stroke-width="2.9"/><path d="M411.3 78.9Q416.9 73.6 424.3 71.5" stroke="#f2a2a2" stroke-width="1.9"/></g>
<g fill="none" stroke-opacity="0.82"><path d="M132.9 117.5Q136.6 119.4 132.4 119.6Q129.6 116.6 125.6 117.3Q121 123.3 117 129.8Q113.7 130.7 110.6 132Q108.3 135.3 111 131.3Q112.8 128.2 116.4 128.7" stroke="#cf7878" stroke-width="0.9" stroke-linecap="round"/><path d="M131 127.1Q129.1 121.4 129.9 115.5Q128.3 112.5 125 112.4Q124.7 117.2 128.2 120.6Q133.1 118.1 130.4 121.7M134.5 117.8Q130.4 119.7 128 123.5Q120.9 120.7 113.2 120.4Q109.4 119.8 105.5 120.4Q101.6 117.6 106.1 119.9M111.4 136.6Q119.1 138.6 124.2 132.7Q118.4 137.9 117.1 135.8Q117.7 131.1 120 127Q115.9 124.4 111.2 125.6Q109.1 123.4 107.7 120.8Q102.6 119.3 106.7 119" stroke="#f2a2a2" stroke-width="0.9" stroke-linecap="round"/><path d="M118.9 129.1Q123.6 120.7 126.3 111.5" stroke="#cf7878" stroke-width="3.4"/><path d="M118.9 129.1Q123.6 120.7 126.3 111.5" stroke="#f2a2a2" stroke-width="2.4"/><path d="M126.6 140.1Q128.1 131.8 134.3 126" stroke="#cf7878" stroke-width="2.7"/><path d="M126.6 140.1Q128.1 131.8 134.3 126" stroke="#f2a2a2" stroke-width="1.7"/><path d="M118.4 137.1Q121.6 128.6 123 119.7" stroke="#cf7878" stroke-width="3"/><path d="M118.4 137.1Q121.6 128.6 123 119.7" stroke="#f2a2a2" stroke-width="2"/><path d="M113.3 144.3Q118.6 139.6 121.2 132.9" stroke="#cf7878" stroke-width="2.8"/><path d="M113.3 144.3Q118.6 139.6 121.2 132.9" stroke="#f2a2a2" stroke-width="1.8"/></g>
<g fill="none" stroke-opacity="0.82"><path d="M94.9 146.3Q91.3 146.3 99.2 148.7Q99.1 145.5 100.5 142.7Q97.8 137.4 104 139.1M111 160.2Q111.6 166.9 110 162.4Q113.8 165 114.9 161.7Q116.6 158.9 119.9 158.7Q121.4 156.1 122.3 153.2Q123.4 145.6 121.7 138.2M96.6 145.8Q102.9 145 109.2 144.2Q113.1 143.3 115.2 140Q120.8 136.6 120.6 138.5Q117.7 140.7 114.2 142.1Q113.5 147.6 115.2 152.9" stroke="#6b78bc" stroke-width="0.9" stroke-linecap="round"/><path d="M125.9 162.4Q125.1 158.2 121.2 156.3Q120.7 152.9 118.2 150.5Q111.3 153 109.6 160.2Q111.9 165.7 112 162.6M127.2 157.9Q122.3 159.4 117.3 158Q113.1 160.4 113.5 165.2Q113.3 169.9 114.8 164.7Q112.7 159.1 116 154" stroke="#93a0de" stroke-width="0.9" stroke-linecap="round"/><path d="M112.7 145.3Q115.9 136.7 123.7 131.8" stroke="#6b78bc" stroke-width="3.1"/><path d="M112.7 145.3Q115.9 136.7 123.7 131.8" stroke="#93a0de" stroke-width="2.1"/><path d="M98.3 143.2Q104.9 139.8 110.7 135.2" stroke="#6b78bc" stroke-width="2.6"/><path d="M98.3 143.2Q104.9 139.8 110.7 135.2" stroke="#93a0de" stroke-width="1.6"/><path d="M116.2 167.3Q119.7 163 124.9 164.7" stroke="#6b78bc" stroke-width="2.8"/><path d="M116.2 167.3Q119.7 163 124.9 164.7" stroke="#93a0de" stroke-width="1.8"/><path d="M97 140.8Q104.2 139.7 110.4 143.6" stroke="#6b78bc" stroke-width="2.8"/><path d="M97 140.8Q104.2 139.7 110.4 143.6" stroke="#93a0de" stroke-width="1.8"/></g>
<g fill="none" stroke-opacity="0.82"><path d="M345 98.5Q339.1 94.5 333.5 90.2Q328.3 86.1 329.7 89Q326.8 90.4 326.1 93.6Q325.7 99.6 324.8 105.5M346.7 114Q343.5 117.7 338.6 117.3Q334.1 114.6 328.9 115.5Q323.3 110.3 315.8 109.3Q314.2 104.7 312.4 100.1M326.8 106.3Q325.2 102.9 322.4 100.5Q321.2 97.5 321.1 94.4Q317.4 93 313.5 93.7Q306.9 93.9 316.6 93.7Q319.9 94.3 321.7 97.3Q323.6 104.6 321.6 112M311.7 104.7Q309 106.2 317.9 104.3Q322.9 99.3 329.8 97.4Q334.5 100.8 340.4 100.8Q340.9 94.8 335.6 92" stroke="#70c872" stroke-width="0.9" stroke-linecap="round"/><path d="M321.8 96.6Q318.9 98 318 101.1Q310.9 103 316.9 100.7Q322.2 97.1 321.9 90.6Q323.9 87.1 327.9 86.1Q331.4 90.1 332.3 95.3" stroke="#a8f0a6" stroke-width="0.9" stroke-linecap="round"/><path d="M331.4 99.8Q339.7 101.5 346.6 96.6" stroke="#70c872" stroke-width="3.3"/><path d="M331.4 99.8Q339.7 101.5 346.6 96.6" stroke="#a8f0a6" stroke-width="2.3"/><path d="M325.6 116.3Q333.5 112 341.2 107.5" stroke="#70c872" stroke-width="3.1"/><path d="M325.6 116.3Q333.5 112 341.2 107.5" stroke="#a8f0a6" stroke-width="2.1"/><path d="M313.4 107.3Q317 101.4 323.8 100.5" stroke="#70c872" stroke-width="3.4"/><path d="M313.4 107.3Q317 101.4 323.8 100.5" stroke="#a8f0a6" stroke-width="2.4"/><path d="M323.6 97.7Q330.6 92.7 338.5 89.2" stroke="#70c872" stroke-width="3.2"/><path d="M323.6 97.7Q330.6 92.7 338.5 89.2" stroke="#a8f0a6" stroke-width="2.2"/></g>
<g fill="none" stroke-opacity="0.82"><path d="M182.3 54.3Q190 54.9 195.6 60.2Q200 63.1 197.1 61.2Q194.3 59.2 192.1 56.4Q193.4 52.4 196.4 49.3Q199.6 50.9 203 49.4M202 44Q196.8 44.7 195 49.7Q189 48.5 184.4 52.5Q182.4 56 179.7 58.9" stroke="#cf7878" stroke-width="0.9" stroke-linecap="round"/><path d="M208.5 57.1Q203.7 60.2 198.1 59.9Q192.1 57.8 186.2 55.8Q180.7 55.2 182.7 56.3M198.2 44.6Q200.6 41.1 198.9 45.1Q196.8 48.8 193 50.9Q187.4 47.3 184.3 41.3M187.4 56.1Q183.1 62.6 181.4 59Q182.7 56.4 185.7 55.7Q188 58.2 188.4 61.7M187.9 49.9Q193.9 48.7 197.3 43.7Q196.2 38.3 190.5 42.7Q194.9 48.1 201.5 50.4Q206.4 52.9 207.6 58.2Q203.3 61.1 198.5 60.1Q205 59.1 202.8 57.1" stroke="#f2a2a2" stroke-width="0.9" stroke-linecap="round"/><path d="M187.7 61Q189.1 56 192.7 52.1" stroke="#cf7878" stroke-width="2.9"/><path d="M187.7 61Q189.1 56 192.7 52.1" stroke="#f2a2a2" stroke-width="1.9"/><path d="M196.5 50.9Q203.4 46.2 207.7 39.1" stroke="#cf7878" stroke-width="2.5"/><path d="M196.5 50.9Q203.4 46.2 207.7 39.1" stroke="#f2a2a2" stroke-width="1.5"/><path d="M191.9 55Q194.4 48.1 200 43.4" stroke="#cf7878" stroke-width="2.7"/><path d="M191.9 55Q194.4 48.1 200 43.4" stroke="#f2a2a2" stroke-width="1.7"/><path d="M185.4 55Q188.6 48.2 194.9 44.2" stroke="#cf7878" stroke-width="3.5"/><path d="M185.4 55Q188.6 48.2 194.9 44.2" stroke="#f2a2a2" stroke-width="2.5"/><path d="M177.9 57.2Q184.3 50.6 184.4 41.3" stroke="#cf7878" stroke-width="2.9"/><path d="M177.9 57.2Q184.3 50.6 184.4 41.3" stroke="#f2a2a2" stroke-width="1.9"/></g>
<g fill="none" stroke-opacity="0.92"><path d="M317.1 69.7 A42 42 0 0 1 310.9 104.7" stroke="#6b78bc" stroke-width="3.5"/><path d="M317.1 69.7 A42 42 0 0 1 310.9 104.7" stroke="#93a0de" stroke-width="2.5"/></g>
<g fill="none" stroke-opacity="0.82"><path d="M25.1 124Q28.9 122.5 30.7 119Q36.6 114.3 44 115.3Q50.3 115.8 47.2 118.5" stroke="#cf7878" stroke-width="0.9" stroke-linecap="round"/><path d="M33 124.3Q32.5 130.6 31.1 127.3Q36.6 122.8 43.6 124.5Q45.8 121.4 48 118.4Q54.7 120.2 50.8 120.6Q50.2 116.9 47 114.9M20.5 112.1Q26.7 112.4 32.7 110.8Q34.5 107.5 36 104.2Q39.3 103 42.2 104.9Q47.7 101.8 44.5 104M47.4 126.2Q46.6 134 44.5 131Q36.8 130.4 29.7 127.5Q26.2 125.6 27.9 120.9Q30.5 124.3 30.2 128.7" stroke="#f2a2a2" stroke-width="0.9" stroke-linecap="round"/><path d="M39.2 120.4Q39.2 115 43.8 112.2" stroke="#cf7878" stroke-width="2.5"/><path d="M39.2 120.4Q39.2 115 43.8 112.2" stroke="#f2a2a2" stroke-width="1.5"/><path d="M28.9 112.4Q37.5 110 45.8 107" stroke="#cf7878" stroke-width="2.7"/><path d="M28.9 112.4Q37.5 110 45.8 107" stroke="#f2a2a2" stroke-width="1.7"/><path d="M21.3 119Q27.4 113.9 31.8 107.3" stroke="#cf7878" stroke-width="3.2"/><path d="M21.3 119Q27.4 113.9 31.8 107.3" stroke="#f2a2a2" stroke-width="2.2"/><path d="M45.9 118.6Q52.2 115.1 54.9 108.4" stroke="#cf7878" stroke-width="3.3"/><path d="M45.9 118.6Q52.2 115.1 54.9 108.4" stroke="#f2a2a2" stroke-width="2.3"/></g>
<g fill="none" stroke-opacity="0.82"><path d="M374.8 113.1Q370.4 110.3 371.2 105.1Q369.2 102.7 368.1 99.8Q370 92.9 366.6 94.7M363.8 97.9Q362.7 95.1 360.5 93Q360 89.1 362.7 93.5Q359.8 97.2 360.8 101.9Q358.6 107.9 355 113.2Q350.4 111.6 354.7 108.3Q361.8 109.8 369 108.4M361.5 97Q353.9 96 355.1 101.2Q355.8 97.5 358.9 99.6Q357.4 104.3 357.5 109.3Q359.6 111.5 362.2 113.1Q368.4 113.2 373.6 116.5Q375.5 120.2 372.1 116.9" stroke="#cf7878" stroke-width="0.9" stroke-linecap="round"/><path d="M379.6 103.3Q375.9 102.1 372.4 103.7Q369.7 105.1 367.2 106.9Q368.2 110.8 370.4 114.2Q366.5 118.8 366.5 117.3Q369.7 112.7 366.6 108.1Q362 103.5 361.7 97" stroke="#f2a2a2" stroke-width="0.9" stroke-linecap="round"/><path d="M360.1 108.1Q367.4 107.1 374.5 104.9" stroke="#cf7878" stroke-width="2.7"/><path d="M360.1 108.1Q367.4 107.1 374.5 104.9" stroke="#f2a2a2" stroke-width="1.7"/></g>
<g fill="none" stroke-opacity="0.82"><path d="M52.7 89.6Q54.3 92.1 53.6 95.1Q49 97.8 43.7 97.6Q39.6 98 45.7 99.4Q44.6 96.4 48.7 94.8Q48.3 101.3 49.2 101.6Q53.5 101.6 57.8 102.1M57.7 95.7Q63.6 97 65.1 102.8Q66.3 108.6 66 105.4Q65.9 97.7 61.1 91.6Q53.5 92.8 46.7 89.3M67.1 99.8Q70.3 94.6 71.4 88.7Q66.6 82.6 59.2 80Q60.9 72.2 57.1 77.8Q57.4 81.7 60.6 84.1" stroke="#6b78bc" stroke-width="0.9" stroke-linecap="round"/><path d="M70 91Q73 88.9 69.2 91.2Q69.7 94.5 72.9 95.5Q73.6 102.3 70.3 102.5" stroke="#93a0de" stroke-width="0.9" stroke-linecap="round"/><path d="M44.9 95.5Q50 88.9 49 80.6" stroke="#6b78bc" stroke-width="2.7"/><path d="M44.9 95.5Q50 88.9 49 80.6" stroke="#93a0de" stroke-width="1.7"/><path d="M42.1 99.7Q49.5 97.2 56.2 93.2" stroke="#6b78bc" stroke-width="3.1"/><path d="M42.1 99.7Q49.5 97.2 56.2 93.2" stroke="#93a0de" stroke-width="2.1"/><path d="M69.2 103.3Q67.9 94.2 72.6 86.3" stroke="#6b78bc" stroke-width="3.3"/><path d="M69.2 103.3Q67.9 94.2 72.6 86.3" stroke="#93a0de" stroke-width="2.3"/><path d="M61.3 98.2Q66.7 96.2 70.4 91.8" stroke="#6b78bc" stroke-width="3.2"/><path d="M61.3 98.2Q66.7 96.2 70.4 91.8" stroke="#93a0de" stroke-width="2.2"/></g>
<g fill="none" stroke-opacity="0.82"><path d="M328.7 124.4Q327.8 128 329.2 125.7Q334.4 130 338.7 125.4Q334 127.6 331.8 125.5M326.9 112.6Q321.2 107.3 322.1 112.6Q324.2 107.6 330.5 109.2Q327.5 107.3 324.1 108.4Q317.6 111 317.2 118Q319.3 124.2 327.5 125.1M336.5 113.2Q333.5 112.5 331.6 110.1Q324.2 107.8 323.9 112.4Q325.9 106.4 328.4 107.4Q324.9 111.5 324.1 116.8Q322.4 120.5 322.9 124.6Q327.1 125.1 330.6 122.8" stroke="#6b78bc" stroke-width="0.9" stroke-linecap="round"/><path d="M320.6 125.2Q320.2 118.9 321.5 112.7" stroke="#6b78bc" stroke-width="3.5"/><path d="M320.6 125.2Q320.2 118.9 321.5 112.7" stroke="#93a0de" stroke-width="2.5"/><path d="M339.9 131.8Q346.4 128.4 348.7 121.4" stroke="#6b78bc" stroke-width="3.5"/><path d="M339.9 131.8Q346.4 128.4 348.7 121.4" stroke="#93a0de" stroke-width="2.5"/></g>
<g fill="none" stroke-opacity="0.82"><path d="M377.3 96.2Q381 92.2 379.1 97.9Q372.7 98.7 366.4 100.5Q364.8 95.9 360.7 93.2Q355.4 94 357.9 100.7Q361.7 102 365.6 103.2M368.7 100.7Q362.1 96.9 355.7 100.9Q350.5 98.3 355 98.9Q361.9 98.1 368 101.4Q375.3 99.1 376.4 99.6M375.9 111.5Q375.4 107.2 373.4 103.4Q372 96 364.8 93.9Q362.7 87.5 366.2 91.1Q366.4 97.6 369 103.7Q371.5 108.9 377.1 110.3Q380.4 110.8 383.2 108.8" stroke="#93a0de" stroke-width="0.9" stroke-linecap="round"/></g>
<g fill="none" stroke-opacity="0.92"><path d="M313.2 88.8 A38 38 0 0 1 298.3 110.1" stroke="#70c872" stroke-width="3.1"/><path d="M313.2 88.8 A38 38 0 0 1 298.3 110.1" stroke="#a8f0a6" stroke-width="2.1"/></g>
<g fill="none" stroke-opacity="0.82"><path d="M323.9 111.4Q327.9 113 332 111.4Q334.1 104.8 334.5 109.1Q331 110.8 329.7 114.4Q331 119.1 328 123Q324.3 127 321.8 125.1Q321.8 120.2 321.1 115.4" stroke="#cf7878" stroke-width="0.9" stroke-linecap="round"/><path d="M320.6 113.4Q327.4 113.2 334.1 114.3Q336.9 116.6 337.2 120.2Q338.1 126.7 335.5 126Q337 119.9 336.9 113.6Q340.8 110.7 337.3 114.4Q332.6 118.1 329.6 123.2" stroke="#f2a2a2" stroke-width="0.9" stroke-linecap="round"/><path d="M333 122.4Q334.9 115.4 340.2 110.4" stroke="#cf7878" stroke-width="2.5"/><path d="M333 122.4Q334.9 115.4 340.2 110.4" stroke="#f2a2a2" stroke-width="1.5"/><path d="M332.1 125.5Q336 121.4 339.3 116.8" stroke="#cf7878" stroke-width="3.1"/><path d="M332.1 125.5Q336 121.4 339.3 116.8" stroke="#f2a2a2" stroke-width="2.1"/></g>
<g fill="none" stroke-opacity="0.82"><path d="M199.3 84.7Q202.7 89.9 207 94.2Q210.7 100.3 211.5 96.8Q210 92.5 206.4 89.7Q204 92.4 203.4 95.8" stroke="#6b78bc" stroke-width="0.9" stroke-linecap="round"/><path d="M204.6 84.8Q200.5 80.7 201.9 81Q194.8 80 196.1 80Q202.8 83.6 206.8 90.2Q205.7 96.2 203.6 97.3" stroke="#93a0de" stroke-width="0.9" stroke-linecap="round"/><path d="M194.2 86.1Q195.5 81.7 200.1 81.5" stroke="#6b78bc" stroke-width="3.1"/><path d="M194.2 86.1Q195.5 81.7 200.1 81.5" stroke="#93a0de" stroke-width="2.1"/></g>
<g fill="none" stroke-opacity="0.82"><path d="M94.4 103Q92.1 101.1 92.2 98Q89 94.7 92.1 93.6Q88.8 96 89.2 100Q84.1 105.1 86.2 103.2Q85.5 96.4 90.3 93" stroke="#70c872" stroke-width="0.9" stroke-linecap="round"/><path d="M99.4 101.1Q94.4 97.6 88.6 95.4Q91.1 88.1 97.4 88.4Q100.5 93.1 106 94.7Q107.7 98.7 108.3 102.9Q104 109.1 97.9 104.9M111.3 98.5Q114.4 100.6 109.5 101.7Q108.1 98.4 105.7 95.7Q100.5 90.2 96.2 91.3Q103.3 87.9 106.2 94" stroke="#a8f0a6" stroke-width="0.9" stroke-linecap="round"/><path d="M96.7 101.6Q103.1 97.2 105.2 89.7" stroke="#70c872" stroke-width="3.3"/><path d="M96.7 101.6Q103.1 97.2 105.2 89.7" stroke="#a8f0a6" stroke-width="2.3"/></g>
<g fill="none" stroke-opacity="0.82"><path d="M310.4 93.8Q304.9 92.1 312 94.3Q316.1 94.9 319.7 97.2Q318.5 103.5 315.1 108.9Q311.2 107 307.8 104.5Q308.5 98.3 313.8 98M308.6 99.4Q304.1 102 311.4 102.4Q315.5 104.4 320 103.1Q325.7 104.4 329.5 99.9Q327.5 95.1 322.5 94.1Q317.7 92.7 312.8 93.7Q307.3 90 312.8 96.5" stroke="#6b78bc" stroke-width="0.9" stroke-linecap="round"/><path d="M312.7 104.3Q312.6 101 314.5 98.3Q316.9 95.1 319.3 92Q317.5 86.5 324.7 90Q320.9 88.2 317.5 85.7Q314.3 84.3 318.5 91M324.3 99.6Q319.5 101.1 314.9 98.9Q315 94.8 316.6 91Q315.5 86.3 322.7 90.1Q322.3 97.6 322.1 105.2M315.1 97.1Q313.5 92.4 317.6 94.6Q319 98.6 318.3 102.8Q314.9 103.3 311.8 101.8Q307.6 95.5 313.4 94.8" stroke="#93a0de" stroke-width="0.9" stroke-linecap="round"/><path d="M348.1 101Q352.1 98.5 354.5 94.5" stroke="#6b78bc" stroke-width="3.1"/><path d="M348.1 101Q352.1 98.5 354.5 94.5" stroke="#93a0de" stroke-width="2.1"/><path d="M332.7 119.3Q334.2 111.1 341 106.3" stroke="#6b78bc" stroke-width="2.7"/><path d="M332.7 119.3Q334.2 111.1 341 106.3" stroke="#93a0de" stroke-width="1.7"/><path d="M337.2 107.1Q341.3 104.8 345.8 103.8" stroke="#6b78bc" stroke-width="2.7"/><path d="M337.2 107.1Q341.3 104.8 345.8 103.8" stroke="#93a0de" stroke-width="1.7"/><path d="M307.9 118.1Q313.5 113.9 315.4 107.2" stroke="#6b78bc" stroke-width="2.6"/><path d="M307.9 118.1Q313.5 113.9 315.4 107.2" stroke="#93a0de" stroke-width="1.6"/></g>
<g fill="none" stroke-opacity="0.82"><path d="M332.4 108.7Q338.1 108.4 343.8 107.7Q347 104.3 345.6 108.1Q343.9 115.7 341.2 123.1M330.5 112.6Q326.1 114.9 321.2 115.1Q318.9 111.9 327.1 112Q325.2 117.9 319.5 120.2Q318 125.3 323.8 124.7M351.5 124.2Q356.2 129.3 348.3 128.9Q340.7 128 337.1 127.8Q340 126.1 343.3 126.3Q347 125.8 349.8 128.1" stroke="#70c872" stroke-width="0.9" stroke-linecap="round"/><path d="M328.8 120.5Q333.5 114.1 335.5 106.3" stroke="#70c872" stroke-width="3.3"/><path d="M328.8 120.5Q333.5 114.1 335.5 106.3" stroke="#a8f0a6" stroke-width="2.3"/><path d="M349.2 119.7Q354.9 114.2 360.8 109" stroke="#70c872" stroke-width="3.5"/><path d="M349.2 119.7Q354.9 114.2 360.8 109" stroke="#a8f0a6" stroke-width="2.5"/></g>
<g fill="none" stroke-opacity="0.82"><path d="M118.6 164.8Q116.3 168.1 114 161.8Q113.8 157.1 114.2 152.3Q120.3 152.9 125.7 155.7Q128.1 153.6 130 151.2M98.3 157.1Q97 151.3 96.7 145.4Q94.8 142.8 101.6 144.7Q104.9 149.7 108.1 154.9Q112.1 154.1 115.3 151.6M125.4 136.4Q118.3 138.1 113.9 144Q109.3 142.7 104.6 143.2Q98.9 141.8 102.4 146M99.9 149.4Q95.4 149.4 101.6 151.4Q106.4 156.4 104.4 163Q98.2 164.4 101.7 157.2Q105.3 156.5 108.2 158.7" stroke="#6b78bc" stroke-width="0.9" stroke-linecap="round"/><path d="M107.4 160Q111.9 165.4 114 163.4Q113.2 158.6 110.1 155Q105.6 150.1 106.9 143.7Q114 141.9 120.8 139Q124.4 136.2 128.5 138.4Q131.8 136.5 126.6 139.9" stroke="#93a0de" stroke-width="0.9" stroke-linecap="round"/><path d="M115.2 158.1Q120.7 158.4 124.9 154.7" stroke="#6b78bc" stroke-width="2.5"/><path d="M115.2 158.1Q120.7 158.4 124.9 154.7" stroke="#93a0de" stroke-width="1.5"/><path d="M105.8 170.1Q107.9 162.1 115 157.7" stroke="#6b78bc" stroke-width="3.2"/><path d="M105.8 170.1Q107.9 162.1 115 157.7" stroke="#93a0de" stroke-width="2.2"/><path d="M100.9 166.3Q107.7 166 114.1 164.3" stroke="#6b78bc" stroke-width="3.4"/><path d="M100.9 166.3Q107.7 166 114.1 164.3" stroke="#93a0de" stroke-width="2.4"/><path d="M107.8 162.2Q113.3 159.8 118.9 157.5" stroke="#6b78bc" stroke-width="3.1"/><path d="M107.8 162.2Q113.3 159.8 118.9 157.5" stroke="#93a0de" stroke-width="2.1"/></g>
<g fill="none" stroke-linecap="round" stroke-opacity="0.95"><path d="M7.2 103.6L14.8 106.4" stroke="#cf7878" stroke-width="5.8"/><path d="M7.2 103.6L14.8 106.4" stroke="#f2a2a2" stroke-width="4.4"/></g>
<g fill="none" stroke-linecap="round" stroke-opacity="0.95"><path d="M19.7 117.8L24.3 116.2" stroke="#cf7878" stroke-width="5.1"/><path d="M19.7 117.8L24.3 116.2" stroke="#f2a2a2" stroke-width="3.7"/></g>
<g fill="none" stroke-linecap="round" stroke-opacity="0.95"><path d="M46.8 76.2L51.2 83.8" stroke="#70c872" stroke-width="5.8"/><path d="M46.8 76.2L51.2 83.8" stroke="#a8f0a6" stroke-width="4.4"/></g>
<g fill="none" stroke-linecap="round" stroke-opacity="0.95"><path d="M42.8 83.6L45.2 90.4" stroke="#6b78bc" stroke-width="5.1"/><path d="M42.8 83.6L45.2 90.4" stroke="#93a0de" stroke-width="3.7"/></g>
<g fill="none" stroke-linecap="round" stroke-opacity="0.95"><path d="M57 101.8L57 108.2" stroke="#70c872" stroke-width="5.1"/><path d="M57 101.8L57 108.2" stroke="#a8f0a6" stroke-width="3.7"/></g>
<g fill="none" stroke-linecap="round" stroke-opacity="0.95"><path d="M129.7 97.1L138.3 94.9" stroke="#70c872" stroke-width="5.8"/><path d="M129.7 97.1L138.3 94.9" stroke="#a8f0a6" stroke-width="4.4"/></g>
<g fill="none" stroke-linecap="round" stroke-opacity="0.95"><path d="M123.4 82.8L124.6 89.2" stroke="#6b78bc" stroke-width="5.1"/><path d="M123.4 82.8L124.6 89.2" stroke="#93a0de" stroke-width="3.7"/></g>
<g fill="none" stroke-linecap="round" stroke-opacity="0.95"><path d="M106.5 137.4L113.5 138.6" stroke="#cf7878" stroke-width="5.8"/><path d="M106.5 137.4L113.5 138.6" stroke="#f2a2a2" stroke-width="4.4"/></g>
<g fill="none" stroke-linecap="round" stroke-opacity="0.95"><path d="M115.1 143.7L122.9 142.3" stroke="#6b78bc" stroke-width="5.1"/><path d="M115.1 143.7L122.9 142.3" stroke="#93a0de" stroke-width="3.7"/></g>
<g fill="none" stroke-linecap="round" stroke-opacity="0.95"><path d="M96.4 158.7L103.6 159.3" stroke="#70c872" stroke-width="5.1"/><path d="M96.4 158.7L103.6 159.3" stroke="#a8f0a6" stroke-width="3.7"/></g>
<g fill="none" stroke-linecap="round" stroke-opacity="0.95"><path d="M138.7 154.4L139.3 161.6" stroke="#70c872" stroke-width="5.8"/><path d="M138.7 154.4L139.3 161.6" stroke="#a8f0a6" stroke-width="4.4"/></g>
<g fill="none" stroke-linecap="round" stroke-opacity="0.95"><path d="M125.6 160.6L128.4 165.4" stroke="#cf7878" stroke-width="5.1"/><path d="M125.6 160.6L128.4 165.4" stroke="#f2a2a2" stroke-width="3.7"/></g>
<g fill="none" stroke-linecap="round" stroke-opacity="0.95"><path d="M95 146.9L101 149.1" stroke="#6b78bc" stroke-width="5.1"/><path d="M95 146.9L101 149.1" stroke="#93a0de" stroke-width="3.7"/></g>
<g fill="none" stroke-linecap="round" stroke-opacity="0.95"><path d="M141 58.8L150 55.6" stroke="#cf7878" stroke-width="6.2"/><path d="M141 58.8L150 55.6" stroke="#f2a2a2" stroke-width="4.8"/></g>
<g fill="none" stroke-linecap="round" stroke-opacity="0.95"><path d="M182.6 45.6L185.4 50.4" stroke="#cf7878" stroke-width="5.1"/><path d="M182.6 45.6L185.4 50.4" stroke="#f2a2a2" stroke-width="3.7"/></g>
<g fill="none" stroke-linecap="round" stroke-opacity="0.95"><path d="M156.1 119.7L163.9 118.3" stroke="#6b78bc" stroke-width="6"/><path d="M156.1 119.7L163.9 118.3" stroke="#93a0de" stroke-width="4.6"/></g>
<g fill="none" stroke-linecap="round" stroke-opacity="0.95"><path d="M132.3 96.8L141.7 95.2" stroke="#70c872" stroke-width="6"/><path d="M132.3 96.8L141.7 95.2" stroke="#a8f0a6" stroke-width="4.6"/></g>
<g fill="none" stroke-linecap="round" stroke-opacity="0.95"><path d="M167.8 113.4L174.2 114.6" stroke="#70c872" stroke-width="5.8"/><path d="M167.8 113.4L174.2 114.6" stroke="#a8f0a6" stroke-width="4.4"/></g>
<g fill="none" stroke-linecap="round" stroke-opacity="0.95"><path d="M185.8 80.6L188.2 87.4" stroke="#70c872" stroke-width="5.1"/><path d="M185.8 80.6L188.2 87.4" stroke="#a8f0a6" stroke-width="3.7"/></g>
<g fill="none" stroke-linecap="round" stroke-opacity="0.95"><path d="M281.4 108.5L282.6 115.5" stroke="#cf7878" stroke-width="5.1"/><path d="M281.4 108.5L282.6 115.5" stroke="#f2a2a2" stroke-width="3.7"/></g>
<g fill="none" stroke-linecap="round" stroke-opacity="0.95"><path d="M303.8 128.6L306.2 135.4" stroke="#cf7878" stroke-width="5.1"/><path d="M303.8 128.6L306.2 135.4" stroke="#f2a2a2" stroke-width="3.7"/></g>
<g fill="none" stroke-linecap="round" stroke-opacity="0.95"><path d="M291.4 118.2L294.6 123.8" stroke="#cf7878" stroke-width="5.1"/><path d="M291.4 118.2L294.6 123.8" stroke="#f2a2a2" stroke-width="3.7"/></g>
<g fill="none" stroke-linecap="round" stroke-opacity="0.95"><path d="M325 125.5L329 132.5" stroke="#6b78bc" stroke-width="6"/><path d="M325 125.5L329 132.5" stroke="#93a0de" stroke-width="4.6"/></g>
<g fill="none" stroke-linecap="round" stroke-opacity="0.95"><path d="M331.4 130.2L334.6 135.8" stroke="#70c872" stroke-width="5.1"/><path d="M331.4 130.2L334.6 135.8" stroke="#a8f0a6" stroke-width="3.7"/></g>
<g fill="none" stroke-linecap="round" stroke-opacity="0.95"><path d="M342.5 139L349.5 135" stroke="#6b78bc" stroke-width="5.8"/><path d="M342.5 139L349.5 135" stroke="#93a0de" stroke-width="4.4"/></g>
<g fill="none" stroke-linecap="round" stroke-opacity="0.95"><path d="M337.1 159.3L344.9 160.7" stroke="#6b78bc" stroke-width="5.8"/><path d="M337.1 159.3L344.9 160.7" stroke="#93a0de" stroke-width="4.4"/></g>
<g fill="none" stroke-linecap="round" stroke-opacity="0.95"><path d="M344.1 166.3L351.9 167.7" stroke="#70c872" stroke-width="5.8"/><path d="M344.1 166.3L351.9 167.7" stroke="#a8f0a6" stroke-width="4.4"/></g>
<g fill="none" stroke-linecap="round" stroke-opacity="0.95"><path d="M380.5 147.8L381.5 158.2" stroke="#6b78bc" stroke-width="5.8"/><path d="M380.5 147.8L381.5 158.2" stroke="#93a0de" stroke-width="4.4"/></g>
<g fill="none" stroke-linecap="round" stroke-opacity="0.95"><path d="M385.6 146.2L386.4 155.8" stroke="#70c872" stroke-width="5.8"/><path d="M385.6 146.2L386.4 155.8" stroke="#a8f0a6" stroke-width="4.4"/></g>
<g fill="none" stroke-linecap="round" stroke-opacity="0.95"><path d="M378.6 163.6L379.4 168.4" stroke="#cf7878" stroke-width="5.8"/><path d="M378.6 163.6L379.4 168.4" stroke="#f2a2a2" stroke-width="4.4"/></g>
<g fill="none" stroke-linecap="round" stroke-opacity="0.95"><path d="M361.6 168.6L362.4 173.4" stroke="#cf7878" stroke-width="5.8"/><path d="M361.6 168.6L362.4 173.4" stroke="#f2a2a2" stroke-width="4.4"/></g>
<g fill="none" stroke-linecap="round" stroke-opacity="0.95"><path d="M412.4 73.5L413.6 80.5" stroke="#6b78bc" stroke-width="5.1"/><path d="M412.4 73.5L413.6 80.5" stroke="#93a0de" stroke-width="3.7"/></g>
<g fill="none" stroke-linecap="round" stroke-opacity="0.95"><path d="M403.9 81L406.1 87" stroke="#70c872" stroke-width="5.1"/><path d="M403.9 81L406.1 87" stroke="#a8f0a6" stroke-width="3.7"/></g>
<g fill="none" stroke-linecap="round" stroke-opacity="0.95"><path d="M429.2 101.6L434.8 98.4" stroke="#cf7878" stroke-width="5.1"/><path d="M429.2 101.6L434.8 98.4" stroke="#f2a2a2" stroke-width="3.7"/></g>
<g fill="none" stroke-linecap="round" stroke-opacity="0.95"><path d="M425.2 97.6L430.8 94.4" stroke="#6b78bc" stroke-width="5.1"/><path d="M425.2 97.6L430.8 94.4" stroke="#93a0de" stroke-width="3.7"/></g></g>
<g id="arrows"><path d="M22.3 69.4 Q29.9 61.5 38.5 60.2" fill="none" stroke="#2a2a2a" stroke-width="1.5" stroke-linecap="round"/>
<path d="M44.7 59.1 L36.2 57 L37.9 63.4 Z" fill="#2a2a2a"/>
<path d="M214.4 61.8 Q220.5 71.1 217.3 80" fill="none" stroke="#2a2a2a" stroke-width="1.5" stroke-linecap="round"/>
<path d="M214.3 85.8 L213.9 78.7 L220.7 80.6 Z" fill="#2a2a2a"/>
<path d="M239.1 64.5 Q246.5 46.4 259 42.6" fill="none" stroke="#2a2a2a" stroke-width="1.5" stroke-linecap="round"/>
<path d="M265.7 41.1 L257.2 39.6 L259.2 45.7 Z" fill="#2a2a2a"/></g>
<g id="underb" filter="url(#bl)"><ellipse cx="485" cy="55" rx="25.5" ry="11" fill="#b2dae4" fill-opacity="0.2" transform="rotate(-12 485 55)"/>
<ellipse cx="525" cy="50" rx="22.1" ry="10.2" fill="#b2dae4" fill-opacity="0.2" transform="rotate(0 525 50)"/>
<ellipse cx="480" cy="75" rx="15.3" ry="11.9" fill="#b6e0d0" fill-opacity="0.15" transform="rotate(0 480 75)"/>
<ellipse cx="528" cy="66" rx="15.3" ry="13.6" fill="#b6e0d0" fill-opacity="0.15" transform="rotate(0 528 66)"/>
<ellipse cx="487" cy="100" rx="17" ry="13.6" fill="#d4b0de" fill-opacity="0.2" transform="rotate(0 487 100)"/>
<ellipse cx="520" cy="100" rx="22.1" ry="10.2" fill="#d6ccee" fill-opacity="0.15" transform="rotate(0 520 100)"/>
<ellipse cx="545" cy="85" rx="11.9" ry="10.2" fill="#d6ccee" fill-opacity="0.1" transform="rotate(0 545 85)"/>
<ellipse cx="568" cy="55" rx="13.6" ry="10.2" fill="#b6e0d0" fill-opacity="0.15" transform="rotate(0 568 55)"/>
<ellipse cx="620" cy="45" rx="18.7" ry="7.6" fill="#b6e0d0" fill-opacity="0.15" transform="rotate(0 620 45)"/>
<ellipse cx="585" cy="60" rx="15.3" ry="13.6" fill="#d6ccee" fill-opacity="0.15" transform="rotate(0 585 60)"/>
<ellipse cx="628" cy="66" rx="15.3" ry="15.3" fill="#d4b0de" fill-opacity="0.2" transform="rotate(0 628 66)"/>
<ellipse cx="648" cy="68" rx="6" ry="13.6" fill="#d2d2f0" fill-opacity="0.15" transform="rotate(0 648 68)"/>
<ellipse cx="612" cy="86" rx="23.8" ry="6.8" fill="#d6ccee" fill-opacity="0.12" transform="rotate(0 612 86)"/>
<ellipse cx="563" cy="100" rx="17" ry="18.7" fill="#d4b0de" fill-opacity="0.2" transform="rotate(0 563 100)"/>
<ellipse cx="562" cy="102" rx="18.7" ry="18.7" fill="#d6ccee" fill-opacity="0.15" transform="rotate(0 562 102)"/>
<ellipse cx="556" cy="143" rx="23.8" ry="17" fill="#d2d2f0" fill-opacity="0.2" transform="rotate(0 556 143)"/>
<ellipse cx="560" cy="140" rx="20.4" ry="15.3" fill="#d4b0de" fill-opacity="0.2" transform="rotate(0 560 140)"/>
<ellipse cx="535" cy="150" rx="10.2" ry="10.2" fill="#d2d2f0" fill-opacity="0.15" transform="rotate(0 535 150)"/></g>
<g id="panelb-bg"><g fill="none" stroke-opacity="0.8"><path d="M573.8 94.1Q577.3 93.9 578.9 96.9Q576.7 101.9 574.8 107Q568.3 106.5 562.1 108.6M547 110.5Q545.1 115.2 549.7 110.5Q546.8 105.5 544.5 100.2Q546.5 92.7 551.7 87M560 84Q565.7 84.6 570 80.7Q571 73.6 569.2 80.1Q564.8 84.4 566.5 90.3" stroke="#bc96ca" stroke-width="0.9" stroke-linecap="round"/><path d="M576.2 101.5Q573.7 96.1 567.8 94.6Q568.9 89.1 566.8 83.9Q571.4 82 568.4 86.3M553.2 117.9Q558.3 119.3 563.5 119.4Q569.7 120 574.3 116Q579.8 119.2 573.5 115.3Q568.6 112.9 565.7 108.3" stroke="#d4b0de" stroke-width="0.9" stroke-linecap="round"/><path d="M542.7 110.6Q546.5 103.7 544.5 96.2" stroke="#bc96ca" stroke-width="3.4"/><path d="M542.7 110.6Q546.5 103.7 544.5 96.2" stroke="#d4b0de" stroke-width="2.4"/><path d="M568.6 96.3Q569.6 91.7 569.2 87" stroke="#bc96ca" stroke-width="2.8"/><path d="M568.6 96.3Q569.6 91.7 569.2 87" stroke="#d4b0de" stroke-width="1.8"/><path d="M563 96.8Q567.2 89.4 568.6 81" stroke="#bc96ca" stroke-width="2.8"/><path d="M563 96.8Q567.2 89.4 568.6 81" stroke="#d4b0de" stroke-width="1.8"/></g>
<g fill="none" stroke-opacity="0.85"><path d="M560.2 48.3Q552.5 47.5 556.6 46.3Q551.7 52.3 555.2 59.1Q558 64.4 562.2 64.2Q564 58.4 569.9 57.1M559.5 64.2Q564.7 65.1 569.3 62.6Q571.9 65.6 571 63.6Q571.4 57.6 572.8 51.8Q574.2 49.1 574.3 46M556.6 47.9Q560.4 50.7 560.1 55.3Q565.8 58.5 565.8 65.1Q568.9 67.1 569.7 64.2Q573.8 59 580.3 60.1" stroke="#9accba" stroke-width="0.9" stroke-linecap="round"/><path d="M560.3 57.7Q565.7 53.9 571.8 56.3" stroke="#9accba" stroke-width="2.9"/><path d="M560.3 57.7Q565.7 53.9 571.8 56.3" stroke="#b6e0d0" stroke-width="1.9"/><path d="M568.8 48.4Q574.3 46.5 579.2 49.7" stroke="#9accba" stroke-width="3"/><path d="M568.8 48.4Q574.3 46.5 579.2 49.7" stroke="#b6e0d0" stroke-width="2"/></g>
<g fill="none" stroke-opacity="0.8"><path d="M562.9 97.6Q564.4 92.2 569.8 90.7Q573.2 91.7 575.6 94.3Q576.1 98.9 573.7 102.9Q570.1 106.4 566.2 109.7Q565.6 114.1 561.7 116.2M579.9 101.8Q580.5 105.9 575.4 105Q574.4 102.2 576.3 99.8Q583.4 101.8 578.2 97.9Q574.8 95.4 574.4 91.3Q570.4 88.6 565.6 88.1M545.5 97.8Q540.7 100.1 547.4 102.4Q554.2 104.5 561.3 105.3Q561.4 108.3 562.9 111M546.2 96.4Q551.5 96.3 556.7 95.5Q556.7 88.5 557.8 81.7Q557.3 78 559 84.6" stroke="#bc96ca" stroke-width="0.9" stroke-linecap="round"/><path d="M568.6 125.9Q570.7 117.3 571.7 108.6" stroke="#bc96ca" stroke-width="2.9"/><path d="M568.6 125.9Q570.7 117.3 571.7 108.6" stroke="#d4b0de" stroke-width="1.9"/><path d="M564.9 125.9Q566 118.8 569.4 112.4" stroke="#bc96ca" stroke-width="3"/><path d="M564.9 125.9Q566 118.8 569.4 112.4" stroke="#d4b0de" stroke-width="2"/><path d="M564.8 108.9Q567.6 102.5 569.7 95.8" stroke="#bc96ca" stroke-width="2.8"/><path d="M564.8 108.9Q567.6 102.5 569.7 95.8" stroke="#d4b0de" stroke-width="1.8"/></g>
<g fill="none" stroke-opacity="0.85"><path d="M579.4 61.8Q573 62.3 569.1 62.7Q574.6 60.1 579.7 63.5Q578.9 66.9 575.8 63.8M554.7 51.9Q556.9 58.7 560.5 64.9Q564.6 67.2 568.4 64.3Q572.6 65.2 573.1 62.2Q569 59.9 566.2 56.2M577.7 49.3Q582 43 580.9 48.6Q580.9 42.2 573.1 44.6Q569 49.2 570.3 55.2Q572.3 62.4 570.8 63.9" stroke="#9accba" stroke-width="0.9" stroke-linecap="round"/><path d="M564.4 46.3Q562.5 39.6 562.5 42.2Q568.2 44.1 571.8 48.8Q576.6 54.1 583.3 51.8Q587.9 50.2 580.5 49.2" stroke="#b6e0d0" stroke-width="0.9" stroke-linecap="round"/><path d="M580.1 58.2Q583.8 54.6 587.7 51.3" stroke="#9accba" stroke-width="3.2"/><path d="M580.1 58.2Q583.8 54.6 587.7 51.3" stroke="#b6e0d0" stroke-width="2.2"/><path d="M557.4 44.6Q562 49.2 568.5 49.3" stroke="#9accba" stroke-width="3"/><path d="M557.4 44.6Q562 49.2 568.5 49.3" stroke="#b6e0d0" stroke-width="2"/></g>
<g fill="none" stroke-opacity="0.85"><path d="M611.4 70.1Q607 72.7 612.4 69.6Q613.6 73.8 616.8 76.9Q617.9 80.6 620.9 76.8Q628.5 77.6 633.6 71.9Q637.6 70.4 640.5 67.1" stroke="#bc96ca" stroke-width="0.9" stroke-linecap="round"/><path d="M632.6 64.1Q631.7 71.4 637.8 75.4Q642.7 73.2 639.8 71.6Q635 66.8 634 60.2M628.2 69.8Q623.8 73.5 621.1 78.6Q623.8 80 626 78Q627.2 73.8 631.6 73.3Q634.7 74.4 636.9 76.9Q642.3 76.9 639.4 74.2M631 79.1Q624.7 76.2 619.7 71.5Q617.3 69.7 614.7 68Q608.8 68.9 612.9 68.3Q616.2 67.9 618 65.2Q623.1 61.3 628.6 64.5" stroke="#d4b0de" stroke-width="0.9" stroke-linecap="round"/><path d="M642 70.5Q644.6 65.3 641.8 60.3" stroke="#bc96ca" stroke-width="3.2"/><path d="M642 70.5Q644.6 65.3 641.8 60.3" stroke="#d4b0de" stroke-width="2.2"/><path d="M630.5 72.4Q631.6 64.2 636.5 57.5" stroke="#bc96ca" stroke-width="2.5"/><path d="M630.5 72.4Q631.6 64.2 636.5 57.5" stroke="#d4b0de" stroke-width="1.5"/><path d="M611.6 73.1Q614.6 66.1 611.4 59.2" stroke="#bc96ca" stroke-width="3.4"/><path d="M611.6 73.1Q614.6 66.1 611.4 59.2" stroke="#d4b0de" stroke-width="2.4"/></g>
<g fill="none" stroke-opacity="0.95"><path d="M524.8 150.7Q529.6 152.8 531.1 157.9Q535 163.4 537.4 161.4Q530.5 160.5 529.9 159.7Q526.2 156.8 527.4 152.4Q530.3 157.8 535.9 160.1Q542.3 156.6 543.6 155.2M537.1 142.7Q531.9 143.3 528.8 139.1Q526.3 133.1 527.3 136.9Q531 138.7 532.4 142.6Q528.9 143.9 526.4 146.5Q527.5 149.7 530 152.1" stroke="#babae2" stroke-width="0.9" stroke-linecap="round"/><path d="M533.5 143.3Q529.4 148.6 527.4 154.9Q519.8 152.8 522 149.1Q525.1 148.2 528.3 147.6Q535.5 146.1 539.5 152.2" stroke="#d2d2f0" stroke-width="0.9" stroke-linecap="round"/></g>
<g fill="none" stroke-opacity="0.9"><path d="M591.5 57Q598.3 55.8 596.4 55.2Q588.7 54.2 581.6 57.3Q576.1 58.4 570.6 59.6" stroke="#c0b6e0" stroke-width="0.9" stroke-linecap="round"/><path d="M589.9 44.9Q592.5 50.8 598.9 51Q602.5 57.4 599.6 60Q596.2 54.5 590.9 50.7M573.4 52.7Q566.9 55.3 572.1 60.8Q568.5 58.5 573 60.6Q576.4 63.6 580.5 61.7Q583.7 57.8 583.3 52.7Q579.8 51.1 576.5 53M595.7 66.9Q597.3 59.3 597.7 51.7Q602.3 47.9 598.6 51.1Q598.3 56.4 593.9 59.3Q589.8 59.3 585.7 59.9Q581 59.9 576.4 59Q573.9 57.2 570.8 57.4" stroke="#d6ccee" stroke-width="0.9" stroke-linecap="round"/><path d="M597.9 72.5Q596.1 66.7 600.9 63" stroke="#c0b6e0" stroke-width="3"/><path d="M597.9 72.5Q596.1 66.7 600.9 63" stroke="#d6ccee" stroke-width="2"/><path d="M565.7 56.6Q572.2 54.2 574.3 47.6" stroke="#c0b6e0" stroke-width="2.9"/><path d="M565.7 56.6Q572.2 54.2 574.3 47.6" stroke="#d6ccee" stroke-width="1.9"/></g>
<g fill="none" stroke-opacity="0.95"><path d="M533.5 140Q530.7 146.7 525.8 152Q523 157.2 529.3 157.5Q524.1 156.1 525.9 155.7Q533.9 155.4 536.3 157.6M527.5 145.5Q524.4 138.9 524.2 143.5Q524.3 138.8 528.2 140.5Q532.9 139.8 535.2 141.4Q531.1 140.8 527.3 142M534.5 139.5Q529.6 140.6 529.8 142.1Q531.5 147.3 528.9 152.2Q529.2 159.2 532.3 159.6Q537.7 156.1 543.4 153Q547.3 154.9 542.2 155.5" stroke="#babae2" stroke-width="0.9" stroke-linecap="round"/><path d="M528.2 160.7Q532.4 162.9 537 161.6" stroke="#babae2" stroke-width="3.2"/><path d="M528.2 160.7Q532.4 162.9 537 161.6" stroke="#d2d2f0" stroke-width="2.2"/></g>
<g fill="none" stroke-opacity="0.9"><path d="M562.7 105.9Q566.4 103.6 567.4 99.3Q564.2 95.2 560.4 91.7Q558.2 87.9 557.2 83.7Q555.1 77 559.6 83.2M566.3 100.9Q564.2 105.6 565.4 110.6Q572 112.2 578.6 113.6Q581.2 111.6 575.4 107.1" stroke="#c0b6e0" stroke-width="0.9" stroke-linecap="round"/><path d="M546.9 99.3Q550.2 105 551.9 111.4Q548.7 115.5 551.1 111.1Q557.3 111.1 563.4 111.8Q568 115.3 573.5 113.4Q579.8 114.9 576.6 109.9M571.6 88.7Q574.9 86.1 579.2 86.2Q580.3 82.8 573.7 88.4Q577.3 92.9 582.7 95.1Q581.6 100.1 577.2 103Q573.7 99.1 573.3 93.8Q572.7 88.9 568.4 86.2" stroke="#d6ccee" stroke-width="0.9" stroke-linecap="round"/><path d="M568.7 97Q573.5 92.2 579 88.3" stroke="#c0b6e0" stroke-width="2.9"/><path d="M568.7 97Q573.5 92.2 579 88.3" stroke="#d6ccee" stroke-width="1.9"/></g>
<g fill="none" stroke-opacity="0.95"><path d="M560.4 142.1Q556 135.6 557.5 127.8Q563.1 124.7 563.8 130.5Q562.5 133.8 560.1 136.3Q560.4 142.4 559.9 148.4Q557.8 153.1 558.8 158.2M551.5 150.8Q544.1 152.7 536.8 154.8Q530.5 155.9 538.6 154Q540.7 148.8 544.7 145Q545.7 140.7 548.4 137.2M549.6 154.3Q546.8 160 552.3 156.6Q548.4 151.9 543.6 148.2Q541.7 143.9 541.4 139.2M553.6 126.2Q552.7 129.5 550.2 131.8Q543.3 133.6 536.6 131Q529.2 128.2 535.4 132.8" stroke="#babae2" stroke-width="0.9" stroke-linecap="round"/><path d="M546.7 152.6Q542.3 147.3 545.3 141.2Q549.8 136.8 555.1 133.4Q559.1 130.5 558.6 125.7Q559.6 118 559 123.5M550.4 126.7Q548.7 123.3 552.8 129.2Q554.1 132.4 555.5 135.7Q560 137.7 564.7 139.3Q568.6 135.7 567 130.7Q566.5 125.7 561.1 129.9M567.8 138.6Q569.6 142 571.4 145.5Q573.6 148.6 577.2 150.1Q580.3 148 579.8 144.2Q581.9 138.2 580.3 132.1Q585 130.1 576.1 133.8Q572.1 129 567.7 124.6" stroke="#d2d2f0" stroke-width="0.9" stroke-linecap="round"/><path d="M555.7 158.1Q563 153.1 571.7 151" stroke="#babae2" stroke-width="3.4"/><path d="M555.7 158.1Q563 153.1 571.7 151" stroke="#d2d2f0" stroke-width="2.4"/><path d="M534.1 139Q540.3 134.3 546.1 129" stroke="#babae2" stroke-width="2.8"/><path d="M534.1 139Q540.3 134.3 546.1 129" stroke="#d2d2f0" stroke-width="1.8"/><path d="M523.2 149.9Q528.4 144.5 536 144.6" stroke="#babae2" stroke-width="3"/><path d="M523.2 149.9Q528.4 144.5 536 144.6" stroke="#d2d2f0" stroke-width="2"/></g>
<g fill="none" stroke-opacity="0.8"><path d="M481.7 62.8Q487.3 68.4 487.6 76.3Q486.6 79.8 483.4 81.5Q480.5 88.4 481.3 87.4Q481.4 80.3 476.5 75" stroke="#9accba" stroke-width="0.9" stroke-linecap="round"/><path d="M487.8 63.7Q487 70.4 485.6 77Q484.9 80 486.4 82.7Q492.8 83.2 490.5 82.5Q487.8 80.8 484.8 79.8Q477.5 77.2 476.5 69.6Q473.2 65.8 474.3 66.9M468.5 66.4Q471.4 68.1 474.9 67.7Q476.1 64.3 476.5 60.7Q469.3 58.3 469.1 64.3Q475.2 65.4 479.4 70Q478.1 74.8 478.7 79.6Q479.9 82.5 481.7 84.9" stroke="#b6e0d0" stroke-width="0.9" stroke-linecap="round"/><path d="M476.4 78.8Q480.3 72.2 483.8 65.4" stroke="#9accba" stroke-width="2.5"/><path d="M476.4 78.8Q480.3 72.2 483.8 65.4" stroke="#b6e0d0" stroke-width="1.5"/><path d="M478.1 93.1Q480.2 84.9 486.7 79.4" stroke="#9accba" stroke-width="2.8"/><path d="M478.1 93.1Q480.2 84.9 486.7 79.4" stroke="#b6e0d0" stroke-width="1.8"/></g>
<g fill="none" stroke-opacity="0.85"><path d="M470.7 94.9Q467.1 97.2 472.6 97.6Q479.8 95.2 485.8 99.7Q492.2 95.6 499.1 98.7Q503.7 97.2 508 99.6M487.3 93.9Q488.9 97.5 492.4 99.4Q494.4 103 498.6 102.5Q503.5 102.5 507.6 99.7" stroke="#bc96ca" stroke-width="0.9" stroke-linecap="round"/><path d="M485 111.3Q479.4 110.7 480.5 109.1Q481.7 105.1 478.6 102.2Q473 104.4 472.5 110.3Q475.1 114.8 481.1 111.7Q474.5 111.7 476.3 109.2M486.3 95Q485.4 101.1 486.6 107.2Q485 110.8 481.3 112Q479.5 117.6 484.4 113.5Q489.5 110 490 103.8Q493.2 100.9 493.3 96.5Q488.4 92.9 482.4 92M484.3 88.9Q487.5 87 491.2 86.2Q493.6 82.9 492.4 87.7Q491.7 91.9 495.1 94.5Q500.6 89.5 496.8 89.5Q500 91.7 503.4 93.8" stroke="#d4b0de" stroke-width="0.9" stroke-linecap="round"/><path d="M466.1 108.2Q467.9 100.9 472.5 95.1" stroke="#bc96ca" stroke-width="3.4"/><path d="M466.1 108.2Q467.9 100.9 472.5 95.1" stroke="#d4b0de" stroke-width="2.4"/><path d="M484 116.6Q487.5 109.6 492.2 103.3" stroke="#bc96ca" stroke-width="3.3"/><path d="M484 116.6Q487.5 109.6 492.2 103.3" stroke="#d4b0de" stroke-width="2.3"/><path d="M478.9 103.1Q481.7 95.4 486.1 88.5" stroke="#bc96ca" stroke-width="3.1"/><path d="M478.9 103.1Q481.7 95.4 486.1 88.5" stroke="#d4b0de" stroke-width="2.1"/></g>
<g fill="none" stroke-opacity="0.9"><path d="M611.7 87.4Q607.6 88 604.7 85Q607.5 80.4 608.2 79.6Q611.3 82.5 613.2 86.3Q611.5 92.9 611.4 94.3Q611.1 88.9 609.2 84M628.4 82.2Q633.5 76.2 629.5 81Q624.3 87.1 619.5 91.4Q622.4 89.3 624.1 86.2Q626.2 79.3 623.4 78.8Q625 86.1 620.4 92M587.3 84.3Q586.1 90.1 594.3 91.3Q598.2 92.1 602.1 91.2Q605.1 89.8 607.6 92Q607.6 96.9 607.9 95.1Q609.5 87.6 605 81.3Q599.8 76.5 603.4 76.2M602.2 83.6Q604.9 81.6 608.1 82.5Q614 85.8 617.1 91.8Q622.5 90.6 627.2 87.7Q624.6 82.1 619.6 80Q618.5 84.4 619.3 88.8Q619.8 93.9 615.6 93.6" stroke="#c0b6e0" stroke-width="0.9" stroke-linecap="round"/><path d="M630.8 86.3Q634.7 92.2 627.6 93.5Q625.4 86.4 625 79Q622.1 78 616.5 80.3M590.1 83.3Q586.9 85 584.7 88Q590 92.1 599 93.7Q599.3 87.1 595.2 82Q598.5 77.7 606.8 79.7Q602.4 79.4 603.8 80.9Q609.4 75.7 616.3 78.8" stroke="#d6ccee" stroke-width="0.9" stroke-linecap="round"/><path d="M585.7 84.9Q590.9 81.3 597.2 81" stroke="#c0b6e0" stroke-width="2.2"/><path d="M585.7 84.9Q590.9 81.3 597.2 81" stroke="#d6ccee" stroke-width="1.2"/></g>
<g fill="none" stroke-opacity="0.8"><path d="M553.4 87.6Q554.9 93.7 550.7 98.5Q545.2 93.5 546.4 86.2Q542.2 80.4 546.3 88.4Q549.6 89.1 552.1 86.9Q554.9 89.2 556.1 92.6Q556.9 95.5 555.6 98.2M551 99.2Q549.9 103.8 545.7 106Q542.7 107.2 548.9 104.5Q555.3 103.2 559.1 108.6M555.7 86.9Q548.5 90.2 543.8 96.6Q540.8 103.3 545.3 102.1Q550.5 107.4 548.7 114.6Q551.6 119.9 557.7 120.1Q564.1 124.5 567.5 117.4Q562.4 120.3 562.6 115.7" stroke="#bc96ca" stroke-width="0.9" stroke-linecap="round"/><path d="M576.9 85Q569.2 84.4 561.9 87.1Q557.5 83.5 552.1 85Q553.3 90.9 549.4 95.6Q553.8 100.4 560.2 101.6Q565.3 106.6 567 113.6Q570.3 115.5 570.1 119.2M560.3 115.1Q561.7 112.2 563.4 109.5Q565.7 102.2 562.6 95.2Q559.6 94.5 557.8 97" stroke="#d4b0de" stroke-width="0.9" stroke-linecap="round"/><path d="M553 112.5Q552.5 104.4 555.4 96.9" stroke="#bc96ca" stroke-width="3.6"/><path d="M553 112.5Q552.5 104.4 555.4 96.9" stroke="#d4b0de" stroke-width="2.6"/><path d="M546.4 120Q545.4 112.1 547.6 104.3" stroke="#bc96ca" stroke-width="3"/><path d="M546.4 120Q545.4 112.1 547.6 104.3" stroke="#d4b0de" stroke-width="2"/><path d="M542.2 102.2Q544.4 94.2 546 86" stroke="#bc96ca" stroke-width="3.2"/><path d="M542.2 102.2Q544.4 94.2 546 86" stroke="#d4b0de" stroke-width="2.2"/></g>
<g fill="none" stroke-opacity="0.9"><path d="M583 104Q580.5 111.6 578 119.1Q572.3 117.2 567.3 113.7Q559.6 111.8 551.6 111.9Q548 112.8 545.2 110.3Q541.6 108.3 547.4 106.5M554.6 97.5Q556.5 103.1 554.9 108.8Q550.4 107.5 550 102.8Q548.7 97.4 544 94.5M580.6 110.3Q576.5 110.4 572.7 112Q568.8 109.7 567.7 105.4Q565.5 99.9 568.6 94.8Q564.7 92.3 560.9 89.7Q559.4 84.2 559.7 88" stroke="#c0b6e0" stroke-width="0.9" stroke-linecap="round"/><path d="M545.4 99.3Q542.3 95.5 544 90.8Q546 83.2 554.8 86.7Q548.9 89.3 550.5 93.1Q552.7 87.1 554.9 89.6Q553.3 95.3 549.4 99.8M561.2 87.3Q558.5 89 558 92.1Q554.4 93.7 550.6 94.7Q548.8 98.7 545.6 101.8Q542.2 106.5 542.7 112.2Q539.5 113.3 546.6 108.1" stroke="#d6ccee" stroke-width="0.9" stroke-linecap="round"/><path d="M562.1 104.7Q564.2 100.6 566.2 96.5" stroke="#c0b6e0" stroke-width="3.1"/><path d="M562.1 104.7Q564.2 100.6 566.2 96.5" stroke="#d6ccee" stroke-width="2.1"/></g>
<g fill="none" stroke-opacity="0.85"><path d="M494.2 111.6Q495.8 114.4 494 109.5Q496.1 103.8 498.5 98.2Q503.7 96 500.2 96.9Q496.3 95.9 493.2 98.5Q496.7 104.2 495.9 110.8Q499.6 112.9 495.1 110.2M489.3 95.3Q495.5 94.8 498.4 89.4Q499.8 84.6 492.6 88.7Q496.8 90.5 501.1 92.4Q504.7 91.3 499.6 93.6Q496.4 95.8 492.7 96.6M490 114.2Q492.6 109.8 494.1 105Q491.4 98.4 494.9 92.2Q495.9 84.7 488.6 88.3M486.9 104.7Q481 101.7 479.7 95.1Q486.6 93.7 491.9 98.4Q499.1 99.2 506.3 100.3Q508.7 102.4 501 103.1" stroke="#bc96ca" stroke-width="0.9" stroke-linecap="round"/><path d="M499.1 96.9Q498.8 93.6 498 90.4Q503.2 86.8 497.8 88.5Q493.5 91.2 492.8 96.2Q490.4 102.1 492.2 108.2Q498.3 112.2 497.8 109.2Q497.4 103.5 502 99.8" stroke="#d4b0de" stroke-width="0.9" stroke-linecap="round"/><path d="M473 117.8Q477.1 112.5 477.2 105.7" stroke="#bc96ca" stroke-width="2.8"/><path d="M473 117.8Q477.1 112.5 477.2 105.7" stroke="#d4b0de" stroke-width="1.8"/><path d="M479.9 114.8Q478 107.4 482.8 101.5" stroke="#bc96ca" stroke-width="2.6"/><path d="M479.9 114.8Q478 107.4 482.8 101.5" stroke="#d4b0de" stroke-width="1.6"/><path d="M492.5 95.7Q495.6 92.3 497.9 88.3" stroke="#bc96ca" stroke-width="2.7"/><path d="M492.5 95.7Q495.6 92.3 497.9 88.3" stroke="#d4b0de" stroke-width="1.7"/></g>
<g fill="none" stroke-opacity="0.8"><path d="M515.2 74.9Q510 69.7 515.8 64.1Q520.3 63.3 523.8 66.3Q522.6 69.1 520.6 71.4Q514.9 72.6 516.7 70.4" stroke="#9accba" stroke-width="0.9" stroke-linecap="round"/><path d="M529.3 63.6Q522.8 65.3 518.4 70.4Q518.4 76.2 522.3 80.4Q518.4 87.3 525 82.7Q520.5 77.6 514.8 74M536 77.4Q536.5 83.2 533 79.9Q536.4 77.5 536.9 73.3Q535.4 70.5 532.8 68.6" stroke="#b6e0d0" stroke-width="0.9" stroke-linecap="round"/><path d="M539.3 69.5Q544.2 62 547.8 53.8" stroke="#9accba" stroke-width="2.3"/><path d="M539.3 69.5Q544.2 62 547.8 53.8" stroke="#b6e0d0" stroke-width="1.3"/><path d="M535.5 61.5Q538.4 57.1 540.7 52.2" stroke="#9accba" stroke-width="2.4"/><path d="M535.5 61.5Q538.4 57.1 540.7 52.2" stroke="#b6e0d0" stroke-width="1.4"/></g>
<g fill="none" stroke-opacity="0.9"><path d="M468.8 59.2Q466.5 66 471.9 65.5Q471.3 60.6 474.4 56.8Q478.1 58.4 479.4 62.3Q474.2 64.4 468.7 65.6" stroke="#98c6d4" stroke-width="0.9" stroke-linecap="round"/><path d="M500.1 49.1Q497.9 47 496.9 44Q489.7 41.6 484.1 46.9Q481.5 52.9 480 59.3Q478.3 62.9 475.3 65.5Q473.8 69.8 480.3 65.7Q473.5 62.4 466.5 65.5M490.2 44Q490.7 40.1 487 44.2Q482.8 50 482.6 57.1Q488.1 60.9 487.5 67.5Q493.5 72.5 489.9 70.1M471.9 48.1Q477.5 51.9 477.5 58.6Q473.1 63.4 466.6 64.1Q464.9 59.7 465.3 54.9Q472.5 53.4 479.3 50.6Q485.6 54.2 491.2 59Q493.4 63.4 490.8 62.9M506.6 56Q509.3 58.4 501.3 58.3Q504.3 51.8 505.4 44.8Q506.8 38.6 500.7 42.3Q494.8 40.7 488.7 41.7Q485.9 38.4 484.5 42.6M496.7 53.1Q490.2 50.5 488.7 43.7Q481.1 43.4 478.8 45.6Q483 42.5 488.1 40.9Q490.7 45 492.7 49.5" stroke="#b2dae4" stroke-width="0.9" stroke-linecap="round"/><path d="M490.2 47.5Q496.9 46.3 503.3 44" stroke="#98c6d4" stroke-width="3.1"/><path d="M490.2 47.5Q496.9 46.3 503.3 44" stroke="#b2dae4" stroke-width="2.1"/><path d="M463.5 60.4Q469 62.5 473.6 58.8" stroke="#98c6d4" stroke-width="2.9"/><path d="M463.5 60.4Q469 62.5 473.6 58.8" stroke="#b2dae4" stroke-width="1.9"/></g>
<g fill="none" stroke-opacity="0.9"><path d="M586.8 82.6Q587 86 584.6 88.3Q582.1 92.7 593.2 92.9Q596.1 88.7 599.1 84.4Q603.6 84 607.3 81.4Q609.3 74 612 74.5Q612.3 79.8 617.1 82M599.1 92.3Q602.4 89.2 606.9 90Q607.5 85.9 610.3 82.8Q616.7 85.2 623.5 84" stroke="#c0b6e0" stroke-width="0.9" stroke-linecap="round"/><path d="M622.4 89.4Q625.7 93.9 621.8 93.8Q626.2 90.2 631.8 91.7Q634.6 94.7 627.8 92.3Q625.2 95.5 620.5 94.1M636.9 88.5Q637.1 96 629.6 95.7Q622.1 98 616.8 92.2Q616.6 86.9 619.4 82.3M630.8 80.2Q633.7 81.3 634.7 84.3Q634.5 90.9 624.3 92.8Q623.5 88.1 619.2 86.4Q617.1 83.9 616.4 80.7" stroke="#d6ccee" stroke-width="0.9" stroke-linecap="round"/></g>
<g fill="none" stroke-opacity="0.9"><path d="M580.7 71.6Q576.1 74 576.9 69.8Q575.5 65.9 575.7 61.9Q567.9 60.2 571.2 57Q575.9 58 580.7 58.7" stroke="#c0b6e0" stroke-width="0.9" stroke-linecap="round"/><path d="M574.8 66.6Q577.3 70.9 580.7 74.5Q579.7 80.6 578.8 74.4Q582.7 73.4 583.4 69.5M594.7 54.2Q595.6 50.1 593.1 52.3Q597.3 57.2 603.6 56Q607.1 60.5 599.8 63.4Q596.7 64 593.9 65.6Q590.7 60.6 592.5 54.8Q589.4 53.2 586.7 55.4M597.1 65.9Q591.6 66.5 587.6 70.3Q582.2 73.3 576.4 70.9Q573.4 72.9 576.2 68.8Q578.8 64.4 582 60.4Q578.8 57.3 574.8 55.4Q576.5 50 577.9 51.2" stroke="#d6ccee" stroke-width="0.9" stroke-linecap="round"/><path d="M583.6 71.7Q591.7 70.5 596 63.7" stroke="#c0b6e0" stroke-width="3.1"/><path d="M583.6 71.7Q591.7 70.5 596 63.7" stroke="#d6ccee" stroke-width="2.1"/><path d="M582.3 72.1Q580.3 65 581.6 57.8" stroke="#c0b6e0" stroke-width="2.5"/><path d="M582.3 72.1Q580.3 65 581.6 57.8" stroke="#d6ccee" stroke-width="1.5"/></g>
<g fill="none" stroke-opacity="0.8"><path d="M540.6 144.2Q537.6 141.8 535.6 138.5Q537.1 133.9 545.7 133.5Q549 134.1 551.9 132.5M579.8 130Q575.9 130.4 572 129.9Q564.5 129.2 557.8 132.8Q552 133.3 550.3 138.9M564.2 154.2Q563.2 151 560.2 149.8Q557.9 154.7 557.3 151.7Q556.6 148 553.6 145.9" stroke="#bc96ca" stroke-width="0.9" stroke-linecap="round"/><path d="M579.9 134.3Q580.3 139 584 142Q587.2 143.6 577.6 143.9Q572.2 143 568.8 138.7Q566.2 131.6 567.6 124.2" stroke="#d4b0de" stroke-width="0.9" stroke-linecap="round"/><path d="M543.6 158.3Q543.6 151.9 548.8 148.1" stroke="#bc96ca" stroke-width="3.3"/><path d="M543.6 158.3Q543.6 151.9 548.8 148.1" stroke="#d4b0de" stroke-width="2.3"/><path d="M559.6 162.8Q560.9 157.2 564.7 152.9" stroke="#bc96ca" stroke-width="3.2"/><path d="M559.6 162.8Q560.9 157.2 564.7 152.9" stroke="#d4b0de" stroke-width="2.2"/></g>
<g fill="none" stroke-opacity="0.95"><path d="M548.6 142.8Q552.6 142.2 556.2 144.1Q560.7 149.8 564.4 156.1Q569.6 157.3 574.9 158.2Q580.5 156.4 582.9 151Q581.6 147.6 578 147.4M555.3 154.8Q558.7 156.5 561 159.4Q567.1 159.7 573.1 158.6Q574.6 163.7 569.5 157.5M564.7 144.1Q568.9 138.3 569.4 131.1Q568.8 127.4 566.4 124.6Q563 125.5 560.6 123M569.5 135.3Q571.5 141 577.2 142.8Q578.9 146.3 578 150Q574.4 155 568.5 153.7" stroke="#babae2" stroke-width="0.9" stroke-linecap="round"/><path d="M567 158.4Q565.6 161.4 560.6 155.7Q563.5 156.7 566.3 158.1Q565.4 164 561.9 159.1Q564.5 154.2 564.4 148.6Q560.8 146.1 556.5 146.3M555.4 140.1Q550.8 135.2 547.9 129.2Q554.7 125.4 562.5 126.5Q567.6 124.3 566.1 130.6" stroke="#d2d2f0" stroke-width="0.9" stroke-linecap="round"/><path d="M573.9 143.3Q577.9 137.2 580.5 130.4" stroke="#babae2" stroke-width="3.5"/><path d="M573.9 143.3Q577.9 137.2 580.5 130.4" stroke="#d2d2f0" stroke-width="2.5"/><path d="M565.5 157.3Q569.9 154.9 574.9 155.6" stroke="#babae2" stroke-width="2.9"/><path d="M565.5 157.3Q569.9 154.9 574.9 155.6" stroke="#d2d2f0" stroke-width="1.9"/><path d="M553.9 139.1Q557.2 135.1 560.7 131.2" stroke="#babae2" stroke-width="2.8"/><path d="M553.9 139.1Q557.2 135.1 560.7 131.2" stroke="#d2d2f0" stroke-width="1.8"/></g>
<g fill="none" stroke-opacity="0.8"><path d="M577.6 143.5Q573.4 142.1 572.7 137.7Q565.9 137.9 561.9 143.4Q566.4 149.5 573.8 151.4Q578.8 154.6 574.7 149.9Q571 150.5 567.5 149.3Q561.5 149.9 556.8 146.3" stroke="#bc96ca" stroke-width="0.9" stroke-linecap="round"/><path d="M564.1 146.3Q568 151.8 574.5 153.5Q580.2 157 573.3 154Q571.8 146.6 578 142.3Q582.5 143.9 576.3 141.7Q572.7 141 569.7 143.1Q571.7 149 575.2 154.2M564.7 141.5Q563 148.6 566.1 155.1Q571.3 158.1 569.3 153.4Q567.2 148.1 562.3 145Q559 145.9 558.3 149.3Q556.6 152.3 553.3 152.9M571.6 146.9Q578.7 143.8 583.6 137.9Q581.9 132.6 578.1 128.6Q577.7 122.5 567.1 128.4Q572 124.8 569.6 128.1Q564.5 129.6 562.7 134.7Q556.3 139.3 556.6 147.1" stroke="#d4b0de" stroke-width="0.9" stroke-linecap="round"/><path d="M571.7 137.9Q577.8 134.3 581.2 128.1" stroke="#bc96ca" stroke-width="2.9"/><path d="M571.7 137.9Q577.8 134.3 581.2 128.1" stroke="#d4b0de" stroke-width="1.9"/><path d="M533.8 152.3Q541.4 151.3 546.6 145.6" stroke="#bc96ca" stroke-width="2.7"/><path d="M533.8 152.3Q541.4 151.3 546.6 145.6" stroke="#d4b0de" stroke-width="1.7"/><path d="M559.1 130Q566.5 126.8 570.3 119.7" stroke="#bc96ca" stroke-width="2.6"/><path d="M559.1 130Q566.5 126.8 570.3 119.7" stroke="#d4b0de" stroke-width="1.6"/></g>
<g fill="none" stroke-opacity="0.85"><path d="M610 39.4Q602.9 36.5 608.9 35.4Q614.8 40.4 619 46.9Q613.7 51.2 614.2 52.3" stroke="#9accba" stroke-width="0.9" stroke-linecap="round"/><path d="M624.9 43.7Q617.4 43.7 611.3 48.1Q606 43.1 612.1 39.5Q616.7 42.7 615.6 48.1Q617.4 51.5 618.3 51.2Q614.1 47.1 608.2 47.3M606.6 39.9Q613.3 43.4 617.8 49.5Q615.8 55.8 614.1 53.4Q617.6 55.1 619.4 53.2Q615.8 50.9 615.9 46.7Q610.3 46.4 605.1 48.1M625.1 39.3Q629.2 33.7 623.6 34.5Q626.8 33.5 625.4 39.5Q628 36.5 625.1 37.5Q619.4 38.5 618.2 44.1Q617.6 50.1 612.5 53.5" stroke="#b6e0d0" stroke-width="0.9" stroke-linecap="round"/><path d="M612.1 46.6Q617.8 40.3 622.2 33" stroke="#9accba" stroke-width="2.4"/><path d="M612.1 46.6Q617.8 40.3 622.2 33" stroke="#b6e0d0" stroke-width="1.4"/><path d="M602.6 42.5Q607.5 42 612.1 40.3" stroke="#9accba" stroke-width="3"/><path d="M602.6 42.5Q607.5 42 612.1 40.3" stroke="#b6e0d0" stroke-width="2"/></g>
<g fill="none" stroke-opacity="0.8"><path d="M486 62.9Q489.5 59.3 487.6 63.3Q481.7 59.2 478.6 62Q482.7 59.3 484.5 65.3Q481 70 478 74.9M485.8 78Q488.7 74.5 491 70.7Q493.7 67.7 489 68.3Q490.2 71.7 489.5 75.1Q492.8 79.8 490.7 79.5Q485 81.6 479.3 83.6M495.8 79.4Q491.7 84.1 485.6 85.3Q484.3 90.2 484.8 86.1Q482.4 83.5 479.4 81.5Q475.7 81.3 472.6 83.3Q470.4 80.9 470.2 77.6Q474.4 72.1 477.2 65.7" stroke="#9accba" stroke-width="0.9" stroke-linecap="round"/><path d="M469.8 75.7Q475.2 74 476.2 68.5" stroke="#9accba" stroke-width="3.2"/><path d="M469.8 75.7Q475.2 74 476.2 68.5" stroke="#b6e0d0" stroke-width="2.2"/></g>
<g fill="none" stroke-opacity="0.9"><path d="M574.5 100.7Q577.7 105.4 582.8 107.7Q587.9 101.9 578.6 97.5Q581.9 103.4 577.7 104.3Q571.1 106 564.5 107.7Q561.4 102.9 556.8 99.4Q551.9 102 546.9 104.4M577.6 96.3Q573.2 102.8 565.5 104.6Q566.9 110.2 569.2 115.5Q577.1 116.8 575 113.5M555.7 85.4Q556.3 78.5 562.4 86.1Q563.1 91.3 558.7 94.4Q556.2 100.2 555.2 106.6Q554.7 113.7 552.3 120.4Q548.6 122.3 553.6 116.7M568.4 84.5Q569.4 81.6 568.3 89.2Q563.5 85.6 557.7 84.2Q550.4 83.4 550.8 89.8M571.4 101.6Q566 99.1 561 102.4Q558 107.5 552.2 107.9Q545.6 110.8 547.9 106.5Q551.1 101.7 551.8 96Q557 91.5 562.1 86.9" stroke="#c0b6e0" stroke-width="0.9" stroke-linecap="round"/><path d="M557.5 85.1Q560.6 80.9 563.6 76.4" stroke="#c0b6e0" stroke-width="2.5"/><path d="M557.5 85.1Q560.6 80.9 563.6 76.4" stroke="#d6ccee" stroke-width="1.5"/></g>
<g fill="none" stroke-opacity="0.9"><path d="M532.3 88Q530.1 85.8 530.9 82.8Q536 79.9 539.1 78.4Q536.1 82.6 531.7 85.1Q527.8 78.6 530.1 81.1Q533.3 85.2 533.6 90.4M543.9 91.5Q550 93.9 556.2 92.2Q559.7 86.5 556.5 82.9Q556.6 86.3 554.4 88.7Q552.3 94.9 548.7 94.9Q551.7 89.9 557.5 90.6Q558.2 95.9 553.4 94.6" stroke="#c0b6e0" stroke-width="0.9" stroke-linecap="round"/><path d="M546 79.1Q544.1 82.9 546.4 86.6Q552.5 83.3 558.4 87.1Q562.6 84.6 558.5 85.4Q555.1 84.1 552.1 86.2Q548.5 84.9 546.3 81.8" stroke="#d6ccee" stroke-width="0.9" stroke-linecap="round"/></g>
<g fill="none" stroke-opacity="0.85"><path d="M599.2 45.7Q600.4 49.7 607.1 50Q611.3 49.5 614.1 52.7Q617.5 56.6 620.2 54.5Q624.3 50.9 628.2 47.1Q629.1 40 626.1 37.7M626.6 49.5Q630.8 44.1 637.5 42.6Q640.7 47.5 630.9 49.6Q635.2 46.3 638.4 41.9Q639 38.8 630.3 39.8Q629 43.8 626.4 47Q620 47.1 613.5 47M635.5 44.8Q637.6 38.9 630.4 37.7Q637.5 37.6 634.3 42.7Q629.4 38 626 36.8Q628.5 38.8 631.5 37.8Q633.5 34.3 630 37.1" stroke="#9accba" stroke-width="0.9" stroke-linecap="round"/><path d="M621.2 53.1Q613.6 53.3 607.6 48.7Q609 45.6 609.8 42.3Q610.7 37.3 615.9 37.7Q608.3 38.4 608.4 41.5Q609.8 47.2 612.3 52.6Q615.4 51.3 616.7 48.1" stroke="#b6e0d0" stroke-width="0.9" stroke-linecap="round"/><path d="M601 41.7Q608.7 43.5 615 38.5" stroke="#9accba" stroke-width="2.7"/><path d="M601 41.7Q608.7 43.5 615 38.5" stroke="#b6e0d0" stroke-width="1.7"/></g>
<g fill="none" stroke-opacity="0.9"><path d="M478.2 45.9Q483.7 42.3 485.7 43.7Q479.8 44.6 475 48.1Q475.7 54.7 481.7 57.5Q486.9 55 492.2 57.3Q495.4 60.4 494.5 64.7M461.1 63.8Q464.9 66.9 473.9 65Q473.6 59.8 477.1 56Q473.4 50.3 466.8 51.2Q461.4 50.2 468 53.6Q473.4 54.5 478.3 56.9Q477.4 61.1 480.8 63.6M471.4 54Q470.5 49.1 473.9 49.6Q474.1 54 471.7 57.5Q463.8 57.6 459.1 64M483.7 59.3Q490.7 62 488.6 63.7Q494.3 63.2 493.4 61.9Q485.8 61.6 481.1 55.8M487.1 54.6Q484.8 52.4 485.5 49.2Q488.3 41.8 484.5 43Q488.2 41.9 491 44.5" stroke="#98c6d4" stroke-width="0.9" stroke-linecap="round"/><path d="M482.5 57.1Q488.4 52.8 489.8 45.7Q494.8 43.6 500.1 42.9Q502.3 38.2 494.1 42Q496.3 49.2 496.1 56.6Q494.5 61.3 493.4 66.2Q488.2 69.6 483.3 64.9M456.1 60.2Q452.3 61.2 463.1 58Q467.1 53.2 465.7 47.2Q463.8 43.6 470.2 46.9Q467 53.1 467 60.1" stroke="#b2dae4" stroke-width="0.9" stroke-linecap="round"/><path d="M472.2 51.4Q478.8 52.4 483.8 48.1" stroke="#98c6d4" stroke-width="3.2"/><path d="M472.2 51.4Q478.8 52.4 483.8 48.1" stroke="#b2dae4" stroke-width="2.2"/><path d="M485 59.1Q493.4 55.7 501.9 58.9" stroke="#98c6d4" stroke-width="2.9"/><path d="M485 59.1Q493.4 55.7 501.9 58.9" stroke="#b2dae4" stroke-width="1.9"/><path d="M465.9 49.9Q474 46.7 482.8 47.6" stroke="#98c6d4" stroke-width="3.1"/><path d="M465.9 49.9Q474 46.7 482.8 47.6" stroke="#b2dae4" stroke-width="2.1"/></g>
<g fill="none" stroke-opacity="0.9"><path d="M589.5 72.6Q594.9 66.9 602.1 63.9Q601.8 60.7 601.1 57.5Q601.1 52.3 596.3 50.2Q591.3 51.5 590.1 56.6Q595.7 57.9 600.5 54.8M574.9 59.2Q568 58 570.9 60.3Q575.4 58.7 580.1 57.6Q584.7 58.1 588.8 60.1Q587.2 66.8 580.8 69.6Q580.4 73.5 581.4 70.3Q586.4 68.3 591.7 67.6" stroke="#c0b6e0" stroke-width="0.9" stroke-linecap="round"/><path d="M573.8 61.4Q579.3 60.7 584.5 58.8Q588.7 55.3 592.7 51.4Q597.1 47.9 595.6 52.8Q594.4 48.8 590.3 48.3Q587.6 49.9 584.5 49.3Q580.8 46.8 576.4 47.5M594.4 54.7Q595.6 58.4 599 60.3Q599.5 64.4 595.7 64.2Q589.1 63.1 583.9 59" stroke="#d6ccee" stroke-width="0.9" stroke-linecap="round"/><path d="M592 57.8Q597.7 53.1 604.4 49.6" stroke="#c0b6e0" stroke-width="2.9"/><path d="M592 57.8Q597.7 53.1 604.4 49.6" stroke="#d6ccee" stroke-width="1.9"/></g>
<g fill="none" stroke-opacity="0.85"><path d="M615.3 53.8Q620.5 50.4 624 52.9Q621.3 55.5 619.8 58.8Q613.4 55.9 615.9 57.4M636.4 71.1Q636.7 67.6 640.1 66.4Q646.7 69.5 643.6 68.6Q636.6 65.2 635.2 57.6Q635.7 50.1 636.9 55.1Q632.5 50.7 631.8 53.2M643.7 63.2Q646.3 69.2 644.5 75.6Q642.1 81.2 636.1 82.3Q628.7 79.9 622.2 84.1Q616 85.8 617.3 79.6Q621.9 83 627.6 82.6Q631.9 84.8 632.3 79.4" stroke="#bc96ca" stroke-width="0.9" stroke-linecap="round"/><path d="M620.4 64.4Q613.2 66.7 614.8 67.9Q619.1 64.6 621.9 60Q624.6 61.8 627.7 62.9Q631.1 57.6 629.5 51.4Q624.4 50.4 623.1 55.4" stroke="#d4b0de" stroke-width="0.9" stroke-linecap="round"/><path d="M612.2 78.8Q613.1 72.3 612.5 65.8" stroke="#bc96ca" stroke-width="2.5"/><path d="M612.2 78.8Q613.1 72.3 612.5 65.8" stroke="#d4b0de" stroke-width="1.5"/><path d="M631.1 73.5Q629.7 64.8 632.3 56.3" stroke="#bc96ca" stroke-width="3.1"/><path d="M631.1 73.5Q629.7 64.8 632.3 56.3" stroke="#d4b0de" stroke-width="2.1"/><path d="M618.5 73.1Q620.7 68 619.4 62.6" stroke="#bc96ca" stroke-width="3.2"/><path d="M618.5 73.1Q620.7 68 619.4 62.6" stroke="#d4b0de" stroke-width="2.2"/></g>
<g fill="none" stroke-opacity="0.9"><path d="M537.7 103.6Q542.4 106.5 532.9 107.2Q526 104.7 521.2 99.1Q514.2 98.6 507.1 99M523.1 111.9Q516 112.8 511.7 106.9Q511.2 102.9 508.3 100.1Q508.4 96.3 509.3 92.5Q505.2 91.1 500.9 92.2Q496.4 96.3 494.2 102M502.1 96.9Q504.6 101.3 506.5 106Q500.2 108.9 507.4 109.4Q513.1 110.5 517 106.2M496.4 98Q501.5 101.6 507.3 104.1Q506.9 108.1 503 109.2Q499.3 109.5 497.5 106.3Q500.2 104 503.4 102.7Q505.9 97.2 504.4 91.4" stroke="#c0b6e0" stroke-width="0.9" stroke-linecap="round"/><path d="M524.6 101.9Q520.8 100.5 516.7 99.9Q514 97.1 510.3 96.1Q505 90.5 506.7 92.5Q510.6 89.7 514.7 92.2Q519.9 88.9 522.3 90.5Q518.6 92.1 514.6 92.6M508.5 90.4Q511.3 88.5 514.6 89.6Q517.4 85.7 519.3 88.6Q513.9 92 510.1 97.1" stroke="#d6ccee" stroke-width="0.9" stroke-linecap="round"/><path d="M516.4 94.7Q522.7 93.9 526.9 89.1" stroke="#c0b6e0" stroke-width="2.8"/><path d="M516.4 94.7Q522.7 93.9 526.9 89.1" stroke="#d6ccee" stroke-width="1.8"/></g>
<g fill="none" stroke-opacity="0.95"><path d="M537.7 138.9Q536.9 141.9 533.9 142.8Q529.7 148.2 525.1 153.2Q521.4 157.5 523.5 154Q525.2 158.7 527.7 157.8Q525.2 153.8 526.8 150.7" stroke="#babae2" stroke-width="0.9" stroke-linecap="round"/><path d="M536.8 152.1Q537.2 158.2 532.2 161.8Q533.7 167.7 536.2 163.7Q539.3 158.5 543.6 154.4M529.1 155.3Q532.8 158.2 537.5 157.8Q540.6 158.4 543.5 156.9Q544.9 153.3 543.1 151M541.5 151.7Q541.9 146.6 540.9 141.5Q543.5 137.8 539.1 140.1Q540.5 143.5 544.1 144" stroke="#d2d2f0" stroke-width="0.9" stroke-linecap="round"/><path d="M534.8 152.4Q540 155.3 544.8 151.6" stroke="#babae2" stroke-width="2.6"/><path d="M534.8 152.4Q540 155.3 544.8 151.6" stroke="#d2d2f0" stroke-width="1.6"/></g>
<g fill="none" stroke-opacity="0.8"><path d="M533.4 59.8Q540 60 537.8 59.5Q530.3 61.1 523.1 63.7Q523.5 67.8 525.8 71.2Q525.5 75.2 527.9 78.3Q534.3 78.6 534.5 76.1M528 55.8Q522.7 56.9 521.5 62.2Q524.5 68.7 525.4 75.8Q518.7 76.7 518.4 72.7Q525.1 74.3 530.3 69.9Q534.3 64.9 538.7 60.4M528.9 58.5Q526.1 53.7 522 49.9Q516.5 50.2 518 55.5Q522.3 58.6 527.4 59.6" stroke="#9accba" stroke-width="0.9" stroke-linecap="round"/><path d="M523.6 76.8Q525.9 71 525.5 64.8" stroke="#9accba" stroke-width="3.1"/><path d="M523.6 76.8Q525.9 71 525.5 64.8" stroke="#b6e0d0" stroke-width="2.1"/><path d="M513.7 61.5Q517 56.6 520.9 52.2" stroke="#9accba" stroke-width="3.3"/><path d="M513.7 61.5Q517 56.6 520.9 52.2" stroke="#b6e0d0" stroke-width="2.3"/></g>
<g fill="none" stroke-opacity="0.9"><path d="M538.5 103.1Q536 109.3 526.3 107.8Q530 104 535.3 104Q540.2 104.1 545 104.7M539 92.7Q544.3 94.9 547.1 100Q549.1 103.7 537 104.7Q543.7 103.1 538.3 101.4Q535.6 94.9 529.1 92.5M531.3 108.9Q526.1 105.6 520.4 103.3Q519.6 98.3 518.2 93.5Q516.4 86 515.2 87.8Q515 92 514.1 96.1M526.9 99.3Q523.4 103.3 518.6 105.8Q519.9 109.7 524 110.2Q526.6 114.6 526.9 109.9Q523.8 108.2 520.7 110Q517.6 104.6 518.7 98.4Q524.3 98.3 529.8 99.4" stroke="#c0b6e0" stroke-width="0.9" stroke-linecap="round"/><path d="M528.5 100.2Q524.4 101.5 520.8 103.7Q522.3 107.5 524.2 111.1Q525.8 116.1 521.9 112.4Q517 107 509.8 106.9Q509.5 101.3 507.9 95.9" stroke="#d6ccee" stroke-width="0.9" stroke-linecap="round"/><path d="M506.2 113Q513.2 112.4 519.2 108.6" stroke="#c0b6e0" stroke-width="2.5"/><path d="M506.2 113Q513.2 112.4 519.2 108.6" stroke="#d6ccee" stroke-width="1.5"/></g>
<g fill="none" stroke-opacity="0.85"><path d="M568.3 60.7Q564.9 65.3 567.4 64.4Q569.3 60.6 568.4 56.5Q564.8 49.4 562.7 48.3M563.9 45.9Q557.3 45.1 558.2 47Q561.8 44.2 566.8 47.3Q564.7 52.5 559.6 54.8" stroke="#9accba" stroke-width="0.9" stroke-linecap="round"/><path d="M568.6 66Q572.7 64.1 572.8 62.2Q569.5 60.6 565.9 61.7Q558.7 61.5 553 57" stroke="#b6e0d0" stroke-width="0.9" stroke-linecap="round"/><path d="M546.1 50.4Q553.9 50.3 559.5 55.9" stroke="#9accba" stroke-width="2.4"/><path d="M546.1 50.4Q553.9 50.3 559.5 55.9" stroke="#b6e0d0" stroke-width="1.4"/></g>
<g fill="none" stroke-opacity="0.9"><path d="M647.3 53.1Q648.1 56.9 648.5 60.6Q650.7 65.8 650.1 71.3Q646.2 75.7 643.5 73.2Q645.7 75.9 649.1 76Q649.7 72.2 653.3 71" stroke="#babae2" stroke-width="0.9" stroke-linecap="round"/><path d="M650.8 71.1Q645.1 68.6 642.6 68Q647.3 67.1 652.1 68Q656.6 66.6 655.6 68.6Q655.2 62.3 654.9 61.8Q652.6 67.5 653.9 73.6Q656.4 76 653.2 74.9M645.3 67.3Q646.1 70.3 647.4 73Q654 71.5 655.6 69.7Q652.4 74 649.3 78.3Q649.1 83.9 649 80.9Q646.2 78.5 644.1 75.5" stroke="#d2d2f0" stroke-width="0.9" stroke-linecap="round"/><path d="M653.2 84.7Q650 77.9 652.5 70.8" stroke="#babae2" stroke-width="3.4"/><path d="M653.2 84.7Q650 77.9 652.5 70.8" stroke="#d2d2f0" stroke-width="2.4"/></g>
<g fill="none" stroke-opacity="0.9"><path d="M645.7 65.4Q644.1 62.2 643.6 64.2Q647.9 58.6 650.6 58.9Q646.2 61.1 642.8 64.4Q644.6 72.1 644.5 80M650.6 55.9Q653.4 61.6 652.9 67.5Q646.8 67 641.2 69.3Q638.7 73 642.1 73.7" stroke="#babae2" stroke-width="0.9" stroke-linecap="round"/><path d="M645.2 64.1Q641.6 68.4 641.3 70.1Q647.5 67.1 653.6 63.9Q652.9 60.7 653.9 57.4Q660.8 58.3 657.4 66" stroke="#d2d2f0" stroke-width="0.9" stroke-linecap="round"/><path d="M646.5 72.6Q649.1 67.1 647.8 61.2" stroke="#babae2" stroke-width="2.8"/><path d="M646.5 72.6Q649.1 67.1 647.8 61.2" stroke="#d2d2f0" stroke-width="1.8"/><path d="M640.8 67.6Q643.1 60.7 643.1 53.5" stroke="#babae2" stroke-width="2.9"/><path d="M640.8 67.6Q643.1 60.7 643.1 53.5" stroke="#d2d2f0" stroke-width="1.9"/></g>
<g fill="none" stroke-opacity="0.85"><path d="M495.8 112.4Q503.2 112.1 501.2 107.8Q496.1 111.6 491.8 110.7Q492.3 104.6 497.9 102.3M506 99.1Q502.1 97.1 497.8 97.6Q493.2 95.7 489.9 92Q486.3 93.2 483.9 90.2Q485.8 86.7 486.6 89.7" stroke="#bc96ca" stroke-width="0.9" stroke-linecap="round"/><path d="M493.6 88.7Q494.5 93.9 499.1 96.5Q503.1 99.1 507.5 97.4Q511.8 93.1 501.6 92.2Q495.8 95.7 490.2 99.4Q493.8 105.1 493.7 111.9M493 101.5Q489.5 101.4 488 104.6Q484 105.2 480.3 106.8Q480 110.7 482.6 113.7Q488.8 115.5 490.1 112.6Q485.3 110.8 480.3 110.6" stroke="#d4b0de" stroke-width="0.9" stroke-linecap="round"/><path d="M482.2 115.3Q481.8 109.1 487.3 106.1" stroke="#bc96ca" stroke-width="2.6"/><path d="M482.2 115.3Q481.8 109.1 487.3 106.1" stroke="#d4b0de" stroke-width="1.6"/><path d="M497 112.4Q502.5 110.6 503.3 104.7" stroke="#bc96ca" stroke-width="2.9"/><path d="M497 112.4Q502.5 110.6 503.3 104.7" stroke="#d4b0de" stroke-width="1.9"/></g>
<g fill="none" stroke-opacity="0.9"><path d="M509.4 53.1Q505.6 48 507.7 41.9Q511.1 42.9 514.6 43.8Q517 48.8 517.2 54.3M524.8 52.7Q530.4 53.3 535.7 55.2Q540.1 54.9 544.3 56.1Q548.2 58.2 540.4 57.2Q537.5 56.1 534.5 56.9Q535.1 60.6 530 58.4Q530.8 51 535.7 45.3M516.1 59.2Q518.1 62.1 521.2 59.4Q521.9 51.8 528.9 48.8Q532.1 52.9 531.7 58Q534.2 61.9 532.5 59.1Q536.6 52.9 536.5 45.4M524.7 50.9Q521.4 44.5 521 37.4Q527.1 34 530.3 41.6Q530 33.8 529.4 35.8" stroke="#98c6d4" stroke-width="0.9" stroke-linecap="round"/><path d="M516.2 50.9Q511.1 50.8 506.9 48.1Q503.6 51.5 500.6 55.1Q504.3 58.2 514.1 57.4Q513.5 53.2 516.8 50.7Q521.4 50.1 526 51.4Q531 54 536.5 55.2M531.9 56.1Q534.2 61.9 533.9 58.9Q530.8 53.5 524.7 54.2Q522.8 56.7 524.1 59.5Q528.3 60.6 528.7 58.4" stroke="#b2dae4" stroke-width="0.9" stroke-linecap="round"/><path d="M536.8 50.3Q541.1 45.9 544.5 40.7" stroke="#98c6d4" stroke-width="2.9"/><path d="M536.8 50.3Q541.1 45.9 544.5 40.7" stroke="#b2dae4" stroke-width="1.9"/><path d="M512.4 63.5Q519 58.2 527.5 58.4" stroke="#98c6d4" stroke-width="3.1"/><path d="M512.4 63.5Q519 58.2 527.5 58.4" stroke="#b2dae4" stroke-width="2.1"/></g>
<g fill="none" stroke-opacity="0.9"><path d="M550.4 93.2Q554.5 96.8 553.1 94.4Q553.1 91.1 550.4 89.3Q546.1 90.1 542.4 87.9M543.5 83.5Q540.7 89.5 534.4 91.6Q532.4 87.3 534.1 82.8Q539.7 79.5 544.4 74.9Q550.5 73.9 550 75Q546.6 74.7 543.3 75.9M552.1 75.5Q558 78.2 556 83.1Q552.6 79.9 548 80.2Q546.6 73.5 548.1 74.6Q552.8 79.7 553.8 82.4M547.5 88.3Q542.8 87.5 539.7 83.8Q534.4 83.7 535.6 85.1Q542.6 88.4 549.5 91.8Q553.3 94.7 552.8 90.9Q552.4 87.4 555.3 85.3Q558.6 84.9 554.5 86.4" stroke="#c0b6e0" stroke-width="0.9" stroke-linecap="round"/><path d="M541 76.5Q547.1 78.5 552.7 75.3" stroke="#c0b6e0" stroke-width="2.2"/><path d="M541 76.5Q547.1 78.5 552.7 75.3" stroke="#d6ccee" stroke-width="1.2"/></g>
<g fill="none" stroke-opacity="0.9"><path d="M587.3 89Q583.9 90 594.9 90.5Q598.3 88.1 602.5 87.9Q604.7 90.4 608.1 90.8Q614.2 87.7 621 88.3Q625.5 85.7 628.8 81.6M626.5 80.5Q625 87 630.2 91.1Q633.7 86.6 632.9 81Q630.9 76.4 624.5 77.5Q621.8 79.7 619.8 82.5Q620.4 87.5 616.2 90.1Q609.3 89.7 607.5 91.2M621.4 87.7Q622.1 84.7 623.6 82Q629.6 77.8 626.7 79.6Q624.5 81.7 621.5 81.7Q614.2 78.6 609.5 78.7Q608.2 85.5 601.5 86.9Q594.4 89.2 597.7 90.4" stroke="#c0b6e0" stroke-width="0.9" stroke-linecap="round"/><path d="M613.2 81.3Q613.6 86.6 613.3 91.9Q611.4 97.4 610.1 96Q613.2 88.8 611.1 81.3Q612.3 75.3 612.7 76Q609.5 80.1 604.8 82.2M623.7 89.7Q626.1 84.9 626.5 79.5Q619.6 76.8 615.9 76.1Q621 77.2 620.4 79.7M612.5 82.3Q610.3 79.4 606.9 78.1Q607.7 74.4 611.1 77.4Q612.4 80.3 612.2 83.5Q613.6 89.6 615.2 91.2Q614.8 83.8 621.1 79.8" stroke="#d6ccee" stroke-width="0.9" stroke-linecap="round"/><path d="M625.8 87.4Q631.9 87.1 638 88.2" stroke="#c0b6e0" stroke-width="3"/><path d="M625.8 87.4Q631.9 87.1 638 88.2" stroke="#d6ccee" stroke-width="2"/></g>
<g fill="none" stroke-opacity="0.8"><path d="M556.3 134.7Q557.2 129.5 552.8 126.6Q550.1 124.6 546.9 125.4Q541.3 126.7 537.8 131.1Q534.1 133.8 541.8 136.7Q541.7 129.5 548.4 129.4Q552.5 131.1 556 134M554.4 135Q549 135.6 547.6 140.9Q545 144.6 540.8 146.4Q537.2 148.3 544.5 143.5" stroke="#bc96ca" stroke-width="0.9" stroke-linecap="round"/><path d="M574.7 141.1Q571.2 138.9 567.1 137.7Q561.5 139.4 556.2 141.9Q553.4 147 554.5 152.7Q548.5 157.2 551.2 154.4Q547.5 151.9 548 147.5M565.4 144.1Q565.7 136.7 564.7 129.4Q569.6 125.3 575.9 125.6Q575.7 128.9 577.7 131.6Q584.8 132.2 576.8 139.1Q571.5 137.9 569.3 132.9" stroke="#d4b0de" stroke-width="0.9" stroke-linecap="round"/><path d="M564.9 147Q568.1 143.4 572.3 141" stroke="#bc96ca" stroke-width="3.1"/><path d="M564.9 147Q568.1 143.4 572.3 141" stroke="#d4b0de" stroke-width="2.1"/><path d="M572.6 144.2Q581.2 142.9 586.7 136.3" stroke="#bc96ca" stroke-width="3.6"/><path d="M572.6 144.2Q581.2 142.9 586.7 136.3" stroke="#d4b0de" stroke-width="2.6"/></g>
<g fill="none" stroke-opacity="0.9"><path d="M507.8 52.8Q507.7 45.6 498.8 45Q496.2 49.9 492 53.4Q489.1 56.7 485 55.2Q487.6 48.5 493.1 43.8Q494.3 39.8 490 43.5M479.4 44.5Q482.2 51.8 489.9 53.6Q493 49.4 494.3 44.3Q498.9 41.2 503.9 43.8Q509.4 49.1 515.1 54.1Q519.6 55.2 507.5 53M487.8 58.1Q483.9 59 480.1 60.2Q479.4 63.2 478.8 66.2Q475.9 68.7 478.8 65.4M460.2 58.7Q457.2 57.8 455.5 55.2Q449 57.8 461.7 60.5Q460.9 53.6 467.1 51.9Q471.9 49 477.5 49Q480.5 54.7 476.9 60.1" stroke="#98c6d4" stroke-width="0.9" stroke-linecap="round"/><path d="M467.5 55.9Q464.7 53.3 461.7 51.2Q458.2 56.1 465.3 56.2Q468.3 54.5 469.4 51.4M493.8 45.2Q493.8 50.4 489.6 53.5Q487.2 59.3 489.2 65.3Q492.9 71.3 487.9 68.6Q492.8 69 492.5 64.3Q489 65.3 485.5 66.5" stroke="#b2dae4" stroke-width="0.9" stroke-linecap="round"/><path d="M505.1 54.7Q507.6 48 514.5 46.1" stroke="#98c6d4" stroke-width="2.5"/><path d="M505.1 54.7Q507.6 48 514.5 46.1" stroke="#b2dae4" stroke-width="1.5"/><path d="M496.5 55.7Q504.8 54.1 512.9 52.1" stroke="#98c6d4" stroke-width="2.5"/><path d="M496.5 55.7Q504.8 54.1 512.9 52.1" stroke="#b2dae4" stroke-width="1.5"/><path d="M452 60.2Q460.3 57.6 468.5 54.4" stroke="#98c6d4" stroke-width="3"/><path d="M452 60.2Q460.3 57.6 468.5 54.4" stroke="#b2dae4" stroke-width="2"/></g>
<g fill="none" stroke-opacity="0.9"><path d="M532.4 54.8Q529.2 53.4 525.7 54.2Q520.6 56.3 515.2 55.1Q512.9 53.1 509.9 52.7M521.3 49.5Q521.2 46 523.4 43.3Q526.8 44.8 526.9 48.6Q531.8 52.9 537.9 50.6Q540.8 48.5 544.3 49.3M507.4 43.6Q511.3 42.9 514.8 40.7Q521.8 42.3 526.8 37.2Q523.8 30.8 523.7 34.3Q521 37.4 518.9 40.9Q520.6 47.7 524.4 53.7Q524.9 61.6 527.1 61.2M518 46.7Q511.6 44.8 504.9 45Q501.4 46.3 508.6 48.2Q509.9 45 510.8 41.6Q517.8 40.5 523.5 41.2Q525.9 44.1 529.4 45.6Q532.5 39.1 530.6 39.3M535.9 57.3Q533.1 54.1 528.9 54Q523.1 51.2 516.7 51Q511.3 52.8 507.7 57.1Q502.7 55.1 499.5 50.9Q495.8 49.8 506.9 47.7Q501 51.1 511.1 54.7" stroke="#98c6d4" stroke-width="0.9" stroke-linecap="round"/><path d="M500.9 51.2Q499 54.6 509.8 55.1Q516.1 50.2 523.5 53.1Q525.5 50.4 528.7 50.9Q535.6 51.1 541.9 48.6Q546.8 45.9 540.7 45.5Q537.8 46.5 534.8 46.1" stroke="#b2dae4" stroke-width="0.9" stroke-linecap="round"/><path d="M516.5 55Q523.2 49.6 530.6 45.4" stroke="#98c6d4" stroke-width="3.2"/><path d="M516.5 55Q523.2 49.6 530.6 45.4" stroke="#b2dae4" stroke-width="2.2"/><path d="M515.2 49.9Q522.5 45.1 524.3 36.5" stroke="#98c6d4" stroke-width="3.1"/><path d="M515.2 49.9Q522.5 45.1 524.3 36.5" stroke="#b2dae4" stroke-width="2.1"/></g>
<g fill="none" stroke-opacity="0.9"><path d="M508.4 48.9Q514.2 47.2 516 41.4Q520.4 40 522.9 41.3Q515.7 43 516.2 42.7Q513 47.6 513.9 53.4Q513.3 58.1 516.1 56.9Q516.2 53.3 518.3 50.4M516.7 51Q509.7 51.6 506.5 57.9Q501.8 62.7 512.3 61.5Q515.6 59.7 518.8 57.6M507 46.7Q510.2 49.6 512.8 53.1Q518.2 57.4 523.2 62.1Q517.8 67.6 516.2 61.7Q517.9 58.5 521.4 58.1Q525.8 62.4 528.8 59Q522.6 60.8 516.3 61.7" stroke="#98c6d4" stroke-width="0.9" stroke-linecap="round"/><path d="M537.8 60.1Q532.6 61.1 527 58.5Q531.5 56.2 536.4 54.5Q540.5 57.9 534.6 57.9Q530.1 58.4 527.2 54.9Q525 48.8 522.7 42.8M514.9 51.1Q507.7 53.2 513.3 56.2Q515.8 53.4 519.4 52.5Q523.5 53.4 527.3 51.5Q532.5 53.7 535.3 58.5Q539 61.5 532.7 59.6" stroke="#b2dae4" stroke-width="0.9" stroke-linecap="round"/><path d="M540.8 52.9Q547.7 55.5 554.7 53.2" stroke="#98c6d4" stroke-width="2.8"/><path d="M540.8 52.9Q547.7 55.5 554.7 53.2" stroke="#b2dae4" stroke-width="1.8"/><path d="M535.1 64.5Q541.7 58.2 543.5 49.3" stroke="#98c6d4" stroke-width="3.2"/><path d="M535.1 64.5Q541.7 58.2 543.5 49.3" stroke="#b2dae4" stroke-width="2.2"/></g>
<g fill="none" stroke-opacity="0.8"><path d="M518.8 59.6Q517.3 64.6 515.5 69.5Q520.1 74.1 526.5 74.9Q531.2 72.4 534.3 68.2M533.8 78.3Q537.6 71.8 535.7 64.6Q532.4 63 530 60.2Q527.5 58 528 54.6Q521 51.9 515.8 57.4M535.8 73.1Q530.2 75.3 526.7 80.2Q529.3 87.7 533.4 79.7Q526 79.8 522.8 76.1Q528.8 75.6 533.6 79.3M535.2 72.5Q541.6 70.5 538.8 71.8Q533.8 73.2 528.7 71.6Q527.1 75.4 523 76.4Q522 81.2 525.2 78" stroke="#9accba" stroke-width="0.9" stroke-linecap="round"/><path d="M533.7 63.8Q534.8 56.7 539.1 50.9" stroke="#9accba" stroke-width="2.7"/><path d="M533.7 63.8Q534.8 56.7 539.1 50.9" stroke="#b6e0d0" stroke-width="1.7"/><path d="M527.5 83.3Q533.2 79.8 535.1 73.4" stroke="#9accba" stroke-width="2.7"/><path d="M527.5 83.3Q533.2 79.8 535.1 73.4" stroke="#b6e0d0" stroke-width="1.7"/></g>
<g fill="none" stroke-opacity="0.85"><path d="M616.5 64.2Q612.6 64 609.8 66.6Q605.9 69.5 614.4 71Q616.2 65.7 616.4 60.2M624.5 68.3Q629.3 71.7 635.2 71.2Q636.2 76.1 639.6 79.7Q641.1 86.8 640.2 79.5M634.4 57.2Q629.9 59.1 628.7 63.8Q626.7 66.2 626.5 69.3Q630.3 69.8 632.6 66.7Q635 64 638.1 62Q642.3 64.1 646.5 62Q653.2 62.6 645.2 67.4" stroke="#bc96ca" stroke-width="0.9" stroke-linecap="round"/><path d="M614.3 70.8Q617.5 67.5 615.7 63.3Q611.9 58.7 614.8 61.8Q617.2 59.1 618.6 55.9Q622.6 51.7 626.4 54.3Q620.6 52.3 620.4 55.7Q623.3 54.6 626.4 54.7" stroke="#d4b0de" stroke-width="0.9" stroke-linecap="round"/><path d="M625.1 67.1Q624 58.4 626.9 50.2" stroke="#bc96ca" stroke-width="2.4"/><path d="M625.1 67.1Q624 58.4 626.9 50.2" stroke="#d4b0de" stroke-width="1.4"/><path d="M643.8 68.1Q640.9 60.1 643.6 52.1" stroke="#bc96ca" stroke-width="2.5"/><path d="M643.8 68.1Q640.9 60.1 643.6 52.1" stroke="#d4b0de" stroke-width="1.5"/><path d="M643.5 78Q647 70.5 644.8 62.5" stroke="#bc96ca" stroke-width="3.3"/><path d="M643.5 78Q647 70.5 644.8 62.5" stroke="#d4b0de" stroke-width="2.3"/></g>
<g fill="none" stroke-opacity="0.85"><path d="M610.5 37.7Q608.9 34.6 613.6 36.6Q608.1 39.5 601.8 39.7Q597.4 37.4 603.8 39Q603.7 44.9 608.7 47.8Q614.9 47.5 617.7 42M621 44.8Q627.7 45.7 633.7 42.7Q634.5 36.8 627.1 37Q630 38.7 632.8 37" stroke="#9accba" stroke-width="0.9" stroke-linecap="round"/><path d="M624.9 52.4Q626.6 55.8 625.9 52.6Q621 53.4 618.4 52Q624.8 49.4 628.7 43.8M619.9 50.1Q616.8 55.3 619.9 54.3Q620.4 50.7 617.5 48.5Q614.9 46.9 612.1 48.3Q608.5 52.3 613.7 52.5" stroke="#b6e0d0" stroke-width="0.9" stroke-linecap="round"/><path d="M623.2 49.4Q630.7 48.5 637.5 45.1" stroke="#9accba" stroke-width="2.8"/><path d="M623.2 49.4Q630.7 48.5 637.5 45.1" stroke="#b6e0d0" stroke-width="1.8"/><path d="M616.7 42.6Q622.8 42.5 628.8 43.4" stroke="#9accba" stroke-width="2.4"/><path d="M616.7 42.6Q622.8 42.5 628.8 43.4" stroke="#b6e0d0" stroke-width="1.4"/></g>
<g fill="none" stroke-opacity="0.95"><path d="M552 134.2Q555.4 128.2 551.9 122.1Q554.9 120.5 557.4 129.4Q553.4 124.6 547.1 124.2Q546.6 119.5 551 126.2Q549.2 132 543.1 133Q539.8 126.3 547 128.5M569.3 139.1Q573.7 138.6 576.6 142Q583.4 144.5 576.6 142.8Q574.3 136.9 568.4 134.2Q566.9 130.8 564.6 127.8Q560.5 125.6 555.9 124.8M581.6 136.9Q576.5 140.3 570.3 139.7Q567.5 133.8 569.9 127.7Q574.2 123.3 568.6 127.9M569 127.4Q572.7 122.2 569.4 128.7Q567.3 135.2 561 137.8Q555.9 142.6 552.2 148.6Q548.8 154.9 541.7 155.1Q541.2 147.9 544.7 141.6Q545.1 137.5 544.9 133.4" stroke="#babae2" stroke-width="0.9" stroke-linecap="round"/><path d="M583.9 144.3Q586.6 148.5 576.9 147.9Q572.4 149.1 568.1 147.5Q562.9 148.5 558.2 151M549.3 153.2Q547.8 160.5 548.3 157Q546.8 153.9 546.3 150.6Q544.1 143.5 536.8 142.2Q534 135.8 539.5 136.2Q544.8 130.9 547.3 123.8Q552.8 124.3 554.9 129.4" stroke="#d2d2f0" stroke-width="0.9" stroke-linecap="round"/><path d="M554.1 153Q559.5 153.1 564.4 150.9" stroke="#babae2" stroke-width="2.9"/><path d="M554.1 153Q559.5 153.1 564.4 150.9" stroke="#d2d2f0" stroke-width="1.9"/><path d="M541.7 159.5Q544.4 155.7 547.5 152.4" stroke="#babae2" stroke-width="2.5"/><path d="M541.7 159.5Q544.4 155.7 547.5 152.4" stroke="#d2d2f0" stroke-width="1.5"/></g>
<g fill="none" stroke-opacity="0.8"><path d="M494.6 73.6Q493.4 77.2 495.2 80.5Q499 82.6 491.9 82.1Q491 75.9 496.4 72.8Q498.1 67.4 489.1 67.5Q488.1 70.4 485.5 71.8Q479.7 67.5 473.1 70.1M495.7 76.9Q497.5 80.1 491.7 79.9Q488.2 76.8 483.7 77.9Q481.2 74.4 482.5 70.2Q483.4 63.7 480.2 64.7M465.7 70.7Q471.1 71.5 472.3 76.8Q466.8 81.6 469.5 82.5Q471.9 77.1 477.6 76.1Q483.2 75.6 488.7 74.2Q491 78.2 495.6 78.1Q501.4 82.9 494.2 84" stroke="#9accba" stroke-width="0.9" stroke-linecap="round"/><path d="M469.4 78.2Q462.7 77.7 468.1 72.9Q465.7 78.2 468.9 83Q473.7 83 476.6 79.1Q476.7 74.7 476.5 70.4Q478.6 65.5 479.2 60.3Q473.6 57.9 472.9 66.4" stroke="#b6e0d0" stroke-width="0.9" stroke-linecap="round"/><path d="M484.7 71.4Q488 67.1 493.5 67.6" stroke="#9accba" stroke-width="2.7"/><path d="M484.7 71.4Q488 67.1 493.5 67.6" stroke="#b6e0d0" stroke-width="1.7"/><path d="M479.4 90Q484.8 83.7 492.6 80.5" stroke="#9accba" stroke-width="3"/><path d="M479.4 90Q484.8 83.7 492.6 80.5" stroke="#b6e0d0" stroke-width="2"/></g>
<g fill="none" stroke-opacity="0.9"><path d="M538.7 82.8Q538.4 76.3 540.9 75.9Q542.6 82.6 544.2 89.4Q545.8 95 543.6 93.9Q548.2 93.3 549.5 88.8Q555.5 87.2 554.5 84.4Q548.6 81.8 542.5 79.9M546 87.6Q549.9 94 545.9 94.4Q550.1 92.1 554.1 94.8Q555.4 99.1 549.8 95.7Q554 94.5 556.7 91.2" stroke="#c0b6e0" stroke-width="0.9" stroke-linecap="round"/><path d="M555.1 82.7Q562.1 86.2 556.7 90.3Q553.3 87.3 552.8 82.7Q557.4 78.5 551.6 77.5" stroke="#d6ccee" stroke-width="0.9" stroke-linecap="round"/><path d="M547.6 81.4Q552.9 75.6 551.7 67.9" stroke="#c0b6e0" stroke-width="2.8"/><path d="M547.6 81.4Q552.9 75.6 551.7 67.9" stroke="#d6ccee" stroke-width="1.8"/></g>
<g fill="none" stroke-opacity="0.9"><path d="M512.4 94.7Q516.5 93.4 518.9 89.9Q517.6 86.9 516.7 91.7Q520.4 90.2 523.4 87.5Q522.1 82.8 518.7 88.2Q521.5 84 519.4 87.8M541.8 100.7Q535.9 100.7 532.8 95.6Q527.5 96 525 91.3Q526.4 86.9 525.9 90.3Q522.6 86.6 522.1 89Q528.9 93.1 535.8 97M512 108.8Q513.5 102.9 508.9 99Q507.4 93.8 511.5 93.3Q517.7 92.9 523.9 93M539.4 94.9Q538.2 89.6 528.3 91.9Q532.1 93.3 535.3 95.9Q539.8 97.1 544 99.2Q546.5 102.8 536.4 104.2Q530.5 105.4 529.3 111.3Q530.4 117.2 524 113.1M537.2 100.4Q541.5 93.9 537 94Q530 91.1 522.8 91.4Q519.3 95.4 513.9 95" stroke="#c0b6e0" stroke-width="0.9" stroke-linecap="round"/><path d="M515.5 88.3Q514.5 94.8 518.7 99.9Q520.4 102.5 523.5 102.7Q530.1 98.4 537.7 96.5" stroke="#d6ccee" stroke-width="0.9" stroke-linecap="round"/><path d="M529.2 98.2Q534.7 94.6 541.1 96.2" stroke="#c0b6e0" stroke-width="2.4"/><path d="M529.2 98.2Q534.7 94.6 541.1 96.2" stroke="#d6ccee" stroke-width="1.4"/><path d="M518.8 91.2Q524.6 88.8 530.9 89.8" stroke="#c0b6e0" stroke-width="3"/><path d="M518.8 91.2Q524.6 88.8 530.9 89.8" stroke="#d6ccee" stroke-width="2"/></g>
<g fill="none" stroke-linecap="round" stroke-opacity="0.95"><path d="M534.4 151L541.6 151" stroke="#babae2" stroke-width="5.1"/><path d="M534.4 151L541.6 151" stroke="#d2d2f0" stroke-width="3.7"/></g>
<g fill="none" stroke-linecap="round" stroke-opacity="0.85"><path d="M573 122L581 122" stroke="#bc96ca" stroke-width="5.8"/><path d="M573 122L581 122" stroke="#d4b0de" stroke-width="4.4"/></g>
<g fill="none" stroke-linecap="round" stroke-opacity="0.85"><path d="M577.4 154.8L578.6 161.2" stroke="#bc96ca" stroke-width="5.1"/><path d="M577.4 154.8L578.6 161.2" stroke="#d4b0de" stroke-width="3.7"/></g>
<g fill="none" stroke-linecap="round" stroke-opacity="0.95"><path d="M541.4 121L548.6 121" stroke="#babae2" stroke-width="5.1"/><path d="M541.4 121L548.6 121" stroke="#d2d2f0" stroke-width="3.7"/></g></g>
<g id="panelb"><circle cx="481.2" cy="77.9" r="21.1" fill="#7dd1a1" fill-opacity="0.5" stroke="#444" stroke-opacity="0.8" stroke-width="1.1"/>
<text x="481.2" y="83.5" font-size="16.8" font-weight="bold" text-anchor="middle" fill="#000">4</text>
<circle cx="527.9" cy="66.2" r="21.1" fill="#7dd1a1" fill-opacity="0.5" stroke="#444" stroke-opacity="0.8" stroke-width="1.1"/>
<text x="527.9" y="71.8" font-size="16.8" font-weight="bold" text-anchor="middle" fill="#000">3</text>
<circle cx="583.1" cy="57.3" r="21.1" fill="#b591e1" fill-opacity="0.5" stroke="#444" stroke-opacity="0.8" stroke-width="1.1"/>
<text x="583.1" y="62.9" font-size="16.8" font-weight="bold" text-anchor="middle" fill="#000">5</text>
<circle cx="628.6" cy="63.4" r="21.1" fill="#b591e1" fill-opacity="0.5" stroke="#444" stroke-opacity="0.8" stroke-width="1.1"/>
<text x="628.6" y="69" font-size="16.8" font-weight="bold" text-anchor="middle" fill="#000">6</text>
<circle cx="563" cy="97" r="21.1" fill="#a3a3a3" fill-opacity="0.5" stroke="#444" stroke-opacity="0.8" stroke-width="1.1"/>
<text x="563" y="102.6" font-size="16.8" font-weight="bold" text-anchor="middle" fill="#000">2</text>
<circle cx="559.3" cy="141.5" r="21.1" fill="#a3a3a3" fill-opacity="0.5" stroke="#444" stroke-opacity="0.8" stroke-width="1.1"/>
<text x="559.3" y="147.1" font-size="16.8" font-weight="bold" text-anchor="middle" fill="#000">1</text>
<text x="586.6" y="108.6" font-size="11.6" fill="#111">C<tspan font-size="9.3" dy="2">H</tspan><tspan dy="-2">2</tspan></text>
<text x="588" y="147.2" font-size="10.8" fill="#111">C<tspan font-size="6" dy="1">H</tspan><tspan dy="-1">3</tspan></text>
<text x="509.5" y="194.3" font-size="15" fill="#111"><tspan font-weight="bold">3, 5</tspan> : C<tspan font-size="10.2" dy="3">H</tspan><tspan dy="-3">1+ C</tspan><tspan font-size="10.2" dy="3">L</tspan></text>
<text x="509.5" y="216.4" font-size="15" fill="#111"><tspan font-weight="bold">4, 6</tspan> : V<tspan font-size="10.2" dy="3">H</tspan><tspan dy="-3">+ V</tspan><tspan font-size="10.2" dy="3">L</tspan></text></g>
<g id="curves"><path d="M116.6 406.4 L117.9 406.3 L119.2 406.2 L120.5 406.1 L121.8 406.1 L123.1 406 L124.4 405.9 L125.7 405.4 L127 404.5 L128.3 404.4 L129.6 403.6 L130.9 402.5 L132.2 400.1 L133.5 397.5 L134.8 395.1 L136.1 392 L137.4 385.8 L138.7 380.3 L140 376.7 L141.3 369 L142.6 361.2 L143.9 351.2 L145.2 343.6 L146.5 338.2 L147.8 331.9 L149.1 328 L150.4 327.3 L151.7 325.1 L153 326.7 L154.3 329.9 L155.6 334 L156.9 338.6 L158.2 343.9 L159.5 351.1 L160.8 358.2 L162.1 366.3 L163.4 373.9 L164.7 380.9 L166 387.5 L167.3 390 L168.6 392.2 L169.9 394.9 L171.2 396.3 L172.5 395.7 L173.8 396.4 L175.1 395.7 L176.4 395.5 L177.7 394.8 L179 395.6 L180.3 395.2 L181.6 393.6 L182.9 393.1 L184.2 392.9 L185.5 392.1 L186.8 390.8 L188.1 388.4 L189.4 387.4 L190.7 384.9 L192 380.3 L193.3 376.9 L194.6 373.6 L195.9 367.9 L197.2 360.3 L198.5 353.5 L199.8 346.8 L201.1 342 L202.4 337.9 L203.7 332 L205 327.5 L206.3 324.9 L207.6 322 L208.9 318.7 L210.2 315.5 L211.5 313.2 L212.8 310.8 L214.1 309.5 L215.4 311.1 L216.7 312.7 L218 314.4 L219.3 315 L220.6 317.2 L221.9 321.5 L223.2 325.1 L224.5 327.7 L225.8 330.9 L227.1 334 L228.4 338.3 L229.7 340.7 L231 341.5 L232.3 342.4 L233.6 344.3 L234.9 344.4 L236.2 346.2 L237.5 348 L238.8 347.7 L240.1 347.9 L241.4 351.7 L242.7 356.7 L244 361 L245.3 362.6 L246.6 367.4 L247.9 370.7 L249.2 374.1 L250.5 377.6 L251.8 384.9 L253.1 390.2 L254.4 392.8 L255.7 395.3 L257 397.5 L258.3 400.2 L259.6 401.2 L260.9 402.2 L262.2 403.7 L263.5 404.4 L264.8 404.8 L266.1 405.4 L267.4 405.9 L268.7 406.1 L270 406.3 L271.3 406.5 L271.3 406.8 L116.6 406.8 Z" fill="#22a24a" fill-opacity="0.455" stroke="none"/>
<path d="M178.7 406.4 L180 405.8 L181.3 405.6 L182.6 405 L183.9 403.7 L185.2 401.9 L186.5 400.4 L187.8 398 L189.1 395.7 L190.4 391.4 L191.7 387.9 L193 384 L194.3 380 L195.6 374.8 L196.9 371 L198.2 367.2 L199.5 364.9 L200.8 362.5 L202.1 360 L203.4 359.3 L204.7 359.3 L206 359.1 L207.3 358.8 L208.6 358.9 L209.9 360 L211.2 359.9 L212.5 361.3 L213.8 363.9 L215.1 364.8 L216.4 366.5 L217.7 368.5 L219 370.6 L220.3 373.5 L221.6 374.1 L222.9 375.8 L224.2 377.7 L225.5 378 L226.8 377.8 L228.1 380 L229.4 380.6 L230.7 381.2 L232 380.6 L233.3 379.1 L234.6 377.8 L235.9 375.6 L237.2 374.9 L238.5 372.9 L239.8 369.4 L241.1 368.1 L242.4 364.8 L243.7 361.1 L245 357.9 L246.3 353 L247.6 348 L248.9 341.3 L250.2 336.1 L251.5 328.7 L252.8 323.3 L254.1 316.8 L255.4 309.6 L256.7 303.9 L258 298.8 L259.3 292.5 L260.6 287.7 L261.9 284.8 L263.2 282.6 L264.5 281.3 L265.8 281.7 L267.1 284.5 L268.4 287.9 L269.7 294.3 L271 298.2 L272.3 301.4 L273.6 303.7 L274.9 309.8 L276.2 316.3 L277.5 322.6 L278.8 327.7 L280.1 332.3 L281.4 337.3 L282.7 343.1 L284 349.1 L285.3 353.7 L286.6 357.9 L287.9 364.5 L289.2 369.5 L290.5 375.1 L291.8 378.7 L293.1 384 L294.4 387 L295.7 392.2 L297 394.9 L298.3 396.8 L299.6 399.4 L300.9 400.6 L302.2 402.3 L303.5 403.5 L304.8 404 L306.1 404.9 L307.4 405.4 L308.7 405.7 L310 405.9 L311.3 406.2 L312.6 406.4 L313.9 406.4 L315.2 406.4 L316.5 406.4 L317.8 406.4 L319.1 406.4 L320.4 406.4 L321.7 406.5 L323 406.5 L324.3 406.5 L325.6 406.5 L326.9 406.5 L328.2 406.5 L329.5 406.5 L330.8 406.5 L332.1 406.6 L333.4 406.6 L334.7 406.6 L336 406.6 L336 406.8 L178.7 406.8 Z" fill="#6a1bd6" fill-opacity="0.455" stroke="none"/>
<path d="M404.7 406.8 L405.5 406.4 L406.3 406 L407.1 405.6 L407.9 404.9 L408.7 401.8 L409.5 398.5 L410.3 395.2 L411.1 387.3 L411.9 379 L412.7 370.9 L413.5 359.4 L414.3 347.1 L415.1 335.1 L415.9 325.9 L416.7 316.1 L417.5 311 L418.3 309 L419.1 311.8 L419.9 319.3 L420.7 332.2 L421.5 345 L422.3 357.8 L423.1 371 L423.9 381 L424.7 390.7 L425.5 397.4 L426.3 400.7 L427.1 404 L427.9 404.9 L428.7 405.4 L429.5 405.9 L430.3 406.3 L431.1 406.7 L431.1 406.8 L404.7 406.8 Z" fill="#6a1bd6" fill-opacity="0.455" stroke="none"/>
<path d="M521.8 406.8 L523.1 406.6 L524.4 406.4 L525.7 406.2 L527 406 L528.3 405.8 L529.6 405.4 L530.9 404.6 L532.2 403.8 L533.5 403.4 L534.8 401.8 L536.1 400 L537.4 398.4 L538.7 397.1 L540 394.8 L541.3 392.5 L542.6 389.7 L543.9 387.8 L545.2 385.8 L546.5 383.9 L547.8 383.1 L549.1 383.9 L550.4 384.5 L551.7 383.5 L553 386.9 L554.3 390.3 L555.6 391.7 L556.9 393.6 L558.2 395.6 L559.5 396.1 L560.8 396.6 L562.1 396.8 L563.4 395.2 L564.7 394.8 L566 393.1 L567.3 389.9 L568.6 386.5 L569.9 381.3 L571.2 373.8 L572.5 368.1 L573.8 359.6 L575.1 350.5 L576.4 341.4 L577.7 332.8 L579 322.8 L580.3 314.1 L581.6 306.2 L582.9 298 L584.2 291.5 L585.5 287.2 L586.8 286.6 L588.1 284.1 L589.4 281 L590.7 284.7 L592 287.6 L593.3 294.1 L594.6 301.6 L595.9 309.8 L597.2 318.8 L598.5 327.6 L599.8 336.9 L601.1 347.4 L602.4 355 L603.7 363.1 L605 370.6 L606.3 377.9 L607.6 383.4 L608.9 389.6 L610.2 393.5 L611.5 396.1 L612.8 399.3 L614.1 401.2 L615.4 402.4 L616.7 403.9 L618 404.9 L619.3 405.9 L620.6 406.4 L621.9 406.6 L623.2 406.7 L623.2 406.8 L521.8 406.8 Z" fill="#22a24a" fill-opacity="0.455" stroke="none"/>
<path d="M146.7 600.3 L148 600 L149.3 599.8 L150.6 599.5 L151.9 599.3 L153.2 599 L154.5 598.9 L155.8 598.7 L157.1 597.9 L158.4 597 L159.7 596 L161 595.7 L162.3 594.4 L163.6 593.3 L164.9 591.7 L166.2 590.7 L167.5 587.9 L168.8 586.2 L170.1 583.9 L171.4 580.3 L172.7 575.7 L174 571.2 L175.3 565.4 L176.6 560.8 L177.9 556 L179.2 549.9 L180.5 545.6 L181.8 540.2 L183.1 536.9 L184.4 532.6 L185.7 529.1 L187 529 L188.3 527.7 L189.6 525.6 L190.9 523.4 L192.2 521.8 L193.5 524.5 L194.8 526.1 L196.1 528 L197.4 527.7 L198.7 527.3 L200 528.3 L201.3 527.2 L202.6 527.5 L203.9 527.6 L205.2 528.2 L206.5 529.7 L207.8 529.5 L209.1 528.4 L210.4 527.4 L211.7 524.5 L213 523.8 L214.3 522.9 L215.6 522.8 L216.9 523.8 L218.2 523.1 L219.5 523.9 L220.8 522.8 L222.1 521.6 L223.4 523.3 L224.7 524.7 L226 526.5 L227.3 528.5 L228.6 529.2 L229.9 530.6 L231.2 530.8 L232.5 529.4 L233.8 527.4 L235.1 530.5 L236.4 531.1 L237.7 533.4 L239 535.8 L240.3 536.2 L241.6 536.6 L242.9 538.1 L244.2 539.8 L245.5 541.1 L246.8 542.6 L248.1 540.6 L249.4 540.8 L250.7 542.6 L252 543.3 L253.3 545.3 L254.6 543.6 L255.9 544.4 L257.2 544.5 L258.5 545.4 L259.8 547.1 L261.1 547.4 L262.4 548.9 L263.7 549.7 L265 548.7 L266.3 547.8 L267.6 547.3 L268.9 549.8 L270.2 552.3 L271.5 552.8 L272.8 548.8 L274.1 547.7 L275.4 550.3 L276.7 551.5 L278 552 L279.3 551.7 L280.6 552.1 L281.9 552.9 L283.2 554.4 L284.5 556.5 L285.8 557 L287.1 555.4 L288.4 555.2 L289.7 555.6 L291 554.7 L292.3 555 L293.6 558.9 L294.9 562.3 L296.2 563.8 L297.5 565.1 L298.8 565.8 L300.1 568.8 L301.4 570.6 L302.7 573.8 L304 576.9 L305.3 579.3 L306.6 581.1 L307.9 584 L309.2 586.3 L310.5 588.7 L311.8 590.5 L313.1 592.5 L314.4 594 L315.7 594.6 L317 595.5 L318.3 596.9 L319.6 597.3 L320.9 597.9 L322.2 599 L323.5 599.3 L324.8 599.9 L326.1 600 L327.4 600.2 L328.7 600.4 L330 600.5 L331.3 600.5 L332.6 600.4 L333.9 600.4 L335.2 600.3 L335.2 600.4 L146.7 600.4 Z" fill="#22a24a" fill-opacity="0.455" stroke="none"/>
<path d="M116.6 600.3 L117.9 600.2 L119.2 600.1 L120.5 600 L121.8 599.8 L123.1 599.7 L124.4 599.6 L125.7 599.4 L127 599.1 L128.3 598.9 L129.6 598.7 L130.9 598.5 L132.2 598.3 L133.5 597.2 L134.8 596.6 L136.1 594.6 L137.4 594.3 L138.7 594.1 L140 592.3 L141.3 590.8 L142.6 587.5 L143.9 586.2 L145.2 583.3 L146.5 581.3 L147.8 578.8 L149.1 574.7 L150.4 572.6 L151.7 570.4 L153 570.9 L154.3 569.2 L155.6 566.2 L156.9 565.8 L158.2 560.7 L159.5 558.8 L160.8 554.2 L162.1 551.1 L163.4 550.9 L164.7 546.4 L166 543.9 L167.3 544 L168.6 541.8 L169.9 538.2 L171.2 537.7 L172.5 532.6 L173.8 529.1 L175.1 523.9 L176.4 521.7 L177.7 516.4 L179 512.7 L180.3 507.9 L181.6 501.7 L182.9 497.3 L184.2 492.2 L185.5 487.6 L186.8 483.5 L188.1 480.3 L189.4 477.9 L190.7 474.9 L192 475.9 L193.3 474.8 L194.6 474.5 L195.9 477.8 L197.2 482.8 L198.5 488.4 L199.8 494 L201.1 499.8 L202.4 503.4 L203.7 512.1 L205 515.5 L206.3 524.3 L207.6 532.4 L208.9 537.8 L210.2 546.7 L211.5 551.6 L212.8 558.3 L214.1 563.5 L215.4 570.5 L216.7 577.8 L218 583.5 L219.3 585.8 L220.6 590.2 L221.9 592.2 L223.2 593.9 L224.5 594.5 L225.8 595.5 L227.1 596.6 L228.4 597.9 L229.7 597.7 L231 598.9 L232.3 599 L233.6 599.4 L234.9 599.8 L236.2 599.9 L237.5 600 L238.8 600 L240.1 600.1 L241.4 600.2 L242.7 600.2 L242.7 600.4 L116.6 600.4 Z" fill="#6a1bd6" fill-opacity="0.455" stroke="none"/>
<path d="M405 600.3 L406.3 599.7 L407.6 599.1 L408.9 598.4 L410.2 596.2 L411.5 594.1 L412.8 588.8 L414.1 582.7 L415.4 572.2 L416.7 560.1 L418 545.6 L419.3 529.4 L420.6 516.9 L421.9 504.2 L423.2 496.9 L424.5 493.6 L425.8 496.5 L427.1 501.9 L428.4 511.8 L429.7 522.7 L431 533.5 L432.3 543.4 L433.6 553.3 L434.9 563.2 L436.2 570.6 L437.5 579.5 L438.8 585.5 L440.1 590.6 L441.4 594.1 L442.7 596.4 L444 598.6 L445.3 599.1 L446.6 599.7 L447.9 600.3 L449.2 600.3 L450.5 600.3 L450.5 600.4 L405 600.4 Z" fill="#6a1bd6" fill-opacity="0.455" stroke="none"/>
<path d="M541.9 600.3 L543.2 600.2 L544.5 600 L545.8 599.9 L547.1 599.7 L548.4 599.6 L549.7 599 L551 598.2 L552.3 598 L553.6 596 L554.9 595.3 L556.2 593.3 L557.5 591.6 L558.8 589.9 L560.1 586.3 L561.4 584.2 L562.7 581.2 L564 577.9 L565.3 575 L566.6 575 L567.9 576.6 L569.2 574.2 L570.5 573.6 L571.8 573 L573.1 573.3 L574.4 572.5 L575.7 570.8 L577 564.5 L578.3 556.2 L579.6 548.1 L580.9 540.9 L582.2 530.4 L583.5 521.3 L584.8 510.4 L586.1 500.6 L587.4 489.6 L588.7 480.9 L590 475.7 L591.3 475.8 L592.6 476.7 L593.9 478 L595.2 483.2 L596.5 488.9 L597.8 497.2 L599.1 510.3 L600.4 521.8 L601.7 535 L603 546 L604.3 557.9 L605.6 568.6 L606.9 577.2 L608.2 584.5 L609.5 590.8 L610.8 592.7 L612.1 595.8 L613.4 596.1 L614.7 597.6 L616 598.5 L617.3 598.9 L618.6 599.4 L619.9 599.9 L621.2 600.3 L622.5 600.4 L623.8 600.5 L623.8 600.4 L541.9 600.4 Z" fill="#22a24a" fill-opacity="0.455" stroke="none"/>
<path d="M116.6 793.7 L117.9 793.7 L119.2 793.6 L120.5 793.6 L121.8 793.6 L123.1 793.5 L124.4 793.5 L125.7 793.5 L127 793.5 L128.3 793.2 L129.6 793 L130.9 792.7 L132.2 792.5 L133.5 792.1 L134.8 791.2 L136.1 790.2 L137.4 789.9 L138.7 788.2 L140 787.3 L141.3 786.3 L142.6 784.3 L143.9 783 L145.2 781.1 L146.5 778.5 L147.8 776.9 L149.1 774.4 L150.4 771 L151.7 768.6 L153 765.9 L154.3 764.3 L155.6 761.9 L156.9 759.6 L158.2 757.2 L159.5 755.1 L160.8 755.1 L162.1 754.4 L163.4 756.1 L164.7 750.8 L166 748 L167.3 749.9 L168.6 749.3 L169.9 745.8 L171.2 744.6 L172.5 745.7 L173.8 745.9 L175.1 745.4 L176.4 745 L177.7 742 L179 744.5 L180.3 747.8 L181.6 746.5 L182.9 746.1 L184.2 745.5 L185.5 745.3 L186.8 746.3 L188.1 745 L189.4 741.4 L190.7 740.4 L192 738.3 L193.3 738.6 L194.6 739.8 L195.9 738.1 L197.2 736.5 L198.5 735.3 L199.8 735 L201.1 733.3 L202.4 733.8 L203.7 734.8 L205 735.4 L206.3 733.5 L207.6 732.4 L208.9 732.7 L210.2 732.5 L211.5 734 L212.8 732.3 L214.1 731.5 L215.4 730.5 L216.7 729.6 L218 731.2 L219.3 731.6 L220.6 729.7 L221.9 728.8 L223.2 729.2 L224.5 728.7 L225.8 726.8 L227.1 728.7 L228.4 731.1 L229.7 727.4 L231 723.7 L232.3 718.4 L233.6 719 L234.9 719.9 L236.2 720.2 L237.5 720.9 L238.8 720.2 L240.1 720.5 L241.4 719.9 L242.7 717.9 L244 717.3 L245.3 717.8 L246.6 719.4 L247.9 718.6 L249.2 717.2 L250.5 718.1 L251.8 718.7 L253.1 720.5 L254.4 721.1 L255.7 719.1 L257 716.4 L258.3 713.5 L259.6 713.6 L260.9 714.5 L262.2 717.4 L263.5 716.7 L264.8 717.8 L266.1 717.6 L267.4 716.4 L268.7 715.9 L270 714.3 L271.3 714.7 L272.6 718.7 L273.9 722.4 L275.2 725.8 L276.5 727 L277.8 730.2 L279.1 735.8 L280.4 739.8 L281.7 744.8 L283 748.3 L284.3 753.7 L285.6 756.4 L286.9 759.5 L288.2 764.5 L289.5 767.5 L290.8 773 L292.1 777 L293.4 779.1 L294.7 781 L296 783.2 L297.3 784.8 L298.6 786.4 L299.9 788 L301.2 789.3 L302.5 789.6 L303.8 790.2 L305.1 791.3 L306.4 791.8 L307.7 792 L309 792.5 L310.3 792.8 L311.6 793 L312.9 793.3 L314.2 793.5 L315.5 793.5 L316.8 793.6 L318.1 793.7 L318.1 793.8 L116.6 793.8 Z" fill="#22a24a" fill-opacity="0.455" stroke="none"/>
<path d="M199.7 793.7 L201 793.6 L202.3 793.6 L203.6 793.5 L204.9 793.4 L206.2 793.4 L207.5 793.3 L208.8 793.2 L210.1 793 L211.4 792.7 L212.7 792.4 L214 792.2 L215.3 791.8 L216.6 791.6 L217.9 790.2 L219.2 789.9 L220.5 788.8 L221.8 787.6 L223.1 785.7 L224.4 784.6 L225.7 782.7 L227 780.9 L228.3 779.5 L229.6 776.2 L230.9 770.7 L232.2 768.5 L233.5 763.6 L234.8 758.7 L236.1 753.2 L237.4 749 L238.7 743.1 L240 737.7 L241.3 731.5 L242.6 724.1 L243.9 719.7 L245.2 714.1 L246.5 708 L247.8 701.1 L249.1 693.6 L250.4 688.4 L251.7 684 L253 681.2 L254.3 676.5 L255.6 673.7 L256.9 672.1 L258.2 668.4 L259.5 667.9 L260.8 668.8 L262.1 668.7 L263.4 670.4 L264.7 673.1 L266 674.6 L267.3 678.8 L268.6 683.6 L269.9 687 L271.2 692.5 L272.5 697.6 L273.8 701.8 L275.1 708 L276.4 714.6 L277.7 716.8 L279 721.2 L280.3 723.3 L281.6 726.5 L282.9 728.4 L284.2 733.5 L285.5 735.3 L286.8 738.2 L288.1 742.4 L289.4 745.4 L290.7 746.2 L292 748.4 L293.3 750.3 L294.6 753.4 L295.9 757.3 L297.2 758.7 L298.5 760.3 L299.8 762.9 L301.1 764.4 L302.4 768.2 L303.7 771.2 L305 773.4 L306.3 775 L307.6 777 L308.9 779.4 L310.2 780.3 L311.5 783.1 L312.8 784.2 L314.1 785.6 L315.4 786.5 L316.7 788.1 L318 789.5 L319.3 790.1 L320.6 791.3 L321.9 791.7 L323.2 791.9 L324.5 792.5 L325.8 792.7 L327.1 793 L328.4 793.3 L329.7 793.5 L331 793.5 L332.3 793.5 L333.6 793.5 L334.9 793.5 L334.9 793.8 L199.7 793.8 Z" fill="#6a1bd6" fill-opacity="0.455" stroke="none"/>
<path d="M405 793.7 L406.3 793.6 L407.6 793.6 L408.9 793.5 L410.2 793.4 L411.5 793.4 L412.8 793.3 L414.1 793.3 L415.4 793.2 L416.7 792.8 L418 792.4 L419.3 792 L420.6 791.8 L421.9 791.6 L423.2 790.5 L424.5 789.9 L425.8 789.3 L427.1 787.4 L428.4 786.2 L429.7 784.8 L431 783.4 L432.3 779.3 L433.6 776.7 L434.9 773.3 L436.2 771.7 L437.5 767.9 L438.8 762.7 L440.1 761.5 L441.4 757.3 L442.7 752 L444 747.3 L445.3 741.6 L446.6 737.3 L447.9 734.6 L449.2 729.6 L450.5 725.8 L451.8 720.8 L453.1 715 L454.4 711.2 L455.7 706.8 L457 703.5 L458.3 698.8 L459.6 695.6 L460.9 691.8 L462.2 688.1 L463.5 683.3 L464.8 678.5 L466.1 678.3 L467.4 676.3 L468.7 674.5 L470 675.2 L471.3 675.2 L472.6 675.8 L473.9 676.2 L475.2 676.6 L476.5 680 L477.8 680.4 L479.1 682.5 L480.4 683.3 L481.7 690.7 L483 696.4 L484.3 699.5 L485.6 705.2 L486.9 712.3 L488.2 717.2 L489.5 724.6 L490.8 728.9 L492.1 733.3 L493.4 739.9 L494.7 745.4 L496 749.4 L497.3 754.1 L498.6 757.4 L499.9 761 L501.2 762.6 L502.5 763.2 L503.8 765.6 L505.1 767.5 L506.4 769.6 L507.7 773 L509 772.6 L510.3 774.2 L511.6 774.9 L512.9 775.2 L514.2 777.2 L515.5 777.2 L516.8 779.5 L518.1 779.8 L519.4 781.9 L520.7 783.2 L522 784.7 L523.3 786.6 L524.6 787.3 L525.9 787.6 L527.2 789.1 L528.5 788.9 L529.8 789.8 L531.1 790.9 L532.4 791.2 L533.7 790.9 L535 792.2 L536.3 791.8 L537.6 792.4 L538.9 792.7 L540.2 792.9 L541.5 793 L542.8 793.2 L544.1 793.3 L545.4 793.5 L546.7 793.6 L548 793.7 L549.3 793.7 L550.6 793.7 L551.9 793.7 L553.2 793.7 L553.2 793.8 L405 793.8 Z" fill="#22a24a" fill-opacity="0.455" stroke="none"/>
<path d="M449.6 793.7 L450.9 793.7 L452.2 793.6 L453.5 793.6 L454.8 793.5 L456.1 793.5 L457.4 793.5 L458.7 793.4 L460 793.4 L461.3 793.4 L462.6 793.3 L463.9 793.3 L465.2 793.2 L466.5 793.2 L467.8 793.1 L469.1 793 L470.4 792.9 L471.7 792.8 L473 792.7 L474.3 792.6 L475.6 792.5 L476.9 792.3 L478.2 792.2 L479.5 792.2 L480.8 791.9 L482.1 791.1 L483.4 790.6 L484.7 790.8 L486 790.4 L487.3 790.8 L488.6 790.3 L489.9 789.6 L491.2 789.1 L492.5 788.7 L493.8 787.5 L495.1 787.3 L496.4 786.3 L497.7 786.7 L499 784.8 L500.3 785.3 L501.6 783.2 L502.9 783.4 L504.2 782 L505.5 780.9 L506.8 780.1 L508.1 776.8 L509.4 775.2 L510.7 774.2 L512 769.7 L513.3 765.1 L514.6 764.1 L515.9 760.5 L517.2 754.6 L518.5 751.1 L519.8 746 L521.1 742.5 L522.4 739.9 L523.7 735.1 L525 732.7 L526.3 726.5 L527.6 722.5 L528.9 720 L530.2 714.5 L531.5 710.2 L532.8 705.5 L534.1 700 L535.4 694.7 L536.7 689.8 L538 687.7 L539.3 684.9 L540.6 681.7 L541.9 679 L543.2 677.7 L544.5 677.3 L545.8 676.3 L547.1 673.6 L548.4 669.4 L549.7 668.6 L551 668 L552.3 670.6 L553.6 676.8 L554.9 679.5 L556.2 676.2 L557.5 678.6 L558.8 681 L560.1 684.7 L561.4 687.8 L562.7 692.8 L564 697 L565.3 702.7 L566.6 705.6 L567.9 711.6 L569.2 713.6 L570.5 718.1 L571.8 719.6 L573.1 724.6 L574.4 729.1 L575.7 734.3 L577 736.9 L578.3 742.4 L579.6 746.1 L580.9 750.6 L582.2 755.5 L583.5 760.3 L584.8 762.2 L586.1 766.8 L587.4 767.8 L588.7 772.4 L590 773.6 L591.3 775.8 L592.6 779.3 L593.9 781.2 L595.2 781.1 L596.5 783.2 L597.8 785.3 L599.1 785.7 L600.4 786.6 L601.7 787.3 L603 788.4 L604.3 789.8 L605.6 790.8 L606.9 791.4 L608.2 791.3 L609.5 791.4 L610.8 792.3 L612.1 792.5 L613.4 792.8 L614.7 793 L616 793.2 L617.3 793.4 L618.6 793.5 L619.9 793.5 L621.2 793.6 L622.5 793.6 L623.8 793.7 L623.8 793.8 L449.6 793.8 Z" fill="#6a1bd6" fill-opacity="0.455" stroke="none"/>
<path d="M116.6 406.4 L117.9 406.3 L119.2 406.2 L120.5 406.1 L121.8 406.1 L123.1 406 L124.4 405.9 L125.7 405.4 L127 404.5 L128.3 404.4 L129.6 403.6 L130.9 402.5 L132.2 400.1 L133.5 397.5 L134.8 395.1 L136.1 392 L137.4 385.8 L138.7 380.3 L140 376.7 L141.3 369 L142.6 361.2 L143.9 351.2 L145.2 343.6 L146.5 338.2 L147.8 331.9 L149.1 328 L150.4 327.3 L151.7 325.1 L153 326.7 L154.3 329.9 L155.6 334 L156.9 338.6 L158.2 343.9 L159.5 351.1 L160.8 358.2 L162.1 366.3 L163.4 373.9 L164.7 380.9 L166 387.5 L167.3 390 L168.6 392.2 L169.9 394.9 L171.2 396.3 L172.5 395.7 L173.8 396.4 L175.1 395.7 L176.4 395.5 L177.7 394.8 L179 395.6 L180.3 395.2 L181.6 393.6 L182.9 393.1 L184.2 392.9 L185.5 392.1 L186.8 390.8 L188.1 388.4 L189.4 387.4 L190.7 384.9 L192 380.3 L193.3 376.9 L194.6 373.6 L195.9 367.9 L197.2 360.3 L198.5 353.5 L199.8 346.8 L201.1 342 L202.4 337.9 L203.7 332 L205 327.5 L206.3 324.9 L207.6 322 L208.9 318.7 L210.2 315.5 L211.5 313.2 L212.8 310.8 L214.1 309.5 L215.4 311.1 L216.7 312.7 L218 314.4 L219.3 315 L220.6 317.2 L221.9 321.5 L223.2 325.1 L224.5 327.7 L225.8 330.9 L227.1 334 L228.4 338.3 L229.7 340.7 L231 341.5 L232.3 342.4 L233.6 344.3 L234.9 344.4 L236.2 346.2 L237.5 348 L238.8 347.7 L240.1 347.9 L241.4 351.7 L242.7 356.7 L244 361 L245.3 362.6 L246.6 367.4 L247.9 370.7 L249.2 374.1 L250.5 377.6 L251.8 384.9 L253.1 390.2 L254.4 392.8 L255.7 395.3 L257 397.5 L258.3 400.2 L259.6 401.2 L260.9 402.2 L262.2 403.7 L263.5 404.4 L264.8 404.8 L266.1 405.4 L267.4 405.9 L268.7 406.1 L270 406.3 L271.3 406.5" fill="none" stroke="#159a3c" stroke-width="2.5" stroke-linejoin="round" stroke-linecap="round"/>
<path d="M178.7 406.4 L180 405.8 L181.3 405.6 L182.6 405 L183.9 403.7 L185.2 401.9 L186.5 400.4 L187.8 398 L189.1 395.7 L190.4 391.4 L191.7 387.9 L193 384 L194.3 380 L195.6 374.8 L196.9 371 L198.2 367.2 L199.5 364.9 L200.8 362.5 L202.1 360 L203.4 359.3 L204.7 359.3 L206 359.1 L207.3 358.8 L208.6 358.9 L209.9 360 L211.2 359.9 L212.5 361.3 L213.8 363.9 L215.1 364.8 L216.4 366.5 L217.7 368.5 L219 370.6 L220.3 373.5 L221.6 374.1 L222.9 375.8 L224.2 377.7 L225.5 378 L226.8 377.8 L228.1 380 L229.4 380.6 L230.7 381.2 L232 380.6 L233.3 379.1 L234.6 377.8 L235.9 375.6 L237.2 374.9 L238.5 372.9 L239.8 369.4 L241.1 368.1 L242.4 364.8 L243.7 361.1 L245 357.9 L246.3 353 L247.6 348 L248.9 341.3 L250.2 336.1 L251.5 328.7 L252.8 323.3 L254.1 316.8 L255.4 309.6 L256.7 303.9 L258 298.8 L259.3 292.5 L260.6 287.7 L261.9 284.8 L263.2 282.6 L264.5 281.3 L265.8 281.7 L267.1 284.5 L268.4 287.9 L269.7 294.3 L271 298.2 L272.3 301.4 L273.6 303.7 L274.9 309.8 L276.2 316.3 L277.5 322.6 L278.8 327.7 L280.1 332.3 L281.4 337.3 L282.7 343.1 L284 349.1 L285.3 353.7 L286.6 357.9 L287.9 364.5 L289.2 369.5 L290.5 375.1 L291.8 378.7 L293.1 384 L294.4 387 L295.7 392.2 L297 394.9 L298.3 396.8 L299.6 399.4 L300.9 400.6 L302.2 402.3 L303.5 403.5 L304.8 404 L306.1 404.9 L307.4 405.4 L308.7 405.7 L310 405.9 L311.3 406.2 L312.6 406.4 L313.9 406.4 L315.2 406.4 L316.5 406.4 L317.8 406.4 L319.1 406.4 L320.4 406.4 L321.7 406.5 L323 406.5 L324.3 406.5 L325.6 406.5 L326.9 406.5 L328.2 406.5 L329.5 406.5 L330.8 406.5 L332.1 406.6 L333.4 406.6 L334.7 406.6 L336 406.6" fill="none" stroke="#5b0bd3" stroke-width="2.5" stroke-linejoin="round" stroke-linecap="round"/>
<path d="M404.7 406.8 L405.5 406.4 L406.3 406 L407.1 405.6 L407.9 404.9 L408.7 401.8 L409.5 398.5 L410.3 395.2 L411.1 387.3 L411.9 379 L412.7 370.9 L413.5 359.4 L414.3 347.1 L415.1 335.1 L415.9 325.9 L416.7 316.1 L417.5 311 L418.3 309 L419.1 311.8 L419.9 319.3 L420.7 332.2 L421.5 345 L422.3 357.8 L423.1 371 L423.9 381 L424.7 390.7 L425.5 397.4 L426.3 400.7 L427.1 404 L427.9 404.9 L428.7 405.4 L429.5 405.9 L430.3 406.3 L431.1 406.7" fill="none" stroke="#5b0bd3" stroke-width="2.5" stroke-linejoin="round" stroke-linecap="round"/>
<path d="M521.8 406.8 L523.1 406.6 L524.4 406.4 L525.7 406.2 L527 406 L528.3 405.8 L529.6 405.4 L530.9 404.6 L532.2 403.8 L533.5 403.4 L534.8 401.8 L536.1 400 L537.4 398.4 L538.7 397.1 L540 394.8 L541.3 392.5 L542.6 389.7 L543.9 387.8 L545.2 385.8 L546.5 383.9 L547.8 383.1 L549.1 383.9 L550.4 384.5 L551.7 383.5 L553 386.9 L554.3 390.3 L555.6 391.7 L556.9 393.6 L558.2 395.6 L559.5 396.1 L560.8 396.6 L562.1 396.8 L563.4 395.2 L564.7 394.8 L566 393.1 L567.3 389.9 L568.6 386.5 L569.9 381.3 L571.2 373.8 L572.5 368.1 L573.8 359.6 L575.1 350.5 L576.4 341.4 L577.7 332.8 L579 322.8 L580.3 314.1 L581.6 306.2 L582.9 298 L584.2 291.5 L585.5 287.2 L586.8 286.6 L588.1 284.1 L589.4 281 L590.7 284.7 L592 287.6 L593.3 294.1 L594.6 301.6 L595.9 309.8 L597.2 318.8 L598.5 327.6 L599.8 336.9 L601.1 347.4 L602.4 355 L603.7 363.1 L605 370.6 L606.3 377.9 L607.6 383.4 L608.9 389.6 L610.2 393.5 L611.5 396.1 L612.8 399.3 L614.1 401.2 L615.4 402.4 L616.7 403.9 L618 404.9 L619.3 405.9 L620.6 406.4 L621.9 406.6 L623.2 406.7" fill="none" stroke="#159a3c" stroke-width="2.5" stroke-linejoin="round" stroke-linecap="round"/>
<path d="M146.7 600.3 L148 600 L149.3 599.8 L150.6 599.5 L151.9 599.3 L153.2 599 L154.5 598.9 L155.8 598.7 L157.1 597.9 L158.4 597 L159.7 596 L161 595.7 L162.3 594.4 L163.6 593.3 L164.9 591.7 L166.2 590.7 L167.5 587.9 L168.8 586.2 L170.1 583.9 L171.4 580.3 L172.7 575.7 L174 571.2 L175.3 565.4 L176.6 560.8 L177.9 556 L179.2 549.9 L180.5 545.6 L181.8 540.2 L183.1 536.9 L184.4 532.6 L185.7 529.1 L187 529 L188.3 527.7 L189.6 525.6 L190.9 523.4 L192.2 521.8 L193.5 524.5 L194.8 526.1 L196.1 528 L197.4 527.7 L198.7 527.3 L200 528.3 L201.3 527.2 L202.6 527.5 L203.9 527.6 L205.2 528.2 L206.5 529.7 L207.8 529.5 L209.1 528.4 L210.4 527.4 L211.7 524.5 L213 523.8 L214.3 522.9 L215.6 522.8 L216.9 523.8 L218.2 523.1 L219.5 523.9 L220.8 522.8 L222.1 521.6 L223.4 523.3 L224.7 524.7 L226 526.5 L227.3 528.5 L228.6 529.2 L229.9 530.6 L231.2 530.8 L232.5 529.4 L233.8 527.4 L235.1 530.5 L236.4 531.1 L237.7 533.4 L239 535.8 L240.3 536.2 L241.6 536.6 L242.9 538.1 L244.2 539.8 L245.5 541.1 L246.8 542.6 L248.1 540.6 L249.4 540.8 L250.7 542.6 L252 543.3 L253.3 545.3 L254.6 543.6 L255.9 544.4 L257.2 544.5 L258.5 545.4 L259.8 547.1 L261.1 547.4 L262.4 548.9 L263.7 549.7 L265 548.7 L266.3 547.8 L267.6 547.3 L268.9 549.8 L270.2 552.3 L271.5 552.8 L272.8 548.8 L274.1 547.7 L275.4 550.3 L276.7 551.5 L278 552 L279.3 551.7 L280.6 552.1 L281.9 552.9 L283.2 554.4 L284.5 556.5 L285.8 557 L287.1 555.4 L288.4 555.2 L289.7 555.6 L291 554.7 L292.3 555 L293.6 558.9 L294.9 562.3 L296.2 563.8 L297.5 565.1 L298.8 565.8 L300.1 568.8 L301.4 570.6 L302.7 573.8 L304 576.9 L305.3 579.3 L306.6 581.1 L307.9 584 L309.2 586.3 L310.5 588.7 L311.8 590.5 L313.1 592.5 L314.4 594 L315.7 594.6 L317 595.5 L318.3 596.9 L319.6 597.3 L320.9 597.9 L322.2 599 L323.5 599.3 L324.8 599.9 L326.1 600 L327.4 600.2 L328.7 600.4 L330 600.5 L331.3 600.5 L332.6 600.4 L333.9 600.4 L335.2 600.3" fill="none" stroke="#159a3c" stroke-width="2.5" stroke-linejoin="round" stroke-linecap="round"/>
<path d="M116.6 600.3 L117.9 600.2 L119.2 600.1 L120.5 600 L121.8 599.8 L123.1 599.7 L124.4 599.6 L125.7 599.4 L127 599.1 L128.3 598.9 L129.6 598.7 L130.9 598.5 L132.2 598.3 L133.5 597.2 L134.8 596.6 L136.1 594.6 L137.4 594.3 L138.7 594.1 L140 592.3 L141.3 590.8 L142.6 587.5 L143.9 586.2 L145.2 583.3 L146.5 581.3 L147.8 578.8 L149.1 574.7 L150.4 572.6 L151.7 570.4 L153 570.9 L154.3 569.2 L155.6 566.2 L156.9 565.8 L158.2 560.7 L159.5 558.8 L160.8 554.2 L162.1 551.1 L163.4 550.9 L164.7 546.4 L166 543.9 L167.3 544 L168.6 541.8 L169.9 538.2 L171.2 537.7 L172.5 532.6 L173.8 529.1 L175.1 523.9 L176.4 521.7 L177.7 516.4 L179 512.7 L180.3 507.9 L181.6 501.7 L182.9 497.3 L184.2 492.2 L185.5 487.6 L186.8 483.5 L188.1 480.3 L189.4 477.9 L190.7 474.9 L192 475.9 L193.3 474.8 L194.6 474.5 L195.9 477.8 L197.2 482.8 L198.5 488.4 L199.8 494 L201.1 499.8 L202.4 503.4 L203.7 512.1 L205 515.5 L206.3 524.3 L207.6 532.4 L208.9 537.8 L210.2 546.7 L211.5 551.6 L212.8 558.3 L214.1 563.5 L215.4 570.5 L216.7 577.8 L218 583.5 L219.3 585.8 L220.6 590.2 L221.9 592.2 L223.2 593.9 L224.5 594.5 L225.8 595.5 L227.1 596.6 L228.4 597.9 L229.7 597.7 L231 598.9 L232.3 599 L233.6 599.4 L234.9 599.8 L236.2 599.9 L237.5 600 L238.8 600 L240.1 600.1 L241.4 600.2 L242.7 600.2" fill="none" stroke="#5b0bd3" stroke-width="2.5" stroke-linejoin="round" stroke-linecap="round"/>
<path d="M405 600.3 L406.3 599.7 L407.6 599.1 L408.9 598.4 L410.2 596.2 L411.5 594.1 L412.8 588.8 L414.1 582.7 L415.4 572.2 L416.7 560.1 L418 545.6 L419.3 529.4 L420.6 516.9 L421.9 504.2 L423.2 496.9 L424.5 493.6 L425.8 496.5 L427.1 501.9 L428.4 511.8 L429.7 522.7 L431 533.5 L432.3 543.4 L433.6 553.3 L434.9 563.2 L436.2 570.6 L437.5 579.5 L438.8 585.5 L440.1 590.6 L441.4 594.1 L442.7 596.4 L444 598.6 L445.3 599.1 L446.6 599.7 L447.9 600.3 L449.2 600.3 L450.5 600.3" fill="none" stroke="#5b0bd3" stroke-width="2.5" stroke-linejoin="round" stroke-linecap="round"/>
<path d="M541.9 600.3 L543.2 600.2 L544.5 600 L545.8 599.9 L547.1 599.7 L548.4 599.6 L549.7 599 L551 598.2 L552.3 598 L553.6 596 L554.9 595.3 L556.2 593.3 L557.5 591.6 L558.8 589.9 L560.1 586.3 L561.4 584.2 L562.7 581.2 L564 577.9 L565.3 575 L566.6 575 L567.9 576.6 L569.2 574.2 L570.5 573.6 L571.8 573 L573.1 573.3 L574.4 572.5 L575.7 570.8 L577 564.5 L578.3 556.2 L579.6 548.1 L580.9 540.9 L582.2 530.4 L583.5 521.3 L584.8 510.4 L586.1 500.6 L587.4 489.6 L588.7 480.9 L590 475.7 L591.3 475.8 L592.6 476.7 L593.9 478 L595.2 483.2 L596.5 488.9 L597.8 497.2 L599.1 510.3 L600.4 521.8 L601.7 535 L603 546 L604.3 557.9 L605.6 568.6 L606.9 577.2 L608.2 584.5 L609.5 590.8 L610.8 592.7 L612.1 595.8 L613.4 596.1 L614.7 597.6 L616 598.5 L617.3 598.9 L618.6 599.4 L619.9 599.9 L621.2 600.3 L622.5 600.4 L623.8 600.5" fill="none" stroke="#159a3c" stroke-width="2.5" stroke-linejoin="round" stroke-linecap="round"/>
<path d="M116.6 793.7 L117.9 793.7 L119.2 793.6 L120.5 793.6 L121.8 793.6 L123.1 793.5 L124.4 793.5 L125.7 793.5 L127 793.5 L128.3 793.2 L129.6 793 L130.9 792.7 L132.2 792.5 L133.5 792.1 L134.8 791.2 L136.1 790.2 L137.4 789.9 L138.7 788.2 L140 787.3 L141.3 786.3 L142.6 784.3 L143.9 783 L145.2 781.1 L146.5 778.5 L147.8 776.9 L149.1 774.4 L150.4 771 L151.7 768.6 L153 765.9 L154.3 764.3 L155.6 761.9 L156.9 759.6 L158.2 757.2 L159.5 755.1 L160.8 755.1 L162.1 754.4 L163.4 756.1 L164.7 750.8 L166 748 L167.3 749.9 L168.6 749.3 L169.9 745.8 L171.2 744.6 L172.5 745.7 L173.8 745.9 L175.1 745.4 L176.4 745 L177.7 742 L179 744.5 L180.3 747.8 L181.6 746.5 L182.9 746.1 L184.2 745.5 L185.5 745.3 L186.8 746.3 L188.1 745 L189.4 741.4 L190.7 740.4 L192 738.3 L193.3 738.6 L194.6 739.8 L195.9 738.1 L197.2 736.5 L198.5 735.3 L199.8 735 L201.1 733.3 L202.4 733.8 L203.7 734.8 L205 735.4 L206.3 733.5 L207.6 732.4 L208.9 732.7 L210.2 732.5 L211.5 734 L212.8 732.3 L214.1 731.5 L215.4 730.5 L216.7 729.6 L218 731.2 L219.3 731.6 L220.6 729.7 L221.9 728.8 L223.2 729.2 L224.5 728.7 L225.8 726.8 L227.1 728.7 L228.4 731.1 L229.7 727.4 L231 723.7 L232.3 718.4 L233.6 719 L234.9 719.9 L236.2 720.2 L237.5 720.9 L238.8 720.2 L240.1 720.5 L241.4 719.9 L242.7 717.9 L244 717.3 L245.3 717.8 L246.6 719.4 L247.9 718.6 L249.2 717.2 L250.5 718.1 L251.8 718.7 L253.1 720.5 L254.4 721.1 L255.7 719.1 L257 716.4 L258.3 713.5 L259.6 713.6 L260.9 714.5 L262.2 717.4 L263.5 716.7 L264.8 717.8 L266.1 717.6 L267.4 716.4 L268.7 715.9 L270 714.3 L271.3 714.7 L272.6 718.7 L273.9 722.4 L275.2 725.8 L276.5 727 L277.8 730.2 L279.1 735.8 L280.4 739.8 L281.7 744.8 L283 748.3 L284.3 753.7 L285.6 756.4 L286.9 759.5 L288.2 764.5 L289.5 767.5 L290.8 773 L292.1 777 L293.4 779.1 L294.7 781 L296 783.2 L297.3 784.8 L298.6 786.4 L299.9 788 L301.2 789.3 L302.5 789.6 L303.8 790.2 L305.1 791.3 L306.4 791.8 L307.7 792 L309 792.5 L310.3 792.8 L311.6 793 L312.9 793.3 L314.2 793.5 L315.5 793.5 L316.8 793.6 L318.1 793.7" fill="none" stroke="#159a3c" stroke-width="2.5" stroke-linejoin="round" stroke-linecap="round"/>
<path d="M199.7 793.7 L201 793.6 L202.3 793.6 L203.6 793.5 L204.9 793.4 L206.2 793.4 L207.5 793.3 L208.8 793.2 L210.1 793 L211.4 792.7 L212.7 792.4 L214 792.2 L215.3 791.8 L216.6 791.6 L217.9 790.2 L219.2 789.9 L220.5 788.8 L221.8 787.6 L223.1 785.7 L224.4 784.6 L225.7 782.7 L227 780.9 L228.3 779.5 L229.6 776.2 L230.9 770.7 L232.2 768.5 L233.5 763.6 L234.8 758.7 L236.1 753.2 L237.4 749 L238.7 743.1 L240 737.7 L241.3 731.5 L242.6 724.1 L243.9 719.7 L245.2 714.1 L246.5 708 L247.8 701.1 L249.1 693.6 L250.4 688.4 L251.7 684 L253 681.2 L254.3 676.5 L255.6 673.7 L256.9 672.1 L258.2 668.4 L259.5 667.9 L260.8 668.8 L262.1 668.7 L263.4 670.4 L264.7 673.1 L266 674.6 L267.3 678.8 L268.6 683.6 L269.9 687 L271.2 692.5 L272.5 697.6 L273.8 701.8 L275.1 708 L276.4 714.6 L277.7 716.8 L279 721.2 L280.3 723.3 L281.6 726.5 L282.9 728.4 L284.2 733.5 L285.5 735.3 L286.8 738.2 L288.1 742.4 L289.4 745.4 L290.7 746.2 L292 748.4 L293.3 750.3 L294.6 753.4 L295.9 757.3 L297.2 758.7 L298.5 760.3 L299.8 762.9 L301.1 764.4 L302.4 768.2 L303.7 771.2 L305 773.4 L306.3 775 L307.6 777 L308.9 779.4 L310.2 780.3 L311.5 783.1 L312.8 784.2 L314.1 785.6 L315.4 786.5 L316.7 788.1 L318 789.5 L319.3 790.1 L320.6 791.3 L321.9 791.7 L323.2 791.9 L324.5 792.5 L325.8 792.7 L327.1 793 L328.4 793.3 L329.7 793.5 L331 793.5 L332.3 793.5 L333.6 793.5 L334.9 793.5" fill="none" stroke="#5b0bd3" stroke-width="2.5" stroke-linejoin="round" stroke-linecap="round"/>
<path d="M405 793.7 L406.3 793.6 L407.6 793.6 L408.9 793.5 L410.2 793.4 L411.5 793.4 L412.8 793.3 L414.1 793.3 L415.4 793.2 L416.7 792.8 L418 792.4 L419.3 792 L420.6 791.8 L421.9 791.6 L423.2 790.5 L424.5 789.9 L425.8 789.3 L427.1 787.4 L428.4 786.2 L429.7 784.8 L431 783.4 L432.3 779.3 L433.6 776.7 L434.9 773.3 L436.2 771.7 L437.5 767.9 L438.8 762.7 L440.1 761.5 L441.4 757.3 L442.7 752 L444 747.3 L445.3 741.6 L446.6 737.3 L447.9 734.6 L449.2 729.6 L450.5 725.8 L451.8 720.8 L453.1 715 L454.4 711.2 L455.7 706.8 L457 703.5 L458.3 698.8 L459.6 695.6 L460.9 691.8 L462.2 688.1 L463.5 683.3 L464.8 678.5 L466.1 678.3 L467.4 676.3 L468.7 674.5 L470 675.2 L471.3 675.2 L472.6 675.8 L473.9 676.2 L475.2 676.6 L476.5 680 L477.8 680.4 L479.1 682.5 L480.4 683.3 L481.7 690.7 L483 696.4 L484.3 699.5 L485.6 705.2 L486.9 712.3 L488.2 717.2 L489.5 724.6 L490.8 728.9 L492.1 733.3 L493.4 739.9 L494.7 745.4 L496 749.4 L497.3 754.1 L498.6 757.4 L499.9 761 L501.2 762.6 L502.5 763.2 L503.8 765.6 L505.1 767.5 L506.4 769.6 L507.7 773 L509 772.6 L510.3 774.2 L511.6 774.9 L512.9 775.2 L514.2 777.2 L515.5 777.2 L516.8 779.5 L518.1 779.8 L519.4 781.9 L520.7 783.2 L522 784.7 L523.3 786.6 L524.6 787.3 L525.9 787.6 L527.2 789.1 L528.5 788.9 L529.8 789.8 L531.1 790.9 L532.4 791.2 L533.7 790.9 L535 792.2 L536.3 791.8 L537.6 792.4 L538.9 792.7 L540.2 792.9 L541.5 793 L542.8 793.2 L544.1 793.3 L545.4 793.5 L546.7 793.6 L548 793.7 L549.3 793.7 L550.6 793.7 L551.9 793.7 L553.2 793.7" fill="none" stroke="#159a3c" stroke-width="2.5" stroke-linejoin="round" stroke-linecap="round"/>
<path d="M449.6 793.7 L450.9 793.7 L452.2 793.6 L453.5 793.6 L454.8 793.5 L456.1 793.5 L457.4 793.5 L458.7 793.4 L460 793.4 L461.3 793.4 L462.6 793.3 L463.9 793.3 L465.2 793.2 L466.5 793.2 L467.8 793.1 L469.1 793 L470.4 792.9 L471.7 792.8 L473 792.7 L474.3 792.6 L475.6 792.5 L476.9 792.3 L478.2 792.2 L479.5 792.2 L480.8 791.9 L482.1 791.1 L483.4 790.6 L484.7 790.8 L486 790.4 L487.3 790.8 L488.6 790.3 L489.9 789.6 L491.2 789.1 L492.5 788.7 L493.8 787.5 L495.1 787.3 L496.4 786.3 L497.7 786.7 L499 784.8 L500.3 785.3 L501.6 783.2 L502.9 783.4 L504.2 782 L505.5 780.9 L506.8 780.1 L508.1 776.8 L509.4 775.2 L510.7 774.2 L512 769.7 L513.3 765.1 L514.6 764.1 L515.9 760.5 L517.2 754.6 L518.5 751.1 L519.8 746 L521.1 742.5 L522.4 739.9 L523.7 735.1 L525 732.7 L526.3 726.5 L527.6 722.5 L528.9 720 L530.2 714.5 L531.5 710.2 L532.8 705.5 L534.1 700 L535.4 694.7 L536.7 689.8 L538 687.7 L539.3 684.9 L540.6 681.7 L541.9 679 L543.2 677.7 L544.5 677.3 L545.8 676.3 L547.1 673.6 L548.4 669.4 L549.7 668.6 L551 668 L552.3 670.6 L553.6 676.8 L554.9 679.5 L556.2 676.2 L557.5 678.6 L558.8 681 L560.1 684.7 L561.4 687.8 L562.7 692.8 L564 697 L565.3 702.7 L566.6 705.6 L567.9 711.6 L569.2 713.6 L570.5 718.1 L571.8 719.6 L573.1 724.6 L574.4 729.1 L575.7 734.3 L577 736.9 L578.3 742.4 L579.6 746.1 L580.9 750.6 L582.2 755.5 L583.5 760.3 L584.8 762.2 L586.1 766.8 L587.4 767.8 L588.7 772.4 L590 773.6 L591.3 775.8 L592.6 779.3 L593.9 781.2 L595.2 781.1 L596.5 783.2 L597.8 785.3 L599.1 785.7 L600.4 786.6 L601.7 787.3 L603 788.4 L604.3 789.8 L605.6 790.8 L606.9 791.4 L608.2 791.3 L609.5 791.4 L610.8 792.3 L612.1 792.5 L613.4 792.8 L614.7 793 L616 793.2 L617.3 793.4 L618.6 793.5 L619.9 793.5 L621.2 793.6 L622.5 793.6 L623.8 793.7" fill="none" stroke="#5b0bd3" stroke-width="2.5" stroke-linejoin="round" stroke-linecap="round"/></g>
<g id="frames"><line x1="116.3" y1="413" x2="116.3" y2="406" stroke="#222" stroke-width="1.1"/>
<text x="116.3" y="427.3" font-size="14.0" text-anchor="middle" fill="#262626">5.5</text>
<line x1="179" y1="413" x2="179" y2="406" stroke="#222" stroke-width="1.1"/>
<text x="179" y="427.3" font-size="14.0" text-anchor="middle" fill="#262626">6.0</text>
<line x1="241.6" y1="413" x2="241.6" y2="406" stroke="#222" stroke-width="1.1"/>
<text x="241.6" y="427.3" font-size="14.0" text-anchor="middle" fill="#262626">6.5</text>
<line x1="304.3" y1="413" x2="304.3" y2="406" stroke="#222" stroke-width="1.1"/>
<text x="304.3" y="427.3" font-size="14.0" text-anchor="middle" fill="#262626">7.0</text>
<line x1="106.2" y1="406.6" x2="113.2" y2="406.6" stroke="#222" stroke-width="1.1"/>
<text x="102" y="411.7" font-size="14.0" text-anchor="end" fill="#262626">0.00</text>
<line x1="106.2" y1="368.9" x2="113.2" y2="368.9" stroke="#222" stroke-width="1.1"/>
<text x="102" y="374" font-size="14.0" text-anchor="end" fill="#262626">0.01</text>
<line x1="106.2" y1="331.1" x2="113.2" y2="331.1" stroke="#222" stroke-width="1.1"/>
<text x="102" y="336.2" font-size="14.0" text-anchor="end" fill="#262626">0.02</text>
<line x1="106.2" y1="293.4" x2="113.2" y2="293.4" stroke="#222" stroke-width="1.1"/>
<text x="102" y="298.5" font-size="14.0" text-anchor="end" fill="#262626">0.03</text>
<rect x="106.2" y="274.7" width="240.2" height="138.3" fill="none" stroke="#222" stroke-width="1.4"/>
<line x1="444.2" y1="413" x2="444.2" y2="406" stroke="#222" stroke-width="1.1"/>
<text x="444.2" y="427.3" font-size="14.0" text-anchor="middle" fill="#262626">4</text>
<line x1="530.5" y1="413" x2="530.5" y2="406" stroke="#222" stroke-width="1.1"/>
<text x="530.5" y="427.3" font-size="14.0" text-anchor="middle" fill="#262626">5</text>
<line x1="616.8" y1="413" x2="616.8" y2="406" stroke="#222" stroke-width="1.1"/>
<text x="616.8" y="427.3" font-size="14.0" text-anchor="middle" fill="#262626">6</text>
<line x1="394.5" y1="406.6" x2="401.5" y2="406.6" stroke="#222" stroke-width="1.1"/>
<text x="390.3" y="411.7" font-size="14.0" text-anchor="end" fill="#262626">0.00</text>
<line x1="394.5" y1="338.6" x2="401.5" y2="338.6" stroke="#222" stroke-width="1.1"/>
<text x="390.3" y="343.7" font-size="14.0" text-anchor="end" fill="#262626">0.02</text>
<rect x="394.5" y="274.7" width="240.6" height="138.3" fill="none" stroke="#222" stroke-width="1.4"/>
<line x1="121.1" y1="606.5" x2="121.1" y2="599.5" stroke="#222" stroke-width="1.1"/>
<text x="121.1" y="620.8" font-size="14.0" text-anchor="middle" fill="#262626">150</text>
<line x1="172.9" y1="606.5" x2="172.9" y2="599.5" stroke="#222" stroke-width="1.1"/>
<text x="172.9" y="620.8" font-size="14.0" text-anchor="middle" fill="#262626">155</text>
<line x1="224.7" y1="606.5" x2="224.7" y2="599.5" stroke="#222" stroke-width="1.1"/>
<text x="224.7" y="620.8" font-size="14.0" text-anchor="middle" fill="#262626">160</text>
<line x1="276.5" y1="606.5" x2="276.5" y2="599.5" stroke="#222" stroke-width="1.1"/>
<text x="276.5" y="620.8" font-size="14.0" text-anchor="middle" fill="#262626">165</text>
<line x1="328.4" y1="606.5" x2="328.4" y2="599.5" stroke="#222" stroke-width="1.1"/>
<text x="328.4" y="620.8" font-size="14.0" text-anchor="middle" fill="#262626">170</text>
<line x1="106.2" y1="600.3" x2="113.2" y2="600.3" stroke="#222" stroke-width="1.1"/>
<text x="102" y="605.4" font-size="14.0" text-anchor="end" fill="#262626">0.00</text>
<line x1="106.2" y1="558.6" x2="113.2" y2="558.6" stroke="#222" stroke-width="1.1"/>
<text x="102" y="563.7" font-size="14.0" text-anchor="end" fill="#262626">0.01</text>
<line x1="106.2" y1="516.9" x2="113.2" y2="516.9" stroke="#222" stroke-width="1.1"/>
<text x="102" y="522" font-size="14.0" text-anchor="end" fill="#262626">0.02</text>
<line x1="106.2" y1="475.2" x2="113.2" y2="475.2" stroke="#222" stroke-width="1.1"/>
<text x="102" y="480.3" font-size="14.0" text-anchor="end" fill="#262626">0.03</text>
<rect x="106.2" y="468.6" width="240.2" height="137.9" fill="none" stroke="#222" stroke-width="1.4"/>
<line x1="417" y1="606.5" x2="417" y2="599.5" stroke="#222" stroke-width="1.1"/>
<text x="417" y="620.8" font-size="14.0" text-anchor="middle" fill="#262626">120</text>
<line x1="469" y1="606.5" x2="469" y2="599.5" stroke="#222" stroke-width="1.1"/>
<text x="469" y="620.8" font-size="14.0" text-anchor="middle" fill="#262626">130</text>
<line x1="521" y1="606.5" x2="521" y2="599.5" stroke="#222" stroke-width="1.1"/>
<text x="521" y="620.8" font-size="14.0" text-anchor="middle" fill="#262626">140</text>
<line x1="573" y1="606.5" x2="573" y2="599.5" stroke="#222" stroke-width="1.1"/>
<text x="573" y="620.8" font-size="14.0" text-anchor="middle" fill="#262626">150</text>
<line x1="625" y1="606.5" x2="625" y2="599.5" stroke="#222" stroke-width="1.1"/>
<text x="625" y="620.8" font-size="14.0" text-anchor="middle" fill="#262626">160</text>
<line x1="394.5" y1="600.3" x2="401.5" y2="600.3" stroke="#222" stroke-width="1.1"/>
<text x="390.3" y="605.4" font-size="14.0" text-anchor="end" fill="#262626">0.00</text>
<line x1="394.5" y1="564.3" x2="401.5" y2="564.3" stroke="#222" stroke-width="1.1"/>
<text x="390.3" y="569.4" font-size="14.0" text-anchor="end" fill="#262626">0.01</text>
<line x1="394.5" y1="528.3" x2="401.5" y2="528.3" stroke="#222" stroke-width="1.1"/>
<text x="390.3" y="533.4" font-size="14.0" text-anchor="end" fill="#262626">0.02</text>
<line x1="394.5" y1="492.4" x2="401.5" y2="492.4" stroke="#222" stroke-width="1.1"/>
<text x="390.3" y="497.5" font-size="14.0" text-anchor="end" fill="#262626">0.03</text>
<rect x="394.5" y="468.6" width="240.6" height="137.9" fill="none" stroke="#222" stroke-width="1.4"/>
<line x1="133.2" y1="800.2" x2="133.2" y2="793.2" stroke="#222" stroke-width="1.1"/>
<text x="133.2" y="814.5" font-size="14.0" text-anchor="middle" fill="#262626">100</text>
<line x1="187.3" y1="800.2" x2="187.3" y2="793.2" stroke="#222" stroke-width="1.1"/>
<text x="187.3" y="814.5" font-size="14.0" text-anchor="middle" fill="#262626">105</text>
<line x1="241.4" y1="800.2" x2="241.4" y2="793.2" stroke="#222" stroke-width="1.1"/>
<text x="241.4" y="814.5" font-size="14.0" text-anchor="middle" fill="#262626">110</text>
<line x1="295.5" y1="800.2" x2="295.5" y2="793.2" stroke="#222" stroke-width="1.1"/>
<text x="295.5" y="814.5" font-size="14.0" text-anchor="middle" fill="#262626">115</text>
<line x1="106.2" y1="793.7" x2="113.2" y2="793.7" stroke="#222" stroke-width="1.1"/>
<text x="102" y="798.8" font-size="14.0" text-anchor="end" fill="#262626">0.00</text>
<line x1="106.2" y1="752.2" x2="113.2" y2="752.2" stroke="#222" stroke-width="1.1"/>
<text x="102" y="757.3" font-size="14.0" text-anchor="end" fill="#262626">0.01</text>
<line x1="106.2" y1="710.7" x2="113.2" y2="710.7" stroke="#222" stroke-width="1.1"/>
<text x="102" y="715.8" font-size="14.0" text-anchor="end" fill="#262626">0.02</text>
<line x1="106.2" y1="669.1" x2="113.2" y2="669.1" stroke="#222" stroke-width="1.1"/>
<text x="102" y="674.2" font-size="14.0" text-anchor="end" fill="#262626">0.03</text>
<rect x="106.2" y="662" width="240.2" height="138.2" fill="none" stroke="#222" stroke-width="1.4"/>
<line x1="427.7" y1="800.2" x2="427.7" y2="793.2" stroke="#222" stroke-width="1.1"/>
<text x="427.7" y="814.5" font-size="14.0" text-anchor="middle" fill="#262626">80</text>
<line x1="520.3" y1="800.2" x2="520.3" y2="793.2" stroke="#222" stroke-width="1.1"/>
<text x="520.3" y="814.5" font-size="14.0" text-anchor="middle" fill="#262626">90</text>
<line x1="612.8" y1="800.2" x2="612.8" y2="793.2" stroke="#222" stroke-width="1.1"/>
<text x="612.8" y="814.5" font-size="14.0" text-anchor="middle" fill="#262626">100</text>
<line x1="394.5" y1="793.7" x2="401.5" y2="793.7" stroke="#222" stroke-width="1.1"/>
<text x="390.3" y="798.8" font-size="14.0" text-anchor="end" fill="#262626">0.00</text>
<line x1="394.5" y1="756.7" x2="401.5" y2="756.7" stroke="#222" stroke-width="1.1"/>
<text x="390.3" y="761.8" font-size="14.0" text-anchor="end" fill="#262626">0.01</text>
<line x1="394.5" y1="719.8" x2="401.5" y2="719.8" stroke="#222" stroke-width="1.1"/>
<text x="390.3" y="724.9" font-size="14.0" text-anchor="end" fill="#262626">0.02</text>
<line x1="394.5" y1="682.5" x2="401.5" y2="682.5" stroke="#222" stroke-width="1.1"/>
<text x="390.3" y="687.6" font-size="14.0" text-anchor="end" fill="#262626">0.03</text>
<rect x="394.5" y="662" width="240.6" height="138.2" fill="none" stroke="#222" stroke-width="1.4"/></g>
<g id="legends"><rect x="276.6" y="282.5" width="61.9" height="52" rx="2.5" fill="#fff" fill-opacity="0.8" stroke="#ccc" stroke-width="1"/>
<line x1="283" y1="295.6" x2="291.4" y2="295.6" stroke="#159a3c" stroke-width="2.3" stroke-linecap="round"/>
<text x="304.9" y="301.5" class="dj" font-size="16.6" fill="#262626"><tspan font-style="italic">R</tspan><tspan font-size="11.7" dy="2.4">23</tspan></text>
<line x1="283" y1="318.9" x2="291.4" y2="318.9" stroke="#5b0bd3" stroke-width="2.3" stroke-linecap="round"/>
<text x="304.9" y="324.6" class="dj" font-size="16.6" fill="#262626"><tspan font-style="italic">R</tspan><tspan font-size="11.7" dy="2.4">25</tspan></text>
<rect x="270.5" y="476.3" width="68.1" height="53.1" rx="2.5" fill="#fff" fill-opacity="0.8" stroke="#ccc" stroke-width="1"/>
<line x1="276.9" y1="489.6" x2="285.3" y2="489.6" stroke="#159a3c" stroke-width="2.3" stroke-linecap="round"/>
<text x="298.8" y="496.1" class="dj" font-size="16.6" fill="#262626"><tspan font-style="italic">θ</tspan><tspan font-size="11.7" dy="2.4">123</tspan></text>
<line x1="276.9" y1="513.9" x2="285.3" y2="513.9" stroke="#5b0bd3" stroke-width="2.3" stroke-linecap="round"/>
<text x="298.8" y="519.7" class="dj" font-size="16.6" fill="#262626"><tspan font-style="italic">θ</tspan><tspan font-size="11.7" dy="2.4">125</tspan></text>
<rect x="114.5" y="670.4" width="78" height="52" rx="2.5" fill="#fff" fill-opacity="0.8" stroke="#ccc" stroke-width="1"/>
<line x1="120.9" y1="683.1" x2="129.3" y2="683.1" stroke="#159a3c" stroke-width="2.3" stroke-linecap="round"/>
<text x="142.8" y="689" class="dj" font-size="16.6" fill="#262626"><tspan>Θ</tspan><tspan font-size="11.7" dy="2.4">1234</tspan></text>
<line x1="120.9" y1="706.7" x2="129.3" y2="706.7" stroke="#5b0bd3" stroke-width="2.3" stroke-linecap="round"/>
<text x="142.8" y="712.4" class="dj" font-size="16.6" fill="#262626"><tspan>Θ</tspan><tspan font-size="11.7" dy="2.4">1256</tspan></text></g>
<g id="texts"><text x="2.3" y="16.8" font-size="19.1" text-anchor="start" font-weight="bold" fill="#000">(a)</text>
<text x="481.3" y="15.6" font-size="19.1" text-anchor="start" font-weight="bold" fill="#000">(b)</text>
<text x="2.6" y="278.1" font-size="19.1" text-anchor="start" font-weight="bold" fill="#000">(c)</text>
<text x="2.6" y="482.7" font-size="19.1" text-anchor="start" font-weight="bold" fill="#000">(d)</text>
<text x="2.6" y="669.2" font-size="19.1" text-anchor="start" font-weight="bold" fill="#000">(e)</text>
<text x="118" y="24.2" font-size="14.3" text-anchor="middle" fill="#111">IgG1</text>
<text x="344.2" y="24.2" font-size="14.3" text-anchor="middle" fill="#111">IgG4</text>
<text x="511.5" y="15.5" font-size="15" text-anchor="start" fill="#111">6 bead CG model</text>
<text x="39.2" y="152.7" font-size="11" text-anchor="start" fill="#111">Fab1</text>
<text x="95.6" y="176.4" font-size="11" text-anchor="start" fill="#111">Fc</text>
<text x="186" y="150.8" font-size="11" text-anchor="start" fill="#111">Fab2</text>
<rect x="143" y="191.6" width="189.4" height="17.9" fill="#e6e6e6"/>
<rect x="150" y="196" width="9.5" height="9" fill="#f59a9a"/>
<rect x="212" y="196" width="8.7" height="9" fill="#5f6aa6"/>
<rect x="272.7" y="196" width="10" height="9" fill="#a5f5a5"/>
<text x="164.7" y="204.5" font-size="11.3" text-anchor="start" fill="#111">0 ns</text>
<text x="227.3" y="204.5" font-size="11.3" text-anchor="start" fill="#111">500 ns</text>
<text x="287.3" y="204.5" font-size="11.3" text-anchor="start" fill="#111">1000 ns</text>
<text x="226.2" y="267.2" font-size="13.9" text-anchor="middle" fill="#262626">IgG1</text>
<text x="514.9" y="267.2" font-size="13.9" text-anchor="middle" fill="#262626">IgG4</text>
<text x="370.5" y="447.7" font-size="16.7" text-anchor="middle" fill="#262626">Fc-Fab distance (nm)</text>
<text x="370.8" y="641.1" font-size="16.75" text-anchor="middle" fill="#262626">Fc-Fab angle (degree)</text>
<text x="370.8" y="833.7" font-size="16.7" text-anchor="middle" fill="#262626">Fc-Fab dihedral angle (degree)</text>
<text transform="translate(66.3 343.3) rotate(-90)" font-size="16.6" text-anchor="middle" fill="#262626">probability density</text>
<text transform="translate(66.3 537.3) rotate(-90)" font-size="16.6" text-anchor="middle" fill="#262626">probability density</text>
<text transform="translate(66.3 731) rotate(-90)" font-size="16.6" text-anchor="middle" fill="#262626">probability density</text></g>
</svg>
</body></html>
